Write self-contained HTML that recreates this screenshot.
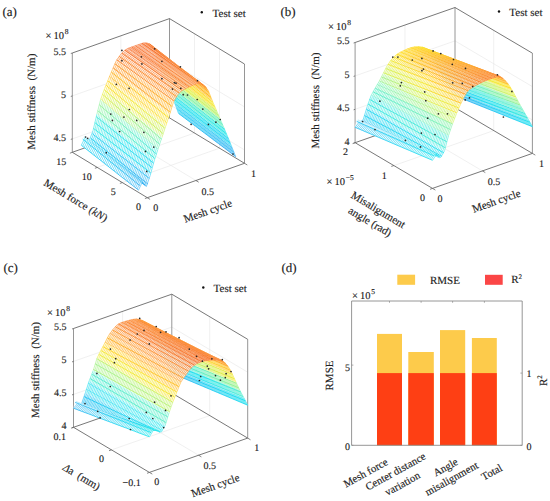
<!DOCTYPE html>
<html><head><meta charset="utf-8"><style>
html,body{margin:0;padding:0;background:#fff;width:550px;height:501px;overflow:hidden}
text{font-family:'Liberation Serif',serif;text-rendering:geometricPrecision;stroke:#262626;stroke-width:0.15px}
</style></head><body>
<svg width="550" height="501" viewBox="0 0 550 501" style="display:block;font-family:'Liberation Serif',serif;fill:#222"><rect width="550" height="501" fill="#fff"/><line x1="195.9" y1="180.5" x2="120.9" y2="135.1" stroke="#e6e6e6" stroke-width="0.6"/>
<line x1="122.3" y1="182.6" x2="219.5" y2="148.2" stroke="#e6e6e6" stroke-width="0.6"/>
<line x1="97.3" y1="167.4" x2="194.5" y2="133" stroke="#e6e6e6" stroke-width="0.6"/>
<line x1="120.9" y1="135.1" x2="120.9" y2="35.8" stroke="#e6e6e6" stroke-width="0.6"/>
<line x1="72.3" y1="138.9" x2="169.5" y2="104.5" stroke="#e6e6e6" stroke-width="0.6"/>
<line x1="244.5" y1="149.9" x2="169.5" y2="104.5" stroke="#e6e6e6" stroke-width="0.6"/>
<line x1="72.3" y1="95.9" x2="169.5" y2="61.5" stroke="#e6e6e6" stroke-width="0.6"/>
<line x1="244.5" y1="106.9" x2="169.5" y2="61.5" stroke="#e6e6e6" stroke-width="0.6"/>
<line x1="219.5" y1="148.2" x2="219.5" y2="48.9" stroke="#e6e6e6" stroke-width="0.6"/>
<line x1="194.5" y1="133" x2="194.5" y2="33.7" stroke="#e6e6e6" stroke-width="0.6"/>
<line x1="72.3" y1="152.3" x2="169.5" y2="117.9" stroke="#555" stroke-width="0.8"/>
<line x1="169.5" y1="117.9" x2="244.5" y2="163.3" stroke="#555" stroke-width="0.8"/>
<line x1="72.3" y1="152.3" x2="72.3" y2="53" stroke="#8a8a8a" stroke-width="0.9"/>
<line x1="169.5" y1="117.9" x2="169.5" y2="18.6" stroke="#8a8a8a" stroke-width="0.9"/>
<line x1="244.5" y1="163.3" x2="244.5" y2="64" stroke="#8a8a8a" stroke-width="0.9"/>
<line x1="72.3" y1="53" x2="169.5" y2="18.6" stroke="#555" stroke-width="0.8"/>
<line x1="169.5" y1="18.6" x2="244.5" y2="64" stroke="#555" stroke-width="0.8"/>
<line x1="147.3" y1="197.7" x2="244.5" y2="163.3" stroke="#555" stroke-width="0.8"/>
<line x1="147.3" y1="197.7" x2="72.3" y2="152.3" stroke="#555" stroke-width="0.8"/>
<line x1="147.3" y1="197.7" x2="150.1" y2="199.4" stroke="#555" stroke-width="0.7"/>
<line x1="195.9" y1="180.5" x2="198.7" y2="182.2" stroke="#555" stroke-width="0.7"/>
<line x1="244.5" y1="163.3" x2="247.3" y2="165" stroke="#555" stroke-width="0.7"/>
<line x1="147.3" y1="197.7" x2="144.9" y2="198.6" stroke="#555" stroke-width="0.7"/>
<line x1="122.3" y1="182.6" x2="119.9" y2="183.4" stroke="#555" stroke-width="0.7"/>
<line x1="97.3" y1="167.4" x2="94.9" y2="168.3" stroke="#555" stroke-width="0.7"/>
<line x1="72.3" y1="152.3" x2="69.9" y2="153.2" stroke="#555" stroke-width="0.7"/>
<line x1="72.3" y1="138.9" x2="70.8" y2="139.4" stroke="#555" stroke-width="0.7"/>
<line x1="72.3" y1="95.9" x2="70.8" y2="96.5" stroke="#555" stroke-width="0.7"/>
<line x1="72.3" y1="53" x2="70.8" y2="53.5" stroke="#555" stroke-width="0.7"/>
<defs><linearGradient id="g1" gradientUnits="userSpaceOnUse" x1="235.2" y1="155.4" x2="178" y2="112"><stop offset="0" stop-color="#deeffc"/><stop offset="0.5" stop-color="#dbf2fd"/><stop offset="1" stop-color="#d9f5fd"/></linearGradient><linearGradient id="h1" gradientUnits="userSpaceOnUse" x1="235.2" y1="155.4" x2="178" y2="112"><stop offset="0" stop-color="#2397ef"/><stop offset="0.5" stop-color="#13aaf0"/><stop offset="1" stop-color="#03bcf2"/></linearGradient><linearGradient id="g2" gradientUnits="userSpaceOnUse" x1="234.2" y1="152.9" x2="177" y2="109.3"><stop offset="0" stop-color="#dbf1fd"/><stop offset="0.5" stop-color="#d9f4fd"/><stop offset="1" stop-color="#d8f6fd"/></linearGradient><linearGradient id="h2" gradientUnits="userSpaceOnUse" x1="234.2" y1="152.9" x2="177" y2="109.3"><stop offset="0" stop-color="#19a3f0"/><stop offset="0.5" stop-color="#08b6f1"/><stop offset="1" stop-color="#00c5f1"/></linearGradient><linearGradient id="g3" gradientUnits="userSpaceOnUse" x1="233.3" y1="150.5" x2="176.1" y2="106.7"><stop offset="0" stop-color="#d9f2fd"/><stop offset="0.5" stop-color="#d7f5fd"/><stop offset="1" stop-color="#d7f7fd"/></linearGradient><linearGradient id="g4" gradientUnits="userSpaceOnUse" x1="232.3" y1="148.1" x2="175.1" y2="104"><stop offset="0" stop-color="#d7f4fd"/><stop offset="0.5" stop-color="#d6f6fd"/><stop offset="1" stop-color="#d6f8fc"/></linearGradient><linearGradient id="h4" gradientUnits="userSpaceOnUse" x1="233.8" y1="151.7" x2="176.6" y2="108"><stop offset="0" stop-color="#14a9f0"/><stop offset="0.5" stop-color="#03bcf2"/><stop offset="1" stop-color="#00c8f0"/></linearGradient><linearGradient id="g5" gradientUnits="userSpaceOnUse" x1="231.3" y1="145.7" x2="174.1" y2="101.4"><stop offset="0" stop-color="#d6f5fd"/><stop offset="0.5" stop-color="#d6f7fc"/><stop offset="1" stop-color="#d6f9fc"/></linearGradient><linearGradient id="g6" gradientUnits="userSpaceOnUse" x1="230.4" y1="143.3" x2="173.2" y2="98.8"><stop offset="0" stop-color="#d5f6fd"/><stop offset="0.5" stop-color="#d5f8fc"/><stop offset="1" stop-color="#d5fafc"/></linearGradient><linearGradient id="h6" gradientUnits="userSpaceOnUse" x1="230.4" y1="143.3" x2="173.2" y2="98.8"><stop offset="0" stop-color="#00caf0"/><stop offset="0.5" stop-color="#00d5ee"/><stop offset="1" stop-color="#00e0eb"/></linearGradient><linearGradient id="g7" gradientUnits="userSpaceOnUse" x1="229.4" y1="140.9" x2="172.2" y2="96.3"><stop offset="0" stop-color="#d4f7fc"/><stop offset="0.5" stop-color="#d4f9fc"/><stop offset="1" stop-color="#d7fafa"/></linearGradient><linearGradient id="g8" gradientUnits="userSpaceOnUse" x1="228.4" y1="138.5" x2="171.2" y2="93.8"><stop offset="0" stop-color="#d3f8fc"/><stop offset="0.5" stop-color="#d3fafb"/><stop offset="1" stop-color="#d9fbf8"/></linearGradient><linearGradient id="h8" gradientUnits="userSpaceOnUse" x1="229.9" y1="142.1" x2="172.7" y2="97.6"><stop offset="0" stop-color="#00cdef"/><stop offset="0.5" stop-color="#00d8ed"/><stop offset="1" stop-color="#05e2e7"/></linearGradient><linearGradient id="g9" gradientUnits="userSpaceOnUse" x1="227.4" y1="136.1" x2="170.2" y2="91.3"><stop offset="0" stop-color="#d3f9fc"/><stop offset="0.5" stop-color="#d6faf9"/><stop offset="1" stop-color="#dcfbf6"/></linearGradient><linearGradient id="g10" gradientUnits="userSpaceOnUse" x1="226.5" y1="133.8" x2="169.3" y2="88.8"><stop offset="0" stop-color="#d2fafb"/><stop offset="0.5" stop-color="#d8fbf7"/><stop offset="1" stop-color="#defcf3"/></linearGradient><linearGradient id="h10" gradientUnits="userSpaceOnUse" x1="226.5" y1="133.8" x2="169.3" y2="88.8"><stop offset="0" stop-color="#03e1e9"/><stop offset="0.5" stop-color="#24e6d4"/><stop offset="1" stop-color="#45ebbe"/></linearGradient><linearGradient id="g11" gradientUnits="userSpaceOnUse" x1="225.5" y1="131.5" x2="168.3" y2="86.4"><stop offset="0" stop-color="#d4faf9"/><stop offset="0.5" stop-color="#dbfbf5"/><stop offset="1" stop-color="#e1fcf1"/></linearGradient><linearGradient id="g12" gradientUnits="userSpaceOnUse" x1="224.5" y1="129.2" x2="167.3" y2="84.1"><stop offset="0" stop-color="#d7faf7"/><stop offset="0.5" stop-color="#ddfbf3"/><stop offset="1" stop-color="#e4fcee"/></linearGradient><linearGradient id="h12" gradientUnits="userSpaceOnUse" x1="226" y1="132.7" x2="168.8" y2="87.7"><stop offset="0" stop-color="#0be3e4"/><stop offset="0.5" stop-color="#2de8ce"/><stop offset="1" stop-color="#4eedb8"/></linearGradient><linearGradient id="g13" gradientUnits="userSpaceOnUse" x1="223.6" y1="126.9" x2="166.3" y2="81.7"><stop offset="0" stop-color="#d9fbf5"/><stop offset="0.5" stop-color="#e0fcf0"/><stop offset="1" stop-color="#e8fce8"/></linearGradient><linearGradient id="g14" gradientUnits="userSpaceOnUse" x1="222.6" y1="124.6" x2="165.4" y2="79.4"><stop offset="0" stop-color="#dcfbf2"/><stop offset="0.5" stop-color="#e3fced"/><stop offset="1" stop-color="#edfce2"/></linearGradient><linearGradient id="h14" gradientUnits="userSpaceOnUse" x1="222.6" y1="124.6" x2="165.4" y2="79.4"><stop offset="0" stop-color="#47ecbd"/><stop offset="0.5" stop-color="#6cf0a2"/><stop offset="1" stop-color="#a1f068"/></linearGradient><linearGradient id="g15" gradientUnits="userSpaceOnUse" x1="221.6" y1="122.3" x2="164.4" y2="77.2"><stop offset="0" stop-color="#dffcf0"/><stop offset="0.5" stop-color="#e8fce7"/><stop offset="1" stop-color="#f2fcdc"/></linearGradient><linearGradient id="g16" gradientUnits="userSpaceOnUse" x1="220.6" y1="120" x2="163.4" y2="74.9"><stop offset="0" stop-color="#e2fced"/><stop offset="0.5" stop-color="#ecfce2"/><stop offset="1" stop-color="#f7fcd6"/></linearGradient><linearGradient id="h16" gradientUnits="userSpaceOnUse" x1="222.1" y1="123.5" x2="164.9" y2="78.3"><stop offset="0" stop-color="#4fedb7"/><stop offset="0.5" stop-color="#79f094"/><stop offset="1" stop-color="#aef05a"/></linearGradient><linearGradient id="g17" gradientUnits="userSpaceOnUse" x1="219.7" y1="117.8" x2="162.5" y2="72.7"><stop offset="0" stop-color="#e7fce7"/><stop offset="0.5" stop-color="#f1fcdc"/><stop offset="1" stop-color="#fafbd3"/></linearGradient><linearGradient id="g18" gradientUnits="userSpaceOnUse" x1="218.7" y1="115.5" x2="161.5" y2="70.5"><stop offset="0" stop-color="#ecfce1"/><stop offset="0.5" stop-color="#f7fcd6"/><stop offset="1" stop-color="#fbfad1"/></linearGradient><linearGradient id="h18" gradientUnits="userSpaceOnUse" x1="218.7" y1="115.5" x2="161.5" y2="70.5"><stop offset="0" stop-color="#a0f069"/><stop offset="0.5" stop-color="#d4f030"/><stop offset="1" stop-color="#ede614"/></linearGradient><linearGradient id="g19" gradientUnits="userSpaceOnUse" x1="217.7" y1="113.3" x2="160.5" y2="68.2"><stop offset="0" stop-color="#f1fcdc"/><stop offset="0.5" stop-color="#f9fbd3"/><stop offset="1" stop-color="#fdf9ce"/></linearGradient><linearGradient id="g20" gradientUnits="userSpaceOnUse" x1="216.7" y1="111.1" x2="159.5" y2="66"><stop offset="0" stop-color="#f6fcd6"/><stop offset="0.5" stop-color="#fbfad0"/><stop offset="1" stop-color="#fff8cc"/></linearGradient><linearGradient id="h20" gradientUnits="userSpaceOnUse" x1="218.2" y1="114.5" x2="161" y2="69.3"><stop offset="0" stop-color="#acf05c"/><stop offset="0.5" stop-color="#deef26"/><stop offset="1" stop-color="#f2e30f"/></linearGradient><linearGradient id="g21" gradientUnits="userSpaceOnUse" x1="215.8" y1="108.9" x2="158.6" y2="63.6"><stop offset="0" stop-color="#fafcd5"/><stop offset="0.5" stop-color="#fdf9d1"/><stop offset="1" stop-color="#fff5cf"/></linearGradient><linearGradient id="g22" gradientUnits="userSpaceOnUse" x1="214.8" y1="106.7" x2="157.6" y2="61.1"><stop offset="0" stop-color="#fcfbd7"/><stop offset="0.5" stop-color="#fff8d3"/><stop offset="1" stop-color="#fff3d3"/></linearGradient><linearGradient id="h22" gradientUnits="userSpaceOnUse" x1="214.8" y1="106.7" x2="157.6" y2="61.1"><stop offset="0" stop-color="#ece716"/><stop offset="0.5" stop-color="#ffd900"/><stop offset="1" stop-color="#ffbb00"/></linearGradient><linearGradient id="g23" gradientUnits="userSpaceOnUse" x1="213.8" y1="104.5" x2="156.6" y2="58.3"><stop offset="0" stop-color="#fefad7"/><stop offset="0.5" stop-color="#fff6d6"/><stop offset="1" stop-color="#fff1d6"/></linearGradient><linearGradient id="g24" gradientUnits="userSpaceOnUse" x1="212.9" y1="102.2" x2="155.7" y2="55.5"><stop offset="0" stop-color="#fff9d8"/><stop offset="0.5" stop-color="#fff4d8"/><stop offset="1" stop-color="#fff0d8"/></linearGradient><linearGradient id="h24" gradientUnits="userSpaceOnUse" x1="214.3" y1="105.5" x2="157.1" y2="59.4"><stop offset="0" stop-color="#f1e410"/><stop offset="0.5" stop-color="#ffd100"/><stop offset="1" stop-color="#ffb200"/></linearGradient><linearGradient id="g25" gradientUnits="userSpaceOnUse" x1="211.9" y1="99.7" x2="154.7" y2="52.7"><stop offset="0" stop-color="#fff7d8"/><stop offset="0.5" stop-color="#fff2d8"/><stop offset="1" stop-color="#ffeed9"/></linearGradient><linearGradient id="g26" gradientUnits="userSpaceOnUse" x1="210.9" y1="97.2" x2="153.7" y2="50.1"><stop offset="0" stop-color="#fff4d4"/><stop offset="0.5" stop-color="#ffeed5"/><stop offset="1" stop-color="#ffead6"/></linearGradient><linearGradient id="h26" gradientUnits="userSpaceOnUse" x1="210.9" y1="97.2" x2="153.7" y2="50.1"><stop offset="0" stop-color="#ffbb00"/><stop offset="0.5" stop-color="#ff9b01"/><stop offset="1" stop-color="#fd8308"/></linearGradient><linearGradient id="g27" gradientUnits="userSpaceOnUse" x1="209.9" y1="94.7" x2="152.7" y2="47.8"><stop offset="0" stop-color="#ffefcd"/><stop offset="0.5" stop-color="#ffe9ce"/><stop offset="1" stop-color="#fee5cf"/></linearGradient><linearGradient id="g28" gradientUnits="userSpaceOnUse" x1="209" y1="92.4" x2="151.8" y2="45.9"><stop offset="0" stop-color="#ffe6bf"/><stop offset="0.5" stop-color="#fee1c0"/><stop offset="1" stop-color="#fedbc2"/></linearGradient><linearGradient id="h28" gradientUnits="userSpaceOnUse" x1="210.4" y1="96.1" x2="153.2" y2="49.6"><stop offset="0" stop-color="#ffb400"/><stop offset="0.5" stop-color="#fe9703"/><stop offset="1" stop-color="#fc7f09"/></linearGradient><linearGradient id="g29" gradientUnits="userSpaceOnUse" x1="208" y1="90.2" x2="150.8" y2="44.6"><stop offset="0" stop-color="#ffd7a0"/><stop offset="0.5" stop-color="#fecfa2"/><stop offset="1" stop-color="#fcc7a3"/></linearGradient><linearGradient id="g30" gradientUnits="userSpaceOnUse" x1="207" y1="88.5" x2="149.8" y2="44"><stop offset="0" stop-color="#fed29e"/><stop offset="0.5" stop-color="#fecba0"/><stop offset="1" stop-color="#fcc4a1"/></linearGradient><linearGradient id="g31" gradientUnits="userSpaceOnUse" x1="206.1" y1="87.2" x2="148.9" y2="43.6"><stop offset="0" stop-color="#fed09e"/><stop offset="0.5" stop-color="#fdc9a0"/><stop offset="1" stop-color="#fcc3a1"/></linearGradient><linearGradient id="h31" gradientUnits="userSpaceOnUse" x1="206.1" y1="87.2" x2="148.9" y2="43.6"><stop offset="0" stop-color="#fd8607"/><stop offset="0.5" stop-color="#fa750b"/><stop offset="1" stop-color="#f7640e"/></linearGradient><linearGradient id="g32" gradientUnits="userSpaceOnUse" x1="205.1" y1="86.3" x2="147.9" y2="43.3"><stop offset="0" stop-color="#fece9f"/><stop offset="0.5" stop-color="#fdc8a0"/><stop offset="1" stop-color="#fcc2a1"/></linearGradient><linearGradient id="h32" gradientUnits="userSpaceOnUse" x1="206.5" y1="88.6" x2="149.3" y2="44.2"><stop offset="0" stop-color="#fd8b06"/><stop offset="0.5" stop-color="#fb780b"/><stop offset="1" stop-color="#f7660d"/></linearGradient><linearGradient id="g33" gradientUnits="userSpaceOnUse" x1="204.1" y1="85.6" x2="146.9" y2="43.1"><stop offset="0" stop-color="#fecc9f"/><stop offset="0.5" stop-color="#fdc7a0"/><stop offset="1" stop-color="#fcc1a1"/></linearGradient><linearGradient id="g34" gradientUnits="userSpaceOnUse" x1="203.1" y1="84.9" x2="145.9" y2="43"><stop offset="0" stop-color="#fecba0"/><stop offset="0.5" stop-color="#fcc6a0"/><stop offset="1" stop-color="#fbc0a1"/></linearGradient><linearGradient id="h34" gradientUnits="userSpaceOnUse" x1="203.1" y1="84.9" x2="145.9" y2="43"><stop offset="0" stop-color="#fb7a0a"/><stop offset="0.5" stop-color="#f96c0c"/><stop offset="1" stop-color="#f65e0e"/></linearGradient><linearGradient id="g35" gradientUnits="userSpaceOnUse" x1="202.2" y1="84.3" x2="145" y2="42.9"><stop offset="0" stop-color="#fdcaa0"/><stop offset="0.5" stop-color="#fcc5a1"/><stop offset="1" stop-color="#fbbfa1"/></linearGradient><linearGradient id="g36" gradientUnits="userSpaceOnUse" x1="201.2" y1="83.9" x2="144" y2="43"><stop offset="0" stop-color="#fdc8a0"/><stop offset="0.5" stop-color="#fcc4a1"/><stop offset="1" stop-color="#fbbfa1"/></linearGradient><linearGradient id="h36" gradientUnits="userSpaceOnUse" x1="202.7" y1="84.8" x2="145.5" y2="43.1"><stop offset="0" stop-color="#fb780b"/><stop offset="0.5" stop-color="#f86b0d"/><stop offset="1" stop-color="#f65d0f"/></linearGradient><linearGradient id="g37" gradientUnits="userSpaceOnUse" x1="200.2" y1="83.5" x2="143" y2="43.1"><stop offset="0" stop-color="#fdc7a0"/><stop offset="0.5" stop-color="#fcc3a1"/><stop offset="1" stop-color="#fbbfa1"/></linearGradient><linearGradient id="g38" gradientUnits="userSpaceOnUse" x1="199.2" y1="83.3" x2="142.1" y2="43.4"><stop offset="0" stop-color="#fdcdac"/><stop offset="0.5" stop-color="#fccaac"/><stop offset="1" stop-color="#fcc6ad"/></linearGradient><linearGradient id="h38" gradientUnits="userSpaceOnUse" x1="199.2" y1="83.3" x2="142.1" y2="43.4"><stop offset="0" stop-color="#f96e0c"/><stop offset="0.5" stop-color="#f7640e"/><stop offset="1" stop-color="#f55a0f"/></linearGradient><linearGradient id="g39" gradientUnits="userSpaceOnUse" x1="198.3" y1="83.3" x2="141.1" y2="43.7"><stop offset="0" stop-color="#fdd1b3"/><stop offset="0.5" stop-color="#fcceb3"/><stop offset="1" stop-color="#fccbb4"/></linearGradient><linearGradient id="g40" gradientUnits="userSpaceOnUse" x1="197.3" y1="83.5" x2="140.1" y2="44.1"><stop offset="0" stop-color="#fdd5b9"/><stop offset="0.5" stop-color="#fdd2ba"/><stop offset="1" stop-color="#fccfba"/></linearGradient><linearGradient id="h40" gradientUnits="userSpaceOnUse" x1="198.8" y1="83.6" x2="141.6" y2="43.6"><stop offset="0" stop-color="#f96e0c"/><stop offset="0.5" stop-color="#f7640e"/><stop offset="1" stop-color="#f55a0f"/></linearGradient><linearGradient id="g41" gradientUnits="userSpaceOnUse" x1="196.3" y1="83.8" x2="139.1" y2="44.4"><stop offset="0" stop-color="#fdd6bb"/><stop offset="0.5" stop-color="#fdd4bc"/><stop offset="1" stop-color="#fcd1bc"/></linearGradient><linearGradient id="h41" gradientUnits="userSpaceOnUse" x1="196.3" y1="83.8" x2="139.1" y2="44.4"><stop offset="0" stop-color="#f96c0c"/><stop offset="0.5" stop-color="#f7630e"/><stop offset="1" stop-color="#f55a0f"/></linearGradient><linearGradient id="g42" gradientUnits="userSpaceOnUse" x1="195.4" y1="84.1" x2="138.2" y2="44.8"><stop offset="0" stop-color="#fdd6bc"/><stop offset="0.5" stop-color="#fdd4bc"/><stop offset="1" stop-color="#fcd1bd"/></linearGradient><linearGradient id="g43" gradientUnits="userSpaceOnUse" x1="194.4" y1="84.5" x2="137.2" y2="45.1"><stop offset="0" stop-color="#fdd7bc"/><stop offset="0.5" stop-color="#fdd4bd"/><stop offset="1" stop-color="#fcd2bd"/></linearGradient><linearGradient id="g44" gradientUnits="userSpaceOnUse" x1="193.4" y1="84.9" x2="136.2" y2="45.5"><stop offset="0" stop-color="#fdd7bd"/><stop offset="0.5" stop-color="#fdd4bd"/><stop offset="1" stop-color="#fcd2bd"/></linearGradient><linearGradient id="h44" gradientUnits="userSpaceOnUse" x1="194.9" y1="84.4" x2="137.7" y2="44.9"><stop offset="0" stop-color="#f96c0c"/><stop offset="0.5" stop-color="#f7630e"/><stop offset="1" stop-color="#f55a0f"/></linearGradient><linearGradient id="g45" gradientUnits="userSpaceOnUse" x1="192.4" y1="85.3" x2="135.2" y2="45.8"><stop offset="0" stop-color="#fdd7bd"/><stop offset="0.5" stop-color="#fdd5be"/><stop offset="1" stop-color="#fcd2be"/></linearGradient><linearGradient id="h45" gradientUnits="userSpaceOnUse" x1="192.4" y1="85.3" x2="135.2" y2="45.8"><stop offset="0" stop-color="#f96d0c"/><stop offset="0.5" stop-color="#f7630e"/><stop offset="1" stop-color="#f55a0f"/></linearGradient><linearGradient id="g46" gradientUnits="userSpaceOnUse" x1="191.5" y1="85.7" x2="134.3" y2="46.1"><stop offset="0" stop-color="#fdd8be"/><stop offset="0.5" stop-color="#fdd5be"/><stop offset="1" stop-color="#fcd3be"/></linearGradient><linearGradient id="g47" gradientUnits="userSpaceOnUse" x1="190.5" y1="86.2" x2="133.3" y2="46.5"><stop offset="0" stop-color="#fdd8be"/><stop offset="0.5" stop-color="#fdd5be"/><stop offset="1" stop-color="#fcd3bf"/></linearGradient><linearGradient id="g48" gradientUnits="userSpaceOnUse" x1="189.5" y1="86.6" x2="132.3" y2="46.8"><stop offset="0" stop-color="#fdd8be"/><stop offset="0.5" stop-color="#fdd6bf"/><stop offset="1" stop-color="#fcd3bf"/></linearGradient><linearGradient id="h48" gradientUnits="userSpaceOnUse" x1="191" y1="86" x2="133.8" y2="46.3"><stop offset="0" stop-color="#f96d0c"/><stop offset="0.5" stop-color="#f7640e"/><stop offset="1" stop-color="#f55a0f"/></linearGradient><linearGradient id="g49" gradientUnits="userSpaceOnUse" x1="188.6" y1="87.1" x2="131.4" y2="47.2"><stop offset="0" stop-color="#fdd9bf"/><stop offset="0.5" stop-color="#fdd6bf"/><stop offset="1" stop-color="#fcd3c0"/></linearGradient><linearGradient id="h49" gradientUnits="userSpaceOnUse" x1="188.6" y1="87.1" x2="131.4" y2="47.2"><stop offset="0" stop-color="#f96e0c"/><stop offset="0.5" stop-color="#f7640e"/><stop offset="1" stop-color="#f55a0f"/></linearGradient><linearGradient id="g50" gradientUnits="userSpaceOnUse" x1="187.6" y1="87.5" x2="130.4" y2="47.5"><stop offset="0" stop-color="#fdd9bf"/><stop offset="0.5" stop-color="#fdd6c0"/><stop offset="1" stop-color="#fcd4c0"/></linearGradient><linearGradient id="g51" gradientUnits="userSpaceOnUse" x1="186.6" y1="88" x2="129.4" y2="47.9"><stop offset="0" stop-color="#fddac0"/><stop offset="0.5" stop-color="#fdd7c0"/><stop offset="1" stop-color="#fcd4c1"/></linearGradient><linearGradient id="g52" gradientUnits="userSpaceOnUse" x1="185.6" y1="88.5" x2="128.4" y2="48.2"><stop offset="0" stop-color="#fedac0"/><stop offset="0.5" stop-color="#fdd7c1"/><stop offset="1" stop-color="#fcd4c1"/></linearGradient><linearGradient id="h52" gradientUnits="userSpaceOnUse" x1="187.1" y1="87.8" x2="129.9" y2="47.7"><stop offset="0" stop-color="#f96f0c"/><stop offset="0.5" stop-color="#f7640e"/><stop offset="1" stop-color="#f55a0f"/></linearGradient><linearGradient id="g53" gradientUnits="userSpaceOnUse" x1="184.7" y1="89" x2="127.5" y2="48.6"><stop offset="0" stop-color="#fedbc1"/><stop offset="0.5" stop-color="#fdd8c2"/><stop offset="1" stop-color="#fcd5c2"/></linearGradient><linearGradient id="g54" gradientUnits="userSpaceOnUse" x1="183.7" y1="89.5" x2="126.5" y2="49"><stop offset="0" stop-color="#feddc5"/><stop offset="0.5" stop-color="#fddbc6"/><stop offset="1" stop-color="#fdd8c6"/></linearGradient><linearGradient id="g55" gradientUnits="userSpaceOnUse" x1="182.7" y1="90.1" x2="125.5" y2="49.6"><stop offset="0" stop-color="#fee0c9"/><stop offset="0.5" stop-color="#fdddc9"/><stop offset="1" stop-color="#fddbca"/></linearGradient><linearGradient id="g56" gradientUnits="userSpaceOnUse" x1="181.8" y1="90.6" x2="124.6" y2="50.4"><stop offset="0" stop-color="#fee2cc"/><stop offset="0.5" stop-color="#fddfcc"/><stop offset="1" stop-color="#fdddcd"/></linearGradient><linearGradient id="h56" gradientUnits="userSpaceOnUse" x1="183.2" y1="89.8" x2="126" y2="49.6"><stop offset="0" stop-color="#fa710c"/><stop offset="0.5" stop-color="#f7660d"/><stop offset="1" stop-color="#f55b0f"/></linearGradient><linearGradient id="g57" gradientUnits="userSpaceOnUse" x1="180.8" y1="91.3" x2="123.6" y2="51.3"><stop offset="0" stop-color="#fee5d1"/><stop offset="0.5" stop-color="#fee3d1"/><stop offset="1" stop-color="#fde1d2"/></linearGradient><linearGradient id="g58" gradientUnits="userSpaceOnUse" x1="179.8" y1="92.2" x2="122.6" y2="52.3"><stop offset="0" stop-color="#fee8d6"/><stop offset="0.5" stop-color="#fee6d6"/><stop offset="1" stop-color="#fee4d6"/></linearGradient><linearGradient id="g59" gradientUnits="userSpaceOnUse" x1="178.8" y1="93.2" x2="121.6" y2="53.4"><stop offset="0" stop-color="#feead9"/><stop offset="0.5" stop-color="#fee9d9"/><stop offset="1" stop-color="#fee7d9"/></linearGradient><linearGradient id="h59" gradientUnits="userSpaceOnUse" x1="178.8" y1="93.2" x2="121.6" y2="53.4"><stop offset="0" stop-color="#fb780b"/><stop offset="0.5" stop-color="#f96e0c"/><stop offset="1" stop-color="#f7650d"/></linearGradient><linearGradient id="g60" gradientUnits="userSpaceOnUse" x1="177.9" y1="94.4" x2="120.7" y2="54.5"><stop offset="0" stop-color="#ffecdc"/><stop offset="0.5" stop-color="#feebdc"/><stop offset="1" stop-color="#fee9dc"/></linearGradient><linearGradient id="h60" gradientUnits="userSpaceOnUse" x1="179.3" y1="93" x2="122.1" y2="53"><stop offset="0" stop-color="#fb780b"/><stop offset="0.5" stop-color="#f96d0c"/><stop offset="1" stop-color="#f7630e"/></linearGradient><linearGradient id="g61" gradientUnits="userSpaceOnUse" x1="176.9" y1="95.8" x2="119.7" y2="55.8"><stop offset="0" stop-color="#ffeede"/><stop offset="0.5" stop-color="#feecde"/><stop offset="1" stop-color="#feebde"/></linearGradient><linearGradient id="g62" gradientUnits="userSpaceOnUse" x1="175.9" y1="97.2" x2="118.7" y2="57"><stop offset="0" stop-color="#ffefdf"/><stop offset="0.5" stop-color="#ffeedf"/><stop offset="1" stop-color="#feece0"/></linearGradient><linearGradient id="h62" gradientUnits="userSpaceOnUse" x1="175.9" y1="97.2" x2="118.7" y2="57"><stop offset="0" stop-color="#fd8408"/><stop offset="0.5" stop-color="#fb790b"/><stop offset="1" stop-color="#f96f0c"/></linearGradient><linearGradient id="g63" gradientUnits="userSpaceOnUse" x1="174.9" y1="98.8" x2="117.7" y2="58.3"><stop offset="0" stop-color="#fff1e1"/><stop offset="0.5" stop-color="#fff0e2"/><stop offset="1" stop-color="#feeee2"/></linearGradient><linearGradient id="g64" gradientUnits="userSpaceOnUse" x1="174" y1="100.8" x2="116.8" y2="59.9"><stop offset="0" stop-color="#fff5e9"/><stop offset="0.5" stop-color="#fff4ea"/><stop offset="1" stop-color="#fff3ea"/></linearGradient><linearGradient id="h64" gradientUnits="userSpaceOnUse" x1="175.4" y1="98.5" x2="118.2" y2="57.9"><stop offset="0" stop-color="#fd8707"/><stop offset="0.5" stop-color="#fc7c0a"/><stop offset="1" stop-color="#fa710c"/></linearGradient><linearGradient id="g65" gradientUnits="userSpaceOnUse" x1="173" y1="103.4" x2="115.8" y2="61.7"><stop offset="0" stop-color="#fff9ef"/><stop offset="0.5" stop-color="#fff8f0"/><stop offset="1" stop-color="#fff7f0"/></linearGradient><linearGradient id="g66" gradientUnits="userSpaceOnUse" x1="172" y1="106.4" x2="114.8" y2="63.8"><stop offset="0" stop-color="#fffbf3"/><stop offset="0.5" stop-color="#fffaf3"/><stop offset="1" stop-color="#fff9f3"/></linearGradient><linearGradient id="h66" gradientUnits="userSpaceOnUse" x1="172" y1="106.4" x2="114.8" y2="63.8"><stop offset="0" stop-color="#ffa200"/><stop offset="0.5" stop-color="#fe9204"/><stop offset="1" stop-color="#fd8308"/></linearGradient><linearGradient id="g67" gradientUnits="userSpaceOnUse" x1="171.1" y1="109.6" x2="113.9" y2="66"><stop offset="0" stop-color="#fffcf4"/><stop offset="0.5" stop-color="#fffbf4"/><stop offset="1" stop-color="#fffaf5"/></linearGradient><linearGradient id="g68" gradientUnits="userSpaceOnUse" x1="170.1" y1="112.9" x2="112.9" y2="68.3"><stop offset="0" stop-color="#fffcf4"/><stop offset="0.5" stop-color="#fffbf4"/><stop offset="1" stop-color="#fffaf5"/></linearGradient><linearGradient id="h68" gradientUnits="userSpaceOnUse" x1="171.5" y1="108.2" x2="114.3" y2="65.1"><stop offset="0" stop-color="#ffab00"/><stop offset="0.5" stop-color="#fe9702"/><stop offset="1" stop-color="#fd8707"/></linearGradient><linearGradient id="g69" gradientUnits="userSpaceOnUse" x1="169.1" y1="116" x2="111.9" y2="70.8"><stop offset="0" stop-color="#fffdf3"/><stop offset="0.5" stop-color="#fffcf3"/><stop offset="1" stop-color="#fffaf3"/></linearGradient><linearGradient id="g70" gradientUnits="userSpaceOnUse" x1="168.1" y1="118.9" x2="110.9" y2="73.2"><stop offset="0" stop-color="#fffdf3"/><stop offset="0.5" stop-color="#fffcf3"/><stop offset="1" stop-color="#fffbf3"/></linearGradient><linearGradient id="h70" gradientUnits="userSpaceOnUse" x1="168.1" y1="118.9" x2="110.9" y2="73.2"><stop offset="0" stop-color="#fddd03"/><stop offset="0.5" stop-color="#ffc100"/><stop offset="1" stop-color="#ffa300"/></linearGradient><linearGradient id="g71" gradientUnits="userSpaceOnUse" x1="167.2" y1="121.8" x2="110" y2="75.6"><stop offset="0" stop-color="#fefef4"/><stop offset="0.5" stop-color="#fffdf3"/><stop offset="1" stop-color="#fffbf3"/></linearGradient><linearGradient id="h71" gradientUnits="userSpaceOnUse" x1="167.2" y1="121.8" x2="110" y2="75.6"><stop offset="0" stop-color="#f3e30e"/><stop offset="0.5" stop-color="#ffce00"/><stop offset="1" stop-color="#ffae00"/></linearGradient><linearGradient id="g72" gradientUnits="userSpaceOnUse" x1="166.2" y1="124.7" x2="109" y2="78"><stop offset="0" stop-color="#fefef4"/><stop offset="0.5" stop-color="#fffdf3"/><stop offset="1" stop-color="#fffcf3"/></linearGradient><linearGradient id="h72" gradientUnits="userSpaceOnUse" x1="167.7" y1="120.3" x2="110.5" y2="74.3"><stop offset="0" stop-color="#f8e008"/><stop offset="0.5" stop-color="#ffc700"/><stop offset="1" stop-color="#ffa800"/></linearGradient><linearGradient id="g73" gradientUnits="userSpaceOnUse" x1="165.2" y1="127.6" x2="108" y2="80.3"><stop offset="0" stop-color="#fdfef5"/><stop offset="0.5" stop-color="#fffef3"/><stop offset="1" stop-color="#fffcf3"/></linearGradient><linearGradient id="h73" gradientUnits="userSpaceOnUse" x1="165.2" y1="127.6" x2="108" y2="80.3"><stop offset="0" stop-color="#dfee24"/><stop offset="0.5" stop-color="#f8e008"/><stop offset="1" stop-color="#ffc400"/></linearGradient><linearGradient id="g74" gradientUnits="userSpaceOnUse" x1="164.3" y1="130.5" x2="107.1" y2="82.6"><stop offset="0" stop-color="#fdfef6"/><stop offset="0.5" stop-color="#fefef4"/><stop offset="1" stop-color="#fffdf3"/></linearGradient><linearGradient id="g75" gradientUnits="userSpaceOnUse" x1="163.3" y1="133.4" x2="106.1" y2="85"><stop offset="0" stop-color="#fbfef7"/><stop offset="0.5" stop-color="#fefef5"/><stop offset="1" stop-color="#fffdf3"/></linearGradient><linearGradient id="h75" gradientUnits="userSpaceOnUse" x1="163.3" y1="133.4" x2="106.1" y2="85"><stop offset="0" stop-color="#b1f057"/><stop offset="0.5" stop-color="#e6ea1c"/><stop offset="1" stop-color="#ffda00"/></linearGradient><linearGradient id="g76" gradientUnits="userSpaceOnUse" x1="162.3" y1="136.4" x2="105.1" y2="87.4"><stop offset="0" stop-color="#fafef9"/><stop offset="0.5" stop-color="#fefef6"/><stop offset="1" stop-color="#fffef4"/></linearGradient><linearGradient id="h76" gradientUnits="userSpaceOnUse" x1="163.8" y1="132" x2="106.6" y2="83.9"><stop offset="0" stop-color="#bef049"/><stop offset="0.5" stop-color="#eae817"/><stop offset="1" stop-color="#ffd400"/></linearGradient><linearGradient id="g77" gradientUnits="userSpaceOnUse" x1="161.3" y1="139.3" x2="104.1" y2="89.8"><stop offset="0" stop-color="#fafefa"/><stop offset="0.5" stop-color="#fdfef7"/><stop offset="1" stop-color="#fefef5"/></linearGradient><linearGradient id="h77" gradientUnits="userSpaceOnUse" x1="161.3" y1="139.3" x2="104.1" y2="89.8"><stop offset="0" stop-color="#7df08f"/><stop offset="0.5" stop-color="#c8f03e"/><stop offset="1" stop-color="#f1e410"/></linearGradient><linearGradient id="g78" gradientUnits="userSpaceOnUse" x1="160.4" y1="142.2" x2="103.2" y2="92.4"><stop offset="0" stop-color="#f9fefc"/><stop offset="0.5" stop-color="#fcfef8"/><stop offset="1" stop-color="#fefef6"/></linearGradient><linearGradient id="g79" gradientUnits="userSpaceOnUse" x1="159.4" y1="145.1" x2="102.2" y2="95.1"><stop offset="0" stop-color="#f9fefc"/><stop offset="0.5" stop-color="#fbfefa"/><stop offset="1" stop-color="#fefef7"/></linearGradient><linearGradient id="h79" gradientUnits="userSpaceOnUse" x1="159.4" y1="145.1" x2="102.2" y2="95.1"><stop offset="0" stop-color="#53edb5"/><stop offset="0.5" stop-color="#97f073"/><stop offset="1" stop-color="#dfee25"/></linearGradient><linearGradient id="g80" gradientUnits="userSpaceOnUse" x1="158.4" y1="148" x2="101.2" y2="98"><stop offset="0" stop-color="#f9fefd"/><stop offset="0.5" stop-color="#fbfefb"/><stop offset="1" stop-color="#fdfef8"/></linearGradient><linearGradient id="h80" gradientUnits="userSpaceOnUse" x1="159.9" y1="143.6" x2="102.7" y2="94"><stop offset="0" stop-color="#5befb0"/><stop offset="0.5" stop-color="#a3f066"/><stop offset="1" stop-color="#e3ec20"/></linearGradient><linearGradient id="g81" gradientUnits="userSpaceOnUse" x1="157.5" y1="150.9" x2="100.3" y2="101"><stop offset="0" stop-color="#f9fefd"/><stop offset="0.5" stop-color="#fafffd"/><stop offset="1" stop-color="#fdfffa"/></linearGradient><linearGradient id="g82" gradientUnits="userSpaceOnUse" x1="156.5" y1="153.8" x2="99.3" y2="104.4"><stop offset="0" stop-color="#fafefe"/><stop offset="0.5" stop-color="#fbfffd"/><stop offset="1" stop-color="#fdfffc"/></linearGradient><linearGradient id="h82" gradientUnits="userSpaceOnUse" x1="156.5" y1="153.8" x2="99.3" y2="104.4"><stop offset="0" stop-color="#22e6d5"/><stop offset="0.5" stop-color="#51edb6"/><stop offset="1" stop-color="#90f07a"/></linearGradient><linearGradient id="g83" gradientUnits="userSpaceOnUse" x1="155.5" y1="156.7" x2="98.3" y2="108.2"><stop offset="0" stop-color="#fbfffe"/><stop offset="0.5" stop-color="#fcfffe"/><stop offset="1" stop-color="#fdfffd"/></linearGradient><linearGradient id="g84" gradientUnits="userSpaceOnUse" x1="154.5" y1="159.6" x2="97.3" y2="112.2"><stop offset="0" stop-color="#fbffff"/><stop offset="0.5" stop-color="#fcfffe"/><stop offset="1" stop-color="#fcfffe"/></linearGradient><linearGradient id="h84" gradientUnits="userSpaceOnUse" x1="156" y1="155.3" x2="98.8" y2="106.8"><stop offset="0" stop-color="#19e5da"/><stop offset="0.5" stop-color="#47ecbd"/><stop offset="1" stop-color="#7df08f"/></linearGradient><linearGradient id="g85" gradientUnits="userSpaceOnUse" x1="153.6" y1="162.6" x2="96.4" y2="116.1"><stop offset="0" stop-color="#fbfeff"/><stop offset="0.5" stop-color="#fbfffe"/><stop offset="1" stop-color="#fcfffe"/></linearGradient><linearGradient id="h85" gradientUnits="userSpaceOnUse" x1="153.6" y1="162.6" x2="96.4" y2="116.1"><stop offset="0" stop-color="#00dbec"/><stop offset="0.5" stop-color="#16e4dd"/><stop offset="1" stop-color="#3ceac4"/></linearGradient><linearGradient id="g86" gradientUnits="userSpaceOnUse" x1="152.6" y1="165.7" x2="95.4" y2="120.1"><stop offset="0" stop-color="#fcffff"/><stop offset="0.5" stop-color="#fcffff"/><stop offset="1" stop-color="#fcfffe"/></linearGradient><linearGradient id="g87" gradientUnits="userSpaceOnUse" x1="151.6" y1="169.2" x2="94.4" y2="124.3"><stop offset="0" stop-color="#ffffff"/><stop offset="0.5" stop-color="#ffffff"/><stop offset="1" stop-color="#ffffff"/></linearGradient><linearGradient id="h87" gradientUnits="userSpaceOnUse" x1="151.6" y1="169.2" x2="94.4" y2="124.3"><stop offset="0" stop-color="#00ceef"/><stop offset="0.5" stop-color="#00d9ed"/><stop offset="1" stop-color="#0be3e4"/></linearGradient><linearGradient id="g88" gradientUnits="userSpaceOnUse" x1="150.6" y1="173.2" x2="93.4" y2="128.7"><stop offset="0" stop-color="#ffffff"/><stop offset="0.5" stop-color="#ffffff"/><stop offset="1" stop-color="#ffffff"/></linearGradient><linearGradient id="h88" gradientUnits="userSpaceOnUse" x1="152.1" y1="168.2" x2="94.9" y2="122.5"><stop offset="0" stop-color="#00d1ee"/><stop offset="0.5" stop-color="#00ddec"/><stop offset="1" stop-color="#17e4dc"/></linearGradient><linearGradient id="g89" gradientUnits="userSpaceOnUse" x1="149.7" y1="177.4" x2="92.5" y2="132.7"><stop offset="0" stop-color="#ffffff"/><stop offset="0.5" stop-color="#ffffff"/><stop offset="1" stop-color="#ffffff"/></linearGradient><linearGradient id="h89" gradientUnits="userSpaceOnUse" x1="149.7" y1="177.4" x2="92.5" y2="132.7"><stop offset="0" stop-color="#05baf2"/><stop offset="0.5" stop-color="#00c8f0"/><stop offset="1" stop-color="#00d4ee"/></linearGradient><linearGradient id="g90" gradientUnits="userSpaceOnUse" x1="148.7" y1="181.3" x2="91.5" y2="136.1"><stop offset="0" stop-color="#f9fdff"/><stop offset="0.5" stop-color="#f9fdff"/><stop offset="1" stop-color="#f9feff"/></linearGradient><linearGradient id="g91" gradientUnits="userSpaceOnUse" x1="147.7" y1="184.3" x2="90.5" y2="138.4"><stop offset="0" stop-color="#eff8fe"/><stop offset="0.5" stop-color="#edfafe"/><stop offset="1" stop-color="#edfbfe"/></linearGradient><linearGradient id="h91" gradientUnits="userSpaceOnUse" x1="147.7" y1="184.3" x2="90.5" y2="138.4"><stop offset="0" stop-color="#1ca0ef"/><stop offset="0.5" stop-color="#07b8f1"/><stop offset="1" stop-color="#00c8f0"/></linearGradient><linearGradient id="g92" gradientUnits="userSpaceOnUse" x1="146.8" y1="186" x2="89.6" y2="140.1"><stop offset="0" stop-color="#e0f1fd"/><stop offset="0.5" stop-color="#ddf4fd"/><stop offset="1" stop-color="#dbf7fd"/></linearGradient><linearGradient id="h92" gradientUnits="userSpaceOnUse" x1="148.2" y1="180.9" x2="91" y2="135.8"><stop offset="0" stop-color="#14a9f0"/><stop offset="0.5" stop-color="#00c0f2"/><stop offset="1" stop-color="#00ccef"/></linearGradient><linearGradient id="g93" gradientUnits="userSpaceOnUse" x1="145.8" y1="186.1" x2="88.6" y2="141.3"><stop offset="0" stop-color="#b7dffa"/><stop offset="0.5" stop-color="#b1e6fa"/><stop offset="1" stop-color="#adecfb"/></linearGradient><linearGradient id="g94" gradientUnits="userSpaceOnUse" x1="144.8" y1="184.8" x2="87.6" y2="141.9"><stop offset="0" stop-color="#a5dbf9"/><stop offset="0.5" stop-color="#a0e2fa"/><stop offset="1" stop-color="#9ce8fa"/></linearGradient><linearGradient id="h94" gradientUnits="userSpaceOnUse" x1="144.8" y1="184.8" x2="87.6" y2="141.9"><stop offset="0" stop-color="#19a2ef"/><stop offset="0.5" stop-color="#0ab4f1"/><stop offset="1" stop-color="#00c3f1"/></linearGradient><linearGradient id="g95" gradientUnits="userSpaceOnUse" x1="143.8" y1="183.1" x2="86.6" y2="140.9"><stop offset="0" stop-color="#c0e9fb"/><stop offset="0.5" stop-color="#bcedfb"/><stop offset="1" stop-color="#bbf0fb"/></linearGradient><linearGradient id="g96" gradientUnits="userSpaceOnUse" x1="142.9" y1="182.1" x2="85.7" y2="138.7"><stop offset="0" stop-color="#a4e1fa"/><stop offset="0.5" stop-color="#9fe8fa"/><stop offset="1" stop-color="#9fecf9"/></linearGradient><linearGradient id="h96" gradientUnits="userSpaceOnUse" x1="144.3" y1="184.2" x2="87.1" y2="139.1"><stop offset="0" stop-color="#16a6f0"/><stop offset="0.5" stop-color="#06b9f1"/><stop offset="1" stop-color="#00c7f1"/></linearGradient><linearGradient id="g97" gradientUnits="userSpaceOnUse" x1="141.9" y1="182.3" x2="84.7" y2="137"><stop offset="0" stop-color="#a4e2fa"/><stop offset="0.5" stop-color="#9fe9fa"/><stop offset="1" stop-color="#9fedf9"/></linearGradient><linearGradient id="g98" gradientUnits="userSpaceOnUse" x1="140.9" y1="183.6" x2="83.7" y2="137.1"><stop offset="0" stop-color="#e4f6fd"/><stop offset="0.5" stop-color="#e2f8fd"/><stop offset="1" stop-color="#e2fafd"/></linearGradient><linearGradient id="g99" gradientUnits="userSpaceOnUse" x1="140" y1="185.7" x2="82.8" y2="139.3"><stop offset="0" stop-color="#f5fbfe"/><stop offset="0.5" stop-color="#f4fcfe"/><stop offset="1" stop-color="#f4fdfe"/></linearGradient><linearGradient id="h99" gradientUnits="userSpaceOnUse" x1="140" y1="185.7" x2="82.8" y2="139.3"><stop offset="0" stop-color="#16a6f0"/><stop offset="0.5" stop-color="#01bff2"/><stop offset="1" stop-color="#00cdef"/></linearGradient><linearGradient id="g100" gradientUnits="userSpaceOnUse" x1="139" y1="188.5" x2="81.8" y2="143"><stop offset="0" stop-color="#fefeff"/><stop offset="0.5" stop-color="#feffff"/><stop offset="1" stop-color="#feffff"/></linearGradient><linearGradient id="h100" gradientUnits="userSpaceOnUse" x1="140.4" y1="186" x2="83.2" y2="141.3"><stop offset="0" stop-color="#15a7f0"/><stop offset="0.5" stop-color="#01bef2"/><stop offset="1" stop-color="#00ccf0"/></linearGradient></defs>
<path d="M234.7 154.1L229 149.8L223.3 145.4L217.6 141.1L211.8 136.8L206.1 132.4L200.4 128.1L194.7 123.7L189 119.4L183.2 115L177.5 110.7L178.5 113.4L184.2 117.7L189.9 122L195.7 126.3L201.4 130.7L207.1 135L212.8 139.3L218.5 143.6L224.3 148L230 152.3L235.7 156.6Z" fill="url(#g1)" stroke="url(#g1)" stroke-width="0.3"/>
<path d="M235.7 156.6L230 152.3L224.3 148L218.5 143.6L212.8 139.3L207.1 135L201.4 130.7L195.7 126.3L189.9 122L184.2 117.7L178.5 113.4" fill="none" stroke="url(#h1)" stroke-width="0.7"/>
<path d="M233.8 151.7L228 147.3L222.3 143L216.6 138.6L210.9 134.2L205.2 129.8L199.4 125.5L193.7 121.1L188 116.7L182.3 112.4L176.6 108L177.5 110.7L183.2 115L189 119.4L194.7 123.7L200.4 128.1L206.1 132.4L211.8 136.8L217.6 141.1L223.3 145.4L229 149.8L234.7 154.1Z" fill="url(#g2)" stroke="url(#g2)" stroke-width="0.3"/>
<path d="M233.9 152L228.2 147.6L222.4 143.3L216.7 138.9L211 134.5L205.3 130.2L199.6 125.8L193.8 121.4L188.1 117.1L182.4 112.7L176.7 108.3" fill="none" stroke="url(#h2)" stroke-width="0.7"/>
<path d="M232.8 149.3L227.1 144.9L221.3 140.5L215.6 136.1L209.9 131.7L204.2 127.3L198.5 122.9L192.7 118.5L187 114.1L181.3 109.7L175.6 105.3L176.6 108L182.3 112.4L188 116.7L193.7 121.1L199.4 125.5L205.2 129.8L210.9 134.2L216.6 138.6L222.3 143L228 147.3L233.8 151.7Z" fill="url(#g3)" stroke="url(#g3)" stroke-width="0.3"/>
<path d="M231.8 146.9L226.1 142.4L220.4 138L214.7 133.6L208.9 129.2L203.2 124.8L197.5 120.4L191.8 116L186.1 111.5L180.3 107.1L174.6 102.7L175.6 105.3L181.3 109.7L187 114.1L192.7 118.5L198.5 122.9L204.2 127.3L209.9 131.7L215.6 136.1L221.3 140.5L227.1 144.9L232.8 149.3Z" fill="url(#g4)" stroke="url(#g4)" stroke-width="0.3"/>
<path d="M231.8 146.9L235.7 156.6M230.4 145.7L234.3 155.5M229 144.6L232.8 154.4M227.5 143.5L231.4 153.4M226.1 142.4L230 152.3M224.7 141.3L228.5 151.2M223.2 140.2L227.1 150.1M221.8 139.1L225.7 149M220.4 138L224.3 148M218.9 136.9L222.8 146.9M217.5 135.8L221.4 145.8M216.1 134.7L220 144.7M214.7 133.6L218.5 143.6M213.2 132.5L217.1 142.6M211.8 131.4L215.7 141.5M210.4 130.3L214.2 140.4M208.9 129.2L212.8 139.3M207.5 128.1L211.4 138.2M206.1 127L210 137.2M204.6 125.9L208.5 136.1M203.2 124.8L207.1 135M201.8 123.7L205.7 133.9M200.4 122.6L204.2 132.8M198.9 121.5L202.8 131.8M197.5 120.4L201.4 130.7M196.1 119.3L199.9 129.6M194.6 118.2L198.5 128.5M193.2 117.1L197.1 127.4M191.8 116L195.7 126.3M190.3 114.8L194.2 125.3M188.9 113.7L192.8 124.2M187.5 112.6L191.4 123.1M186.1 111.5L189.9 122M184.6 110.4L188.5 120.9M183.2 109.3L187.1 119.9M181.8 108.2L185.7 118.8M180.3 107.1L184.2 117.7M178.9 106L182.8 116.6M177.5 104.9L181.4 115.5M176 103.8L179.9 114.5M174.6 102.7L178.5 113.4" fill="none" stroke="url(#h4)" stroke-width="0.5"/>
<path d="M232 147.4L226.3 143L220.6 138.6L214.9 134.2L209.2 129.8L203.4 125.4L197.7 121L192 116.6L186.3 112.2L180.6 107.7L174.8 103.3" fill="none" stroke="url(#h4)" stroke-width="0.7"/>
<path d="M230.8 144.4L225.1 140L219.4 135.6L213.7 131.1L208 126.7L202.2 122.3L196.5 117.8L190.8 113.4L185.1 109L179.4 104.5L173.6 100.1L174.6 102.7L180.3 107.1L186.1 111.5L191.8 116L197.5 120.4L203.2 124.8L208.9 129.2L214.7 133.6L220.4 138L226.1 142.4L231.8 146.9Z" fill="url(#g5)" stroke="url(#g5)" stroke-width="0.3"/>
<path d="M229.9 142.1L224.1 137.6L218.4 133.2L212.7 128.7L207 124.3L201.3 119.8L195.5 115.4L189.8 110.9L184.1 106.5L178.4 102L172.7 97.6L173.6 100.1L179.4 104.5L185.1 109L190.8 113.4L196.5 117.8L202.2 122.3L208 126.7L213.7 131.1L219.4 135.6L225.1 140L230.8 144.4Z" fill="url(#g6)" stroke="url(#g6)" stroke-width="0.3"/>
<path d="M230.2 142.8L224.5 138.4L218.7 133.9L213 129.5L207.3 125.1L201.6 120.6L195.9 116.2L190.1 111.7L184.4 107.3L178.7 102.8L173 98.4" fill="none" stroke="url(#h6)" stroke-width="0.7"/>
<path d="M228.9 139.7L223.2 135.2L217.5 130.8L211.7 126.3L206 121.8L200.3 117.4L194.6 112.9L188.9 108.4L183.1 104L177.4 99.5L171.7 95L172.7 97.6L178.4 102L184.1 106.5L189.8 110.9L195.5 115.4L201.3 119.8L207 124.3L212.7 128.7L218.4 133.2L224.1 137.6L229.9 142.1Z" fill="url(#g7)" stroke="url(#g7)" stroke-width="0.3"/>
<path d="M227.9 137.3L222.2 132.8L216.5 128.4L210.8 123.9L205 119.4L199.3 114.9L193.6 110.4L187.9 106L182.2 101.5L176.4 97L170.7 92.5L171.7 95L177.4 99.5L183.1 104L188.9 108.4L194.6 112.9L200.3 117.4L206 121.8L211.7 126.3L217.5 130.8L223.2 135.2L228.9 139.7Z" fill="url(#g8)" stroke="url(#g8)" stroke-width="0.3"/>
<path d="M227.9 137.3L231.8 146.9M226.5 136.2L230.4 145.7M225.1 135.1L229 144.6M223.6 134L227.5 143.5M222.2 132.8L226.1 142.4M220.8 131.7L224.7 141.3M219.3 130.6L223.2 140.2M217.9 129.5L221.8 139.1M216.5 128.4L220.4 138M215.1 127.2L218.9 136.9M213.6 126.1L217.5 135.8M212.2 125L216.1 134.7M210.8 123.9L214.7 133.6M209.3 122.8L213.2 132.5M207.9 121.6L211.8 131.4M206.5 120.5L210.4 130.3M205 119.4L208.9 129.2M203.6 118.3L207.5 128.1M202.2 117.2L206.1 127M200.8 116L204.6 125.9M199.3 114.9L203.2 124.8M197.9 113.8L201.8 123.7M196.5 112.7L200.4 122.6M195 111.6L198.9 121.5M193.6 110.4L197.5 120.4M192.2 109.3L196.1 119.3M190.7 108.2L194.6 118.2M189.3 107.1L193.2 117.1M187.9 106L191.8 116M186.5 104.8L190.3 114.8M185 103.7L188.9 113.7M183.6 102.6L187.5 112.6M182.2 101.5L186.1 111.5M180.7 100.4L184.6 110.4M179.3 99.2L183.2 109.3M177.9 98.1L181.8 108.2M176.4 97L180.3 107.1M175 95.9L178.9 106M173.6 94.8L177.5 104.9M172.2 93.6L176 103.8M170.7 92.5L174.6 102.7" fill="none" stroke="url(#h8)" stroke-width="0.5"/>
<path d="M228.3 138.2L222.6 133.8L216.9 129.3L211.1 124.8L205.4 120.3L199.7 115.9L194 111.4L188.3 106.9L182.5 102.4L176.8 98L171.1 93.5" fill="none" stroke="url(#h8)" stroke-width="0.7"/>
<path d="M227 135L221.2 130.5L215.5 126L209.8 121.5L204.1 117L198.4 112.5L192.6 108L186.9 103.5L181.2 99L175.5 94.5L169.8 90.1L170.7 92.5L176.4 97L182.2 101.5L187.9 106L193.6 110.4L199.3 114.9L205 119.4L210.8 123.9L216.5 128.4L222.2 132.8L227.9 137.3Z" fill="url(#g9)" stroke="url(#g9)" stroke-width="0.3"/>
<path d="M226 132.6L220.3 128.1L214.5 123.6L208.8 119.1L203.1 114.6L197.4 110.1L191.7 105.6L185.9 101.1L180.2 96.6L174.5 92.1L168.8 87.6L169.8 90.1L175.5 94.5L181.2 99L186.9 103.5L192.6 108L198.4 112.5L204.1 117L209.8 121.5L215.5 126L221.2 130.5L227 135Z" fill="url(#g10)" stroke="url(#g10)" stroke-width="0.3"/>
<path d="M226.4 133.7L220.7 129.2L215 124.7L209.2 120.2L203.5 115.7L197.8 111.2L192.1 106.7L186.4 102.2L180.6 97.7L174.9 93.2L169.2 88.7" fill="none" stroke="url(#h10)" stroke-width="0.7"/>
<path d="M225 130.3L219.3 125.8L213.6 121.3L207.8 116.8L202.1 112.3L196.4 107.8L190.7 103.3L185 98.8L179.2 94.2L173.5 89.7L167.8 85.2L168.8 87.6L174.5 92.1L180.2 96.6L185.9 101.1L191.7 105.6L197.4 110.1L203.1 114.6L208.8 119.1L214.5 123.6L220.3 128.1L226 132.6Z" fill="url(#g11)" stroke="url(#g11)" stroke-width="0.3"/>
<path d="M224 128L218.3 123.5L212.6 119L206.9 114.5L201.2 110L195.4 105.4L189.7 100.9L184 96.4L178.3 91.9L172.6 87.4L166.8 82.9L167.8 85.2L173.5 89.7L179.2 94.2L185 98.8L190.7 103.3L196.4 107.8L202.1 112.3L207.8 116.8L213.6 121.3L219.3 125.8L225 130.3Z" fill="url(#g12)" stroke="url(#g12)" stroke-width="0.3"/>
<path d="M224 128L227.9 137.3M222.6 126.9L226.5 136.2M221.2 125.8L225.1 135.1M219.7 124.6L223.6 134M218.3 123.5L222.2 132.8M216.9 122.4L220.8 131.7M215.5 121.2L219.3 130.6M214 120.1L217.9 129.5M212.6 119L216.5 128.4M211.2 117.9L215.1 127.2M209.7 116.7L213.6 126.1M208.3 115.6L212.2 125M206.9 114.5L210.8 123.9M205.4 113.3L209.3 122.8M204 112.2L207.9 121.6M202.6 111.1L206.5 120.5M201.2 110L205 119.4M199.7 108.8L203.6 118.3M198.3 107.7L202.2 117.2M196.9 106.6L200.8 116M195.4 105.4L199.3 114.9M194 104.3L197.9 113.8M192.6 103.2L196.5 112.7M191.1 102.1L195 111.6M189.7 100.9L193.6 110.4M188.3 99.8L192.2 109.3M186.9 98.7L190.7 108.2M185.4 97.5L189.3 107.1M184 96.4L187.9 106M182.6 95.3L186.5 104.8M181.1 94.2L185 103.7M179.7 93L183.6 102.6M178.3 91.9L182.2 101.5M176.8 90.8L180.7 100.4M175.4 89.6L179.3 99.2M174 88.5L177.9 98.1M172.6 87.4L176.4 97M171.1 86.3L175 95.9M169.7 85.1L173.6 94.8M168.3 84L172.2 93.6M166.8 82.9L170.7 92.5" fill="none" stroke="url(#h12)" stroke-width="0.5"/>
<path d="M224.5 129.1L218.8 124.5L213 120L207.3 115.5L201.6 111L195.9 106.5L190.2 102L184.4 97.5L178.7 93L173 88.4L167.3 83.9" fill="none" stroke="url(#h12)" stroke-width="0.7"/>
<path d="M223.1 125.7L217.3 121.2L211.6 116.7L205.9 112.2L200.2 107.7L194.5 103.1L188.7 98.6L183 94.1L177.3 89.6L171.6 85.1L165.9 80.6L166.8 82.9L172.6 87.4L178.3 91.9L184 96.4L189.7 100.9L195.4 105.4L201.2 110L206.9 114.5L212.6 119L218.3 123.5L224 128Z" fill="url(#g13)" stroke="url(#g13)" stroke-width="0.3"/>
<path d="M222.1 123.4L216.4 118.9L210.7 114.4L204.9 109.9L199.2 105.4L193.5 100.9L187.8 96.3L182.1 91.8L176.3 87.3L170.6 82.8L164.9 78.3L165.9 80.6L171.6 85.1L177.3 89.6L183 94.1L188.7 98.6L194.5 103.1L200.2 107.7L205.9 112.2L211.6 116.7L217.3 121.2L223.1 125.7Z" fill="url(#g14)" stroke="url(#g14)" stroke-width="0.3"/>
<path d="M222.5 124.4L216.8 119.9L211.1 115.4L205.4 110.9L199.6 106.4L193.9 101.9L188.2 97.3L182.5 92.8L176.8 88.3L171 83.8L165.3 79.3" fill="none" stroke="url(#h14)" stroke-width="0.7"/>
<path d="M221.1 121.2L215.4 116.7L209.7 112.1L204 107.6L198.2 103.1L192.5 98.6L186.8 94.1L181.1 89.6L175.4 85.1L169.6 80.6L163.9 76L164.9 78.3L170.6 82.8L176.3 87.3L182.1 91.8L187.8 96.3L193.5 100.9L199.2 105.4L204.9 109.9L210.7 114.4L216.4 118.9L222.1 123.4Z" fill="url(#g15)" stroke="url(#g15)" stroke-width="0.3"/>
<path d="M220.1 118.9L214.4 114.4L208.7 109.9L203 105.4L197.3 100.9L191.5 96.4L185.8 91.8L180.1 87.3L174.4 82.8L168.7 78.3L162.9 73.8L163.9 76L169.6 80.6L175.4 85.1L181.1 89.6L186.8 94.1L192.5 98.6L198.2 103.1L204 107.6L209.7 112.1L215.4 116.7L221.1 121.2Z" fill="url(#g16)" stroke="url(#g16)" stroke-width="0.3"/>
<path d="M220.1 118.9L224 128M218.7 117.8L222.6 126.9M217.3 116.7L221.2 125.8M215.9 115.5L219.7 124.6M214.4 114.4L218.3 123.5M213 113.3L216.9 122.4M211.6 112.1L215.5 121.2M210.1 111L214 120.1M208.7 109.9L212.6 119M207.3 108.8L211.2 117.9M205.8 107.6L209.7 116.7M204.4 106.5L208.3 115.6M203 105.4L206.9 114.5M201.6 104.2L205.4 113.3M200.1 103.1L204 112.2M198.7 102L202.6 111.1M197.3 100.9L201.2 110M195.8 99.7L199.7 108.8M194.4 98.6L198.3 107.7M193 97.5L196.9 106.6M191.5 96.4L195.4 105.4M190.1 95.2L194 104.3M188.7 94.1L192.6 103.2M187.3 93L191.1 102.1M185.8 91.8L189.7 100.9M184.4 90.7L188.3 99.8M183 89.6L186.9 98.7M181.5 88.5L185.4 97.5M180.1 87.3L184 96.4M178.7 86.2L182.6 95.3M177.2 85.1L181.1 94.2M175.8 83.9L179.7 93M174.4 82.8L178.3 91.9M173 81.7L176.8 90.8M171.5 80.6L175.4 89.6M170.1 79.4L174 88.5M168.7 78.3L172.6 87.4M167.2 77.2L171.1 86.3M165.8 76.1L169.7 85.1M164.4 74.9L168.3 84M162.9 73.8L166.8 82.9" fill="none" stroke="url(#h16)" stroke-width="0.5"/>
<path d="M220.5 119.8L214.8 115.3L209.1 110.8L203.4 106.3L197.7 101.8L191.9 97.3L186.2 92.7L180.5 88.2L174.8 83.7L169.1 79.2L163.3 74.7" fill="none" stroke="url(#h16)" stroke-width="0.7"/>
<path d="M219.2 116.7L213.5 112.2L207.7 107.6L202 103.1L196.3 98.6L190.6 94.1L184.9 89.6L179.1 85.1L173.4 80.6L167.7 76.1L162 71.6L162.9 73.8L168.7 78.3L174.4 82.8L180.1 87.3L185.8 91.8L191.5 96.4L197.3 100.9L203 105.4L208.7 109.9L214.4 114.4L220.1 118.9Z" fill="url(#g17)" stroke="url(#g17)" stroke-width="0.3"/>
<path d="M218.2 114.4L212.5 109.9L206.8 105.4L201 100.9L195.3 96.4L189.6 91.9L183.9 87.4L178.2 82.9L172.4 78.4L166.7 73.9L161 69.3L162 71.6L167.7 76.1L173.4 80.6L179.1 85.1L184.9 89.6L190.6 94.1L196.3 98.6L202 103.1L207.7 107.6L213.5 112.2L219.2 116.7Z" fill="url(#g18)" stroke="url(#g18)" stroke-width="0.3"/>
<path d="M218.5 115.2L212.8 110.7L207.1 106.2L201.4 101.7L195.7 97.2L189.9 92.7L184.2 88.2L178.5 83.6L172.8 79.1L167.1 74.6L161.3 70.1" fill="none" stroke="url(#h18)" stroke-width="0.7"/>
<path d="M217.2 112.2L211.5 107.7L205.8 103.2L200.1 98.7L194.4 94.2L188.6 89.7L182.9 85.2L177.2 80.6L171.5 76.1L165.8 71.6L160 67.1L161 69.3L166.7 73.9L172.4 78.4L178.2 82.9L183.9 87.4L189.6 91.9L195.3 96.4L201 100.9L206.8 105.4L212.5 109.9L218.2 114.4Z" fill="url(#g19)" stroke="url(#g19)" stroke-width="0.3"/>
<path d="M216.3 110L210.5 105.5L204.8 101L199.1 96.5L193.4 92L187.7 87.4L181.9 82.9L176.2 78.4L170.5 73.9L164.8 69.4L159.1 64.9L160 67.1L165.8 71.6L171.5 76.1L177.2 80.6L182.9 85.2L188.6 89.7L194.4 94.2L200.1 98.7L205.8 103.2L211.5 107.7L217.2 112.2Z" fill="url(#g20)" stroke="url(#g20)" stroke-width="0.3"/>
<path d="M216.3 110L220.1 118.9M214.8 108.9L218.7 117.8M213.4 107.8L217.3 116.7M212 106.6L215.9 115.5M210.5 105.5L214.4 114.4M209.1 104.4L213 113.3M207.7 103.2L211.6 112.1M206.2 102.1L210.1 111M204.8 101L208.7 109.9M203.4 99.9L207.3 108.8M202 98.7L205.8 107.6M200.5 97.6L204.4 106.5M199.1 96.5L203 105.4M197.7 95.3L201.6 104.2M196.2 94.2L200.1 103.1M194.8 93.1L198.7 102M193.4 92L197.3 100.9M191.9 90.8L195.8 99.7M190.5 89.7L194.4 98.6M189.1 88.6L193 97.5M187.7 87.4L191.5 96.4M186.2 86.3L190.1 95.2M184.8 85.2L188.7 94.1M183.4 84L187.3 93M181.9 82.9L185.8 91.8M180.5 81.8L184.4 90.7M179.1 80.7L183 89.6M177.7 79.5L181.5 88.5M176.2 78.4L180.1 87.3M174.8 77.3L178.7 86.2M173.4 76.1L177.2 85.1M171.9 75L175.8 83.9M170.5 73.9L174.4 82.8M169.1 72.8L173 81.7M167.6 71.6L171.5 80.6M166.2 70.5L170.1 79.4M164.8 69.4L168.7 78.3M163.3 68.2L167.2 77.2M161.9 67.1L165.8 76.1M160.5 66L164.4 74.9M159.1 64.9L162.9 73.8" fill="none" stroke="url(#h20)" stroke-width="0.5"/>
<path d="M216.5 110.7L210.8 106.1L205.1 101.6L199.4 97.1L193.7 92.6L187.9 88.1L182.2 83.6L176.5 79.1L170.8 74.5L165.1 70L159.3 65.5" fill="none" stroke="url(#h20)" stroke-width="0.7"/>
<path d="M215.3 107.8L209.6 103.3L203.8 98.7L198.1 94.2L192.4 89.7L186.7 85.1L181 80.6L175.2 76L169.5 71.5L163.8 67L158.1 62.4L159.1 64.9L164.8 69.4L170.5 73.9L176.2 78.4L181.9 82.9L187.7 87.4L193.4 92L199.1 96.5L204.8 101L210.5 105.5L216.3 110Z" fill="url(#g21)" stroke="url(#g21)" stroke-width="0.3"/>
<path d="M214.3 105.6L208.6 101.1L202.9 96.5L197.2 91.9L191.4 87.3L185.7 82.7L180 78.1L174.3 73.5L168.6 68.9L162.8 64.3L157.1 59.7L158.1 62.4L163.8 67L169.5 71.5L175.2 76L181 80.6L186.7 85.1L192.4 89.7L198.1 94.2L203.8 98.7L209.6 103.3L215.3 107.8Z" fill="url(#g22)" stroke="url(#g22)" stroke-width="0.3"/>
<path d="M214.6 106.3L208.9 101.7L203.2 97.2L197.4 92.6L191.7 88L186 83.4L180.3 78.9L174.6 74.3L168.8 69.7L163.1 65.1L157.4 60.6" fill="none" stroke="url(#h22)" stroke-width="0.7"/>
<path d="M213.3 103.4L207.6 98.8L201.9 94.1L196.2 89.5L190.5 84.8L184.7 80.2L179 75.5L173.3 70.8L167.6 66.2L161.9 61.5L156.1 56.9L157.1 59.7L162.8 64.3L168.6 68.9L174.3 73.5L180 78.1L185.7 82.7L191.4 87.3L197.2 91.9L202.9 96.5L208.6 101.1L214.3 105.6Z" fill="url(#g23)" stroke="url(#g23)" stroke-width="0.3"/>
<path d="M212.4 101L206.7 96.3L200.9 91.6L195.2 86.9L189.5 82.2L183.8 77.5L178.1 72.8L172.3 68.1L166.6 63.4L160.9 58.7L155.2 54L156.1 56.9L161.9 61.5L167.6 66.2L173.3 70.8L179 75.5L184.7 80.2L190.5 84.8L196.2 89.5L201.9 94.1L207.6 98.8L213.3 103.4Z" fill="url(#g24)" stroke="url(#g24)" stroke-width="0.3"/>
<path d="M212.4 101L216.3 110M210.9 99.8L214.8 108.9M209.5 98.7L213.4 107.8M208.1 97.5L212 106.6M206.7 96.3L210.5 105.5M205.2 95.1L209.1 104.4M203.8 94L207.7 103.2M202.4 92.8L206.2 102.1M200.9 91.6L204.8 101M199.5 90.4L203.4 99.9M198.1 89.3L202 98.7M196.6 88.1L200.5 97.6M195.2 86.9L199.1 96.5M193.8 85.7L197.7 95.3M192.4 84.6L196.2 94.2M190.9 83.4L194.8 93.1M189.5 82.2L193.4 92M188.1 81L191.9 90.8M186.6 79.9L190.5 89.7M185.2 78.7L189.1 88.6M183.8 77.5L187.7 87.4M182.3 76.3L186.2 86.3M180.9 75.2L184.8 85.2M179.5 74L183.4 84M178.1 72.8L181.9 82.9M176.6 71.6L180.5 81.8M175.2 70.5L179.1 80.7M173.8 69.3L177.7 79.5M172.3 68.1L176.2 78.4M170.9 66.9L174.8 77.3M169.5 65.8L173.4 76.1M168 64.6L171.9 75M166.6 63.4L170.5 73.9M165.2 62.2L169.1 72.8M163.8 61.1L167.6 71.6M162.3 59.9L166.2 70.5M160.9 58.7L164.8 69.4M159.5 57.6L163.3 68.2M158 56.4L161.9 67.1M156.6 55.2L160.5 66M155.2 54L159.1 64.9" fill="none" stroke="url(#h24)" stroke-width="0.5"/>
<path d="M212.8 102L207.1 97.4L201.3 92.7L195.6 88L189.9 83.3L184.2 78.6L178.5 73.9L172.7 69.3L167 64.6L161.3 59.9L155.6 55.2" fill="none" stroke="url(#h24)" stroke-width="0.7"/>
<path d="M211.4 98.5L205.7 93.8L200 89L194.2 84.3L188.5 79.6L182.8 74.9L177.1 70.2L171.4 65.4L165.6 60.7L159.9 56L154.2 51.3L155.2 54L160.9 58.7L166.6 63.4L172.3 68.1L178.1 72.8L183.8 77.5L189.5 82.2L195.2 86.9L200.9 91.6L206.7 96.3L212.4 101Z" fill="url(#g25)" stroke="url(#g25)" stroke-width="0.3"/>
<path d="M210.4 95.9L204.7 91.2L199 86.5L193.3 81.8L187.5 77.1L181.8 72.4L176.1 67.7L170.4 63L164.7 58.2L158.9 53.5L153.2 48.8L154.2 51.3L159.9 56L165.6 60.7L171.4 65.4L177.1 70.2L182.8 74.9L188.5 79.6L194.2 84.3L200 89L205.7 93.8L211.4 98.5Z" fill="url(#g26)" stroke="url(#g26)" stroke-width="0.3"/>
<path d="M211 97.4L205.3 92.7L199.5 87.9L193.8 83.2L188.1 78.5L182.4 73.8L176.7 69.1L170.9 64.3L165.2 59.6L159.5 54.9L153.8 50.2" fill="none" stroke="url(#h26)" stroke-width="0.7"/>
<path d="M209.5 93.5L203.7 88.8L198 84.1L192.3 79.5L186.6 74.8L180.9 70.1L175.1 65.4L169.4 60.7L163.7 56.1L158 51.4L152.3 46.7L153.2 48.8L158.9 53.5L164.7 58.2L170.4 63L176.1 67.7L181.8 72.4L187.5 77.1L193.3 81.8L199 86.5L204.7 91.2L210.4 95.9Z" fill="url(#g27)" stroke="url(#g27)" stroke-width="0.3"/>
<path d="M208.5 91.2L202.8 86.6L197 82L191.3 77.4L185.6 72.8L179.9 68.2L174.2 63.6L168.4 58.9L162.7 54.3L157 49.7L151.3 45.1L152.3 46.7L158 51.4L163.7 56.1L169.4 60.7L175.1 65.4L180.9 70.1L186.6 74.8L192.3 79.5L198 84.1L203.7 88.8L209.5 93.5Z" fill="url(#g28)" stroke="url(#g28)" stroke-width="0.3"/>
<path d="M208.5 91.2L212.4 101M207.1 90.1L210.9 99.8M205.6 88.9L209.5 98.7M204.2 87.8L208.1 97.5M202.8 86.6L206.7 96.3M201.3 85.5L205.2 95.1M199.9 84.3L203.8 94M198.5 83.2L202.4 92.8M197 82L200.9 91.6M195.6 80.9L199.5 90.4M194.2 79.7L198.1 89.3M192.8 78.5L196.6 88.1M191.3 77.4L195.2 86.9M189.9 76.2L193.8 85.7M188.5 75.1L192.4 84.6M187 73.9L190.9 83.4M185.6 72.8L189.5 82.2M184.2 71.6L188.1 81M182.7 70.5L186.6 79.9M181.3 69.3L185.2 78.7M179.9 68.2L183.8 77.5M178.5 67L182.3 76.3M177 65.9L180.9 75.2M175.6 64.7L179.5 74M174.2 63.6L178.1 72.8M172.7 62.4L176.6 71.6M171.3 61.3L175.2 70.5M169.9 60.1L173.8 69.3M168.4 58.9L172.3 68.1M167 57.8L170.9 66.9M165.6 56.6L169.5 65.8M164.2 55.5L168 64.6M162.7 54.3L166.6 63.4M161.3 53.2L165.2 62.2M159.9 52L163.8 61.1M158.4 50.9L162.3 59.9M157 49.7L160.9 58.7M155.6 48.6L159.5 57.6M154.1 47.4L158 56.4M152.7 46.3L156.6 55.2M151.3 45.1L155.2 54" fill="none" stroke="url(#h28)" stroke-width="0.5"/>
<path d="M209 92.4L203.3 87.8L197.6 83.1L191.9 78.5L186.1 73.8L180.4 69.2L174.7 64.5L169 59.9L163.3 55.2L157.5 50.6L151.8 45.9" fill="none" stroke="url(#h28)" stroke-width="0.7"/>
<path d="M207.5 89.3L201.8 84.8L196.1 80.2L190.4 75.7L184.6 71.2L178.9 66.7L173.2 62.2L167.5 57.7L161.8 53.2L156 48.7L150.3 44.2L151.3 45.1L157 49.7L162.7 54.3L168.4 58.9L174.2 63.6L179.9 68.2L185.6 72.8L191.3 77.4L197 82L202.8 86.6L208.5 91.2Z" fill="url(#g29)" stroke="url(#g29)" stroke-width="0.3"/>
<path d="M206.5 87.7L200.8 83.3L195.1 78.9L189.4 74.5L183.7 70.1L177.9 65.7L172.2 61.3L166.5 56.9L160.8 52.5L155.1 48.2L149.3 43.8L150.3 44.2L156 48.7L161.8 53.2L167.5 57.7L173.2 62.2L178.9 66.7L184.6 71.2L190.4 75.7L196.1 80.2L201.8 84.8L207.5 89.3Z" fill="url(#g30)" stroke="url(#g30)" stroke-width="0.3"/>
<path d="M205.6 86.6L199.8 82.3L194.1 78L188.4 73.7L182.7 69.4L177 65L171.2 60.7L165.5 56.4L159.8 52.1L154.1 47.8L148.4 43.4L149.3 43.8L155.1 48.2L160.8 52.5L166.5 56.9L172.2 61.3L177.9 65.7L183.7 70.1L189.4 74.5L195.1 78.9L200.8 83.3L206.5 87.7Z" fill="url(#g31)" stroke="url(#g31)" stroke-width="0.3"/>
<path d="M206.4 87.5L200.7 83.1L194.9 78.7L189.2 74.4L183.5 70L177.8 65.6L172.1 61.2L166.3 56.8L160.6 52.5L154.9 48.1L149.2 43.7" fill="none" stroke="url(#h31)" stroke-width="0.7"/>
<path d="M204.6 85.9L198.9 81.6L193.2 77.4L187.4 73.1L181.7 68.8L176 64.6L170.3 60.3L164.6 56L158.8 51.7L153.1 47.5L147.4 43.2L148.4 43.4L154.1 47.8L159.8 52.1L165.5 56.4L171.2 60.7L177 65L182.7 69.4L188.4 73.7L194.1 78L199.8 82.3L205.6 86.6Z" fill="url(#g32)" stroke="url(#g32)" stroke-width="0.3"/>
<path d="M204.6 85.9L208.5 91.2M203.2 84.8L207.1 90.1M201.7 83.8L205.6 88.9M200.3 82.7L204.2 87.8M198.9 81.6L202.8 86.6M197.4 80.6L201.3 85.5M196 79.5L199.9 84.3M194.6 78.4L198.5 83.2M193.2 77.4L197 82M191.7 76.3L195.6 80.9M190.3 75.2L194.2 79.7M188.9 74.2L192.8 78.5M187.4 73.1L191.3 77.4M186 72L189.9 76.2M184.6 71L188.5 75.1M183.1 69.9L187 73.9M181.7 68.8L185.6 72.8M180.3 67.8L184.2 71.6M178.9 66.7L182.7 70.5M177.4 65.6L181.3 69.3M176 64.6L179.9 68.2M174.6 63.5L178.5 67M173.1 62.4L177 65.9M171.7 61.3L175.6 64.7M170.3 60.3L174.2 63.6M168.8 59.2L172.7 62.4M167.4 58.1L171.3 61.3M166 57.1L169.9 60.1M164.6 56L168.4 58.9M163.1 54.9L167 57.8M161.7 53.9L165.6 56.6M160.3 52.8L164.2 55.5M158.8 51.7L162.7 54.3M157.4 50.7L161.3 53.2M156 49.6L159.9 52M154.5 48.5L158.4 50.9M153.1 47.5L157 49.7M151.7 46.4L155.6 48.6M150.3 45.3L154.1 47.4M148.8 44.3L152.7 46.3M147.4 43.2L151.3 45.1" fill="none" stroke="url(#h32)" stroke-width="0.5"/>
<path d="M203.6 85.2L197.9 81L192.2 76.8L186.5 72.6L180.7 68.3L175 64.1L169.3 59.9L163.6 55.7L157.9 51.5L152.1 47.2L146.4 43L147.4 43.2L153.1 47.5L158.8 51.7L164.6 56L170.3 60.3L176 64.6L181.7 68.8L187.4 73.1L193.2 77.4L198.9 81.6L204.6 85.9Z" fill="url(#g33)" stroke="url(#g33)" stroke-width="0.3"/>
<path d="M202.7 84.6L196.9 80.4L191.2 76.3L185.5 72.1L179.8 67.9L174.1 63.8L168.3 59.6L162.6 55.4L156.9 51.3L151.2 47.1L145.5 42.9L146.4 43L152.1 47.2L157.9 51.5L163.6 55.7L169.3 59.9L175 64.1L180.7 68.3L186.5 72.6L192.2 76.8L197.9 81L203.6 85.2Z" fill="url(#g34)" stroke="url(#g34)" stroke-width="0.3"/>
<path d="M203 84.8L197.3 80.6L191.6 76.4L185.8 72.3L180.1 68.1L174.4 63.9L168.7 59.7L163 55.5L157.2 51.3L151.5 47.1L145.8 42.9" fill="none" stroke="url(#h34)" stroke-width="0.7"/>
<path d="M201.7 84.1L196 80L190.2 75.8L184.5 71.7L178.8 67.6L173.1 63.5L167.4 59.4L161.6 55.3L155.9 51.1L150.2 47L144.5 42.9L145.5 42.9L151.2 47.1L156.9 51.3L162.6 55.4L168.3 59.6L174.1 63.8L179.8 67.9L185.5 72.1L191.2 76.3L196.9 80.4L202.7 84.6Z" fill="url(#g35)" stroke="url(#g35)" stroke-width="0.3"/>
<path d="M200.7 83.7L195 79.6L189.3 75.5L183.5 71.5L177.8 67.4L172.1 63.3L166.4 59.3L160.7 55.2L154.9 51.1L149.2 47.1L143.5 43L144.5 42.9L150.2 47L155.9 51.1L161.6 55.3L167.4 59.4L173.1 63.5L178.8 67.6L184.5 71.7L190.2 75.8L196 80L201.7 84.1Z" fill="url(#g36)" stroke="url(#g36)" stroke-width="0.3"/>
<path d="M200.7 83.7L204.6 85.9M199.3 82.6L203.2 84.8M197.8 81.6L201.7 83.8M196.4 80.6L200.3 82.7M195 79.6L198.9 81.6M193.6 78.6L197.4 80.6M192.1 77.6L196 79.5M190.7 76.5L194.6 78.4M189.3 75.5L193.2 77.4M187.8 74.5L191.7 76.3M186.4 73.5L190.3 75.2M185 72.5L188.9 74.2M183.5 71.5L187.4 73.1M182.1 70.4L186 72M180.7 69.4L184.6 71M179.3 68.4L183.1 69.9M177.8 67.4L181.7 68.8M176.4 66.4L180.3 67.8M175 65.4L178.9 66.7M173.5 64.4L177.4 65.6M172.1 63.3L176 64.6M170.7 62.3L174.6 63.5M169.2 61.3L173.1 62.4M167.8 60.3L171.7 61.3M166.4 59.3L170.3 60.3M165 58.3L168.8 59.2M163.5 57.2L167.4 58.1M162.1 56.2L166 57.1M160.7 55.2L164.6 56M159.2 54.2L163.1 54.9M157.8 53.2L161.7 53.9M156.4 52.2L160.3 52.8M154.9 51.1L158.8 51.7M153.5 50.1L157.4 50.7M152.1 49.1L156 49.6M150.7 48.1L154.5 48.5M149.2 47.1L153.1 47.5M147.8 46.1L151.7 46.4M146.4 45.1L150.3 45.3M144.9 44L148.8 44.3M143.5 43L147.4 43.2" fill="none" stroke="url(#h36)" stroke-width="0.5"/>
<path d="M199.7 83.4L194 79.4L188.3 75.3L182.6 71.3L176.9 67.3L171.1 63.3L165.4 59.3L159.7 55.3L154 51.3L148.3 47.2L142.5 43.2L143.5 43L149.2 47.1L154.9 51.1L160.7 55.2L166.4 59.3L172.1 63.3L177.8 67.4L183.5 71.5L189.3 75.5L195 79.6L200.7 83.7Z" fill="url(#g37)" stroke="url(#g37)" stroke-width="0.3"/>
<path d="M198.8 83.3L193 79.3L187.3 75.3L181.6 71.4L175.9 67.4L170.2 63.4L164.4 59.4L158.7 55.5L153 51.5L147.3 47.5L141.6 43.6L142.5 43.2L148.3 47.2L154 51.3L159.7 55.3L165.4 59.3L171.1 63.3L176.9 67.3L182.6 71.3L188.3 75.3L194 79.4L199.7 83.4Z" fill="url(#g38)" stroke="url(#g38)" stroke-width="0.3"/>
<path d="M199.4 83.3L193.7 79.3L188 75.3L182.3 71.3L176.5 67.3L170.8 63.3L165.1 59.3L159.4 55.3L153.7 51.3L147.9 47.3L142.2 43.3" fill="none" stroke="url(#h38)" stroke-width="0.7"/>
<path d="M197.8 83.3L192.1 79.4L186.4 75.4L180.6 71.5L174.9 67.6L169.2 63.6L163.5 59.7L157.8 55.7L152 51.8L146.3 47.8L140.6 43.9L141.6 43.6L147.3 47.5L153 51.5L158.7 55.5L164.4 59.4L170.2 63.4L175.9 67.4L181.6 71.4L187.3 75.3L193 79.3L198.8 83.3Z" fill="url(#g39)" stroke="url(#g39)" stroke-width="0.3"/>
<path d="M196.8 83.6L191.1 79.7L185.4 75.7L179.7 71.8L173.9 67.9L168.2 63.9L162.5 60L156.8 56.1L151.1 52.1L145.3 48.2L139.6 44.3L140.6 43.9L146.3 47.8L152 51.8L157.8 55.7L163.5 59.7L169.2 63.6L174.9 67.6L180.6 71.5L186.4 75.4L192.1 79.4L197.8 83.3Z" fill="url(#g40)" stroke="url(#g40)" stroke-width="0.3"/>
<path d="M196.8 83.6L200.7 83.7M195.4 82.6L199.3 82.6M194 81.6L197.8 81.6M192.5 80.6L196.4 80.6M191.1 79.7L195 79.6M189.7 78.7L193.6 78.6M188.2 77.7L192.1 77.6M186.8 76.7L190.7 76.5M185.4 75.7L189.3 75.5M183.9 74.7L187.8 74.5M182.5 73.8L186.4 73.5M181.1 72.8L185 72.5M179.7 71.8L183.5 71.5M178.2 70.8L182.1 70.4M176.8 69.8L180.7 69.4M175.4 68.8L179.3 68.4M173.9 67.9L177.8 67.4M172.5 66.9L176.4 66.4M171.1 65.9L175 65.4M169.7 64.9L173.5 64.4M168.2 63.9L172.1 63.3M166.8 62.9L170.7 62.3M165.4 62L169.2 61.3M163.9 61L167.8 60.3M162.5 60L166.4 59.3M161.1 59L165 58.3M159.6 58L163.5 57.2M158.2 57L162.1 56.2M156.8 56.1L160.7 55.2M155.3 55.1L159.2 54.2M153.9 54.1L157.8 53.2M152.5 53.1L156.4 52.2M151.1 52.1L154.9 51.1M149.6 51.1L153.5 50.1M148.2 50.2L152.1 49.1M146.8 49.2L150.7 48.1M145.3 48.2L149.2 47.1M143.9 47.2L147.8 46.1M142.5 46.2L146.4 45.1M141.1 45.2L144.9 44M139.6 44.3L143.5 43" fill="none" stroke="url(#h40)" stroke-width="0.5"/>
<path d="M195.8 84L190.1 80L184.4 76.1L178.7 72.1L173 68.2L167.2 64.3L161.5 60.3L155.8 56.4L150.1 52.5L144.4 48.5L138.6 44.6L139.6 44.3L145.3 48.2L151.1 52.1L156.8 56.1L162.5 60L168.2 63.9L173.9 67.9L179.7 71.8L185.4 75.7L191.1 79.7L196.8 83.6Z" fill="url(#g41)" stroke="url(#g41)" stroke-width="0.3"/>
<path d="M195.9 83.9L190.2 80L184.4 76.1L178.7 72.1L173 68.2L167.3 64.3L161.6 60.3L155.8 56.4L150.1 52.5L144.4 48.5L138.7 44.6" fill="none" stroke="url(#h41)" stroke-width="0.7"/>
<path d="M194.9 84.3L189.2 80.4L183.4 76.4L177.7 72.5L172 68.6L166.3 64.6L160.6 60.7L154.8 56.8L149.1 52.8L143.4 48.9L137.7 44.9L138.6 44.6L144.4 48.5L150.1 52.5L155.8 56.4L161.5 60.3L167.2 64.3L173 68.2L178.7 72.1L184.4 76.1L190.1 80L195.8 84Z" fill="url(#g42)" stroke="url(#g42)" stroke-width="0.3"/>
<path d="M193.9 84.7L188.2 80.8L182.5 76.8L176.7 72.9L171 68.9L165.3 65L159.6 61.1L153.9 57.1L148.1 53.2L142.4 49.2L136.7 45.3L137.7 44.9L143.4 48.9L149.1 52.8L154.8 56.8L160.6 60.7L166.3 64.6L172 68.6L177.7 72.5L183.4 76.4L189.2 80.4L194.9 84.3Z" fill="url(#g43)" stroke="url(#g43)" stroke-width="0.3"/>
<path d="M192.9 85.1L187.2 81.2L181.5 77.2L175.8 73.3L170.1 69.3L164.3 65.4L158.6 61.4L152.9 57.5L147.2 53.5L141.5 49.6L135.7 45.6L136.7 45.3L142.4 49.2L148.1 53.2L153.9 57.1L159.6 61.1L165.3 65L171 68.9L176.7 72.9L182.5 76.8L188.2 80.8L193.9 84.7Z" fill="url(#g44)" stroke="url(#g44)" stroke-width="0.3"/>
<path d="M192.9 85.1L196.8 83.6M191.5 84.1L195.4 82.6M190.1 83.1L194 81.6M188.6 82.1L192.5 80.6M187.2 81.2L191.1 79.7M185.8 80.2L189.7 78.7M184.4 79.2L188.2 77.7M182.9 78.2L186.8 76.7M181.5 77.2L185.4 75.7M180.1 76.2L183.9 74.7M178.6 75.2L182.5 73.8M177.2 74.2L181.1 72.8M175.8 73.3L179.7 71.8M174.3 72.3L178.2 70.8M172.9 71.3L176.8 69.8M171.5 70.3L175.4 68.8M170.1 69.3L173.9 67.9M168.6 68.3L172.5 66.9M167.2 67.3L171.1 65.9M165.8 66.4L169.7 64.9M164.3 65.4L168.2 63.9M162.9 64.4L166.8 62.9M161.5 63.4L165.4 62M160 62.4L163.9 61M158.6 61.4L162.5 60M157.2 60.4L161.1 59M155.8 59.4L159.6 58M154.3 58.5L158.2 57M152.9 57.5L156.8 56.1M151.5 56.5L155.3 55.1M150 55.5L153.9 54.1M148.6 54.5L152.5 53.1M147.2 53.5L151.1 52.1M145.7 52.5L149.6 51.1M144.3 51.5L148.2 50.2M142.9 50.6L146.8 49.2M141.5 49.6L145.3 48.2M140 48.6L143.9 47.2M138.6 47.6L142.5 46.2M137.2 46.6L141.1 45.2M135.7 45.6L139.6 44.3" fill="none" stroke="url(#h44)" stroke-width="0.5"/>
<path d="M192 85.5L186.2 81.6L180.5 77.6L174.8 73.6L169.1 69.7L163.4 65.7L157.6 61.8L151.9 57.8L146.2 53.9L140.5 49.9L134.8 46L135.7 45.6L141.5 49.6L147.2 53.5L152.9 57.5L158.6 61.4L164.3 65.4L170.1 69.3L175.8 73.3L181.5 77.2L187.2 81.2L192.9 85.1Z" fill="url(#g45)" stroke="url(#g45)" stroke-width="0.3"/>
<path d="M192.4 85.3L186.7 81.4L181 77.4L175.2 73.5L169.5 69.5L163.8 65.6L158.1 61.6L152.4 57.7L146.6 53.7L140.9 49.8L135.2 45.8" fill="none" stroke="url(#h45)" stroke-width="0.7"/>
<path d="M191 85.9L185.3 82L179.5 78L173.8 74L168.1 70.1L162.4 66.1L156.7 62.2L150.9 58.2L145.2 54.2L139.5 50.3L133.8 46.3L134.8 46L140.5 49.9L146.2 53.9L151.9 57.8L157.6 61.8L163.4 65.7L169.1 69.7L174.8 73.6L180.5 77.6L186.2 81.6L192 85.5Z" fill="url(#g46)" stroke="url(#g46)" stroke-width="0.3"/>
<path d="M190 86.4L184.3 82.4L178.6 78.4L172.9 74.5L167.1 70.5L161.4 66.5L155.7 62.5L150 58.6L144.3 54.6L138.5 50.6L132.8 46.7L133.8 46.3L139.5 50.3L145.2 54.2L150.9 58.2L156.7 62.2L162.4 66.1L168.1 70.1L173.8 74L179.5 78L185.3 82L191 85.9Z" fill="url(#g47)" stroke="url(#g47)" stroke-width="0.3"/>
<path d="M189 86.8L183.3 82.8L177.6 78.9L171.9 74.9L166.2 70.9L160.4 66.9L154.7 62.9L149 58.9L143.3 55L137.6 51L131.8 47L132.8 46.7L138.5 50.6L144.3 54.6L150 58.6L155.7 62.5L161.4 66.5L167.1 70.5L172.9 74.5L178.6 78.4L184.3 82.4L190 86.4Z" fill="url(#g48)" stroke="url(#g48)" stroke-width="0.3"/>
<path d="M189 86.8L192.9 85.1M187.6 85.8L191.5 84.1M186.2 84.8L190.1 83.1M184.8 83.8L188.6 82.1M183.3 82.8L187.2 81.2M181.9 81.8L185.8 80.2M180.5 80.8L184.4 79.2M179 79.9L182.9 78.2M177.6 78.9L181.5 77.2M176.2 77.9L180.1 76.2M174.7 76.9L178.6 75.2M173.3 75.9L177.2 74.2M171.9 74.9L175.8 73.3M170.5 73.9L174.3 72.3M169 72.9L172.9 71.3M167.6 71.9L171.5 70.3M166.2 70.9L170.1 69.3M164.7 69.9L168.6 68.3M163.3 68.9L167.2 67.3M161.9 67.9L165.8 66.4M160.4 66.9L164.3 65.4M159 65.9L162.9 64.4M157.6 64.9L161.5 63.4M156.2 63.9L160 62.4M154.7 62.9L158.6 61.4M153.3 61.9L157.2 60.4M151.9 60.9L155.8 59.4M150.4 59.9L154.3 58.5M149 58.9L152.9 57.5M147.6 58L151.5 56.5M146.1 57L150 55.5M144.7 56L148.6 54.5M143.3 55L147.2 53.5M141.9 54L145.7 52.5M140.4 53L144.3 51.5M139 52L142.9 50.6M137.6 51L141.5 49.6M136.1 50L140 48.6M134.7 49L138.6 47.6M133.3 48L137.2 46.6M131.8 47L135.7 45.6" fill="none" stroke="url(#h48)" stroke-width="0.5"/>
<path d="M188.1 87.3L182.4 83.3L176.6 79.3L170.9 75.3L165.2 71.3L159.5 67.3L153.8 63.3L148 59.3L142.3 55.3L136.6 51.3L130.9 47.3L131.8 47L137.6 51L143.3 55L149 58.9L154.7 62.9L160.4 66.9L166.2 70.9L171.9 74.9L177.6 78.9L183.3 82.8L189 86.8Z" fill="url(#g49)" stroke="url(#g49)" stroke-width="0.3"/>
<path d="M188.9 86.9L183.2 82.9L177.5 78.9L171.8 74.9L166 70.9L160.3 67L154.6 63L148.9 59L143.2 55L137.4 51L131.7 47" fill="none" stroke="url(#h49)" stroke-width="0.7"/>
<path d="M187.1 87.8L181.4 83.8L175.7 79.8L169.9 75.7L164.2 71.7L158.5 67.7L152.8 63.7L147.1 59.7L141.3 55.7L135.6 51.7L129.9 47.7L130.9 47.3L136.6 51.3L142.3 55.3L148 59.3L153.8 63.3L159.5 67.3L165.2 71.3L170.9 75.3L176.6 79.3L182.4 83.3L188.1 87.3Z" fill="url(#g50)" stroke="url(#g50)" stroke-width="0.3"/>
<path d="M186.1 88.3L180.4 84.2L174.7 80.2L169 76.2L163.2 72.2L157.5 68.1L151.8 64.1L146.1 60.1L140.4 56.1L134.6 52.1L128.9 48L129.9 47.7L135.6 51.7L141.3 55.7L147.1 59.7L152.8 63.7L158.5 67.7L164.2 71.7L169.9 75.7L175.7 79.8L181.4 83.8L187.1 87.8Z" fill="url(#g51)" stroke="url(#g51)" stroke-width="0.3"/>
<path d="M185.2 88.8L179.4 84.7L173.7 80.7L168 76.6L162.3 72.6L156.6 68.6L150.8 64.5L145.1 60.5L139.4 56.5L133.7 52.4L128 48.4L128.9 48L134.6 52.1L140.4 56.1L146.1 60.1L151.8 64.1L157.5 68.1L163.2 72.2L169 76.2L174.7 80.2L180.4 84.2L186.1 88.3Z" fill="url(#g52)" stroke="url(#g52)" stroke-width="0.3"/>
<path d="M185.2 88.8L189 86.8M183.7 87.8L187.6 85.8M182.3 86.7L186.2 84.8M180.9 85.7L184.8 83.8M179.4 84.7L183.3 82.8M178 83.7L181.9 81.8M176.6 82.7L180.5 80.8M175.1 81.7L179 79.9M173.7 80.7L177.6 78.9M172.3 79.7L176.2 77.9M170.9 78.7L174.7 76.9M169.4 77.7L173.3 75.9M168 76.6L171.9 74.9M166.6 75.6L170.5 73.9M165.1 74.6L169 72.9M163.7 73.6L167.6 71.9M162.3 72.6L166.2 70.9M160.8 71.6L164.7 69.9M159.4 70.6L163.3 68.9M158 69.6L161.9 67.9M156.6 68.6L160.4 66.9M155.1 67.6L159 65.9M153.7 66.6L157.6 64.9M152.3 65.5L156.2 63.9M150.8 64.5L154.7 62.9M149.4 63.5L153.3 61.9M148 62.5L151.9 60.9M146.5 61.5L150.4 59.9M145.1 60.5L149 58.9M143.7 59.5L147.6 58M142.3 58.5L146.1 57M140.8 57.5L144.7 56M139.4 56.5L143.3 55M138 55.4L141.9 54M136.5 54.4L140.4 53M135.1 53.4L139 52M133.7 52.4L137.6 51M132.2 51.4L136.1 50M130.8 50.4L134.7 49M129.4 49.4L133.3 48M128 48.4L131.8 47" fill="none" stroke="url(#h52)" stroke-width="0.5"/>
<path d="M185.5 88.6L179.7 84.6L174 80.5L168.3 76.5L162.6 72.5L156.9 68.4L151.1 64.4L145.4 60.4L139.7 56.3L134 52.3L128.3 48.3" fill="none" stroke="url(#h52)" stroke-width="0.7"/>
<path d="M184.2 89.3L178.5 85.2L172.7 81.2L167 77.1L161.3 73.1L155.6 69L149.9 65L144.1 60.9L138.4 56.9L132.7 52.8L127 48.7L128 48.4L133.7 52.4L139.4 56.5L145.1 60.5L150.8 64.5L156.6 68.6L162.3 72.6L168 76.6L173.7 80.7L179.4 84.7L185.2 88.8Z" fill="url(#g53)" stroke="url(#g53)" stroke-width="0.3"/>
<path d="M183.2 89.8L177.5 85.8L171.8 81.7L166.1 77.6L160.3 73.6L154.6 69.5L148.9 65.5L143.2 61.4L137.5 57.4L131.7 53.3L126 49.3L127 48.7L132.7 52.8L138.4 56.9L144.1 60.9L149.9 65L155.6 69L161.3 73.1L167 77.1L172.7 81.2L178.5 85.2L184.2 89.3Z" fill="url(#g54)" stroke="url(#g54)" stroke-width="0.3"/>
<path d="M182.2 90.4L176.5 86.3L170.8 82.3L165.1 78.2L159.4 74.2L153.6 70.2L147.9 66.1L142.2 62.1L136.5 58L130.8 54L125 50L126 49.3L131.7 53.3L137.5 57.4L143.2 61.4L148.9 65.5L154.6 69.5L160.3 73.6L166.1 77.6L171.8 81.7L177.5 85.8L183.2 89.8Z" fill="url(#g55)" stroke="url(#g55)" stroke-width="0.3"/>
<path d="M181.3 90.9L175.5 86.9L169.8 82.9L164.1 78.9L158.4 74.9L152.7 70.9L146.9 66.8L141.2 62.8L135.5 58.8L129.8 54.8L124.1 50.8L125 50L130.8 54L136.5 58L142.2 62.1L147.9 66.1L153.6 70.2L159.4 74.2L165.1 78.2L170.8 82.3L176.5 86.3L182.2 90.4Z" fill="url(#g56)" stroke="url(#g56)" stroke-width="0.3"/>
<path d="M181.3 90.9L185.2 88.8M179.8 89.9L183.7 87.8M178.4 88.9L182.3 86.7M177 87.9L180.9 85.7M175.5 86.9L179.4 84.7M174.1 85.9L178 83.7M172.7 84.9L176.6 82.7M171.3 83.9L175.1 81.7M169.8 82.9L173.7 80.7M168.4 81.9L172.3 79.7M167 80.9L170.9 78.7M165.5 79.9L169.4 77.7M164.1 78.9L168 76.6M162.7 77.9L166.6 75.6M161.2 76.9L165.1 74.6M159.8 75.9L163.7 73.6M158.4 74.9L162.3 72.6M157 73.9L160.8 71.6M155.5 72.9L159.4 70.6M154.1 71.9L158 69.6M152.7 70.9L156.6 68.6M151.2 69.9L155.1 67.6M149.8 68.8L153.7 66.6M148.4 67.8L152.3 65.5M146.9 66.8L150.8 64.5M145.5 65.8L149.4 63.5M144.1 64.8L148 62.5M142.7 63.8L146.5 61.5M141.2 62.8L145.1 60.5M139.8 61.8L143.7 59.5M138.4 60.8L142.3 58.5M136.9 59.8L140.8 57.5M135.5 58.8L139.4 56.5M134.1 57.8L138 55.4M132.6 56.8L136.5 54.4M131.2 55.8L135.1 53.4M129.8 54.8L133.7 52.4M128.4 53.8L132.2 51.4M126.9 52.8L130.8 50.4M125.5 51.8L129.4 49.4M124.1 50.8L128 48.4" fill="none" stroke="url(#h56)" stroke-width="0.5"/>
<path d="M182.1 90.4L176.4 86.4L170.7 82.4L164.9 78.3L159.2 74.3L153.5 70.2L147.8 66.2L142.1 62.2L136.3 58.1L130.6 54.1L124.9 50.1" fill="none" stroke="url(#h56)" stroke-width="0.7"/>
<path d="M180.3 91.7L174.6 87.7L168.9 83.7L163.1 79.7L157.4 75.7L151.7 71.7L146 67.7L140.3 63.7L134.5 59.7L128.8 55.7L123.1 51.7L124.1 50.8L129.8 54.8L135.5 58.8L141.2 62.8L146.9 66.8L152.7 70.9L158.4 74.9L164.1 78.9L169.8 82.9L175.5 86.9L181.3 90.9Z" fill="url(#g57)" stroke="url(#g57)" stroke-width="0.3"/>
<path d="M179.3 92.6L173.6 88.7L167.9 84.7L162.2 80.7L156.4 76.7L150.7 72.7L145 68.7L139.3 64.7L133.6 60.8L127.8 56.8L122.1 52.8L123.1 51.7L128.8 55.7L134.5 59.7L140.3 63.7L146 67.7L151.7 71.7L157.4 75.7L163.1 79.7L168.9 83.7L174.6 87.7L180.3 91.7Z" fill="url(#g58)" stroke="url(#g58)" stroke-width="0.3"/>
<path d="M178.4 93.8L172.6 89.8L166.9 85.8L161.2 81.8L155.5 77.8L149.8 73.8L144 69.9L138.3 65.9L132.6 61.9L126.9 57.9L121.2 53.9L122.1 52.8L127.8 56.8L133.6 60.8L139.3 64.7L145 68.7L150.7 72.7L156.4 76.7L162.2 80.7L167.9 84.7L173.6 88.7L179.3 92.6Z" fill="url(#g59)" stroke="url(#g59)" stroke-width="0.3"/>
<path d="M179.1 92.9L173.3 88.9L167.6 84.9L161.9 81L156.2 77L150.5 73L144.7 69L139 65L133.3 61.1L127.6 57.1L121.9 53.1" fill="none" stroke="url(#h59)" stroke-width="0.7"/>
<path d="M177.4 95.1L171.7 91.1L165.9 87.1L160.2 83.1L154.5 79.1L148.8 75.1L143.1 71.1L137.3 67.1L131.6 63.1L125.9 59.1L120.2 55.1L121.2 53.9L126.9 57.9L132.6 61.9L138.3 65.9L144 69.9L149.8 73.8L155.5 77.8L161.2 81.8L166.9 85.8L172.6 89.8L178.4 93.8Z" fill="url(#g60)" stroke="url(#g60)" stroke-width="0.3"/>
<path d="M177.4 95.1L181.3 90.9M175.9 94.1L179.8 89.9M174.5 93.1L178.4 88.9M173.1 92.1L177 87.9M171.7 91.1L175.5 86.9M170.2 90.1L174.1 85.9M168.8 89.1L172.7 84.9M167.4 88.1L171.3 83.9M165.9 87.1L169.8 82.9M164.5 86.1L168.4 81.9M163.1 85.1L167 80.9M161.7 84.1L165.5 79.9M160.2 83.1L164.1 78.9M158.8 82.1L162.7 77.9M157.4 81.1L161.2 76.9M155.9 80.1L159.8 75.9M154.5 79.1L158.4 74.9M153.1 78.1L157 73.9M151.6 77.1L155.5 72.9M150.2 76.1L154.1 71.9M148.8 75.1L152.7 70.9M147.3 74.1L151.2 69.9M145.9 73.1L149.8 68.8M144.5 72.1L148.4 67.8M143.1 71.1L146.9 66.8M141.6 70.1L145.5 65.8M140.2 69.1L144.1 64.8M138.8 68.1L142.7 63.8M137.3 67.1L141.2 62.8M135.9 66.1L139.8 61.8M134.5 65.1L138.4 60.8M133.1 64.1L136.9 59.8M131.6 63.1L135.5 58.8M130.2 62.1L134.1 57.8M128.8 61.1L132.6 56.8M127.3 60.1L131.2 55.8M125.9 59.1L129.8 54.8M124.5 58.1L128.4 53.8M123 57.1L126.9 52.8M121.6 56.1L125.5 51.8M120.2 55.1L124.1 50.8" fill="none" stroke="url(#h60)" stroke-width="0.5"/>
<path d="M176.4 96.5L170.7 92.5L165 88.5L159.2 84.4L153.5 80.4L147.8 76.4L142.1 72.4L136.4 68.4L130.6 64.4L124.9 60.4L119.2 56.4L120.2 55.1L125.9 59.1L131.6 63.1L137.3 67.1L143.1 71.1L148.8 75.1L154.5 79.1L160.2 83.1L165.9 87.1L171.7 91.1L177.4 95.1Z" fill="url(#g61)" stroke="url(#g61)" stroke-width="0.3"/>
<path d="M175.4 98L169.7 94L164 89.9L158.3 85.9L152.6 81.9L146.8 77.8L141.1 73.8L135.4 69.8L129.7 65.7L124 61.7L118.2 57.6L119.2 56.4L124.9 60.4L130.6 64.4L136.4 68.4L142.1 72.4L147.8 76.4L153.5 80.4L159.2 84.4L165 88.5L170.7 92.5L176.4 96.5Z" fill="url(#g62)" stroke="url(#g62)" stroke-width="0.3"/>
<path d="M176.4 96.5L170.7 92.5L164.9 88.5L159.2 84.5L153.5 80.5L147.8 76.5L142.1 72.5L136.3 68.5L130.6 64.4L124.9 60.4L119.2 56.4" fill="none" stroke="url(#h62)" stroke-width="0.7"/>
<path d="M174.5 99.7L168.7 95.6L163 91.5L157.3 87.5L151.6 83.4L145.9 79.4L140.1 75.3L134.4 71.2L128.7 67.2L123 63.1L117.3 59L118.2 57.6L124 61.7L129.7 65.7L135.4 69.8L141.1 73.8L146.8 77.8L152.6 81.9L158.3 85.9L164 89.9L169.7 94L175.4 98Z" fill="url(#g63)" stroke="url(#g63)" stroke-width="0.3"/>
<path d="M173.5 101.9L167.8 97.8L162.1 93.7L156.3 89.6L150.6 85.5L144.9 81.3L139.2 77.2L133.5 73.1L127.7 69L122 64.8L116.3 60.7L117.3 59L123 63.1L128.7 67.2L134.4 71.2L140.1 75.3L145.9 79.4L151.6 83.4L157.3 87.5L163 91.5L168.7 95.6L174.5 99.7Z" fill="url(#g64)" stroke="url(#g64)" stroke-width="0.3"/>
<path d="M173.5 101.9L177.4 95.1M172.1 100.9L175.9 94.1M170.6 99.9L174.5 93.1M169.2 98.8L173.1 92.1M167.8 97.8L171.7 91.1M166.3 96.8L170.2 90.1M164.9 95.8L168.8 89.1M163.5 94.7L167.4 88.1M162.1 93.7L165.9 87.1M160.6 92.7L164.5 86.1M159.2 91.6L163.1 85.1M157.8 90.6L161.7 84.1M156.3 89.6L160.2 83.1M154.9 88.5L158.8 82.1M153.5 87.5L157.4 81.1M152 86.5L155.9 80.1M150.6 85.5L154.5 79.1M149.2 84.4L153.1 78.1M147.8 83.4L151.6 77.1M146.3 82.4L150.2 76.1M144.9 81.3L148.8 75.1M143.5 80.3L147.3 74.1M142 79.3L145.9 73.1M140.6 78.2L144.5 72.1M139.2 77.2L143.1 71.1M137.7 76.2L141.6 70.1M136.3 75.1L140.2 69.1M134.9 74.1L138.8 68.1M133.5 73.1L137.3 67.1M132 72.1L135.9 66.1M130.6 71L134.5 65.1M129.2 70L133.1 64.1M127.7 69L131.6 63.1M126.3 67.9L130.2 62.1M124.9 66.9L128.8 61.1M123.4 65.9L127.3 60.1M122 64.8L125.9 59.1M120.6 63.8L124.5 58.1M119.2 62.8L123 57.1M117.7 61.8L121.6 56.1M116.3 60.7L120.2 55.1" fill="none" stroke="url(#h64)" stroke-width="0.5"/>
<path d="M173.9 100.8L168.2 96.7L162.5 92.7L156.8 88.6L151 84.5L145.3 80.4L139.6 76.3L133.9 72.2L128.2 68.1L122.4 64L116.7 59.9" fill="none" stroke="url(#h64)" stroke-width="0.7"/>
<path d="M172.5 104.8L166.8 100.6L161.1 96.4L155.4 92.2L149.6 87.9L143.9 83.7L138.2 79.5L132.5 75.3L126.8 71.1L121 66.9L115.3 62.7L116.3 60.7L122 64.8L127.7 69L133.5 73.1L139.2 77.2L144.9 81.3L150.6 85.5L156.3 89.6L162.1 93.7L167.8 97.8L173.5 101.9Z" fill="url(#g65)" stroke="url(#g65)" stroke-width="0.3"/>
<path d="M171.5 108L165.8 103.7L160.1 99.4L154.4 95L148.7 90.7L142.9 86.4L137.2 82.1L131.5 77.8L125.8 73.5L120.1 69.1L114.3 64.8L115.3 62.7L121 66.9L126.8 71.1L132.5 75.3L138.2 79.5L143.9 83.7L149.6 87.9L155.4 92.2L161.1 96.4L166.8 100.6L172.5 104.8Z" fill="url(#g66)" stroke="url(#g66)" stroke-width="0.3"/>
<path d="M172 106.4L166.3 102.1L160.6 97.9L154.9 93.6L149.1 89.3L143.4 85.1L137.7 80.8L132 76.6L126.3 72.3L120.5 68L114.8 63.8" fill="none" stroke="url(#h66)" stroke-width="0.7"/>
<path d="M170.6 111.3L164.9 106.9L159.1 102.5L153.4 98.1L147.7 93.6L142 89.2L136.3 84.8L130.5 80.4L124.8 76L119.1 71.6L113.4 67.1L114.3 64.8L120.1 69.1L125.8 73.5L131.5 77.8L137.2 82.1L142.9 86.4L148.7 90.7L154.4 95L160.1 99.4L165.8 103.7L171.5 108Z" fill="url(#g67)" stroke="url(#g67)" stroke-width="0.3"/>
<path d="M169.6 114.5L163.9 110L158.2 105.5L152.4 101L146.7 96.5L141 92L135.3 87.5L129.6 83L123.8 78.5L118.1 74L112.4 69.6L113.4 67.1L119.1 71.6L124.8 76L130.5 80.4L136.3 84.8L142 89.2L147.7 93.6L153.4 98.1L159.1 102.5L164.9 106.9L170.6 111.3Z" fill="url(#g68)" stroke="url(#g68)" stroke-width="0.3"/>
<path d="M169.6 114.5L173.5 101.9M168.2 113.4L172.1 100.9M166.7 112.3L170.6 99.9M165.3 111.1L169.2 98.8M163.9 110L167.8 97.8M162.5 108.9L166.3 96.8M161 107.8L164.9 95.8M159.6 106.6L163.5 94.7M158.2 105.5L162.1 93.7M156.7 104.4L160.6 92.7M155.3 103.3L159.2 91.6M153.9 102.1L157.8 90.6M152.4 101L156.3 89.6M151 99.9L154.9 88.5M149.6 98.8L153.5 87.5M148.2 97.6L152 86.5M146.7 96.5L150.6 85.5M145.3 95.4L149.2 84.4M143.9 94.3L147.8 83.4M142.4 93.2L146.3 82.4M141 92L144.9 81.3M139.6 90.9L143.5 80.3M138.1 89.8L142 79.3M136.7 88.7L140.6 78.2M135.3 87.5L139.2 77.2M133.9 86.4L137.7 76.2M132.4 85.3L136.3 75.1M131 84.2L134.9 74.1M129.6 83L133.5 73.1M128.1 81.9L132 72.1M126.7 80.8L130.6 71M125.3 79.7L129.2 70M123.8 78.5L127.7 69M122.4 77.4L126.3 67.9M121 76.3L124.9 66.9M119.6 75.2L123.4 65.9M118.1 74L122 64.8M116.7 72.9L120.6 63.8M115.3 71.8L119.2 62.8M113.8 70.7L117.7 61.8M112.4 69.6L116.3 60.7" fill="none" stroke="url(#h68)" stroke-width="0.5"/>
<path d="M170.3 112.2L164.6 107.8L158.9 103.3L153.1 98.9L147.4 94.5L141.7 90L136 85.6L130.3 81.1L124.5 76.7L118.8 72.3L113.1 67.8" fill="none" stroke="url(#h68)" stroke-width="0.7"/>
<path d="M168.6 117.4L162.9 112.9L157.2 108.4L151.5 103.8L145.8 99.3L140 94.7L134.3 90.2L128.6 85.6L122.9 81.1L117.2 76.5L111.4 72L112.4 69.6L118.1 74L123.8 78.5L129.6 83L135.3 87.5L141 92L146.7 96.5L152.4 101L158.2 105.5L163.9 110L169.6 114.5Z" fill="url(#g69)" stroke="url(#g69)" stroke-width="0.3"/>
<path d="M167.7 120.4L161.9 115.8L156.2 111.2L150.5 106.6L144.8 102L139.1 97.4L133.3 92.8L127.6 88.2L121.9 83.6L116.2 79L110.5 74.4L111.4 72L117.2 76.5L122.9 81.1L128.6 85.6L134.3 90.2L140 94.7L145.8 99.3L151.5 103.8L157.2 108.4L162.9 112.9L168.6 117.4Z" fill="url(#g70)" stroke="url(#g70)" stroke-width="0.3"/>
<path d="M168.6 117.7L162.8 113.1L157.1 108.6L151.4 104L145.7 99.5L140 94.9L134.2 90.4L128.5 85.8L122.8 81.3L117.1 76.7L111.4 72.2" fill="none" stroke="url(#h70)" stroke-width="0.7"/>
<path d="M166.7 123.3L161 118.6L155.2 114L149.5 109.3L143.8 104.7L138.1 100L132.4 95.4L126.6 90.8L120.9 86.1L115.2 81.5L109.5 76.8L110.5 74.4L116.2 79L121.9 83.6L127.6 88.2L133.3 92.8L139.1 97.4L144.8 102L150.5 106.6L156.2 111.2L161.9 115.8L167.7 120.4Z" fill="url(#g71)" stroke="url(#g71)" stroke-width="0.3"/>
<path d="M166.8 123L161.1 118.4L155.3 113.7L149.6 109.1L143.9 104.4L138.2 99.8L132.5 95.2L126.7 90.5L121 85.9L115.3 81.2L109.6 76.6" fill="none" stroke="url(#h71)" stroke-width="0.7"/>
<path d="M165.7 126.2L160 121.5L154.3 116.8L148.6 112.1L142.8 107.4L137.1 102.6L131.4 97.9L125.7 93.2L120 88.5L114.2 83.8L108.5 79.1L109.5 76.8L115.2 81.5L120.9 86.1L126.6 90.8L132.4 95.4L138.1 100L143.8 104.7L149.5 109.3L155.2 114L161 118.6L166.7 123.3Z" fill="url(#g72)" stroke="url(#g72)" stroke-width="0.3"/>
<path d="M165.7 126.2L169.6 114.5M164.3 125L168.2 113.4M162.9 123.8L166.7 112.3M161.4 122.6L165.3 111.1M160 121.5L163.9 110M158.6 120.3L162.5 108.9M157.1 119.1L161 107.8M155.7 117.9L159.6 106.6M154.3 116.8L158.2 105.5M152.8 115.6L156.7 104.4M151.4 114.4L155.3 103.3M150 113.2L153.9 102.1M148.6 112.1L152.4 101M147.1 110.9L151 99.9M145.7 109.7L149.6 98.8M144.3 108.5L148.2 97.6M142.8 107.4L146.7 96.5M141.4 106.2L145.3 95.4M140 105L143.9 94.3M138.5 103.8L142.4 93.2M137.1 102.6L141 92M135.7 101.5L139.6 90.9M134.3 100.3L138.1 89.8M132.8 99.1L136.7 88.7M131.4 97.9L135.3 87.5M130 96.8L133.9 86.4M128.5 95.6L132.4 85.3M127.1 94.4L131 84.2M125.7 93.2L129.6 83M124.2 92.1L128.1 81.9M122.8 90.9L126.7 80.8M121.4 89.7L125.3 79.7M120 88.5L123.8 78.5M118.5 87.4L122.4 77.4M117.1 86.2L121 76.3M115.7 85L119.6 75.2M114.2 83.8L118.1 74M112.8 82.7L116.7 72.9M111.4 81.5L115.3 71.8M109.9 80.3L113.8 70.7M108.5 79.1L112.4 69.6" fill="none" stroke="url(#h72)" stroke-width="0.5"/>
<path d="M164.7 129.1L159 124.3L153.3 119.5L147.6 114.8L141.9 110L136.1 105.3L130.4 100.5L124.7 95.7L119 91L113.3 86.2L107.5 81.4L108.5 79.1L114.2 83.8L120 88.5L125.7 93.2L131.4 97.9L137.1 102.6L142.8 107.4L148.6 112.1L154.3 116.8L160 121.5L165.7 126.2Z" fill="url(#g73)" stroke="url(#g73)" stroke-width="0.3"/>
<path d="M165 128.4L159.3 123.6L153.5 118.9L147.8 114.1L142.1 109.4L136.4 104.6L130.7 99.9L124.9 95.1L119.2 90.4L113.5 85.6L107.8 80.9" fill="none" stroke="url(#h73)" stroke-width="0.7"/>
<path d="M163.8 132L158.1 127.2L152.3 122.3L146.6 117.5L140.9 112.7L135.2 107.9L129.5 103.1L123.7 98.2L118 93.4L112.3 88.6L106.6 83.8L107.5 81.4L113.3 86.2L119 91L124.7 95.7L130.4 100.5L136.1 105.3L141.9 110L147.6 114.8L153.3 119.5L159 124.3L164.7 129.1Z" fill="url(#g74)" stroke="url(#g74)" stroke-width="0.3"/>
<path d="M162.8 134.9L157.1 130L151.4 125.1L145.6 120.3L139.9 115.4L134.2 110.5L128.5 105.6L122.8 100.8L117 95.9L111.3 91L105.6 86.1L106.6 83.8L112.3 88.6L118 93.4L123.7 98.2L129.5 103.1L135.2 107.9L140.9 112.7L146.6 117.5L152.3 122.3L158.1 127.2L163.8 132Z" fill="url(#g75)" stroke="url(#g75)" stroke-width="0.3"/>
<path d="M163.2 133.8L157.5 128.9L151.7 124.1L146 119.2L140.3 114.3L134.6 109.5L128.9 104.6L123.1 99.8L117.4 94.9L111.7 90.1L106 85.2" fill="none" stroke="url(#h75)" stroke-width="0.7"/>
<path d="M161.8 137.8L156.1 132.9L150.4 128L144.7 123L138.9 118.1L133.2 113.2L127.5 108.3L121.8 103.3L116.1 98.4L110.3 93.5L104.6 88.6L105.6 86.1L111.3 91L117 95.9L122.8 100.8L128.5 105.6L134.2 110.5L139.9 115.4L145.6 120.3L151.4 125.1L157.1 130L162.8 134.9Z" fill="url(#g76)" stroke="url(#g76)" stroke-width="0.3"/>
<path d="M161.8 137.8L165.7 126.2M160.4 136.6L164.3 125M159 135.4L162.9 123.8M157.5 134.1L161.4 122.6M156.1 132.9L160 121.5M154.7 131.7L158.6 120.3M153.2 130.4L157.1 119.1M151.8 129.2L155.7 117.9M150.4 128L154.3 116.8M149 126.7L152.8 115.6M147.5 125.5L151.4 114.4M146.1 124.3L150 113.2M144.7 123L148.6 112.1M143.2 121.8L147.1 110.9M141.8 120.6L145.7 109.7M140.4 119.4L144.3 108.5M138.9 118.1L142.8 107.4M137.5 116.9L141.4 106.2M136.1 115.7L140 105M134.7 114.4L138.5 103.8M133.2 113.2L137.1 102.6M131.8 112L135.7 101.5M130.4 110.7L134.3 100.3M128.9 109.5L132.8 99.1M127.5 108.3L131.4 97.9M126.1 107L130 96.8M124.6 105.8L128.5 95.6M123.2 104.6L127.1 94.4M121.8 103.3L125.7 93.2M120.4 102.1L124.2 92.1M118.9 100.9L122.8 90.9M117.5 99.7L121.4 89.7M116.1 98.4L120 88.5M114.6 97.2L118.5 87.4M113.2 96L117.1 86.2M111.8 94.7L115.7 85M110.3 93.5L114.2 83.8M108.9 92.3L112.8 82.7M107.5 91L111.4 81.5M106.1 89.8L109.9 80.3M104.6 88.6L108.5 79.1" fill="none" stroke="url(#h76)" stroke-width="0.5"/>
<path d="M160.9 140.7L155.1 135.8L149.4 130.8L143.7 125.8L138 120.9L132.3 115.9L126.5 111L120.8 106L115.1 101L109.4 96.1L103.7 91.1L104.6 88.6L110.3 93.5L116.1 98.4L121.8 103.3L127.5 108.3L133.2 113.2L138.9 118.1L144.7 123L150.4 128L156.1 132.9L161.8 137.8Z" fill="url(#g77)" stroke="url(#g77)" stroke-width="0.3"/>
<path d="M161.4 139.1L155.7 134.1L150 129.2L144.2 124.3L138.5 119.3L132.8 114.4L127.1 109.4L121.4 104.5L115.6 99.5L109.9 94.6L104.2 89.7" fill="none" stroke="url(#h77)" stroke-width="0.7"/>
<path d="M159.9 143.7L154.2 138.7L148.4 133.7L142.7 128.7L137 123.7L131.3 118.7L125.6 113.7L119.8 108.7L114.1 103.7L108.4 98.7L102.7 93.7L103.7 91.1L109.4 96.1L115.1 101L120.8 106L126.5 111L132.3 115.9L138 120.9L143.7 125.8L149.4 130.8L155.1 135.8L160.9 140.7Z" fill="url(#g78)" stroke="url(#g78)" stroke-width="0.3"/>
<path d="M158.9 146.5L153.2 141.5L147.5 136.5L141.8 131.5L136 126.5L130.3 121.5L124.6 116.5L118.9 111.5L113.2 106.5L107.4 101.5L101.7 96.5L102.7 93.7L108.4 98.7L114.1 103.7L119.8 108.7L125.6 113.7L131.3 118.7L137 123.7L142.7 128.7L148.4 133.7L154.2 138.7L159.9 143.7Z" fill="url(#g79)" stroke="url(#g79)" stroke-width="0.3"/>
<path d="M159.7 144.3L154 139.3L148.2 134.3L142.5 129.3L136.8 124.3L131.1 119.3L125.4 114.3L119.6 109.3L113.9 104.3L108.2 99.3L102.5 94.3" fill="none" stroke="url(#h79)" stroke-width="0.7"/>
<path d="M157.9 149.4L152.2 144.4L146.5 139.4L140.8 134.4L135.1 129.4L129.3 124.4L123.6 119.4L117.9 114.4L112.2 109.4L106.5 104.4L100.7 99.4L101.7 96.5L107.4 101.5L113.2 106.5L118.9 111.5L124.6 116.5L130.3 121.5L136 126.5L141.8 131.5L147.5 136.5L153.2 141.5L158.9 146.5Z" fill="url(#g80)" stroke="url(#g80)" stroke-width="0.3"/>
<path d="M157.9 149.4L161.8 137.8M156.5 148.2L160.4 136.6M155.1 146.9L159 135.4M153.7 145.7L157.5 134.1M152.2 144.4L156.1 132.9M150.8 143.2L154.7 131.7M149.4 141.9L153.2 130.4M147.9 140.7L151.8 129.2M146.5 139.4L150.4 128M145.1 138.2L149 126.7M143.6 136.9L147.5 125.5M142.2 135.7L146.1 124.3M140.8 134.4L144.7 123M139.3 133.2L143.2 121.8M137.9 131.9L141.8 120.6M136.5 130.7L140.4 119.4M135.1 129.4L138.9 118.1M133.6 128.2L137.5 116.9M132.2 126.9L136.1 115.7M130.8 125.7L134.7 114.4M129.3 124.4L133.2 113.2M127.9 123.2L131.8 112M126.5 121.9L130.4 110.7M125.1 120.7L128.9 109.5M123.6 119.4L127.5 108.3M122.2 118.2L126.1 107M120.8 116.9L124.6 105.8M119.3 115.7L123.2 104.6M117.9 114.4L121.8 103.3M116.5 113.2L120.4 102.1M115 111.9L118.9 100.9M113.6 110.7L117.5 99.7M112.2 109.4L116.1 98.4M110.8 108.2L114.6 97.2M109.3 106.9L113.2 96M107.9 105.7L111.8 94.7M106.5 104.4L110.3 93.5M105 103.2L108.9 92.3M103.6 101.9L107.5 91M102.2 100.7L106.1 89.8M100.7 99.4L104.6 88.6" fill="none" stroke="url(#h80)" stroke-width="0.5"/>
<path d="M158 149.3L152.3 144.3L146.5 139.3L140.8 134.3L135.1 129.3L129.4 124.3L123.7 119.3L117.9 114.3L112.2 109.3L106.5 104.3L100.8 99.3" fill="none" stroke="url(#h80)" stroke-width="0.7"/>
<path d="M157 152.3L151.2 147.3L145.5 142.4L139.8 137.4L134.1 132.4L128.4 127.5L122.6 122.5L116.9 117.5L111.2 112.6L105.5 107.6L99.8 102.6L100.7 99.4L106.5 104.4L112.2 109.4L117.9 114.4L123.6 119.4L129.3 124.4L135.1 129.4L140.8 134.4L146.5 139.4L152.2 144.4L157.9 149.4Z" fill="url(#g81)" stroke="url(#g81)" stroke-width="0.3"/>
<path d="M156 155.2L150.3 150.3L144.6 145.4L138.8 140.5L133.1 135.6L127.4 130.7L121.7 125.8L116 121L110.2 116.1L104.5 111.2L98.8 106.3L99.8 102.6L105.5 107.6L111.2 112.6L116.9 117.5L122.6 122.5L128.4 127.5L134.1 132.4L139.8 137.4L145.5 142.4L151.2 147.3L157 152.3Z" fill="url(#g82)" stroke="url(#g82)" stroke-width="0.3"/>
<path d="M156.4 154L150.7 149.1L145 144.2L139.2 139.2L133.5 134.3L127.8 129.4L122.1 124.4L116.4 119.5L110.6 114.6L104.9 109.7L99.2 104.7" fill="none" stroke="url(#h82)" stroke-width="0.7"/>
<path d="M155 158.1L149.3 153.4L143.6 148.6L137.9 143.8L132.1 139L126.4 134.2L120.7 129.4L115 124.6L109.3 119.8L103.5 115L97.8 110.2L98.8 106.3L104.5 111.2L110.2 116.1L116 121L121.7 125.8L127.4 130.7L133.1 135.6L138.8 140.5L144.6 145.4L150.3 150.3L156 155.2Z" fill="url(#g83)" stroke="url(#g83)" stroke-width="0.3"/>
<path d="M154.1 161.1L148.3 156.4L142.6 151.7L136.9 147L131.2 142.4L125.5 137.7L119.7 133L114 128.3L108.3 123.6L102.6 118.9L96.9 114.2L97.8 110.2L103.5 115L109.3 119.8L115 124.6L120.7 129.4L126.4 134.2L132.1 139L137.9 143.8L143.6 148.6L149.3 153.4L155 158.1Z" fill="url(#g84)" stroke="url(#g84)" stroke-width="0.3"/>
<path d="M154.1 161.1L157.9 149.4M152.6 160L156.5 148.2M151.2 158.8L155.1 146.9M149.8 157.6L153.7 145.7M148.3 156.4L152.2 144.4M146.9 155.3L150.8 143.2M145.5 154.1L149.4 141.9M144 152.9L147.9 140.7M142.6 151.7L146.5 139.4M141.2 150.6L145.1 138.2M139.8 149.4L143.6 136.9M138.3 148.2L142.2 135.7M136.9 147L140.8 134.4M135.5 145.9L139.3 133.2M134 144.7L137.9 131.9M132.6 143.5L136.5 130.7M131.2 142.4L135.1 129.4M129.7 141.2L133.6 128.2M128.3 140L132.2 126.9M126.9 138.8L130.8 125.7M125.5 137.7L129.3 124.4M124 136.5L127.9 123.2M122.6 135.3L126.5 121.9M121.2 134.1L125.1 120.7M119.7 133L123.6 119.4M118.3 131.8L122.2 118.2M116.9 130.6L120.8 116.9M115.4 129.4L119.3 115.7M114 128.3L117.9 114.4M112.6 127.1L116.5 113.2M111.2 125.9L115 111.9M109.7 124.8L113.6 110.7M108.3 123.6L112.2 109.4M106.9 122.4L110.8 108.2M105.4 121.2L109.3 106.9M104 120.1L107.9 105.7M102.6 118.9L106.5 104.4M101.1 117.7L105 103.2M99.7 116.5L103.6 101.9M98.3 115.4L102.2 100.7M96.9 114.2L100.7 99.4" fill="none" stroke="url(#h84)" stroke-width="0.5"/>
<path d="M154.9 158.5L149.2 153.7L143.5 148.9L137.7 144.2L132 139.4L126.3 134.6L120.6 129.8L114.9 125L109.1 120.3L103.4 115.5L97.7 110.7" fill="none" stroke="url(#h84)" stroke-width="0.7"/>
<path d="M153.1 164.2L147.4 159.5L141.6 154.9L135.9 150.3L130.2 145.7L124.5 141.1L118.8 136.5L113 131.9L107.3 127.3L101.6 122.7L95.9 118.1L96.9 114.2L102.6 118.9L108.3 123.6L114 128.3L119.7 133L125.5 137.7L131.2 142.4L136.9 147L142.6 151.7L148.3 156.4L154.1 161.1Z" fill="url(#g85)" stroke="url(#g85)" stroke-width="0.3"/>
<path d="M153.4 163L147.7 158.4L142 153.8L136.3 149.1L130.6 144.5L124.8 139.9L119.1 135.2L113.4 130.6L107.7 125.9L102 121.3L96.2 116.7" fill="none" stroke="url(#h85)" stroke-width="0.7"/>
<path d="M152.1 167.3L146.4 162.8L140.7 158.3L134.9 153.8L129.2 149.2L123.5 144.7L117.8 140.2L112.1 135.7L106.3 131.2L100.6 126.7L94.9 122.2L95.9 118.1L101.6 122.7L107.3 127.3L113 131.9L118.8 136.5L124.5 141.1L130.2 145.7L135.9 150.3L141.6 154.9L147.4 159.5L153.1 164.2Z" fill="url(#g86)" stroke="url(#g86)" stroke-width="0.3"/>
<path d="M151.1 171.1L145.4 166.7L139.7 162.2L134 157.7L128.3 153.3L122.5 148.8L116.8 144.4L111.1 139.9L105.4 135.5L99.7 131L93.9 126.5L94.9 122.2L100.6 126.7L106.3 131.2L112.1 135.7L117.8 140.2L123.5 144.7L129.2 149.2L134.9 153.8L140.7 158.3L146.4 162.8L152.1 167.3Z" fill="url(#g87)" stroke="url(#g87)" stroke-width="0.3"/>
<path d="M152 167.7L146.3 163.2L140.6 158.7L134.8 154.2L129.1 149.6L123.4 145.1L117.7 140.6L112 136.1L106.2 131.6L100.5 127.1L94.8 122.6" fill="none" stroke="url(#h87)" stroke-width="0.7"/>
<path d="M150.2 175.4L144.4 170.9L138.7 166.4L133 162L127.3 157.5L121.6 153.1L115.8 148.6L110.1 144.2L104.4 139.7L98.7 135.3L93 130.8L93.9 126.5L99.7 131L105.4 135.5L111.1 139.9L116.8 144.4L122.5 148.8L128.3 153.3L134 157.7L139.7 162.2L145.4 166.7L151.1 171.1Z" fill="url(#g88)" stroke="url(#g88)" stroke-width="0.3"/>
<path d="M150.2 175.4L154.1 161.1M148.7 174.2L152.6 160M147.3 173.1L151.2 158.8M145.9 172L149.8 157.6M144.4 170.9L148.3 156.4M143 169.8L146.9 155.3M141.6 168.7L145.5 154.1M140.2 167.6L144 152.9M138.7 166.4L142.6 151.7M137.3 165.3L141.2 150.6M135.9 164.2L139.8 149.4M134.4 163.1L138.3 148.2M133 162L136.9 147M131.6 160.9L135.5 145.9M130.1 159.8L134 144.7M128.7 158.7L132.6 143.5M127.3 157.5L131.2 142.4M125.9 156.4L129.7 141.2M124.4 155.3L128.3 140M123 154.2L126.9 138.8M121.6 153.1L125.5 137.7M120.1 152L124 136.5M118.7 150.9L122.6 135.3M117.3 149.7L121.2 134.1M115.8 148.6L119.7 133M114.4 147.5L118.3 131.8M113 146.4L116.9 130.6M111.6 145.3L115.4 129.4M110.1 144.2L114 128.3M108.7 143.1L112.6 127.1M107.3 142L111.2 125.9M105.8 140.8L109.7 124.8M104.4 139.7L108.3 123.6M103 138.6L106.9 122.4M101.5 137.5L105.4 121.2M100.1 136.4L104 120.1M98.7 135.3L102.6 118.9M97.3 134.2L101.1 117.7M95.8 133L99.7 116.5M94.4 131.9L98.3 115.4M93 130.8L96.9 114.2" fill="none" stroke="url(#h88)" stroke-width="0.5"/>
<path d="M150.7 172.9L145 168.4L139.3 164L133.6 159.5L127.9 155.1L122.1 150.6L116.4 146.2L110.7 141.7L105 137.3L99.3 132.8L93.5 128.4" fill="none" stroke="url(#h88)" stroke-width="0.7"/>
<path d="M149.2 179.5L143.5 175L137.8 170.5L132 166L126.3 161.6L120.6 157.1L114.9 152.6L109.2 148.1L103.4 143.6L97.7 139.1L92 134.6L93 130.8L98.7 135.3L104.4 139.7L110.1 144.2L115.8 148.6L121.6 153.1L127.3 157.5L133 162L138.7 166.4L144.4 170.9L150.2 175.4Z" fill="url(#g89)" stroke="url(#g89)" stroke-width="0.3"/>
<path d="M149.4 178.5L143.7 174L138 169.5L132.3 165L126.6 160.5L120.8 156.1L115.1 151.6L109.4 147.1L103.7 142.6L98 138.2L92.2 133.7" fill="none" stroke="url(#h89)" stroke-width="0.7"/>
<path d="M148.2 183.1L142.5 178.5L136.8 174L131.1 169.4L125.3 164.9L119.6 160.3L113.9 155.7L108.2 151.2L102.5 146.6L96.7 142.1L91 137.5L92 134.6L97.7 139.1L103.4 143.6L109.2 148.1L114.9 152.6L120.6 157.1L126.3 161.6L132 166L137.8 170.5L143.5 175L149.2 179.5Z" fill="url(#g90)" stroke="url(#g90)" stroke-width="0.3"/>
<path d="M147.2 185.6L141.5 181L135.8 176.3L130.1 171.7L124.4 167.1L118.6 162.5L112.9 157.8L107.2 153.2L101.5 148.6L95.8 143.9L90 139.3L91 137.5L96.7 142.1L102.5 146.6L108.2 151.2L113.9 155.7L119.6 160.3L125.3 164.9L131.1 169.4L136.8 174L142.5 178.5L148.2 183.1Z" fill="url(#g91)" stroke="url(#g91)" stroke-width="0.3"/>
<path d="M147.9 184.1L142.2 179.5L136.4 175L130.7 170.4L125 165.8L119.3 161.2L113.6 156.6L107.8 152L102.1 147.4L96.4 142.8L90.7 138.2" fill="none" stroke="url(#h91)" stroke-width="0.7"/>
<path d="M146.3 186.5L140.6 181.9L134.8 177.3L129.1 172.8L123.4 168.2L117.7 163.6L112 159.1L106.2 154.5L100.5 149.9L94.8 145.4L89.1 140.8L90 139.3L95.8 143.9L101.5 148.6L107.2 153.2L112.9 157.8L118.6 162.5L124.4 167.1L130.1 171.7L135.8 176.3L141.5 181L147.2 185.6Z" fill="url(#g92)" stroke="url(#g92)" stroke-width="0.3"/>
<path d="M146.3 186.5L150.2 175.4M144.8 185.3L148.7 174.2M143.4 184.2L147.3 173.1M142 183.1L145.9 172M140.6 181.9L144.4 170.9M139.1 180.8L143 169.8M137.7 179.6L141.6 168.7M136.3 178.5L140.2 167.6M134.8 177.3L138.7 166.4M133.4 176.2L137.3 165.3M132 175.1L135.9 164.2M130.5 173.9L134.4 163.1M129.1 172.8L133 162M127.7 171.6L131.6 160.9M126.3 170.5L130.1 159.8M124.8 169.4L128.7 158.7M123.4 168.2L127.3 157.5M122 167.1L125.9 156.4M120.5 165.9L124.4 155.3M119.1 164.8L123 154.2M117.7 163.6L121.6 153.1M116.2 162.5L120.1 152M114.8 161.4L118.7 150.9M113.4 160.2L117.3 149.7M112 159.1L115.8 148.6M110.5 157.9L114.4 147.5M109.1 156.8L113 146.4M107.7 155.6L111.6 145.3M106.2 154.5L110.1 144.2M104.8 153.4L108.7 143.1M103.4 152.2L107.3 142M101.9 151.1L105.8 140.8M100.5 149.9L104.4 139.7M99.1 148.8L103 138.6M97.7 147.6L101.5 137.5M96.2 146.5L100.1 136.4M94.8 145.4L98.7 135.3M93.4 144.2L97.3 134.2M91.9 143.1L95.8 133M90.5 141.9L94.4 131.9M89.1 140.8L93 130.8" fill="none" stroke="url(#h92)" stroke-width="0.5"/>
<path d="M145.3 185.6L139.6 181.2L133.9 176.9L128.1 172.5L122.4 168.1L116.7 163.7L111 159.4L105.3 155L99.5 150.6L93.8 146.2L88.1 141.8L89.1 140.8L94.8 145.4L100.5 149.9L106.2 154.5L112 159.1L117.7 163.6L123.4 168.2L129.1 172.8L134.8 177.3L140.6 181.9L146.3 186.5Z" fill="url(#g93)" stroke="url(#g93)" stroke-width="0.3"/>
<path d="M144.3 183.9L138.6 179.7L132.9 175.5L127.2 171.3L121.5 167.1L115.7 162.9L110 158.7L104.3 154.5L98.6 150.3L92.9 146.1L87.1 141.9L88.1 141.8L93.8 146.2L99.5 150.6L105.3 155L111 159.4L116.7 163.7L122.4 168.1L128.1 172.5L133.9 176.9L139.6 181.2L145.3 185.6Z" fill="url(#g94)" stroke="url(#g94)" stroke-width="0.3"/>
<path d="M145 185.2L139.3 180.9L133.6 176.6L127.9 172.2L122.2 167.9L116.4 163.6L110.7 159.3L105 155L99.3 150.6L93.6 146.3L87.8 142" fill="none" stroke="url(#h94)" stroke-width="0.7"/>
<path d="M143.4 182.3L137.6 178.1L131.9 173.8L126.2 169.6L120.5 165.3L114.8 161.1L109 156.9L103.3 152.6L97.6 148.4L91.9 144.2L86.2 139.9L87.1 141.9L92.9 146.1L98.6 150.3L104.3 154.5L110 158.7L115.7 162.9L121.5 167.1L127.2 171.3L132.9 175.5L138.6 179.7L144.3 183.9Z" fill="url(#g95)" stroke="url(#g95)" stroke-width="0.3"/>
<path d="M142.4 181.9L136.7 177.5L130.9 173L125.2 168.6L119.5 164.1L113.8 159.7L108.1 155.2L102.3 150.8L96.6 146.3L90.9 141.9L85.2 137.5L86.2 139.9L91.9 144.2L97.6 148.4L103.3 152.6L109 156.9L114.8 161.1L120.5 165.3L126.2 169.6L131.9 173.8L137.6 178.1L143.4 182.3Z" fill="url(#g96)" stroke="url(#g96)" stroke-width="0.3"/>
<path d="M142.4 181.9L146.3 186.5M141 180.8L144.8 185.3M139.5 179.7L143.4 184.2M138.1 178.6L142 183.1M136.7 177.5L140.6 181.9M135.2 176.3L139.1 180.8M133.8 175.2L137.7 179.6M132.4 174.1L136.3 178.5M130.9 173L134.8 177.3M129.5 171.9L133.4 176.2M128.1 170.8L132 175.1M126.7 169.7L130.5 173.9M125.2 168.6L129.1 172.8M123.8 167.5L127.7 171.6M122.4 166.3L126.3 170.5M120.9 165.2L124.8 169.4M119.5 164.1L123.4 168.2M118.1 163L122 167.1M116.6 161.9L120.5 165.9M115.2 160.8L119.1 164.8M113.8 159.7L117.7 163.6M112.4 158.6L116.2 162.5M110.9 157.5L114.8 161.4M109.5 156.3L113.4 160.2M108.1 155.2L112 159.1M106.6 154.1L110.5 157.9M105.2 153L109.1 156.8M103.8 151.9L107.7 155.6M102.3 150.8L106.2 154.5M100.9 149.7L104.8 153.4M99.5 148.6L103.4 152.2M98.1 147.5L101.9 151.1M96.6 146.3L100.5 149.9M95.2 145.2L99.1 148.8M93.8 144.1L97.7 147.6M92.3 143L96.2 146.5M90.9 141.9L94.8 145.4M89.5 140.8L93.4 144.2M88 139.7L91.9 143.1M86.6 138.6L90.5 141.9M85.2 137.5L89.1 140.8" fill="none" stroke="url(#h96)" stroke-width="0.5"/>
<path d="M142.5 181.8L136.8 177.4L131.1 173L125.4 168.6L119.7 164.2L113.9 159.8L108.2 155.4L102.5 151L96.8 146.6L91.1 142.2L85.3 137.8" fill="none" stroke="url(#h96)" stroke-width="0.7"/>
<path d="M141.4 182.8L135.7 178.1L130 173.5L124.3 168.9L118.5 164.2L112.8 159.6L107.1 155L101.4 150.3L95.7 145.7L89.9 141.1L84.2 136.4L85.2 137.5L90.9 141.9L96.6 146.3L102.3 150.8L108.1 155.2L113.8 159.7L119.5 164.1L125.2 168.6L130.9 173L136.7 177.5L142.4 181.9Z" fill="url(#g97)" stroke="url(#g97)" stroke-width="0.3"/>
<path d="M140.4 184.4L134.7 179.8L129 175.1L123.3 170.4L117.6 165.8L111.8 161.1L106.1 156.4L100.4 151.8L94.7 147.1L89 142.4L83.2 137.8L84.2 136.4L89.9 141.1L95.7 145.7L101.4 150.3L107.1 155L112.8 159.6L118.5 164.2L124.3 168.9L130 173.5L135.7 178.1L141.4 182.8Z" fill="url(#g98)" stroke="url(#g98)" stroke-width="0.3"/>
<path d="M139.5 186.9L133.8 182.3L128 177.7L122.3 173.1L116.6 168.5L110.9 163.8L105.2 159.2L99.4 154.6L93.7 150L88 145.4L82.3 140.8L83.2 137.8L89 142.4L94.7 147.1L100.4 151.8L106.1 156.4L111.8 161.1L117.6 165.8L123.3 170.4L129 175.1L134.7 179.8L140.4 184.4Z" fill="url(#g99)" stroke="url(#g99)" stroke-width="0.3"/>
<path d="M139.9 185.6L134.2 181L128.5 176.3L122.8 171.7L117.1 167L111.3 162.4L105.6 157.7L99.9 153.1L94.2 148.4L88.5 143.8L82.7 139.1" fill="none" stroke="url(#h99)" stroke-width="0.7"/>
<path d="M138.5 190.1L132.8 185.6L127.1 181.2L121.3 176.7L115.6 172.2L109.9 167.7L104.2 163.2L98.5 158.7L92.7 154.2L87 149.7L81.3 145.2L82.3 140.8L88 145.4L93.7 150L99.4 154.6L105.2 159.2L110.9 163.8L116.6 168.5L122.3 173.1L128 177.7L133.8 182.3L139.5 186.9Z" fill="url(#g100)" stroke="url(#g100)" stroke-width="0.3"/>
<path d="M138.5 190.1L142.4 181.9M137.1 189L141 180.8M135.6 187.9L139.5 179.7M134.2 186.8L138.1 178.6M132.8 185.6L136.7 177.5M131.3 184.5L135.2 176.3M129.9 183.4L133.8 175.2M128.5 182.3L132.4 174.1M127.1 181.2L130.9 173M125.6 180L129.5 171.9M124.2 178.9L128.1 170.8M122.8 177.8L126.7 169.7M121.3 176.7L125.2 168.6M119.9 175.5L123.8 167.5M118.5 174.4L122.4 166.3M117.1 173.3L120.9 165.2M115.6 172.2L119.5 164.1M114.2 171L118.1 163M112.8 169.9L116.6 161.9M111.3 168.8L115.2 160.8M109.9 167.7L113.8 159.7M108.5 166.5L112.4 158.6M107 165.4L110.9 157.5M105.6 164.3L109.5 156.3M104.2 163.2L108.1 155.2M102.8 162.1L106.6 154.1M101.3 160.9L105.2 153M99.9 159.8L103.8 151.9M98.5 158.7L102.3 150.8M97 157.6L100.9 149.7M95.6 156.4L99.5 148.6M94.2 155.3L98.1 147.5M92.7 154.2L96.6 146.3M91.3 153.1L95.2 145.2M89.9 151.9L93.8 144.1M88.5 150.8L92.3 143M87 149.7L90.9 141.9M85.6 148.6L89.5 140.8M84.2 147.5L88 139.7M82.7 146.3L86.6 138.6M81.3 145.2L85.2 137.5" fill="none" stroke="url(#h100)" stroke-width="0.5"/>
<path d="M138.5 190.1L132.8 185.6L127.1 181.2L121.3 176.7L115.6 172.2L109.9 167.7L104.2 163.2L98.5 158.7L92.7 154.2L87 149.7L81.3 145.2" fill="none" stroke="url(#h100)" stroke-width="0.7"/>
<line x1="482.4" y1="170.9" x2="405" y2="125.2" stroke="#e6e6e6" stroke-width="0.6"/>
<line x1="393.8" y1="165.6" x2="493.7" y2="130.6" stroke="#e6e6e6" stroke-width="0.6"/>
<line x1="405" y1="125.2" x2="405" y2="25" stroke="#e6e6e6" stroke-width="0.6"/>
<line x1="355.1" y1="109.3" x2="455" y2="74.3" stroke="#e6e6e6" stroke-width="0.6"/>
<line x1="532.4" y1="120" x2="455" y2="74.3" stroke="#e6e6e6" stroke-width="0.6"/>
<line x1="355.1" y1="75.9" x2="455" y2="40.9" stroke="#e6e6e6" stroke-width="0.6"/>
<line x1="532.4" y1="86.6" x2="455" y2="40.9" stroke="#e6e6e6" stroke-width="0.6"/>
<line x1="493.7" y1="130.6" x2="493.7" y2="30.4" stroke="#e6e6e6" stroke-width="0.6"/>
<line x1="355.1" y1="142.7" x2="455" y2="107.7" stroke="#555" stroke-width="0.8"/>
<line x1="455" y1="107.7" x2="532.4" y2="153.4" stroke="#555" stroke-width="0.8"/>
<line x1="355.1" y1="142.7" x2="355.1" y2="42.5" stroke="#8a8a8a" stroke-width="0.9"/>
<line x1="455" y1="107.7" x2="455" y2="7.5" stroke="#8a8a8a" stroke-width="0.9"/>
<line x1="532.4" y1="153.4" x2="532.4" y2="53.2" stroke="#8a8a8a" stroke-width="0.9"/>
<line x1="355.1" y1="42.5" x2="455" y2="7.5" stroke="#555" stroke-width="0.8"/>
<line x1="455" y1="7.5" x2="532.4" y2="53.2" stroke="#555" stroke-width="0.8"/>
<line x1="432.5" y1="188.4" x2="532.4" y2="153.4" stroke="#555" stroke-width="0.8"/>
<line x1="432.5" y1="188.4" x2="355.1" y2="142.7" stroke="#555" stroke-width="0.8"/>
<line x1="432.5" y1="188.4" x2="435.4" y2="190.1" stroke="#555" stroke-width="0.7"/>
<line x1="482.4" y1="170.9" x2="485.3" y2="172.6" stroke="#555" stroke-width="0.7"/>
<line x1="532.4" y1="153.4" x2="535.3" y2="155.1" stroke="#555" stroke-width="0.7"/>
<line x1="432.5" y1="188.4" x2="430" y2="189.3" stroke="#555" stroke-width="0.7"/>
<line x1="393.8" y1="165.6" x2="391.3" y2="166.4" stroke="#555" stroke-width="0.7"/>
<line x1="355.1" y1="142.7" x2="352.6" y2="143.6" stroke="#555" stroke-width="0.7"/>
<line x1="355.1" y1="142.7" x2="353.6" y2="143.2" stroke="#555" stroke-width="0.7"/>
<line x1="355.1" y1="109.3" x2="353.6" y2="109.8" stroke="#555" stroke-width="0.7"/>
<line x1="355.1" y1="75.9" x2="353.6" y2="76.4" stroke="#555" stroke-width="0.7"/>
<line x1="355.1" y1="42.5" x2="353.6" y2="43" stroke="#555" stroke-width="0.7"/>
<defs><linearGradient id="g101" gradientUnits="userSpaceOnUse" x1="531.9" y1="125.8" x2="454.5" y2="95"><stop offset="0" stop-color="#c0f4fb"/><stop offset="0.5" stop-color="#c1eefc"/><stop offset="1" stop-color="#c9e5fb"/></linearGradient><linearGradient id="h101" gradientUnits="userSpaceOnUse" x1="531.9" y1="125.8" x2="454.5" y2="95"><stop offset="0" stop-color="#00d2ee"/><stop offset="0.5" stop-color="#04bcf2"/><stop offset="1" stop-color="#2495ee"/></linearGradient><linearGradient id="g102" gradientUnits="userSpaceOnUse" x1="530.9" y1="124" x2="453.5" y2="93.7"><stop offset="0" stop-color="#c1f5fb"/><stop offset="0.5" stop-color="#c1f0fc"/><stop offset="1" stop-color="#c8e7fb"/></linearGradient><linearGradient id="g103" gradientUnits="userSpaceOnUse" x1="529.9" y1="122.3" x2="452.5" y2="92.4"><stop offset="0" stop-color="#c2f7fa"/><stop offset="0.5" stop-color="#c2f2fc"/><stop offset="1" stop-color="#c8eafb"/></linearGradient><linearGradient id="h103" gradientUnits="userSpaceOnUse" x1="529.9" y1="122.3" x2="452.5" y2="92.4"><stop offset="0" stop-color="#00ddec"/><stop offset="0.5" stop-color="#00c8f0"/><stop offset="1" stop-color="#16a6f0"/></linearGradient><linearGradient id="g104" gradientUnits="userSpaceOnUse" x1="528.9" y1="120.5" x2="451.5" y2="91"><stop offset="0" stop-color="#c5f8fa"/><stop offset="0.5" stop-color="#c4f3fb"/><stop offset="1" stop-color="#c7ecfc"/></linearGradient><linearGradient id="h104" gradientUnits="userSpaceOnUse" x1="530.4" y1="123.1" x2="453" y2="93"><stop offset="0" stop-color="#00daec"/><stop offset="0.5" stop-color="#00c5f1"/><stop offset="1" stop-color="#19a2ef"/></linearGradient><linearGradient id="g105" gradientUnits="userSpaceOnUse" x1="527.9" y1="118.7" x2="450.5" y2="89.6"><stop offset="0" stop-color="#c8f9f8"/><stop offset="0.5" stop-color="#c5f5fb"/><stop offset="1" stop-color="#c6effc"/></linearGradient><linearGradient id="g106" gradientUnits="userSpaceOnUse" x1="526.9" y1="116.9" x2="449.5" y2="88.1"><stop offset="0" stop-color="#ccf9f6"/><stop offset="0.5" stop-color="#c6f6fb"/><stop offset="1" stop-color="#c6f1fc"/></linearGradient><linearGradient id="h106" gradientUnits="userSpaceOnUse" x1="526.9" y1="116.9" x2="449.5" y2="88.1"><stop offset="0" stop-color="#1ce5d9"/><stop offset="0.5" stop-color="#00d8ed"/><stop offset="1" stop-color="#00c1f2"/></linearGradient><linearGradient id="g107" gradientUnits="userSpaceOnUse" x1="525.9" y1="115.2" x2="448.5" y2="86.6"><stop offset="0" stop-color="#cffaf5"/><stop offset="0.5" stop-color="#c7f7fb"/><stop offset="1" stop-color="#c7f2fc"/></linearGradient><linearGradient id="g108" gradientUnits="userSpaceOnUse" x1="524.9" y1="113.4" x2="447.5" y2="85.1"><stop offset="0" stop-color="#d3faf3"/><stop offset="0.5" stop-color="#c8f9fa"/><stop offset="1" stop-color="#c7f4fc"/></linearGradient><linearGradient id="h108" gradientUnits="userSpaceOnUse" x1="526.4" y1="116.1" x2="449" y2="87.3"><stop offset="0" stop-color="#22e6d5"/><stop offset="0.5" stop-color="#00daec"/><stop offset="1" stop-color="#00c3f1"/></linearGradient><linearGradient id="g109" gradientUnits="userSpaceOnUse" x1="523.9" y1="111.7" x2="446.5" y2="83.6"><stop offset="0" stop-color="#d6fbf2"/><stop offset="0.5" stop-color="#cbf9f9"/><stop offset="1" stop-color="#c8f5fb"/></linearGradient><linearGradient id="g110" gradientUnits="userSpaceOnUse" x1="522.9" y1="109.9" x2="445.5" y2="81.9"><stop offset="0" stop-color="#d9fbf0"/><stop offset="0.5" stop-color="#cef9f7"/><stop offset="1" stop-color="#c9f6fb"/></linearGradient><linearGradient id="h110" gradientUnits="userSpaceOnUse" x1="522.9" y1="109.9" x2="445.5" y2="81.9"><stop offset="0" stop-color="#4cecba"/><stop offset="0.5" stop-color="#1ae5da"/><stop offset="1" stop-color="#00d5ed"/></linearGradient><linearGradient id="g111" gradientUnits="userSpaceOnUse" x1="521.9" y1="108.1" x2="444.5" y2="80.3"><stop offset="0" stop-color="#ddfcef"/><stop offset="0.5" stop-color="#d3faf6"/><stop offset="1" stop-color="#cbf8fb"/></linearGradient><linearGradient id="g112" gradientUnits="userSpaceOnUse" x1="520.9" y1="106.4" x2="443.5" y2="78.5"><stop offset="0" stop-color="#e1fcef"/><stop offset="0.5" stop-color="#d7fbf5"/><stop offset="1" stop-color="#cdf9fb"/></linearGradient><linearGradient id="h112" gradientUnits="userSpaceOnUse" x1="522.4" y1="109" x2="445" y2="81"><stop offset="0" stop-color="#52edb6"/><stop offset="0.5" stop-color="#20e6d6"/><stop offset="1" stop-color="#00d8ed"/></linearGradient><linearGradient id="g113" gradientUnits="userSpaceOnUse" x1="519.9" y1="104.6" x2="442.5" y2="76.6"><stop offset="0" stop-color="#e6fcec"/><stop offset="0.5" stop-color="#dbfbf4"/><stop offset="1" stop-color="#d2fafa"/></linearGradient><linearGradient id="h113" gradientUnits="userSpaceOnUse" x1="519.9" y1="104.6" x2="442.5" y2="76.6"><stop offset="0" stop-color="#76f097"/><stop offset="0.5" stop-color="#3eeac3"/><stop offset="1" stop-color="#0ce3e3"/></linearGradient><linearGradient id="g114" gradientUnits="userSpaceOnUse" x1="518.9" y1="102.8" x2="441.5" y2="74.6"><stop offset="0" stop-color="#eafce9"/><stop offset="0.5" stop-color="#dffcf3"/><stop offset="1" stop-color="#d6faf9"/></linearGradient><linearGradient id="g115" gradientUnits="userSpaceOnUse" x1="517.9" y1="100.9" x2="440.5" y2="72.6"><stop offset="0" stop-color="#eefce6"/><stop offset="0.5" stop-color="#e2fcf2"/><stop offset="1" stop-color="#dafbf7"/></linearGradient><linearGradient id="h115" gradientUnits="userSpaceOnUse" x1="517.9" y1="100.9" x2="440.5" y2="72.6"><stop offset="0" stop-color="#9df06c"/><stop offset="0.5" stop-color="#57eeb2"/><stop offset="1" stop-color="#26e7d2"/></linearGradient><linearGradient id="g116" gradientUnits="userSpaceOnUse" x1="516.9" y1="99" x2="439.5" y2="70.5"><stop offset="0" stop-color="#f2fce2"/><stop offset="0.5" stop-color="#e5fcf0"/><stop offset="1" stop-color="#dcfbf6"/></linearGradient><linearGradient id="h116" gradientUnits="userSpaceOnUse" x1="518.4" y1="101.8" x2="441" y2="73.5"><stop offset="0" stop-color="#93f077"/><stop offset="0.5" stop-color="#51edb6"/><stop offset="1" stop-color="#20e6d6"/></linearGradient><linearGradient id="g117" gradientUnits="userSpaceOnUse" x1="515.9" y1="97.1" x2="438.5" y2="68.4"><stop offset="0" stop-color="#f5fcde"/><stop offset="0.5" stop-color="#e8fcec"/><stop offset="1" stop-color="#defcf4"/></linearGradient><linearGradient id="h117" gradientUnits="userSpaceOnUse" x1="515.9" y1="97.1" x2="438.5" y2="68.4"><stop offset="0" stop-color="#c5f041"/><stop offset="0.5" stop-color="#79f093"/><stop offset="1" stop-color="#42ebc0"/></linearGradient><linearGradient id="g118" gradientUnits="userSpaceOnUse" x1="514.9" y1="95.2" x2="437.5" y2="66.4"><stop offset="0" stop-color="#f8fcda"/><stop offset="0.5" stop-color="#ebfce8"/><stop offset="1" stop-color="#e0fcf2"/></linearGradient><linearGradient id="g119" gradientUnits="userSpaceOnUse" x1="513.9" y1="93.3" x2="436.5" y2="64.5"><stop offset="0" stop-color="#fafcd6"/><stop offset="0.5" stop-color="#eefce3"/><stop offset="1" stop-color="#e1fcf0"/></linearGradient><linearGradient id="h119" gradientUnits="userSpaceOnUse" x1="513.9" y1="93.3" x2="436.5" y2="64.5"><stop offset="0" stop-color="#e2ec21"/><stop offset="0.5" stop-color="#a2f067"/><stop offset="1" stop-color="#5cefaf"/></linearGradient><linearGradient id="g120" gradientUnits="userSpaceOnUse" x1="512.9" y1="91.5" x2="435.5" y2="62.6"><stop offset="0" stop-color="#fbfad1"/><stop offset="0.5" stop-color="#f0fcdd"/><stop offset="1" stop-color="#e2fced"/></linearGradient><linearGradient id="h120" gradientUnits="userSpaceOnUse" x1="514.4" y1="94.3" x2="437" y2="65.6"><stop offset="0" stop-color="#deef25"/><stop offset="0.5" stop-color="#97f072"/><stop offset="1" stop-color="#55eeb4"/></linearGradient><linearGradient id="g121" gradientUnits="userSpaceOnUse" x1="511.9" y1="89.7" x2="434.5" y2="60.9"><stop offset="0" stop-color="#fcf9cb"/><stop offset="0.5" stop-color="#f3fcd6"/><stop offset="1" stop-color="#e3fce7"/></linearGradient><linearGradient id="g122" gradientUnits="userSpaceOnUse" x1="510.9" y1="88" x2="433.5" y2="59.4"><stop offset="0" stop-color="#fef7c3"/><stop offset="0.5" stop-color="#f6fbcd"/><stop offset="1" stop-color="#e4fbe0"/></linearGradient><linearGradient id="h122" gradientUnits="userSpaceOnUse" x1="510.9" y1="88" x2="433.5" y2="59.4"><stop offset="0" stop-color="#fbde04"/><stop offset="0.5" stop-color="#d9f02b"/><stop offset="1" stop-color="#8ef07d"/></linearGradient><linearGradient id="g123" gradientUnits="userSpaceOnUse" x1="509.9" y1="86.5" x2="432.5" y2="57.9"><stop offset="0" stop-color="#fff4be"/><stop offset="0.5" stop-color="#f7fac7"/><stop offset="1" stop-color="#e6fbd9"/></linearGradient><linearGradient id="g124" gradientUnits="userSpaceOnUse" x1="508.9" y1="85" x2="431.5" y2="56.5"><stop offset="0" stop-color="#fff0bb"/><stop offset="0.5" stop-color="#f9f9c2"/><stop offset="1" stop-color="#e9fbd3"/></linearGradient><linearGradient id="h124" gradientUnits="userSpaceOnUse" x1="510.4" y1="87.4" x2="433" y2="58.8"><stop offset="0" stop-color="#ffdc00"/><stop offset="0.5" stop-color="#deef26"/><stop offset="1" stop-color="#95f075"/></linearGradient><linearGradient id="g125" gradientUnits="userSpaceOnUse" x1="507.9" y1="83.7" x2="430.5" y2="55.1"><stop offset="0" stop-color="#ffebb7"/><stop offset="0.5" stop-color="#faf8bc"/><stop offset="1" stop-color="#ecfbcc"/></linearGradient><linearGradient id="h125" gradientUnits="userSpaceOnUse" x1="507.9" y1="83.7" x2="430.5" y2="55.1"><stop offset="0" stop-color="#ffb900"/><stop offset="0.5" stop-color="#efe513"/><stop offset="1" stop-color="#bcf04a"/></linearGradient><linearGradient id="g126" gradientUnits="userSpaceOnUse" x1="506.9" y1="82.4" x2="429.5" y2="53.7"><stop offset="0" stop-color="#ffe6b3"/><stop offset="0.5" stop-color="#fcf6b6"/><stop offset="1" stop-color="#f0fbc4"/></linearGradient><linearGradient id="g127" gradientUnits="userSpaceOnUse" x1="505.9" y1="81.3" x2="428.5" y2="52.4"><stop offset="0" stop-color="#ffe0ae"/><stop offset="0.5" stop-color="#fef4af"/><stop offset="1" stop-color="#f3fabb"/></linearGradient><linearGradient id="h127" gradientUnits="userSpaceOnUse" x1="505.9" y1="81.3" x2="428.5" y2="52.4"><stop offset="0" stop-color="#ff9e01"/><stop offset="0.5" stop-color="#fcde04"/><stop offset="1" stop-color="#dbf029"/></linearGradient><linearGradient id="g128" gradientUnits="userSpaceOnUse" x1="504.9" y1="80.2" x2="427.5" y2="51.2"><stop offset="0" stop-color="#ffdaa6"/><stop offset="0.5" stop-color="#fff1a5"/><stop offset="1" stop-color="#f4f9b1"/></linearGradient><linearGradient id="h128" gradientUnits="userSpaceOnUse" x1="506.4" y1="82" x2="429" y2="53.2"><stop offset="0" stop-color="#ffa500"/><stop offset="0.5" stop-color="#f8e007"/><stop offset="1" stop-color="#d3f032"/></linearGradient><linearGradient id="g129" gradientUnits="userSpaceOnUse" x1="503.9" y1="79.3" x2="426.5" y2="50"><stop offset="0" stop-color="#fed39e"/><stop offset="0.5" stop-color="#ffec9c"/><stop offset="1" stop-color="#f5f7a7"/></linearGradient><linearGradient id="g130" gradientUnits="userSpaceOnUse" x1="502.9" y1="78.4" x2="425.5" y2="49"><stop offset="0" stop-color="#fed09e"/><stop offset="0.5" stop-color="#ffe89c"/><stop offset="1" stop-color="#f8f6a4"/></linearGradient><linearGradient id="h130" gradientUnits="userSpaceOnUse" x1="502.9" y1="78.4" x2="425.5" y2="49"><stop offset="0" stop-color="#fd8607"/><stop offset="0.5" stop-color="#ffc300"/><stop offset="1" stop-color="#ece716"/></linearGradient><linearGradient id="g131" gradientUnits="userSpaceOnUse" x1="501.9" y1="77.7" x2="424.5" y2="48.2"><stop offset="0" stop-color="#fecd9f"/><stop offset="0.5" stop-color="#ffe49c"/><stop offset="1" stop-color="#f9f5a2"/></linearGradient><linearGradient id="g132" gradientUnits="userSpaceOnUse" x1="500.9" y1="76.9" x2="423.5" y2="47.6"><stop offset="0" stop-color="#fdcaa0"/><stop offset="0.5" stop-color="#ffe09c"/><stop offset="1" stop-color="#fbf4a0"/></linearGradient><linearGradient id="h132" gradientUnits="userSpaceOnUse" x1="502.4" y1="78.1" x2="425" y2="49"><stop offset="0" stop-color="#fc8308"/><stop offset="0.5" stop-color="#ffbf00"/><stop offset="1" stop-color="#eee614"/></linearGradient><linearGradient id="g133" gradientUnits="userSpaceOnUse" x1="499.9" y1="76.3" x2="422.5" y2="47.2"><stop offset="0" stop-color="#fdc8a0"/><stop offset="0.5" stop-color="#ffdd9c"/><stop offset="1" stop-color="#fcf39f"/></linearGradient><linearGradient id="g134" gradientUnits="userSpaceOnUse" x1="498.9" y1="76.1" x2="421.5" y2="47.1"><stop offset="0" stop-color="#fdc7a0"/><stop offset="0.5" stop-color="#ffdb9c"/><stop offset="1" stop-color="#fdf39e"/></linearGradient><linearGradient id="h134" gradientUnits="userSpaceOnUse" x1="498.9" y1="76.1" x2="421.5" y2="47.1"><stop offset="0" stop-color="#f96f0c"/><stop offset="0.5" stop-color="#ffa400"/><stop offset="1" stop-color="#f9df06"/></linearGradient><linearGradient id="g135" gradientUnits="userSpaceOnUse" x1="497.9" y1="76.3" x2="420.5" y2="47"><stop offset="0" stop-color="#fdc6a0"/><stop offset="0.5" stop-color="#ffda9c"/><stop offset="1" stop-color="#fef29d"/></linearGradient><linearGradient id="g136" gradientUnits="userSpaceOnUse" x1="496.9" y1="76.6" x2="419.5" y2="46.9"><stop offset="0" stop-color="#fdc6a0"/><stop offset="0.5" stop-color="#ffda9c"/><stop offset="1" stop-color="#fef29c"/></linearGradient><linearGradient id="h136" gradientUnits="userSpaceOnUse" x1="498.4" y1="76.7" x2="421" y2="47.1"><stop offset="0" stop-color="#f96f0c"/><stop offset="0.5" stop-color="#ffa300"/><stop offset="1" stop-color="#fadf05"/></linearGradient><linearGradient id="g137" gradientUnits="userSpaceOnUse" x1="495.9" y1="77" x2="418.5" y2="46.8"><stop offset="0" stop-color="#fdc6a0"/><stop offset="0.5" stop-color="#ffd99c"/><stop offset="1" stop-color="#fff19c"/></linearGradient><linearGradient id="h137" gradientUnits="userSpaceOnUse" x1="495.9" y1="77" x2="418.5" y2="46.8"><stop offset="0" stop-color="#f96e0c"/><stop offset="0.5" stop-color="#ff9e01"/><stop offset="1" stop-color="#ffdc00"/></linearGradient><linearGradient id="g138" gradientUnits="userSpaceOnUse" x1="494.9" y1="77.3" x2="417.5" y2="46.8"><stop offset="0" stop-color="#fdc6a0"/><stop offset="0.5" stop-color="#ffd99c"/><stop offset="1" stop-color="#fff19c"/></linearGradient><linearGradient id="g139" gradientUnits="userSpaceOnUse" x1="493.9" y1="77.7" x2="416.5" y2="46.8"><stop offset="0" stop-color="#fdc6a0"/><stop offset="0.5" stop-color="#ffd89c"/><stop offset="1" stop-color="#fff09c"/></linearGradient><linearGradient id="g140" gradientUnits="userSpaceOnUse" x1="492.9" y1="78" x2="415.5" y2="46.9"><stop offset="0" stop-color="#fdc6a0"/><stop offset="0.5" stop-color="#ffd89c"/><stop offset="1" stop-color="#ffef9c"/></linearGradient><linearGradient id="h140" gradientUnits="userSpaceOnUse" x1="494.4" y1="77.5" x2="417" y2="46.9"><stop offset="0" stop-color="#f96e0c"/><stop offset="0.5" stop-color="#ff9c01"/><stop offset="1" stop-color="#ffda00"/></linearGradient><linearGradient id="g141" gradientUnits="userSpaceOnUse" x1="491.9" y1="78.4" x2="414.5" y2="47"><stop offset="0" stop-color="#fdc6a0"/><stop offset="0.5" stop-color="#ffd89c"/><stop offset="1" stop-color="#ffef9c"/></linearGradient><linearGradient id="h141" gradientUnits="userSpaceOnUse" x1="491.9" y1="78.4" x2="414.5" y2="47"><stop offset="0" stop-color="#f96e0c"/><stop offset="0.5" stop-color="#fe9a02"/><stop offset="1" stop-color="#ffd500"/></linearGradient><linearGradient id="g142" gradientUnits="userSpaceOnUse" x1="490.9" y1="78.7" x2="413.5" y2="47.1"><stop offset="0" stop-color="#fdc8a3"/><stop offset="0.5" stop-color="#ffd89f"/><stop offset="1" stop-color="#ffef9e"/></linearGradient><linearGradient id="g143" gradientUnits="userSpaceOnUse" x1="489.9" y1="79.1" x2="412.5" y2="47.3"><stop offset="0" stop-color="#fdc9a6"/><stop offset="0.5" stop-color="#ffd9a2"/><stop offset="1" stop-color="#ffefa1"/></linearGradient><linearGradient id="g144" gradientUnits="userSpaceOnUse" x1="488.9" y1="79.4" x2="411.5" y2="47.5"><stop offset="0" stop-color="#fdcba8"/><stop offset="0.5" stop-color="#ffdaa5"/><stop offset="1" stop-color="#ffefa4"/></linearGradient><linearGradient id="h144" gradientUnits="userSpaceOnUse" x1="490.4" y1="78.9" x2="413" y2="47.3"><stop offset="0" stop-color="#f96e0c"/><stop offset="0.5" stop-color="#fe9902"/><stop offset="1" stop-color="#ffd400"/></linearGradient><linearGradient id="g145" gradientUnits="userSpaceOnUse" x1="487.9" y1="79.8" x2="410.5" y2="47.8"><stop offset="0" stop-color="#fdcdab"/><stop offset="0.5" stop-color="#ffdba7"/><stop offset="1" stop-color="#ffefa6"/></linearGradient><linearGradient id="h145" gradientUnits="userSpaceOnUse" x1="487.9" y1="79.8" x2="410.5" y2="47.8"><stop offset="0" stop-color="#f96e0c"/><stop offset="0.5" stop-color="#fe9802"/><stop offset="1" stop-color="#ffd200"/></linearGradient><linearGradient id="g146" gradientUnits="userSpaceOnUse" x1="486.9" y1="80.2" x2="409.5" y2="48.1"><stop offset="0" stop-color="#fdcead"/><stop offset="0.5" stop-color="#ffdcaa"/><stop offset="1" stop-color="#fff0a9"/></linearGradient><linearGradient id="g147" gradientUnits="userSpaceOnUse" x1="485.9" y1="80.5" x2="408.5" y2="48.5"><stop offset="0" stop-color="#fdcfaf"/><stop offset="0.5" stop-color="#ffddac"/><stop offset="1" stop-color="#fff0ab"/></linearGradient><linearGradient id="g148" gradientUnits="userSpaceOnUse" x1="484.9" y1="80.9" x2="407.5" y2="48.9"><stop offset="0" stop-color="#fdd0b1"/><stop offset="0.5" stop-color="#ffdead"/><stop offset="1" stop-color="#fff1ad"/></linearGradient><linearGradient id="h148" gradientUnits="userSpaceOnUse" x1="486.4" y1="80.4" x2="409" y2="48.4"><stop offset="0" stop-color="#f96e0c"/><stop offset="0.5" stop-color="#fe9902"/><stop offset="1" stop-color="#ffd200"/></linearGradient><linearGradient id="g149" gradientUnits="userSpaceOnUse" x1="483.9" y1="81.4" x2="406.5" y2="49.3"><stop offset="0" stop-color="#fdd1b2"/><stop offset="0.5" stop-color="#ffdfaf"/><stop offset="1" stop-color="#fff1ae"/></linearGradient><linearGradient id="g150" gradientUnits="userSpaceOnUse" x1="482.9" y1="81.8" x2="405.5" y2="49.8"><stop offset="0" stop-color="#fdd2b4"/><stop offset="0.5" stop-color="#ffe0b0"/><stop offset="1" stop-color="#fff1b0"/></linearGradient><linearGradient id="g151" gradientUnits="userSpaceOnUse" x1="481.9" y1="82.3" x2="404.5" y2="50.2"><stop offset="0" stop-color="#fdd3b5"/><stop offset="0.5" stop-color="#ffe0b2"/><stop offset="1" stop-color="#fff2b1"/></linearGradient><linearGradient id="g152" gradientUnits="userSpaceOnUse" x1="480.9" y1="82.8" x2="403.5" y2="50.7"><stop offset="0" stop-color="#fdd4b6"/><stop offset="0.5" stop-color="#ffe1b3"/><stop offset="1" stop-color="#fff2b2"/></linearGradient><linearGradient id="h152" gradientUnits="userSpaceOnUse" x1="482.4" y1="82.1" x2="405" y2="50"><stop offset="0" stop-color="#f9700c"/><stop offset="0.5" stop-color="#ff9a02"/><stop offset="1" stop-color="#ffd400"/></linearGradient><linearGradient id="g153" gradientUnits="userSpaceOnUse" x1="479.9" y1="83.3" x2="402.5" y2="51.2"><stop offset="0" stop-color="#fdd5b7"/><stop offset="0.5" stop-color="#ffe2b4"/><stop offset="1" stop-color="#fff3b3"/></linearGradient><linearGradient id="g154" gradientUnits="userSpaceOnUse" x1="478.9" y1="83.8" x2="401.5" y2="51.7"><stop offset="0" stop-color="#fed6b7"/><stop offset="0.5" stop-color="#ffe2b4"/><stop offset="1" stop-color="#fff3b4"/></linearGradient><linearGradient id="g155" gradientUnits="userSpaceOnUse" x1="477.9" y1="84.3" x2="400.5" y2="52.2"><stop offset="0" stop-color="#fed6b8"/><stop offset="0.5" stop-color="#ffe3b5"/><stop offset="1" stop-color="#fff3b5"/></linearGradient><linearGradient id="h155" gradientUnits="userSpaceOnUse" x1="477.9" y1="84.3" x2="400.5" y2="52.2"><stop offset="0" stop-color="#fa740b"/><stop offset="0.5" stop-color="#ff9e01"/><stop offset="1" stop-color="#ffd700"/></linearGradient><linearGradient id="g156" gradientUnits="userSpaceOnUse" x1="476.9" y1="84.8" x2="399.5" y2="52.7"><stop offset="0" stop-color="#fed7b9"/><stop offset="0.5" stop-color="#ffe3b5"/><stop offset="1" stop-color="#fff4b5"/></linearGradient><linearGradient id="h156" gradientUnits="userSpaceOnUse" x1="478.4" y1="84.1" x2="401" y2="51.9"><stop offset="0" stop-color="#fa730b"/><stop offset="0.5" stop-color="#ff9e01"/><stop offset="1" stop-color="#ffd700"/></linearGradient><linearGradient id="g157" gradientUnits="userSpaceOnUse" x1="475.9" y1="85.4" x2="398.5" y2="53.2"><stop offset="0" stop-color="#fed8b9"/><stop offset="0.5" stop-color="#ffe4b6"/><stop offset="1" stop-color="#fff4b6"/></linearGradient><linearGradient id="g158" gradientUnits="userSpaceOnUse" x1="474.9" y1="85.9" x2="397.5" y2="53.8"><stop offset="0" stop-color="#fedabc"/><stop offset="0.5" stop-color="#ffe6b9"/><stop offset="1" stop-color="#fff5b9"/></linearGradient><linearGradient id="g159" gradientUnits="userSpaceOnUse" x1="473.9" y1="86.5" x2="396.5" y2="54.5"><stop offset="0" stop-color="#feddc1"/><stop offset="0.5" stop-color="#ffe8be"/><stop offset="1" stop-color="#fff6be"/></linearGradient><linearGradient id="h159" gradientUnits="userSpaceOnUse" x1="473.9" y1="86.5" x2="396.5" y2="54.5"><stop offset="0" stop-color="#fb790b"/><stop offset="0.5" stop-color="#ffa500"/><stop offset="1" stop-color="#ffdc00"/></linearGradient><linearGradient id="g160" gradientUnits="userSpaceOnUse" x1="472.9" y1="87.1" x2="395.5" y2="55.3"><stop offset="0" stop-color="#fedfc4"/><stop offset="0.5" stop-color="#ffeac2"/><stop offset="1" stop-color="#fef7c2"/></linearGradient><linearGradient id="h160" gradientUnits="userSpaceOnUse" x1="474.4" y1="86.2" x2="397" y2="54.4"><stop offset="0" stop-color="#fb780b"/><stop offset="0.5" stop-color="#ffa400"/><stop offset="1" stop-color="#ffdc00"/></linearGradient><linearGradient id="g161" gradientUnits="userSpaceOnUse" x1="471.9" y1="87.7" x2="394.5" y2="56.2"><stop offset="0" stop-color="#fee1c7"/><stop offset="0.5" stop-color="#ffecc5"/><stop offset="1" stop-color="#fef8c6"/></linearGradient><linearGradient id="g162" gradientUnits="userSpaceOnUse" x1="470.9" y1="88.4" x2="393.5" y2="57.3"><stop offset="0" stop-color="#fee3ca"/><stop offset="0.5" stop-color="#ffeec8"/><stop offset="1" stop-color="#fdf8c9"/></linearGradient><linearGradient id="h162" gradientUnits="userSpaceOnUse" x1="470.9" y1="88.4" x2="393.5" y2="57.3"><stop offset="0" stop-color="#fc7e0a"/><stop offset="0.5" stop-color="#ffb100"/><stop offset="1" stop-color="#f8e008"/></linearGradient><linearGradient id="g163" gradientUnits="userSpaceOnUse" x1="469.9" y1="89.2" x2="392.5" y2="58.4"><stop offset="0" stop-color="#fee5cc"/><stop offset="0.5" stop-color="#fff0ca"/><stop offset="1" stop-color="#fdf9cc"/></linearGradient><linearGradient id="g164" gradientUnits="userSpaceOnUse" x1="468.9" y1="90" x2="391.5" y2="59.5"><stop offset="0" stop-color="#ffe6cd"/><stop offset="0.5" stop-color="#fff1cc"/><stop offset="1" stop-color="#fcfacf"/></linearGradient><linearGradient id="h164" gradientUnits="userSpaceOnUse" x1="470.4" y1="88.9" x2="393" y2="57.9"><stop offset="0" stop-color="#fc8009"/><stop offset="0.5" stop-color="#ffb400"/><stop offset="1" stop-color="#f6e10a"/></linearGradient><linearGradient id="g165" gradientUnits="userSpaceOnUse" x1="467.9" y1="90.9" x2="390.5" y2="60.7"><stop offset="0" stop-color="#ffe8d0"/><stop offset="0.5" stop-color="#fff3ce"/><stop offset="1" stop-color="#fcfad2"/></linearGradient><linearGradient id="h165" gradientUnits="userSpaceOnUse" x1="467.9" y1="90.9" x2="390.5" y2="60.7"><stop offset="0" stop-color="#fd8707"/><stop offset="0.5" stop-color="#ffc200"/><stop offset="1" stop-color="#eee613"/></linearGradient><linearGradient id="g166" gradientUnits="userSpaceOnUse" x1="466.9" y1="92" x2="389.5" y2="62"><stop offset="0" stop-color="#ffecd6"/><stop offset="0.5" stop-color="#fff6d5"/><stop offset="1" stop-color="#fcfbd9"/></linearGradient><linearGradient id="g167" gradientUnits="userSpaceOnUse" x1="465.9" y1="93.4" x2="388.5" y2="63.4"><stop offset="0" stop-color="#fff0dc"/><stop offset="0.5" stop-color="#fff9db"/><stop offset="1" stop-color="#fcfcdf"/></linearGradient><linearGradient id="g168" gradientUnits="userSpaceOnUse" x1="465" y1="95" x2="387.6" y2="65.1"><stop offset="0" stop-color="#fff3e0"/><stop offset="0.5" stop-color="#fffae0"/><stop offset="1" stop-color="#fbfde4"/></linearGradient><linearGradient id="h168" gradientUnits="userSpaceOnUse" x1="466.4" y1="93.1" x2="389" y2="63"><stop offset="0" stop-color="#fe9005"/><stop offset="0.5" stop-color="#ffcf00"/><stop offset="1" stop-color="#e8e91b"/></linearGradient><linearGradient id="g169" gradientUnits="userSpaceOnUse" x1="464" y1="96.8" x2="386.6" y2="66.8"><stop offset="0" stop-color="#fff5e3"/><stop offset="0.5" stop-color="#fffbe4"/><stop offset="1" stop-color="#fbfde8"/></linearGradient><linearGradient id="g170" gradientUnits="userSpaceOnUse" x1="463" y1="98.8" x2="385.6" y2="68.7"><stop offset="0" stop-color="#fff8e6"/><stop offset="0.5" stop-color="#fefce7"/><stop offset="1" stop-color="#fafeeb"/></linearGradient><linearGradient id="h170" gradientUnits="userSpaceOnUse" x1="463" y1="98.8" x2="385.6" y2="68.7"><stop offset="0" stop-color="#ffb400"/><stop offset="0.5" stop-color="#f4e20c"/><stop offset="1" stop-color="#cff036"/></linearGradient><linearGradient id="g171" gradientUnits="userSpaceOnUse" x1="462" y1="101" x2="384.6" y2="70.7"><stop offset="0" stop-color="#fff9e7"/><stop offset="0.5" stop-color="#fdfde9"/><stop offset="1" stop-color="#f9feee"/></linearGradient><linearGradient id="g172" gradientUnits="userSpaceOnUse" x1="461" y1="103.2" x2="383.6" y2="72.8"><stop offset="0" stop-color="#fffbe8"/><stop offset="0.5" stop-color="#fdfdeb"/><stop offset="1" stop-color="#f8fef0"/></linearGradient><linearGradient id="h172" gradientUnits="userSpaceOnUse" x1="462.5" y1="100.1" x2="385.1" y2="69.8"><stop offset="0" stop-color="#ffbc00"/><stop offset="0.5" stop-color="#f1e411"/><stop offset="1" stop-color="#c8f03e"/></linearGradient><linearGradient id="g173" gradientUnits="userSpaceOnUse" x1="460" y1="105.5" x2="382.6" y2="74.8"><stop offset="0" stop-color="#fffce9"/><stop offset="0.5" stop-color="#fcfdec"/><stop offset="1" stop-color="#f7fef1"/></linearGradient><linearGradient id="g174" gradientUnits="userSpaceOnUse" x1="459" y1="107.8" x2="381.6" y2="76.8"><stop offset="0" stop-color="#fefce9"/><stop offset="0.5" stop-color="#fbfeec"/><stop offset="1" stop-color="#f5fef3"/></linearGradient><linearGradient id="h174" gradientUnits="userSpaceOnUse" x1="459" y1="107.8" x2="381.6" y2="76.8"><stop offset="0" stop-color="#f5e10b"/><stop offset="0.5" stop-color="#d6f02f"/><stop offset="1" stop-color="#94f076"/></linearGradient><linearGradient id="g175" gradientUnits="userSpaceOnUse" x1="458" y1="110" x2="380.6" y2="78.7"><stop offset="0" stop-color="#fdfde9"/><stop offset="0.5" stop-color="#fafeed"/><stop offset="1" stop-color="#f4fef3"/></linearGradient><linearGradient id="g176" gradientUnits="userSpaceOnUse" x1="457" y1="112.3" x2="379.6" y2="80.6"><stop offset="0" stop-color="#fdfdea"/><stop offset="0.5" stop-color="#f8feef"/><stop offset="1" stop-color="#f2fef5"/></linearGradient><linearGradient id="h176" gradientUnits="userSpaceOnUse" x1="458.5" y1="108.9" x2="381.1" y2="77.6"><stop offset="0" stop-color="#f2e40f"/><stop offset="0.5" stop-color="#cef037"/><stop offset="1" stop-color="#8ef07d"/></linearGradient><linearGradient id="g177" gradientUnits="userSpaceOnUse" x1="456" y1="114.7" x2="378.6" y2="82.3"><stop offset="0" stop-color="#fcfdeb"/><stop offset="0.5" stop-color="#f7fef0"/><stop offset="1" stop-color="#f1fef6"/></linearGradient><linearGradient id="g178" gradientUnits="userSpaceOnUse" x1="455" y1="117.2" x2="377.6" y2="84"><stop offset="0" stop-color="#fbfeed"/><stop offset="0.5" stop-color="#f6fef2"/><stop offset="1" stop-color="#f1fef7"/></linearGradient><linearGradient id="h178" gradientUnits="userSpaceOnUse" x1="455" y1="117.2" x2="377.6" y2="84"><stop offset="0" stop-color="#d0f035"/><stop offset="0.5" stop-color="#98f071"/><stop offset="1" stop-color="#62f0ab"/></linearGradient><linearGradient id="g179" gradientUnits="userSpaceOnUse" x1="454" y1="119.8" x2="376.6" y2="85.7"><stop offset="0" stop-color="#f9feef"/><stop offset="0.5" stop-color="#f5fef4"/><stop offset="1" stop-color="#f1fef8"/></linearGradient><linearGradient id="g180" gradientUnits="userSpaceOnUse" x1="453" y1="122.5" x2="375.6" y2="87.4"><stop offset="0" stop-color="#f8fef2"/><stop offset="0.5" stop-color="#f4fef6"/><stop offset="1" stop-color="#f1fef9"/></linearGradient><linearGradient id="h180" gradientUnits="userSpaceOnUse" x1="454.5" y1="118.7" x2="377.1" y2="84.8"><stop offset="0" stop-color="#c5f041"/><stop offset="0.5" stop-color="#90f07a"/><stop offset="1" stop-color="#5eefae"/></linearGradient><linearGradient id="g181" gradientUnits="userSpaceOnUse" x1="452" y1="125.2" x2="374.6" y2="89.1"><stop offset="0" stop-color="#f6fef4"/><stop offset="0.5" stop-color="#f3fef8"/><stop offset="1" stop-color="#f1fefa"/></linearGradient><linearGradient id="h181" gradientUnits="userSpaceOnUse" x1="452" y1="125.2" x2="374.6" y2="89.1"><stop offset="0" stop-color="#92f078"/><stop offset="0.5" stop-color="#68f0a6"/><stop offset="1" stop-color="#4cecba"/></linearGradient><linearGradient id="g182" gradientUnits="userSpaceOnUse" x1="451" y1="128.1" x2="373.6" y2="90.8"><stop offset="0" stop-color="#f5fef7"/><stop offset="0.5" stop-color="#f3fef9"/><stop offset="1" stop-color="#f1fefa"/></linearGradient><linearGradient id="g183" gradientUnits="userSpaceOnUse" x1="450" y1="130.9" x2="372.6" y2="92.7"><stop offset="0" stop-color="#f4fef9"/><stop offset="0.5" stop-color="#f3fefa"/><stop offset="1" stop-color="#f1fefb"/></linearGradient><linearGradient id="h183" gradientUnits="userSpaceOnUse" x1="450" y1="130.9" x2="372.6" y2="92.7"><stop offset="0" stop-color="#66f0a8"/><stop offset="0.5" stop-color="#50edb7"/><stop offset="1" stop-color="#3beac4"/></linearGradient><linearGradient id="g184" gradientUnits="userSpaceOnUse" x1="449" y1="134" x2="371.6" y2="94.6"><stop offset="0" stop-color="#f6fefb"/><stop offset="0.5" stop-color="#f5fefb"/><stop offset="1" stop-color="#f4fefc"/></linearGradient><linearGradient id="h184" gradientUnits="userSpaceOnUse" x1="450.5" y1="129.7" x2="373.1" y2="91.9"><stop offset="0" stop-color="#70f09d"/><stop offset="0.5" stop-color="#55eeb3"/><stop offset="1" stop-color="#3feac2"/></linearGradient><linearGradient id="g185" gradientUnits="userSpaceOnUse" x1="448" y1="137.5" x2="370.6" y2="96.7"><stop offset="0" stop-color="#f8fefc"/><stop offset="0.5" stop-color="#f7fefd"/><stop offset="1" stop-color="#f6fefd"/></linearGradient><linearGradient id="g186" gradientUnits="userSpaceOnUse" x1="447" y1="141.3" x2="369.6" y2="99.1"><stop offset="0" stop-color="#f9fefe"/><stop offset="0.5" stop-color="#f9fefe"/><stop offset="1" stop-color="#f9fefe"/></linearGradient><linearGradient id="h186" gradientUnits="userSpaceOnUse" x1="447" y1="141.3" x2="369.6" y2="99.1"><stop offset="0" stop-color="#31e8cb"/><stop offset="0.5" stop-color="#27e7d2"/><stop offset="1" stop-color="#1de5d8"/></linearGradient><linearGradient id="g187" gradientUnits="userSpaceOnUse" x1="446" y1="145.2" x2="368.6" y2="101.9"><stop offset="0" stop-color="#fbfffe"/><stop offset="0.5" stop-color="#fbfffe"/><stop offset="1" stop-color="#fbfefe"/></linearGradient><linearGradient id="g188" gradientUnits="userSpaceOnUse" x1="445" y1="149" x2="367.6" y2="105.2"><stop offset="0" stop-color="#fafeff"/><stop offset="0.5" stop-color="#fafeff"/><stop offset="1" stop-color="#fafeff"/></linearGradient><linearGradient id="h188" gradientUnits="userSpaceOnUse" x1="446.5" y1="143.2" x2="369.1" y2="101.2"><stop offset="0" stop-color="#27e7d2"/><stop offset="0.5" stop-color="#1de5d8"/><stop offset="1" stop-color="#14e4de"/></linearGradient><linearGradient id="g189" gradientUnits="userSpaceOnUse" x1="444" y1="152.2" x2="366.6" y2="108.6"><stop offset="0" stop-color="#f8fefe"/><stop offset="0.5" stop-color="#f8fefe"/><stop offset="1" stop-color="#f8fefe"/></linearGradient><linearGradient id="h189" gradientUnits="userSpaceOnUse" x1="444" y1="152.2" x2="366.6" y2="108.6"><stop offset="0" stop-color="#00deec"/><stop offset="0.5" stop-color="#00dbec"/><stop offset="1" stop-color="#00d8ed"/></linearGradient><linearGradient id="g190" gradientUnits="userSpaceOnUse" x1="443" y1="154.7" x2="365.6" y2="112.1"><stop offset="0" stop-color="#f3fdfe"/><stop offset="0.5" stop-color="#f3fdfe"/><stop offset="1" stop-color="#f3fdfe"/></linearGradient><linearGradient id="g191" gradientUnits="userSpaceOnUse" x1="442" y1="156.3" x2="364.6" y2="115.4"><stop offset="0" stop-color="#eafbfe"/><stop offset="0.5" stop-color="#eafbfe"/><stop offset="1" stop-color="#eafafe"/></linearGradient><linearGradient id="h191" gradientUnits="userSpaceOnUse" x1="442" y1="156.3" x2="364.6" y2="115.4"><stop offset="0" stop-color="#00d5ee"/><stop offset="0.5" stop-color="#00ceef"/><stop offset="1" stop-color="#00c7f0"/></linearGradient><linearGradient id="g192" gradientUnits="userSpaceOnUse" x1="441" y1="157.1" x2="363.6" y2="118.5"><stop offset="0" stop-color="#e3fafd"/><stop offset="0.5" stop-color="#e3f9fd"/><stop offset="1" stop-color="#e3f8fe"/></linearGradient><linearGradient id="h192" gradientUnits="userSpaceOnUse" x1="442.5" y1="154.1" x2="365.1" y2="113.4"><stop offset="0" stop-color="#00d8ed"/><stop offset="0.5" stop-color="#00d2ee"/><stop offset="1" stop-color="#00ccef"/></linearGradient><linearGradient id="g193" gradientUnits="userSpaceOnUse" x1="440" y1="157.6" x2="362.6" y2="121.2"><stop offset="0" stop-color="#ddf9fd"/><stop offset="0.5" stop-color="#ddf7fd"/><stop offset="1" stop-color="#def5fd"/></linearGradient><linearGradient id="h193" gradientUnits="userSpaceOnUse" x1="440" y1="157.6" x2="362.6" y2="121.2"><stop offset="0" stop-color="#00d3ee"/><stop offset="0.5" stop-color="#00c6f1"/><stop offset="1" stop-color="#0ab4f1"/></linearGradient><linearGradient id="g194" gradientUnits="userSpaceOnUse" x1="439" y1="157.3" x2="361.6" y2="123.8"><stop offset="0" stop-color="#c1f5fb"/><stop offset="0.5" stop-color="#c1f1fc"/><stop offset="1" stop-color="#c6eafb"/></linearGradient><linearGradient id="g195" gradientUnits="userSpaceOnUse" x1="438" y1="156.2" x2="360.6" y2="125"><stop offset="0" stop-color="#9cf0f8"/><stop offset="0.5" stop-color="#9ce8fa"/><stop offset="1" stop-color="#a5dcf9"/></linearGradient><linearGradient id="g196" gradientUnits="userSpaceOnUse" x1="437" y1="154.9" x2="359.6" y2="123.6"><stop offset="0" stop-color="#d2f9fc"/><stop offset="0.5" stop-color="#d2f6fc"/><stop offset="1" stop-color="#d5f1fc"/></linearGradient><linearGradient id="h196" gradientUnits="userSpaceOnUse" x1="438.5" y1="155.9" x2="361.1" y2="121"><stop offset="0" stop-color="#00d8ed"/><stop offset="0.5" stop-color="#00c7f1"/><stop offset="1" stop-color="#0faef0"/></linearGradient><linearGradient id="g197" gradientUnits="userSpaceOnUse" x1="436" y1="154.1" x2="358.6" y2="121"><stop offset="0" stop-color="#b5f6f9"/><stop offset="0.5" stop-color="#b5f1fa"/><stop offset="1" stop-color="#b6ecfb"/></linearGradient><linearGradient id="g198" gradientUnits="userSpaceOnUse" x1="435" y1="154.5" x2="357.6" y2="120.1"><stop offset="0" stop-color="#c7f8fb"/><stop offset="0.5" stop-color="#c7f5fb"/><stop offset="1" stop-color="#c7f1fc"/></linearGradient><linearGradient id="g199" gradientUnits="userSpaceOnUse" x1="434" y1="156.2" x2="356.6" y2="121.7"><stop offset="0" stop-color="#edfdfe"/><stop offset="0.5" stop-color="#edfbfe"/><stop offset="1" stop-color="#edfafe"/></linearGradient><linearGradient id="h199" gradientUnits="userSpaceOnUse" x1="434" y1="156.2" x2="356.6" y2="121.7"><stop offset="0" stop-color="#00dcec"/><stop offset="0.5" stop-color="#00cdef"/><stop offset="1" stop-color="#03bcf2"/></linearGradient><linearGradient id="g200" gradientUnits="userSpaceOnUse" x1="433" y1="158.8" x2="355.6" y2="125.2"><stop offset="0" stop-color="#fbfeff"/><stop offset="0.5" stop-color="#fbfeff"/><stop offset="1" stop-color="#fbfeff"/></linearGradient><linearGradient id="h200" gradientUnits="userSpaceOnUse" x1="434.5" y1="157.3" x2="357.1" y2="124.8"><stop offset="0" stop-color="#00dcec"/><stop offset="0.5" stop-color="#00ccf0"/><stop offset="1" stop-color="#08b7f1"/></linearGradient></defs>
<path d="M531.4 124.9L523.6 121.9L515.9 118.8L508.1 115.8L500.4 112.7L492.7 109.7L484.9 106.6L477.2 103.5L469.4 100.5L461.7 97.4L454 94.4L455 95.7L462.7 98.8L470.4 101.9L478.2 105L485.9 108.1L493.7 111.2L501.4 114.3L509.1 117.4L516.9 120.5L524.6 123.6L532.4 126.7Z" fill="url(#g101)" stroke="url(#g101)" stroke-width="0.3"/>
<path d="M532.4 126.7L524.6 123.6L516.9 120.5L509.1 117.4L501.4 114.3L493.7 111.2L485.9 108.1L478.2 105L470.4 101.9L462.7 98.8L455 95.7" fill="none" stroke="url(#h101)" stroke-width="0.7"/>
<path d="M530.4 123.1L522.6 120.1L514.9 117.1L507.1 114.1L499.4 111.1L491.7 108.1L483.9 105.1L476.2 102.1L468.4 99.1L460.7 96.1L453 93.1L454 94.4L461.7 97.4L469.4 100.5L477.2 103.5L484.9 106.6L492.7 109.7L500.4 112.7L508.1 115.8L515.9 118.8L523.6 121.9L531.4 124.9Z" fill="url(#g102)" stroke="url(#g102)" stroke-width="0.3"/>
<path d="M529.4 121.4L521.6 118.4L513.9 115.4L506.1 112.5L498.4 109.5L490.7 106.5L482.9 103.6L475.2 100.6L467.4 97.6L459.7 94.7L452 91.7L453 93.1L460.7 96.1L468.4 99.1L476.2 102.1L483.9 105.1L491.7 108.1L499.4 111.1L507.1 114.1L514.9 117.1L522.6 120.1L530.4 123.1Z" fill="url(#g103)" stroke="url(#g103)" stroke-width="0.3"/>
<path d="M529.8 122.2L522.1 119.2L514.3 116.2L506.6 113.2L498.9 110.3L491.1 107.3L483.4 104.3L475.6 101.3L467.9 98.3L460.2 95.3L452.4 92.4" fill="none" stroke="url(#h103)" stroke-width="0.7"/>
<path d="M528.4 119.6L520.6 116.7L512.9 113.7L505.1 110.8L497.4 107.9L489.7 105L481.9 102L474.2 99.1L466.4 96.2L458.7 93.2L451 90.3L452 91.7L459.7 94.7L467.4 97.6L475.2 100.6L482.9 103.6L490.7 106.5L498.4 109.5L506.1 112.5L513.9 115.4L521.6 118.4L529.4 121.4Z" fill="url(#g104)" stroke="url(#g104)" stroke-width="0.3"/>
<path d="M528.4 119.6L532.4 126.7M526.9 119.1L530.9 126.1M525.5 118.5L529.5 125.6M524.1 118L528.1 125M522.7 117.5L526.7 124.4M521.3 116.9L525.3 123.9M519.9 116.4L523.9 123.3M518.5 115.9L522.5 122.7M517.1 115.3L521.1 122.2M515.7 114.8L519.7 121.6M514.3 114.3L518.3 121M512.9 113.7L516.9 120.5M511.5 113.2L515.5 119.9M510.1 112.7L514.1 119.4M508.7 112.1L512.6 118.8M507.2 111.6L511.2 118.2M505.8 111.1L509.8 117.7M504.4 110.5L508.4 117.1M503 110L507 116.5M501.6 109.5L505.6 116M500.2 109L504.2 115.4M498.8 108.4L502.8 114.8M497.4 107.9L501.4 114.3M496 107.4L500 113.7M494.6 106.8L498.6 113.2M493.2 106.3L497.2 112.6M491.8 105.8L495.8 112M490.4 105.2L494.4 111.5M489 104.7L492.9 110.9M487.5 104.2L491.5 110.3M486.1 103.6L490.1 109.8M484.7 103.1L488.7 109.2M483.3 102.6L487.3 108.6M481.9 102L485.9 108.1M480.5 101.5L484.5 107.5M479.1 101L483.1 107M477.7 100.4L481.7 106.4M476.3 99.9L480.3 105.8M474.9 99.4L478.9 105.3M473.5 98.8L477.5 104.7M472.1 98.3L476.1 104.1M470.7 97.8L474.7 103.6M469.3 97.2L473.2 103M467.8 96.7L471.8 102.4M466.4 96.2L470.4 101.9M465 95.6L469 101.3M463.6 95.1L467.6 100.7M462.2 94.6L466.2 100.2M460.8 94L464.8 99.6M459.4 93.5L463.4 99.1M458 93L462 98.5M456.6 92.4L460.6 97.9M455.2 91.9L459.2 97.4M453.8 91.4L457.8 96.8M452.4 90.8L456.4 96.2M451 90.3L455 95.7" fill="none" stroke="url(#h104)" stroke-width="0.5"/>
<path d="M527.4 117.8L519.6 114.9L511.9 112L504.1 109.1L496.4 106.3L488.7 103.4L480.9 100.5L473.2 97.6L465.4 94.7L457.7 91.8L450 88.9L451 90.3L458.7 93.2L466.4 96.2L474.2 99.1L481.9 102L489.7 105L497.4 107.9L505.1 110.8L512.9 113.7L520.6 116.7L528.4 119.6Z" fill="url(#g105)" stroke="url(#g105)" stroke-width="0.3"/>
<path d="M526.4 116.1L518.6 113.2L510.9 110.3L503.1 107.5L495.4 104.6L487.7 101.7L479.9 98.9L472.2 96L464.4 93.1L456.7 90.3L449 87.4L450 88.9L457.7 91.8L465.4 94.7L473.2 97.6L480.9 100.5L488.7 103.4L496.4 106.3L504.1 109.1L511.9 112L519.6 114.9L527.4 117.8Z" fill="url(#g106)" stroke="url(#g106)" stroke-width="0.3"/>
<path d="M527.3 117.8L519.6 114.9L511.8 112L504.1 109.1L496.4 106.2L488.6 103.3L480.9 100.4L473.1 97.5L465.4 94.6L457.7 91.7L449.9 88.8" fill="none" stroke="url(#h106)" stroke-width="0.7"/>
<path d="M525.4 114.3L517.6 111.5L509.9 108.6L502.1 105.8L494.4 102.9L486.7 100.1L478.9 97.3L471.2 94.4L463.4 91.6L455.7 88.7L448 85.9L449 87.4L456.7 90.3L464.4 93.1L472.2 96L479.9 98.9L487.7 101.7L495.4 104.6L503.1 107.5L510.9 110.3L518.6 113.2L526.4 116.1Z" fill="url(#g107)" stroke="url(#g107)" stroke-width="0.3"/>
<path d="M524.4 112.5L516.6 109.7L508.9 106.9L501.1 104.1L493.4 101.3L485.7 98.4L477.9 95.6L470.2 92.8L462.4 90L454.7 87.2L447 84.3L448 85.9L455.7 88.7L463.4 91.6L471.2 94.4L478.9 97.3L486.7 100.1L494.4 102.9L502.1 105.8L509.9 108.6L517.6 111.5L525.4 114.3Z" fill="url(#g108)" stroke="url(#g108)" stroke-width="0.3"/>
<path d="M524.4 112.5L528.4 119.6M523 112L526.9 119.1M521.5 111.5L525.5 118.5M520.1 111L524.1 118M518.7 110.5L522.7 117.5M517.3 110L521.3 116.9M515.9 109.5L519.9 116.4M514.5 108.9L518.5 115.9M513.1 108.4L517.1 115.3M511.7 107.9L515.7 114.8M510.3 107.4L514.3 114.3M508.9 106.9L512.9 113.7M507.5 106.4L511.5 113.2M506.1 105.9L510.1 112.7M504.7 105.4L508.7 112.1M503.3 104.8L507.2 111.6M501.8 104.3L505.8 111.1M500.4 103.8L504.4 110.5M499 103.3L503 110M497.6 102.8L501.6 109.5M496.2 102.3L500.2 109M494.8 101.8L498.8 108.4M493.4 101.3L497.4 107.9M492 100.7L496 107.4M490.6 100.2L494.6 106.8M489.2 99.7L493.2 106.3M487.8 99.2L491.8 105.8M486.4 98.7L490.4 105.2M485 98.2L489 104.7M483.6 97.7L487.5 104.2M482.1 97.2L486.1 103.6M480.7 96.6L484.7 103.1M479.3 96.1L483.3 102.6M477.9 95.6L481.9 102M476.5 95.1L480.5 101.5M475.1 94.6L479.1 101M473.7 94.1L477.7 100.4M472.3 93.6L476.3 99.9M470.9 93.1L474.9 99.4M469.5 92.5L473.5 98.8M468.1 92L472.1 98.3M466.7 91.5L470.7 97.8M465.3 91L469.3 97.2M463.8 90.5L467.8 96.7M462.4 90L466.4 96.2M461 89.5L465 95.6M459.6 89L463.6 95.1M458.2 88.4L462.2 94.6M456.8 87.9L460.8 94M455.4 87.4L459.4 93.5M454 86.9L458 93M452.6 86.4L456.6 92.4M451.2 85.9L455.2 91.9M449.8 85.4L453.8 91.4M448.4 84.9L452.4 90.8M447 84.3L451 90.3" fill="none" stroke="url(#h108)" stroke-width="0.5"/>
<path d="M524.9 113.4L517.1 110.6L509.4 107.8L501.7 104.9L493.9 102.1L486.2 99.3L478.4 96.5L470.7 93.6L463 90.8L455.2 88L447.5 85.1" fill="none" stroke="url(#h108)" stroke-width="0.7"/>
<path d="M523.4 110.8L515.6 108L507.9 105.2L500.1 102.4L492.4 99.6L484.7 96.8L476.9 94L469.2 91.2L461.4 88.4L453.7 85.6L446 82.8L447 84.3L454.7 87.2L462.4 90L470.2 92.8L477.9 95.6L485.7 98.4L493.4 101.3L501.1 104.1L508.9 106.9L516.6 109.7L524.4 112.5Z" fill="url(#g109)" stroke="url(#g109)" stroke-width="0.3"/>
<path d="M522.4 109L514.6 106.2L506.9 103.4L499.1 100.7L491.4 97.9L483.7 95.1L475.9 92.3L468.2 89.5L460.4 86.7L452.7 83.9L445 81.1L446 82.8L453.7 85.6L461.4 88.4L469.2 91.2L476.9 94L484.7 96.8L492.4 99.6L500.1 102.4L507.9 105.2L515.6 108L523.4 110.8Z" fill="url(#g110)" stroke="url(#g110)" stroke-width="0.3"/>
<path d="M522.4 109.2L514.7 106.4L507 103.6L499.2 100.8L491.5 98L483.7 95.2L476 92.4L468.3 89.6L460.5 86.8L452.8 84.1L445 81.3" fill="none" stroke="url(#h110)" stroke-width="0.7"/>
<path d="M521.4 107.3L513.6 104.5L505.9 101.7L498.1 98.9L490.4 96.1L482.7 93.3L474.9 90.6L467.2 87.8L459.4 85L451.7 82.2L444 79.4L445 81.1L452.7 83.9L460.4 86.7L468.2 89.5L475.9 92.3L483.7 95.1L491.4 97.9L499.1 100.7L506.9 103.4L514.6 106.2L522.4 109Z" fill="url(#g111)" stroke="url(#g111)" stroke-width="0.3"/>
<path d="M520.4 105.5L512.6 102.7L504.9 99.9L497.1 97.1L489.4 94.3L481.7 91.5L473.9 88.7L466.2 86L458.4 83.2L450.7 80.4L443 77.6L444 79.4L451.7 82.2L459.4 85L467.2 87.8L474.9 90.6L482.7 93.3L490.4 96.1L498.1 98.9L505.9 101.7L513.6 104.5L521.4 107.3Z" fill="url(#g112)" stroke="url(#g112)" stroke-width="0.3"/>
<path d="M520.4 105.5L524.4 112.5M519 105L523 112M517.6 104.5L521.5 111.5M516.1 104L520.1 111M514.7 103.5L518.7 110.5M513.3 103L517.3 110M511.9 102.5L515.9 109.5M510.5 101.9L514.5 108.9M509.1 101.4L513.1 108.4M507.7 100.9L511.7 107.9M506.3 100.4L510.3 107.4M504.9 99.9L508.9 106.9M503.5 99.4L507.5 106.4M502.1 98.9L506.1 105.9M500.7 98.4L504.7 105.4M499.3 97.9L503.3 104.8M497.9 97.4L501.8 104.3M496.4 96.9L500.4 103.8M495 96.4L499 103.3M493.6 95.9L497.6 102.8M492.2 95.3L496.2 102.3M490.8 94.8L494.8 101.8M489.4 94.3L493.4 101.3M488 93.8L492 100.7M486.6 93.3L490.6 100.2M485.2 92.8L489.2 99.7M483.8 92.3L487.8 99.2M482.4 91.8L486.4 98.7M481 91.3L485 98.2M479.6 90.8L483.6 97.7M478.1 90.3L482.1 97.2M476.7 89.8L480.7 96.6M475.3 89.3L479.3 96.1M473.9 88.7L477.9 95.6M472.5 88.2L476.5 95.1M471.1 87.7L475.1 94.6M469.7 87.2L473.7 94.1M468.3 86.7L472.3 93.6M466.9 86.2L470.9 93.1M465.5 85.7L469.5 92.5M464.1 85.2L468.1 92M462.7 84.7L466.7 91.5M461.3 84.2L465.3 91M459.9 83.7L463.8 90.5M458.4 83.2L462.4 90M457 82.7L461 89.5M455.6 82.1L459.6 89M454.2 81.6L458.2 88.4M452.8 81.1L456.8 87.9M451.4 80.6L455.4 87.4M450 80.1L454 86.9M448.6 79.6L452.6 86.4M447.2 79.1L451.2 85.9M445.8 78.6L449.8 85.4M444.4 78.1L448.4 84.9M443 77.6L447 84.3" fill="none" stroke="url(#h112)" stroke-width="0.5"/>
<path d="M519.4 103.7L511.6 100.9L503.9 98.1L496.1 95.3L488.4 92.5L480.7 89.7L472.9 86.9L465.2 84L457.4 81.2L449.7 78.4L442 75.6L443 77.6L450.7 80.4L458.4 83.2L466.2 86L473.9 88.7L481.7 91.5L489.4 94.3L497.1 97.1L504.9 99.9L512.6 102.7L520.4 105.5Z" fill="url(#g113)" stroke="url(#g113)" stroke-width="0.3"/>
<path d="M520.1 105L512.4 102.2L504.6 99.4L496.9 96.6L489.1 93.8L481.4 91L473.7 88.2L465.9 85.4L458.2 82.6L450.4 79.8L442.7 77" fill="none" stroke="url(#h113)" stroke-width="0.7"/>
<path d="M518.4 101.9L510.6 99L502.9 96.2L495.2 93.4L487.4 90.6L479.7 87.7L471.9 84.9L464.2 82.1L456.5 79.3L448.7 76.4L441 73.6L442 75.6L449.7 78.4L457.4 81.2L465.2 84L472.9 86.9L480.7 89.7L488.4 92.5L496.1 95.3L503.9 98.1L511.6 100.9L519.4 103.7Z" fill="url(#g114)" stroke="url(#g114)" stroke-width="0.3"/>
<path d="M517.4 100L509.6 97.1L501.9 94.3L494.2 91.4L486.4 88.6L478.7 85.8L470.9 82.9L463.2 80.1L455.5 77.2L447.7 74.4L440 71.5L441 73.6L448.7 76.4L456.5 79.3L464.2 82.1L471.9 84.9L479.7 87.7L487.4 90.6L495.2 93.4L502.9 96.2L510.6 99L518.4 101.9Z" fill="url(#g115)" stroke="url(#g115)" stroke-width="0.3"/>
<path d="M517.8 100.9L510.1 98L502.4 95.2L494.6 92.4L486.9 89.5L479.1 86.7L471.4 83.9L463.7 81L455.9 78.2L448.2 75.4L440.4 72.5" fill="none" stroke="url(#h115)" stroke-width="0.7"/>
<path d="M516.4 98.1L508.6 95.2L500.9 92.3L493.2 89.5L485.4 86.6L477.7 83.8L469.9 80.9L462.2 78L454.5 75.2L446.7 72.3L439 69.5L440 71.5L447.7 74.4L455.5 77.2L463.2 80.1L470.9 82.9L478.7 85.8L486.4 88.6L494.2 91.4L501.9 94.3L509.6 97.1L517.4 100Z" fill="url(#g116)" stroke="url(#g116)" stroke-width="0.3"/>
<path d="M516.4 98.1L520.4 105.5M515 97.5L519 105M513.6 97L517.6 104.5M512.2 96.5L516.1 104M510.7 96L514.7 103.5M509.3 95.5L513.3 103M507.9 94.9L511.9 102.5M506.5 94.4L510.5 101.9M505.1 93.9L509.1 101.4M503.7 93.4L507.7 100.9M502.3 92.9L506.3 100.4M500.9 92.3L504.9 99.9M499.5 91.8L503.5 99.4M498.1 91.3L502.1 98.9M496.7 90.8L500.7 98.4M495.3 90.3L499.3 97.9M493.9 89.7L497.9 97.4M492.5 89.2L496.4 96.9M491 88.7L495 96.4M489.6 88.2L493.6 95.9M488.2 87.7L492.2 95.3M486.8 87.1L490.8 94.8M485.4 86.6L489.4 94.3M484 86.1L488 93.8M482.6 85.6L486.6 93.3M481.2 85.1L485.2 92.8M479.8 84.5L483.8 92.3M478.4 84L482.4 91.8M477 83.5L481 91.3M475.6 83L479.6 90.8M474.2 82.5L478.1 90.3M472.7 81.9L476.7 89.8M471.3 81.4L475.3 89.3M469.9 80.9L473.9 88.7M468.5 80.4L472.5 88.2M467.1 79.9L471.1 87.7M465.7 79.3L469.7 87.2M464.3 78.8L468.3 86.7M462.9 78.3L466.9 86.2M461.5 77.8L465.5 85.7M460.1 77.3L464.1 85.2M458.7 76.7L462.7 84.7M457.3 76.2L461.3 84.2M455.9 75.7L459.9 83.7M454.5 75.2L458.4 83.2M453 74.7L457 82.7M451.6 74.1L455.6 82.1M450.2 73.6L454.2 81.6M448.8 73.1L452.8 81.1M447.4 72.6L451.4 80.6M446 72.1L450 80.1M444.6 71.5L448.6 79.6M443.2 71L447.2 79.1M441.8 70.5L445.8 78.6M440.4 70L444.4 78.1M439 69.5L443 77.6" fill="none" stroke="url(#h116)" stroke-width="0.5"/>
<path d="M515.4 96.1L507.6 93.3L499.9 90.4L492.2 87.5L484.4 84.7L476.7 81.8L468.9 78.9L461.2 76L453.5 73.2L445.7 70.3L438 67.4L439 69.5L446.7 72.3L454.5 75.2L462.2 78L469.9 80.9L477.7 83.8L485.4 86.6L493.2 89.5L500.9 92.3L508.6 95.2L516.4 98.1Z" fill="url(#g117)" stroke="url(#g117)" stroke-width="0.3"/>
<path d="M515.6 96.6L507.9 93.8L500.2 90.9L492.4 88L484.7 85.2L476.9 82.3L469.2 79.4L461.5 76.6L453.7 73.7L446 70.8L438.2 67.9" fill="none" stroke="url(#h117)" stroke-width="0.7"/>
<path d="M514.4 94.3L506.6 91.4L498.9 88.5L491.2 85.6L483.4 82.7L475.7 79.8L467.9 77L460.2 74.1L452.5 71.2L444.7 68.3L437 65.4L438 67.4L445.7 70.3L453.5 73.2L461.2 76L468.9 78.9L476.7 81.8L484.4 84.7L492.2 87.5L499.9 90.4L507.6 93.3L515.4 96.1Z" fill="url(#g118)" stroke="url(#g118)" stroke-width="0.3"/>
<path d="M513.4 92.4L505.6 89.5L497.9 86.6L490.2 83.7L482.4 80.8L474.7 78L466.9 75.1L459.2 72.2L451.5 69.3L443.7 66.4L436 63.5L437 65.4L444.7 68.3L452.5 71.2L460.2 74.1L467.9 77L475.7 79.8L483.4 82.7L491.2 85.6L498.9 88.5L506.6 91.4L514.4 94.3Z" fill="url(#g119)" stroke="url(#g119)" stroke-width="0.3"/>
<path d="M513.4 92.4L505.6 89.5L497.9 86.6L490.2 83.7L482.4 80.8L474.7 78L466.9 75.1L459.2 72.2L451.5 69.3L443.7 66.4L436 63.5" fill="none" stroke="url(#h119)" stroke-width="0.7"/>
<path d="M512.4 90.6L504.6 87.7L496.9 84.8L489.2 81.9L481.4 79L473.7 76.2L465.9 73.3L458.2 70.4L450.5 67.5L442.7 64.6L435 61.7L436 63.5L443.7 66.4L451.5 69.3L459.2 72.2L466.9 75.1L474.7 78L482.4 80.8L490.2 83.7L497.9 86.6L505.6 89.5L513.4 92.4Z" fill="url(#g120)" stroke="url(#g120)" stroke-width="0.3"/>
<path d="M512.4 90.6L516.4 98.1M511 90.1L515 97.5M509.6 89.5L513.6 97M508.2 89L512.2 96.5M506.8 88.5L510.7 96M505.3 88L509.3 95.5M503.9 87.4L507.9 94.9M502.5 86.9L506.5 94.4M501.1 86.4L505.1 93.9M499.7 85.9L503.7 93.4M498.3 85.3L502.3 92.9M496.9 84.8L500.9 92.3M495.5 84.3L499.5 91.8M494.1 83.8L498.1 91.3M492.7 83.2L496.7 90.8M491.3 82.7L495.3 90.3M489.9 82.2L493.9 89.7M488.5 81.7L492.5 89.2M487 81.1L491 88.7M485.6 80.6L489.6 88.2M484.2 80.1L488.2 87.7M482.8 79.6L486.8 87.1M481.4 79L485.4 86.6M480 78.5L484 86.1M478.6 78L482.6 85.6M477.2 77.5L481.2 85.1M475.8 76.9L479.8 84.5M474.4 76.4L478.4 84M473 75.9L477 83.5M471.6 75.4L475.6 83M470.2 74.8L474.2 82.5M468.8 74.3L472.7 81.9M467.3 73.8L471.3 81.4M465.9 73.3L469.9 80.9M464.5 72.7L468.5 80.4M463.1 72.2L467.1 79.9M461.7 71.7L465.7 79.3M460.3 71.2L464.3 78.8M458.9 70.6L462.9 78.3M457.5 70.1L461.5 77.8M456.1 69.6L460.1 77.3M454.7 69.1L458.7 76.7M453.3 68.5L457.3 76.2M451.9 68L455.9 75.7M450.5 67.5L454.5 75.2M449.1 67L453 74.7M447.6 66.4L451.6 74.1M446.2 65.9L450.2 73.6M444.8 65.4L448.8 73.1M443.4 64.9L447.4 72.6M442 64.3L446 72.1M440.6 63.8L444.6 71.5M439.2 63.3L443.2 71M437.8 62.8L441.8 70.5M436.4 62.2L440.4 70M435 61.7L439 69.5" fill="none" stroke="url(#h120)" stroke-width="0.5"/>
<path d="M511.4 88.9L503.6 86L495.9 83.1L488.2 80.2L480.4 77.4L472.7 74.5L464.9 71.6L457.2 68.7L449.5 65.8L441.7 63L434 60.1L435 61.7L442.7 64.6L450.5 67.5L458.2 70.4L465.9 73.3L473.7 76.2L481.4 79L489.2 81.9L496.9 84.8L504.6 87.7L512.4 90.6Z" fill="url(#g121)" stroke="url(#g121)" stroke-width="0.3"/>
<path d="M510.4 87.2L502.6 84.4L494.9 81.5L487.2 78.6L479.4 75.8L471.7 72.9L463.9 70.1L456.2 67.2L448.5 64.3L440.7 61.5L433 58.6L434 60.1L441.7 63L449.5 65.8L457.2 68.7L464.9 71.6L472.7 74.5L480.4 77.4L488.2 80.2L495.9 83.1L503.6 86L511.4 88.9Z" fill="url(#g122)" stroke="url(#g122)" stroke-width="0.3"/>
<path d="M511 88.2L503.2 85.3L495.5 82.5L487.8 79.6L480 76.7L472.3 73.8L464.5 71L456.8 68.1L449.1 65.2L441.3 62.4L433.6 59.5" fill="none" stroke="url(#h122)" stroke-width="0.7"/>
<path d="M509.4 85.7L501.6 82.9L493.9 80L486.2 77.2L478.4 74.3L470.7 71.5L462.9 68.6L455.2 65.8L447.5 62.9L439.7 60.1L432 57.2L433 58.6L440.7 61.5L448.5 64.3L456.2 67.2L463.9 70.1L471.7 72.9L479.4 75.8L487.2 78.6L494.9 81.5L502.6 84.4L510.4 87.2Z" fill="url(#g123)" stroke="url(#g123)" stroke-width="0.3"/>
<path d="M508.4 84.3L500.6 81.5L492.9 78.6L485.2 75.8L477.4 72.9L469.7 70.1L461.9 67.2L454.2 64.4L446.5 61.5L438.7 58.7L431 55.8L432 57.2L439.7 60.1L447.5 62.9L455.2 65.8L462.9 68.6L470.7 71.5L478.4 74.3L486.2 77.2L493.9 80L501.6 82.9L509.4 85.7Z" fill="url(#g124)" stroke="url(#g124)" stroke-width="0.3"/>
<path d="M508.4 84.3L512.4 90.6M507 83.8L511 90.1M505.6 83.3L509.6 89.5M504.2 82.7L508.2 89M502.8 82.2L506.8 88.5M501.3 81.7L505.3 88M499.9 81.2L503.9 87.4M498.5 80.7L502.5 86.9M497.1 80.2L501.1 86.4M495.7 79.6L499.7 85.9M494.3 79.1L498.3 85.3M492.9 78.6L496.9 84.8M491.5 78.1L495.5 84.3M490.1 77.6L494.1 83.8M488.7 77.1L492.7 83.2M487.3 76.5L491.3 82.7M485.9 76L489.9 82.2M484.5 75.5L488.5 81.7M483.1 75L487 81.1M481.6 74.5L485.6 80.6M480.2 73.9L484.2 80.1M478.8 73.4L482.8 79.6M477.4 72.9L481.4 79M476 72.4L480 78.5M474.6 71.9L478.6 78M473.2 71.4L477.2 77.5M471.8 70.8L475.8 76.9M470.4 70.3L474.4 76.4M469 69.8L473 75.9M467.6 69.3L471.6 75.4M466.2 68.8L470.2 74.8M464.8 68.3L468.8 74.3M463.4 67.7L467.3 73.8M461.9 67.2L465.9 73.3M460.5 66.7L464.5 72.7M459.1 66.2L463.1 72.2M457.7 65.7L461.7 71.7M456.3 65.1L460.3 71.2M454.9 64.6L458.9 70.6M453.5 64.1L457.5 70.1M452.1 63.6L456.1 69.6M450.7 63.1L454.7 69.1M449.3 62.6L453.3 68.5M447.9 62L451.9 68M446.5 61.5L450.5 67.5M445.1 61L449.1 67M443.7 60.5L447.6 66.4M442.2 60L446.2 65.9M440.8 59.5L444.8 65.4M439.4 58.9L443.4 64.9M438 58.4L442 64.3M436.6 57.9L440.6 63.8M435.2 57.4L439.2 63.3M433.8 56.9L437.8 62.8M432.4 56.3L436.4 62.2M431 55.8L435 61.7" fill="none" stroke="url(#h124)" stroke-width="0.5"/>
<path d="M507.4 83L499.6 80.2L491.9 77.3L484.2 74.5L476.4 71.6L468.7 68.7L460.9 65.9L453.2 63L445.5 60.1L437.7 57.3L430 54.4L431 55.8L438.7 58.7L446.5 61.5L454.2 64.4L461.9 67.2L469.7 70.1L477.4 72.9L485.2 75.8L492.9 78.6L500.6 81.5L508.4 84.3Z" fill="url(#g125)" stroke="url(#g125)" stroke-width="0.3"/>
<path d="M508.4 84.3L500.6 81.5L492.9 78.6L485.2 75.8L477.4 72.9L469.7 70.1L461.9 67.2L454.2 64.4L446.5 61.5L438.7 58.7L431 55.8" fill="none" stroke="url(#h125)" stroke-width="0.7"/>
<path d="M506.4 81.8L498.6 79L490.9 76.1L483.2 73.2L475.4 70.3L467.7 67.5L459.9 64.6L452.2 61.7L444.5 58.8L436.7 55.9L429 53.1L430 54.4L437.7 57.3L445.5 60.1L453.2 63L460.9 65.9L468.7 68.7L476.4 71.6L484.2 74.5L491.9 77.3L499.6 80.2L507.4 83Z" fill="url(#g126)" stroke="url(#g126)" stroke-width="0.3"/>
<path d="M505.4 80.7L497.7 77.8L489.9 74.9L482.2 72L474.4 69.1L466.7 66.2L459 63.3L451.2 60.5L443.5 57.6L435.7 54.7L428 51.8L429 53.1L436.7 55.9L444.5 58.8L452.2 61.7L459.9 64.6L467.7 67.5L475.4 70.3L483.2 73.2L490.9 76.1L498.6 79L506.4 81.8Z" fill="url(#g127)" stroke="url(#g127)" stroke-width="0.3"/>
<path d="M505.6 81L497.9 78.1L490.2 75.2L482.4 72.3L474.7 69.4L466.9 66.5L459.2 63.6L451.5 60.8L443.7 57.9L436 55L428.2 52.1" fill="none" stroke="url(#h127)" stroke-width="0.7"/>
<path d="M504.4 79.7L496.7 76.8L488.9 73.9L481.2 71L473.4 68.1L465.7 65.1L458 62.2L450.2 59.3L442.5 56.4L434.7 53.5L427 50.6L428 51.8L435.7 54.7L443.5 57.6L451.2 60.5L459 63.3L466.7 66.2L474.4 69.1L482.2 72L489.9 74.9L497.7 77.8L505.4 80.7Z" fill="url(#g128)" stroke="url(#g128)" stroke-width="0.3"/>
<path d="M504.4 79.7L508.4 84.3M503 79.2L507 83.8M501.6 78.6L505.6 83.3M500.2 78.1L504.2 82.7M498.8 77.6L502.8 82.2M497.4 77.1L501.3 81.7M495.9 76.5L499.9 81.2M494.5 76L498.5 80.7M493.1 75.5L497.1 80.2M491.7 74.9L495.7 79.6M490.3 74.4L494.3 79.1M488.9 73.9L492.9 78.6M487.5 73.3L491.5 78.1M486.1 72.8L490.1 77.6M484.7 72.3L488.7 77.1M483.3 71.8L487.3 76.5M481.9 71.2L485.9 76M480.5 70.7L484.5 75.5M479.1 70.2L483.1 75M477.7 69.6L481.6 74.5M476.2 69.1L480.2 73.9M474.8 68.6L478.8 73.4M473.4 68.1L477.4 72.9M472 67.5L476 72.4M470.6 67L474.6 71.9M469.2 66.5L473.2 71.4M467.8 65.9L471.8 70.8M466.4 65.4L470.4 70.3M465 64.9L469 69.8M463.6 64.3L467.6 69.3M462.2 63.8L466.2 68.8M460.8 63.3L464.8 68.3M459.4 62.8L463.4 67.7M458 62.2L461.9 67.2M456.5 61.7L460.5 66.7M455.1 61.2L459.1 66.2M453.7 60.6L457.7 65.7M452.3 60.1L456.3 65.1M450.9 59.6L454.9 64.6M449.5 59L453.5 64.1M448.1 58.5L452.1 63.6M446.7 58L450.7 63.1M445.3 57.5L449.3 62.6M443.9 56.9L447.9 62M442.5 56.4L446.5 61.5M441.1 55.9L445.1 61M439.7 55.3L443.7 60.5M438.3 54.8L442.2 60M436.8 54.3L440.8 59.5M435.4 53.7L439.4 58.9M434 53.2L438 58.4M432.6 52.7L436.6 57.9M431.2 52.2L435.2 57.4M429.8 51.6L433.8 56.9M428.4 51.1L432.4 56.3M427 50.6L431 55.8" fill="none" stroke="url(#h128)" stroke-width="0.5"/>
<path d="M503.4 78.8L495.7 75.9L487.9 73L480.2 70L472.4 67.1L464.7 64.2L457 61.2L449.2 58.3L441.5 55.4L433.7 52.4L426 49.5L427 50.6L434.7 53.5L442.5 56.4L450.2 59.3L458 62.2L465.7 65.1L473.4 68.1L481.2 71L488.9 73.9L496.7 76.8L504.4 79.7Z" fill="url(#g129)" stroke="url(#g129)" stroke-width="0.3"/>
<path d="M502.4 78.1L494.7 75.1L486.9 72.2L479.2 69.2L471.4 66.3L463.7 63.3L456 60.4L448.2 57.4L440.5 54.5L432.7 51.5L425 48.6L426 49.5L433.7 52.4L441.5 55.4L449.2 58.3L457 61.2L464.7 64.2L472.4 67.1L480.2 70L487.9 73L495.7 75.9L503.4 78.8Z" fill="url(#g130)" stroke="url(#g130)" stroke-width="0.3"/>
<path d="M502.6 78.2L494.9 75.3L487.2 72.3L479.4 69.4L471.7 66.5L463.9 63.5L456.2 60.6L448.5 57.6L440.7 54.7L433 51.7L425.2 48.8" fill="none" stroke="url(#h130)" stroke-width="0.7"/>
<path d="M501.4 77.3L493.7 74.4L485.9 71.4L478.2 68.5L470.4 65.5L462.7 62.6L455 59.6L447.2 56.7L439.5 53.8L431.7 50.8L424 47.9L425 48.6L432.7 51.5L440.5 54.5L448.2 57.4L456 60.4L463.7 63.3L471.4 66.3L479.2 69.2L486.9 72.2L494.7 75.1L502.4 78.1Z" fill="url(#g131)" stroke="url(#g131)" stroke-width="0.3"/>
<path d="M500.4 76.6L492.7 73.7L484.9 70.7L477.2 67.8L469.4 64.9L461.7 62L454 59L446.2 56.1L438.5 53.2L430.7 50.3L423 47.4L424 47.9L431.7 50.8L439.5 53.8L447.2 56.7L455 59.6L462.7 62.6L470.4 65.5L478.2 68.5L485.9 71.4L493.7 74.4L501.4 77.3Z" fill="url(#g132)" stroke="url(#g132)" stroke-width="0.3"/>
<path d="M500.4 76.6L504.4 79.7M499 76L503 79.2M497.6 75.5L501.6 78.6M496.2 75L500.2 78.1M494.8 74.5L498.8 77.6M493.4 73.9L497.4 77.1M492 73.4L495.9 76.5M490.5 72.9L494.5 76M489.1 72.3L493.1 75.5M487.7 71.8L491.7 74.9M486.3 71.3L490.3 74.4M484.9 70.7L488.9 73.9M483.5 70.2L487.5 73.3M482.1 69.7L486.1 72.8M480.7 69.1L484.7 72.3M479.3 68.6L483.3 71.8M477.9 68.1L481.9 71.2M476.5 67.5L480.5 70.7M475.1 67L479.1 70.2M473.7 66.5L477.7 69.6M472.3 66L476.2 69.1M470.8 65.4L474.8 68.6M469.4 64.9L473.4 68.1M468 64.4L472 67.5M466.6 63.8L470.6 67M465.2 63.3L469.2 66.5M463.8 62.8L467.8 65.9M462.4 62.2L466.4 65.4M461 61.7L465 64.9M459.6 61.2L463.6 64.3M458.2 60.6L462.2 63.8M456.8 60.1L460.8 63.3M455.4 59.6L459.4 62.8M454 59L458 62.2M452.6 58.5L456.5 61.7M451.1 58L455.1 61.2M449.7 57.5L453.7 60.6M448.3 56.9L452.3 60.1M446.9 56.4L450.9 59.6M445.5 55.9L449.5 59M444.1 55.3L448.1 58.5M442.7 54.8L446.7 58M441.3 54.3L445.3 57.5M439.9 53.7L443.9 56.9M438.5 53.2L442.5 56.4M437.1 52.7L441.1 55.9M435.7 52.1L439.7 55.3M434.3 51.6L438.3 54.8M432.8 51.1L436.8 54.3M431.4 50.5L435.4 53.7M430 50L434 53.2M428.6 49.5L432.6 52.7M427.2 49L431.2 52.2M425.8 48.4L429.8 51.6M424.4 47.9L428.4 51.1M423 47.4L427 50.6" fill="none" stroke="url(#h132)" stroke-width="0.5"/>
<path d="M499.4 76.1L491.7 73.2L483.9 70.3L476.2 67.4L468.4 64.5L460.7 61.6L453 58.7L445.2 55.8L437.5 52.9L429.7 50L422 47.1L423 47.4L430.7 50.3L438.5 53.2L446.2 56.1L454 59L461.7 62L469.4 64.9L477.2 67.8L484.9 70.7L492.7 73.7L500.4 76.6Z" fill="url(#g133)" stroke="url(#g133)" stroke-width="0.3"/>
<path d="M498.4 76.1L490.7 73.2L482.9 70.3L475.2 67.4L467.4 64.5L459.7 61.6L452 58.6L444.2 55.7L436.5 52.8L428.7 49.9L421 47L422 47.1L429.7 50L437.5 52.9L445.2 55.8L453 58.7L460.7 61.6L468.4 64.5L476.2 67.4L483.9 70.3L491.7 73.2L499.4 76.1Z" fill="url(#g134)" stroke="url(#g134)" stroke-width="0.3"/>
<path d="M499.3 76.1L491.5 73.2L483.8 70.3L476 67.4L468.3 64.5L460.6 61.6L452.8 58.7L445.1 55.8L437.3 52.9L429.6 50L421.9 47.1" fill="none" stroke="url(#h134)" stroke-width="0.7"/>
<path d="M497.4 76.5L489.7 73.5L481.9 70.6L474.2 67.6L466.4 64.6L458.7 61.7L451 58.7L443.2 55.8L435.5 52.8L427.7 49.9L420 46.9L421 47L428.7 49.9L436.5 52.8L444.2 55.7L452 58.6L459.7 61.6L467.4 64.5L475.2 67.4L482.9 70.3L490.7 73.2L498.4 76.1Z" fill="url(#g135)" stroke="url(#g135)" stroke-width="0.3"/>
<path d="M496.4 76.8L488.7 73.8L480.9 70.8L473.2 67.8L465.4 64.8L457.7 61.8L450 58.8L442.2 55.8L434.5 52.8L426.7 49.8L419 46.8L420 46.9L427.7 49.9L435.5 52.8L443.2 55.8L451 58.7L458.7 61.7L466.4 64.6L474.2 67.6L481.9 70.6L489.7 73.5L497.4 76.5Z" fill="url(#g136)" stroke="url(#g136)" stroke-width="0.3"/>
<path d="M496.4 76.8L500.4 76.6M495 76.3L499 76M493.6 75.7L497.6 75.5M492.2 75.2L496.2 75M490.8 74.6L494.8 74.5M489.4 74.1L493.4 73.9M488 73.6L492 73.4M486.6 73L490.5 72.9M485.1 72.5L489.1 72.3M483.7 71.9L487.7 71.8M482.3 71.4L486.3 71.3M480.9 70.8L484.9 70.7M479.5 70.3L483.5 70.2M478.1 69.7L482.1 69.7M476.7 69.2L480.7 69.1M475.3 68.6L479.3 68.6M473.9 68.1L477.9 68.1M472.5 67.6L476.5 67.5M471.1 67L475.1 67M469.7 66.5L473.7 66.5M468.3 65.9L472.3 66M466.9 65.4L470.8 65.4M465.4 64.8L469.4 64.9M464 64.3L468 64.4M462.6 63.7L466.6 63.8M461.2 63.2L465.2 63.3M459.8 62.7L463.8 62.8M458.4 62.1L462.4 62.2M457 61.6L461 61.7M455.6 61L459.6 61.2M454.2 60.5L458.2 60.6M452.8 59.9L456.8 60.1M451.4 59.4L455.4 59.6M450 58.8L454 59M448.6 58.3L452.6 58.5M447.1 57.7L451.1 58M445.7 57.2L449.7 57.5M444.3 56.7L448.3 56.9M442.9 56.1L446.9 56.4M441.5 55.6L445.5 55.9M440.1 55L444.1 55.3M438.7 54.5L442.7 54.8M437.3 53.9L441.3 54.3M435.9 53.4L439.9 53.7M434.5 52.8L438.5 53.2M433.1 52.3L437.1 52.7M431.7 51.7L435.7 52.1M430.3 51.2L434.3 51.6M428.9 50.7L432.8 51.1M427.4 50.1L431.4 50.5M426 49.6L430 50M424.6 49L428.6 49.5M423.2 48.5L427.2 49M421.8 47.9L425.8 48.4M420.4 47.4L424.4 47.9M419 46.8L423 47.4" fill="none" stroke="url(#h136)" stroke-width="0.5"/>
<path d="M495.4 77.2L487.7 74.1L479.9 71.1L472.2 68.1L464.4 65L456.7 62L449 59L441.2 55.9L433.5 52.9L425.7 49.8L418 46.8L419 46.8L426.7 49.8L434.5 52.8L442.2 55.8L450 58.8L457.7 61.8L465.4 64.8L473.2 67.8L480.9 70.8L488.7 73.8L496.4 76.8Z" fill="url(#g137)" stroke="url(#g137)" stroke-width="0.3"/>
<path d="M495.6 77.1L487.8 74.1L480.1 71.1L472.4 68L464.6 65L456.9 62L449.1 58.9L441.4 55.9L433.7 52.9L425.9 49.8L418.2 46.8" fill="none" stroke="url(#h137)" stroke-width="0.7"/>
<path d="M494.4 77.5L486.7 74.5L478.9 71.4L471.2 68.3L463.4 65.2L455.7 62.2L448 59.1L440.2 56L432.5 52.9L424.7 49.9L417 46.8L418 46.8L425.7 49.8L433.5 52.9L441.2 55.9L449 59L456.7 62L464.4 65L472.2 68.1L479.9 71.1L487.7 74.1L495.4 77.2Z" fill="url(#g138)" stroke="url(#g138)" stroke-width="0.3"/>
<path d="M493.4 77.9L485.7 74.8L477.9 71.7L470.2 68.6L462.4 65.5L454.7 62.4L447 59.2L439.2 56.1L431.5 53L423.7 49.9L416 46.8L417 46.8L424.7 49.9L432.5 52.9L440.2 56L448 59.1L455.7 62.2L463.4 65.2L471.2 68.3L478.9 71.4L486.7 74.5L494.4 77.5Z" fill="url(#g139)" stroke="url(#g139)" stroke-width="0.3"/>
<path d="M492.4 78.2L484.7 75.1L476.9 72L469.2 68.8L461.5 65.7L453.7 62.6L446 59.4L438.2 56.3L430.5 53.2L422.8 50L415 46.9L416 46.8L423.7 49.9L431.5 53L439.2 56.1L447 59.2L454.7 62.4L462.4 65.5L470.2 68.6L477.9 71.7L485.7 74.8L493.4 77.9Z" fill="url(#g140)" stroke="url(#g140)" stroke-width="0.3"/>
<path d="M492.4 78.2L496.4 76.8M491 77.7L495 76.3M489.6 77.1L493.6 75.7M488.2 76.5L492.2 75.2M486.8 75.9L490.8 74.6M485.4 75.4L489.4 74.1M484 74.8L488 73.6M482.6 74.2L486.6 73M481.2 73.7L485.1 72.5M479.7 73.1L483.7 71.9M478.3 72.5L482.3 71.4M476.9 72L480.9 70.8M475.5 71.4L479.5 70.3M474.1 70.8L478.1 69.7M472.7 70.2L476.7 69.2M471.3 69.7L475.3 68.6M469.9 69.1L473.9 68.1M468.5 68.5L472.5 67.6M467.1 68L471.1 67M465.7 67.4L469.7 66.5M464.3 66.8L468.3 65.9M462.9 66.3L466.9 65.4M461.5 65.7L465.4 64.8M460 65.1L464 64.3M458.6 64.6L462.6 63.7M457.2 64L461.2 63.2M455.8 63.4L459.8 62.7M454.4 62.8L458.4 62.1M453 62.3L457 61.6M451.6 61.7L455.6 61M450.2 61.1L454.2 60.5M448.8 60.6L452.8 59.9M447.4 60L451.4 59.4M446 59.4L450 58.8M444.6 58.9L448.6 58.3M443.2 58.3L447.1 57.7M441.7 57.7L445.7 57.2M440.3 57.2L444.3 56.7M438.9 56.6L442.9 56.1M437.5 56L441.5 55.6M436.1 55.4L440.1 55M434.7 54.9L438.7 54.5M433.3 54.3L437.3 53.9M431.9 53.7L435.9 53.4M430.5 53.2L434.5 52.8M429.1 52.6L433.1 52.3M427.7 52L431.7 51.7M426.3 51.5L430.3 51.2M424.9 50.9L428.9 50.7M423.5 50.3L427.4 50.1M422 49.7L426 49.6M420.6 49.2L424.6 49M419.2 48.6L423.2 48.5M417.8 48L421.8 47.9M416.4 47.5L420.4 47.4M415 46.9L419 46.8" fill="none" stroke="url(#h140)" stroke-width="0.5"/>
<path d="M491.4 78.6L483.7 75.4L475.9 72.3L468.2 69.1L460.5 65.9L452.7 62.8L445 59.6L437.2 56.5L429.5 53.3L421.8 50.2L414 47L415 46.9L422.8 50L430.5 53.2L438.2 56.3L446 59.4L453.7 62.6L461.5 65.7L469.2 68.8L476.9 72L484.7 75.1L492.4 78.2Z" fill="url(#g141)" stroke="url(#g141)" stroke-width="0.3"/>
<path d="M491.9 78.4L484.2 75.2L476.4 72.1L468.7 69L461 65.8L453.2 62.7L445.5 59.5L437.7 56.4L430 53.2L422.3 50.1L414.5 47" fill="none" stroke="url(#h141)" stroke-width="0.7"/>
<path d="M490.4 78.9L482.7 75.7L474.9 72.6L467.2 69.4L459.5 66.2L451.7 63L444 59.9L436.2 56.7L428.5 53.5L420.8 50.3L413 47.2L414 47L421.8 50.2L429.5 53.3L437.2 56.5L445 59.6L452.7 62.8L460.5 65.9L468.2 69.1L475.9 72.3L483.7 75.4L491.4 78.6Z" fill="url(#g142)" stroke="url(#g142)" stroke-width="0.3"/>
<path d="M489.4 79.3L481.7 76.1L473.9 72.9L466.2 69.7L458.5 66.5L450.7 63.3L443 60.1L435.2 56.9L427.5 53.8L419.8 50.6L412 47.4L413 47.2L420.8 50.3L428.5 53.5L436.2 56.7L444 59.9L451.7 63L459.5 66.2L467.2 69.4L474.9 72.6L482.7 75.7L490.4 78.9Z" fill="url(#g143)" stroke="url(#g143)" stroke-width="0.3"/>
<path d="M488.4 79.6L480.7 76.4L472.9 73.2L465.2 70L457.5 66.8L449.7 63.6L442 60.4L434.2 57.2L426.5 54L418.8 50.8L411 47.6L412 47.4L419.8 50.6L427.5 53.8L435.2 56.9L443 60.1L450.7 63.3L458.5 66.5L466.2 69.7L473.9 72.9L481.7 76.1L489.4 79.3Z" fill="url(#g144)" stroke="url(#g144)" stroke-width="0.3"/>
<path d="M488.4 79.6L492.4 78.2M487 79L491 77.7M485.6 78.5L489.6 77.1M484.2 77.9L488.2 76.5M482.8 77.3L486.8 75.9M481.4 76.7L485.4 75.4M480 76.1L484 74.8M478.6 75.6L482.6 74.2M477.2 75L481.2 73.7M475.8 74.4L479.7 73.1M474.3 73.8L478.3 72.5M472.9 73.2L476.9 72M471.5 72.6L475.5 71.4M470.1 72.1L474.1 70.8M468.7 71.5L472.7 70.2M467.3 70.9L471.3 69.7M465.9 70.3L469.9 69.1M464.5 69.7L468.5 68.5M463.1 69.2L467.1 68M461.7 68.6L465.7 67.4M460.3 68L464.3 66.8M458.9 67.4L462.9 66.3M457.5 66.8L461.5 65.7M456 66.3L460 65.1M454.6 65.7L458.6 64.6M453.2 65.1L457.2 64M451.8 64.5L455.8 63.4M450.4 63.9L454.4 62.8M449 63.3L453 62.3M447.6 62.8L451.6 61.7M446.2 62.2L450.2 61.1M444.8 61.6L448.8 60.6M443.4 61L447.4 60M442 60.4L446 59.4M440.6 59.9L444.6 58.9M439.2 59.3L443.2 58.3M437.8 58.7L441.7 57.7M436.3 58.1L440.3 57.2M434.9 57.5L438.9 56.6M433.5 56.9L437.5 56M432.1 56.4L436.1 55.4M430.7 55.8L434.7 54.9M429.3 55.2L433.3 54.3M427.9 54.6L431.9 53.7M426.5 54L430.5 53.2M425.1 53.5L429.1 52.6M423.7 52.9L427.7 52M422.3 52.3L426.3 51.5M420.9 51.7L424.9 50.9M419.5 51.1L423.5 50.3M418.1 50.6L422 49.7M416.6 50L420.6 49.2M415.2 49.4L419.2 48.6M413.8 48.8L417.8 48M412.4 48.2L416.4 47.5M411 47.6L415 46.9" fill="none" stroke="url(#h144)" stroke-width="0.5"/>
<path d="M487.4 80L479.7 76.8L471.9 73.6L464.2 70.4L456.5 67.2L448.7 64L441 60.8L433.2 57.6L425.5 54.4L417.8 51.2L410 48L411 47.6L418.8 50.8L426.5 54L434.2 57.2L442 60.4L449.7 63.6L457.5 66.8L465.2 70L472.9 73.2L480.7 76.4L488.4 79.6Z" fill="url(#g145)" stroke="url(#g145)" stroke-width="0.3"/>
<path d="M488.3 79.7L480.6 76.5L472.8 73.3L465.1 70.1L457.4 66.9L449.6 63.7L441.9 60.5L434.1 57.3L426.4 54.1L418.7 50.9L410.9 47.7" fill="none" stroke="url(#h145)" stroke-width="0.7"/>
<path d="M486.4 80.3L478.7 77.1L470.9 73.9L463.2 70.7L455.5 67.5L447.7 64.3L440 61.1L432.2 57.9L424.5 54.7L416.8 51.5L409 48.3L410 48L417.8 51.2L425.5 54.4L433.2 57.6L441 60.8L448.7 64L456.5 67.2L464.2 70.4L471.9 73.6L479.7 76.8L487.4 80Z" fill="url(#g146)" stroke="url(#g146)" stroke-width="0.3"/>
<path d="M485.4 80.7L477.7 77.5L469.9 74.3L462.2 71.1L454.5 67.9L446.7 64.7L439 61.5L431.2 58.3L423.5 55.1L415.8 51.9L408 48.7L409 48.3L416.8 51.5L424.5 54.7L432.2 57.9L440 61.1L447.7 64.3L455.5 67.5L463.2 70.7L470.9 73.9L478.7 77.1L486.4 80.3Z" fill="url(#g147)" stroke="url(#g147)" stroke-width="0.3"/>
<path d="M484.4 81.1L476.7 77.9L468.9 74.7L461.2 71.5L453.5 68.3L445.7 65.1L438 61.9L430.2 58.7L422.5 55.5L414.8 52.3L407 49.1L408 48.7L415.8 51.9L423.5 55.1L431.2 58.3L439 61.5L446.7 64.7L454.5 67.9L462.2 71.1L469.9 74.3L477.7 77.5L485.4 80.7Z" fill="url(#g148)" stroke="url(#g148)" stroke-width="0.3"/>
<path d="M484.4 81.1L488.4 79.6M483 80.6L487 79M481.6 80L485.6 78.5M480.2 79.4L484.2 77.9M478.8 78.8L482.8 77.3M477.4 78.2L481.4 76.7M476 77.7L480 76.1M474.6 77.1L478.6 75.6M473.2 76.5L477.2 75M471.8 75.9L475.8 74.4M470.3 75.3L474.3 73.8M468.9 74.7L472.9 73.2M467.5 74.2L471.5 72.6M466.1 73.6L470.1 72.1M464.7 73L468.7 71.5M463.3 72.4L467.3 70.9M461.9 71.8L465.9 70.3M460.5 71.2L464.5 69.7M459.1 70.7L463.1 69.2M457.7 70.1L461.7 68.6M456.3 69.5L460.3 68M454.9 68.9L458.9 67.4M453.5 68.3L457.5 66.8M452.1 67.8L456 66.3M450.6 67.2L454.6 65.7M449.2 66.6L453.2 65.1M447.8 66L451.8 64.5M446.4 65.4L450.4 63.9M445 64.8L449 63.3M443.6 64.3L447.6 62.8M442.2 63.7L446.2 62.2M440.8 63.1L444.8 61.6M439.4 62.5L443.4 61M438 61.9L442 60.4M436.6 61.3L440.6 59.9M435.2 60.8L439.2 59.3M433.8 60.2L437.8 58.7M432.4 59.6L436.3 58.1M430.9 59L434.9 57.5M429.5 58.4L433.5 56.9M428.1 57.8L432.1 56.4M426.7 57.3L430.7 55.8M425.3 56.7L429.3 55.2M423.9 56.1L427.9 54.6M422.5 55.5L426.5 54M421.1 54.9L425.1 53.5M419.7 54.4L423.7 52.9M418.3 53.8L422.3 52.3M416.9 53.2L420.9 51.7M415.5 52.6L419.5 51.1M414.1 52L418.1 50.6M412.7 51.4L416.6 50M411.2 50.9L415.2 49.4M409.8 50.3L413.8 48.8M408.4 49.7L412.4 48.2M407 49.1L411 47.6" fill="none" stroke="url(#h148)" stroke-width="0.5"/>
<path d="M484.8 81L477 77.8L469.3 74.6L461.5 71.4L453.8 68.2L446.1 65L438.3 61.8L430.6 58.6L422.8 55.4L415.1 52.2L407.4 49" fill="none" stroke="url(#h148)" stroke-width="0.7"/>
<path d="M483.4 81.6L475.7 78.4L467.9 75.2L460.2 72L452.5 68.8L444.7 65.6L437 62.4L429.2 59.2L421.5 55.9L413.8 52.7L406 49.5L407 49.1L414.8 52.3L422.5 55.5L430.2 58.7L438 61.9L445.7 65.1L453.5 68.3L461.2 71.5L468.9 74.7L476.7 77.9L484.4 81.1Z" fill="url(#g149)" stroke="url(#g149)" stroke-width="0.3"/>
<path d="M482.4 82L474.7 78.8L466.9 75.6L459.2 72.4L451.5 69.2L443.7 66L436 62.8L428.2 59.6L420.5 56.4L412.8 53.2L405 50L406 49.5L413.8 52.7L421.5 55.9L429.2 59.2L437 62.4L444.7 65.6L452.5 68.8L460.2 72L467.9 75.2L475.7 78.4L483.4 81.6Z" fill="url(#g150)" stroke="url(#g150)" stroke-width="0.3"/>
<path d="M481.4 82.5L473.7 79.3L465.9 76.1L458.2 72.9L450.5 69.7L442.7 66.5L435 63.3L427.2 60.1L419.5 56.9L411.8 53.6L404 50.4L405 50L412.8 53.2L420.5 56.4L428.2 59.6L436 62.8L443.7 66L451.5 69.2L459.2 72.4L466.9 75.6L474.7 78.8L482.4 82Z" fill="url(#g151)" stroke="url(#g151)" stroke-width="0.3"/>
<path d="M480.4 83L472.7 79.8L464.9 76.6L457.2 73.4L449.5 70.2L441.7 67L434 63.8L426.2 60.5L418.5 57.3L410.8 54.1L403 50.9L404 50.4L411.8 53.6L419.5 56.9L427.2 60.1L435 63.3L442.7 66.5L450.5 69.7L458.2 72.9L465.9 76.1L473.7 79.3L481.4 82.5Z" fill="url(#g152)" stroke="url(#g152)" stroke-width="0.3"/>
<path d="M480.4 83L484.4 81.1M479 82.4L483 80.6M477.6 81.9L481.6 80M476.2 81.3L480.2 79.4M474.8 80.7L478.8 78.8M473.4 80.1L477.4 78.2M472 79.5L476 77.7M470.6 78.9L474.6 77.1M469.2 78.3L473.2 76.5M467.8 77.8L471.8 75.9M466.4 77.2L470.3 75.3M464.9 76.6L468.9 74.7M463.5 76L467.5 74.2M462.1 75.4L466.1 73.6M460.7 74.8L464.7 73M459.3 74.3L463.3 72.4M457.9 73.7L461.9 71.8M456.5 73.1L460.5 71.2M455.1 72.5L459.1 70.7M453.7 71.9L457.7 70.1M452.3 71.3L456.3 69.5M450.9 70.8L454.9 68.9M449.5 70.2L453.5 68.3M448.1 69.6L452.1 67.8M446.7 69L450.6 67.2M445.2 68.4L449.2 66.6M443.8 67.8L447.8 66M442.4 67.3L446.4 65.4M441 66.7L445 64.8M439.6 66.1L443.6 64.3M438.2 65.5L442.2 63.7M436.8 64.9L440.8 63.1M435.4 64.3L439.4 62.5M434 63.8L438 61.9M432.6 63.2L436.6 61.3M431.2 62.6L435.2 60.8M429.8 62L433.8 60.2M428.4 61.4L432.4 59.6M427 60.8L430.9 59M425.5 60.3L429.5 58.4M424.1 59.7L428.1 57.8M422.7 59.1L426.7 57.3M421.3 58.5L425.3 56.7M419.9 57.9L423.9 56.1M418.5 57.3L422.5 55.5M417.1 56.7L421.1 54.9M415.7 56.2L419.7 54.4M414.3 55.6L418.3 53.8M412.9 55L416.9 53.2M411.5 54.4L415.5 52.6M410.1 53.8L414.1 52M408.7 53.2L412.7 51.4M407.2 52.7L411.2 50.9M405.8 52.1L409.8 50.3M404.4 51.5L408.4 49.7M403 50.9L407 49.1" fill="none" stroke="url(#h152)" stroke-width="0.5"/>
<path d="M481.2 82.6L473.5 79.4L465.8 76.2L458 73L450.3 69.8L442.5 66.6L434.8 63.4L427.1 60.1L419.3 56.9L411.6 53.7L403.8 50.5" fill="none" stroke="url(#h152)" stroke-width="0.7"/>
<path d="M479.4 83.5L471.7 80.3L463.9 77.1L456.2 73.9L448.5 70.7L440.7 67.5L433 64.3L425.2 61L417.5 57.8L409.8 54.6L402 51.4L403 50.9L410.8 54.1L418.5 57.3L426.2 60.5L434 63.8L441.7 67L449.5 70.2L457.2 73.4L464.9 76.6L472.7 79.8L480.4 83Z" fill="url(#g153)" stroke="url(#g153)" stroke-width="0.3"/>
<path d="M478.4 84L470.7 80.8L463 77.6L455.2 74.4L447.5 71.2L439.7 68L432 64.8L424.3 61.5L416.5 58.3L408.8 55.1L401 51.9L402 51.4L409.8 54.6L417.5 57.8L425.2 61L433 64.3L440.7 67.5L448.5 70.7L456.2 73.9L463.9 77.1L471.7 80.3L479.4 83.5Z" fill="url(#g154)" stroke="url(#g154)" stroke-width="0.3"/>
<path d="M477.4 84.6L469.7 81.3L462 78.1L454.2 74.9L446.5 71.7L438.7 68.5L431 65.3L423.3 62.1L415.5 58.9L407.8 55.6L400 52.4L401 51.9L408.8 55.1L416.5 58.3L424.3 61.5L432 64.8L439.7 68L447.5 71.2L455.2 74.4L463 77.6L470.7 80.8L478.4 84Z" fill="url(#g155)" stroke="url(#g155)" stroke-width="0.3"/>
<path d="M477.8 84.4L470 81.2L462.3 77.9L454.6 74.7L446.8 71.5L439.1 68.3L431.3 65.1L423.6 61.9L415.9 58.7L408.1 55.5L400.4 52.2" fill="none" stroke="url(#h155)" stroke-width="0.7"/>
<path d="M476.4 85.1L468.7 81.9L461 78.7L453.2 75.4L445.5 72.2L437.7 69L430 65.8L422.3 62.6L414.5 59.4L406.8 56.2L399 53L400 52.4L407.8 55.6L415.5 58.9L423.3 62.1L431 65.3L438.7 68.5L446.5 71.7L454.2 74.9L462 78.1L469.7 81.3L477.4 84.6Z" fill="url(#g156)" stroke="url(#g156)" stroke-width="0.3"/>
<path d="M476.4 85.1L480.4 83M475 84.5L479 82.4M473.6 83.9L477.6 81.9M472.2 83.3L476.2 81.3M470.8 82.8L474.8 80.7M469.4 82.2L473.4 80.1M468 81.6L472 79.5M466.6 81L470.6 78.9M465.2 80.4L469.2 78.3M463.8 79.8L467.8 77.8M462.4 79.2L466.4 77.2M461 78.7L464.9 76.6M459.5 78.1L463.5 76M458.1 77.5L462.1 75.4M456.7 76.9L460.7 74.8M455.3 76.3L459.3 74.3M453.9 75.7L457.9 73.7M452.5 75.2L456.5 73.1M451.1 74.6L455.1 72.5M449.7 74L453.7 71.9M448.3 73.4L452.3 71.3M446.9 72.8L450.9 70.8M445.5 72.2L449.5 70.2M444.1 71.7L448.1 69.6M442.7 71.1L446.7 69M441.3 70.5L445.2 68.4M439.8 69.9L443.8 67.8M438.4 69.3L442.4 67.3M437 68.7L441 66.7M435.6 68.1L439.6 66.1M434.2 67.6L438.2 65.5M432.8 67L436.8 64.9M431.4 66.4L435.4 64.3M430 65.8L434 63.8M428.6 65.2L432.6 63.2M427.2 64.6L431.2 62.6M425.8 64.1L429.8 62M424.4 63.5L428.4 61.4M423 62.9L427 60.8M421.6 62.3L425.5 60.3M420.1 61.7L424.1 59.7M418.7 61.1L422.7 59.1M417.3 60.6L421.3 58.5M415.9 60L419.9 57.9M414.5 59.4L418.5 57.3M413.1 58.8L417.1 56.7M411.7 58.2L415.7 56.2M410.3 57.6L414.3 55.6M408.9 57L412.9 55M407.5 56.5L411.5 54.4M406.1 55.9L410.1 53.8M404.7 55.3L408.7 53.2M403.3 54.7L407.2 52.7M401.8 54.1L405.8 52.1M400.4 53.5L404.4 51.5M399 53L403 50.9" fill="none" stroke="url(#h156)" stroke-width="0.5"/>
<path d="M475.4 85.6L467.7 82.4L460 79.2L452.2 76L444.5 72.8L436.7 69.6L429 66.3L421.3 63.1L413.5 59.9L405.8 56.7L398 53.5L399 53L406.8 56.2L414.5 59.4L422.3 62.6L430 65.8L437.7 69L445.5 72.2L453.2 75.4L461 78.7L468.7 81.9L476.4 85.1Z" fill="url(#g157)" stroke="url(#g157)" stroke-width="0.3"/>
<path d="M474.4 86.2L466.7 83L459 79.8L451.2 76.6L443.5 73.4L435.7 70.2L428 66.9L420.3 63.7L412.5 60.5L404.8 57.3L397 54.1L398 53.5L405.8 56.7L413.5 59.9L421.3 63.1L429 66.3L436.7 69.6L444.5 72.8L452.2 76L460 79.2L467.7 82.4L475.4 85.6Z" fill="url(#g158)" stroke="url(#g158)" stroke-width="0.3"/>
<path d="M473.4 86.8L465.7 83.6L458 80.4L450.2 77.2L442.5 74L434.7 70.8L427 67.6L419.3 64.5L411.5 61.3L403.8 58.1L396 54.9L397 54.1L404.8 57.3L412.5 60.5L420.3 63.7L428 66.9L435.7 70.2L443.5 73.4L451.2 76.6L459 79.8L466.7 83L474.4 86.2Z" fill="url(#g159)" stroke="url(#g159)" stroke-width="0.3"/>
<path d="M474.4 86.2L466.6 83L458.9 79.8L451.1 76.6L443.4 73.4L435.7 70.2L427.9 67L420.2 63.8L412.4 60.6L404.7 57.4L397 54.2" fill="none" stroke="url(#h159)" stroke-width="0.7"/>
<path d="M472.4 87.4L464.7 84.2L457 81.1L449.2 77.9L441.5 74.8L433.7 71.6L426 68.4L418.3 65.3L410.5 62.1L402.8 58.9L395 55.8L396 54.9L403.8 58.1L411.5 61.3L419.3 64.5L427 67.6L434.7 70.8L442.5 74L450.2 77.2L458 80.4L465.7 83.6L473.4 86.8Z" fill="url(#g160)" stroke="url(#g160)" stroke-width="0.3"/>
<path d="M472.4 87.4L476.4 85.1M471 86.8L475 84.5M469.6 86.3L473.6 83.9M468.2 85.7L472.2 83.3M466.8 85.1L470.8 82.8M465.4 84.5L469.4 82.2M464 84L468 81.6M462.6 83.4L466.6 81M461.2 82.8L465.2 80.4M459.8 82.2L463.8 79.8M458.4 81.7L462.4 79.2M457 81.1L461 78.7M455.6 80.5L459.5 78.1M454.1 79.9L458.1 77.5M452.7 79.4L456.7 76.9M451.3 78.8L455.3 76.3M449.9 78.2L453.9 75.7M448.5 77.6L452.5 75.2M447.1 77.1L451.1 74.6M445.7 76.5L449.7 74M444.3 75.9L448.3 73.4M442.9 75.3L446.9 72.8M441.5 74.8L445.5 72.2M440.1 74.2L444.1 71.7M438.7 73.6L442.7 71.1M437.3 73L441.3 70.5M435.9 72.4L439.8 69.9M434.4 71.9L438.4 69.3M433 71.3L437 68.7M431.6 70.7L435.6 68.1M430.2 70.1L434.2 67.6M428.8 69.6L432.8 67M427.4 69L431.4 66.4M426 68.4L430 65.8M424.6 67.8L428.6 65.2M423.2 67.3L427.2 64.6M421.8 66.7L425.8 64.1M420.4 66.1L424.4 63.5M419 65.5L423 62.9M417.6 65L421.6 62.3M416.1 64.4L420.1 61.7M414.7 63.8L418.7 61.1M413.3 63.2L417.3 60.6M411.9 62.7L415.9 60M410.5 62.1L414.5 59.4M409.1 61.5L413.1 58.8M407.7 60.9L411.7 58.2M406.3 60.4L410.3 57.6M404.9 59.8L408.9 57M403.5 59.2L407.5 56.5M402.1 58.6L406.1 55.9M400.7 58.1L404.7 55.3M399.3 57.5L403.3 54.7M397.9 56.9L401.8 54.1M396.4 56.3L400.4 53.5M395 55.8L399 53" fill="none" stroke="url(#h160)" stroke-width="0.5"/>
<path d="M471.4 88.1L463.7 85L456 81.8L448.2 78.7L440.5 75.5L432.7 72.4L425 69.3L417.3 66.1L409.5 63L401.8 59.9L394 56.7L395 55.8L402.8 58.9L410.5 62.1L418.3 65.3L426 68.4L433.7 71.6L441.5 74.8L449.2 77.9L457 81.1L464.7 84.2L472.4 87.4Z" fill="url(#g161)" stroke="url(#g161)" stroke-width="0.3"/>
<path d="M470.4 88.8L462.7 85.7L455 82.6L447.2 79.5L439.5 76.4L431.7 73.3L424 70.2L416.3 67.1L408.5 64L400.8 60.9L393 57.8L394 56.7L401.8 59.9L409.5 63L417.3 66.1L425 69.3L432.7 72.4L440.5 75.5L448.2 78.7L456 81.8L463.7 85L471.4 88.1Z" fill="url(#g162)" stroke="url(#g162)" stroke-width="0.3"/>
<path d="M471.1 88.3L463.4 85.2L455.7 82.1L447.9 78.9L440.2 75.8L432.4 72.7L424.7 69.6L417 66.4L409.2 63.3L401.5 60.2L393.7 57.1" fill="none" stroke="url(#h162)" stroke-width="0.7"/>
<path d="M469.4 89.6L461.7 86.5L454 83.5L446.2 80.4L438.5 77.3L430.7 74.3L423 71.2L415.3 68.1L407.5 65.1L399.8 62L392 58.9L393 57.8L400.8 60.9L408.5 64L416.3 67.1L424 70.2L431.7 73.3L439.5 76.4L447.2 79.5L455 82.6L462.7 85.7L470.4 88.8Z" fill="url(#g163)" stroke="url(#g163)" stroke-width="0.3"/>
<path d="M468.4 90.4L460.7 87.4L453 84.4L445.2 81.3L437.5 78.3L429.7 75.3L422 72.2L414.3 69.2L406.5 66.2L398.8 63.1L391 60.1L392 58.9L399.8 62L407.5 65.1L415.3 68.1L423 71.2L430.7 74.3L438.5 77.3L446.2 80.4L454 83.5L461.7 86.5L469.4 89.6Z" fill="url(#g164)" stroke="url(#g164)" stroke-width="0.3"/>
<path d="M468.4 90.4L472.4 87.4M467 89.9L471 86.8M465.6 89.3L469.6 86.3M464.2 88.8L468.2 85.7M462.8 88.2L466.8 85.1M461.4 87.7L465.4 84.5M460 87.1L464 84M458.6 86.6L462.6 83.4M457.2 86L461.2 82.8M455.8 85.5L459.8 82.2M454.4 84.9L458.4 81.7M453 84.4L457 81.1M451.6 83.8L455.6 80.5M450.2 83.3L454.1 79.9M448.7 82.7L452.7 79.4M447.3 82.2L451.3 78.8M445.9 81.6L449.9 78.2M444.5 81L448.5 77.6M443.1 80.5L447.1 77.1M441.7 79.9L445.7 76.5M440.3 79.4L444.3 75.9M438.9 78.8L442.9 75.3M437.5 78.3L441.5 74.8M436.1 77.7L440.1 74.2M434.7 77.2L438.7 73.6M433.3 76.6L437.3 73M431.9 76.1L435.9 72.4M430.4 75.5L434.4 71.9M429 75L433 71.3M427.6 74.4L431.6 70.7M426.2 73.9L430.2 70.1M424.8 73.3L428.8 69.6M423.4 72.8L427.4 69M422 72.2L426 68.4M420.6 71.7L424.6 67.8M419.2 71.1L423.2 67.3M417.8 70.6L421.8 66.7M416.4 70L420.4 66.1M415 69.5L419 65.5M413.6 68.9L417.6 65M412.2 68.4L416.1 64.4M410.7 67.8L414.7 63.8M409.3 67.3L413.3 63.2M407.9 66.7L411.9 62.7M406.5 66.2L410.5 62.1M405.1 65.6L409.1 61.5M403.7 65.1L407.7 60.9M402.3 64.5L406.3 60.4M400.9 64L404.9 59.8M399.5 63.4L403.5 59.2M398.1 62.9L402.1 58.6M396.7 62.3L400.7 58.1M395.3 61.8L399.3 57.5M393.9 61.2L397.9 56.9M392.5 60.7L396.4 56.3M391 60.1L395 55.8" fill="none" stroke="url(#h164)" stroke-width="0.5"/>
<path d="M467.4 91.4L459.7 88.4L452 85.4L444.2 82.3L436.5 79.3L428.7 76.3L421 73.3L413.3 70.3L405.5 67.3L397.8 64.3L390 61.3L391 60.1L398.8 63.1L406.5 66.2L414.3 69.2L422 72.2L429.7 75.3L437.5 78.3L445.2 81.3L453 84.4L460.7 87.4L468.4 90.4Z" fill="url(#g165)" stroke="url(#g165)" stroke-width="0.3"/>
<path d="M468.1 90.7L460.4 87.7L452.6 84.7L444.9 81.7L437.1 78.6L429.4 75.6L421.7 72.6L413.9 69.6L406.2 66.6L398.4 63.5L390.7 60.5" fill="none" stroke="url(#h165)" stroke-width="0.7"/>
<path d="M466.4 92.6L458.7 89.6L451 86.6L443.2 83.6L435.5 80.6L427.7 77.6L420 74.6L412.3 71.6L404.5 68.6L396.8 65.6L389 62.6L390 61.3L397.8 64.3L405.5 67.3L413.3 70.3L421 73.3L428.7 76.3L436.5 79.3L444.2 82.3L452 85.4L459.7 88.4L467.4 91.4Z" fill="url(#g166)" stroke="url(#g166)" stroke-width="0.3"/>
<path d="M465.5 94.1L457.7 91.1L450 88.1L442.2 85.1L434.5 82.1L426.8 79.2L419 76.2L411.3 73.2L403.5 70.2L395.8 67.2L388.1 64.2L389 62.6L396.8 65.6L404.5 68.6L412.3 71.6L420 74.6L427.7 77.6L435.5 80.6L443.2 83.6L451 86.6L458.7 89.6L466.4 92.6Z" fill="url(#g167)" stroke="url(#g167)" stroke-width="0.3"/>
<path d="M464.5 95.9L456.7 92.9L449 89.9L441.2 86.9L433.5 83.9L425.8 80.9L418 77.9L410.3 74.9L402.5 71.9L394.8 68.9L387.1 65.9L388.1 64.2L395.8 67.2L403.5 70.2L411.3 73.2L419 76.2L426.8 79.2L434.5 82.1L442.2 85.1L450 88.1L457.7 91.1L465.5 94.1Z" fill="url(#g168)" stroke="url(#g168)" stroke-width="0.3"/>
<path d="M464.5 95.9L468.4 90.4M463 95.3L467 89.9M461.6 94.8L465.6 89.3M460.2 94.2L464.2 88.8M458.8 93.7L462.8 88.2M457.4 93.1L461.4 87.7M456 92.6L460 87.1M454.6 92L458.6 86.6M453.2 91.5L457.2 86M451.8 91L455.8 85.5M450.4 90.4L454.4 84.9M449 89.9L453 84.4M447.6 89.3L451.6 83.8M446.2 88.8L450.2 83.3M444.8 88.2L448.7 82.7M443.3 87.7L447.3 82.2M441.9 87.1L445.9 81.6M440.5 86.6L444.5 81M439.1 86.1L443.1 80.5M437.7 85.5L441.7 79.9M436.3 85L440.3 79.4M434.9 84.4L438.9 78.8M433.5 83.9L437.5 78.3M432.1 83.3L436.1 77.7M430.7 82.8L434.7 77.2M429.3 82.2L433.3 76.6M427.9 81.7L431.9 76.1M426.5 81.2L430.4 75.5M425 80.6L429 75M423.6 80.1L427.6 74.4M422.2 79.5L426.2 73.9M420.8 79L424.8 73.3M419.4 78.4L423.4 72.8M418 77.9L422 72.2M416.6 77.3L420.6 71.7M415.2 76.8L419.2 71.1M413.8 76.3L417.8 70.6M412.4 75.7L416.4 70M411 75.2L415 69.5M409.6 74.6L413.6 68.9M408.2 74.1L412.2 68.4M406.8 73.5L410.7 67.8M405.3 73L409.3 67.3M403.9 72.4L407.9 66.7M402.5 71.9L406.5 66.2M401.1 71.4L405.1 65.6M399.7 70.8L403.7 65.1M398.3 70.3L402.3 64.5M396.9 69.7L400.9 64M395.5 69.2L399.5 63.4M394.1 68.6L398.1 62.9M392.7 68.1L396.7 62.3M391.3 67.5L395.3 61.8M389.9 67L393.9 61.2M388.5 66.5L392.5 60.7M387.1 65.9L391 60.1" fill="none" stroke="url(#h168)" stroke-width="0.5"/>
<path d="M465.4 94.2L457.7 91.2L449.9 88.2L442.2 85.2L434.4 82.2L426.7 79.2L419 76.2L411.2 73.2L403.5 70.3L395.7 67.3L388 64.3" fill="none" stroke="url(#h168)" stroke-width="0.7"/>
<path d="M463.5 97.8L455.7 94.8L448 91.8L440.2 88.8L432.5 85.8L424.8 82.8L417 79.8L409.3 76.8L401.5 73.8L393.8 70.8L386.1 67.8L387.1 65.9L394.8 68.9L402.5 71.9L410.3 74.9L418 77.9L425.8 80.9L433.5 83.9L441.2 86.9L449 89.9L456.7 92.9L464.5 95.9Z" fill="url(#g169)" stroke="url(#g169)" stroke-width="0.3"/>
<path d="M462.5 99.9L454.7 96.9L447 93.9L439.2 90.8L431.5 87.8L423.8 84.8L416 81.8L408.3 78.8L400.5 75.8L392.8 72.7L385.1 69.7L386.1 67.8L393.8 70.8L401.5 73.8L409.3 76.8L417 79.8L424.8 82.8L432.5 85.8L440.2 88.8L448 91.8L455.7 94.8L463.5 97.8Z" fill="url(#g170)" stroke="url(#g170)" stroke-width="0.3"/>
<path d="M463.1 98.5L455.4 95.5L447.6 92.5L439.9 89.5L432.1 86.5L424.4 83.5L416.7 80.5L408.9 77.5L401.2 74.5L393.4 71.5L385.7 68.5" fill="none" stroke="url(#h170)" stroke-width="0.7"/>
<path d="M461.5 102.1L453.7 99L446 96L438.2 93L430.5 89.9L422.8 86.9L415 83.9L407.3 80.8L399.5 77.8L391.8 74.8L384.1 71.7L385.1 69.7L392.8 72.7L400.5 75.8L408.3 78.8L416 81.8L423.8 84.8L431.5 87.8L439.2 90.8L447 93.9L454.7 96.9L462.5 99.9Z" fill="url(#g171)" stroke="url(#g171)" stroke-width="0.3"/>
<path d="M460.5 104.3L452.7 101.3L445 98.2L437.2 95.2L429.5 92.1L421.8 89.1L414 86L406.3 83L398.5 79.9L390.8 76.8L383.1 73.8L384.1 71.7L391.8 74.8L399.5 77.8L407.3 80.8L415 83.9L422.8 86.9L430.5 89.9L438.2 93L446 96L453.7 99L461.5 102.1Z" fill="url(#g172)" stroke="url(#g172)" stroke-width="0.3"/>
<path d="M460.5 104.3L464.5 95.9M459.1 103.8L463 95.3M457.6 103.2L461.6 94.8M456.2 102.7L460.2 94.2M454.8 102.1L458.8 93.7M453.4 101.6L457.4 93.1M452 101L456 92.6M450.6 100.4L454.6 92M449.2 99.9L453.2 91.5M447.8 99.3L451.8 91M446.4 98.8L450.4 90.4M445 98.2L449 89.9M443.6 97.7L447.6 89.3M442.2 97.1L446.2 88.8M440.8 96.6L444.8 88.2M439.3 96L443.3 87.7M437.9 95.4L441.9 87.1M436.5 94.9L440.5 86.6M435.1 94.3L439.1 86.1M433.7 93.8L437.7 85.5M432.3 93.2L436.3 85M430.9 92.7L434.9 84.4M429.5 92.1L433.5 83.9M428.1 91.6L432.1 83.3M426.7 91L430.7 82.8M425.3 90.4L429.3 82.2M423.9 89.9L427.9 81.7M422.5 89.3L426.5 81.2M421.1 88.8L425 80.6M419.6 88.2L423.6 80.1M418.2 87.7L422.2 79.5M416.8 87.1L420.8 79M415.4 86.6L419.4 78.4M414 86L418 77.9M412.6 85.4L416.6 77.3M411.2 84.9L415.2 76.8M409.8 84.3L413.8 76.3M408.4 83.8L412.4 75.7M407 83.2L411 75.2M405.6 82.7L409.6 74.6M404.2 82.1L408.2 74.1M402.8 81.6L406.8 73.5M401.4 81L405.3 73M399.9 80.5L403.9 72.4M398.5 79.9L402.5 71.9M397.1 79.3L401.1 71.4M395.7 78.8L399.7 70.8M394.3 78.2L398.3 70.3M392.9 77.7L396.9 69.7M391.5 77.1L395.5 69.2M390.1 76.6L394.1 68.6M388.7 76L392.7 68.1M387.3 75.5L391.3 67.5M385.9 74.9L389.9 67M384.5 74.3L388.5 66.5M383.1 73.8L387.1 65.9" fill="none" stroke="url(#h172)" stroke-width="0.5"/>
<path d="M461 103.2L453.2 100.2L445.5 97.1L437.7 94.1L430 91L422.3 88L414.5 84.9L406.8 81.9L399 78.8L391.3 75.8L383.6 72.8" fill="none" stroke="url(#h172)" stroke-width="0.7"/>
<path d="M459.5 106.6L451.7 103.5L444 100.5L436.2 97.4L428.5 94.3L420.8 91.2L413 88.1L405.3 85.1L397.5 82L389.8 78.9L382.1 75.8L383.1 73.8L390.8 76.8L398.5 79.9L406.3 83L414 86L421.8 89.1L429.5 92.1L437.2 95.2L445 98.2L452.7 101.3L460.5 104.3Z" fill="url(#g173)" stroke="url(#g173)" stroke-width="0.3"/>
<path d="M458.5 108.9L450.7 105.8L443 102.7L435.2 99.6L427.5 96.5L419.8 93.3L412 90.2L404.3 87.1L396.5 84L388.8 80.9L381.1 77.8L382.1 75.8L389.8 78.9L397.5 82L405.3 85.1L413 88.1L420.8 91.2L428.5 94.3L436.2 97.4L444 100.5L451.7 103.5L459.5 106.6Z" fill="url(#g174)" stroke="url(#g174)" stroke-width="0.3"/>
<path d="M458.9 108L451.1 104.9L443.4 101.8L435.6 98.7L427.9 95.6L420.2 92.5L412.4 89.4L404.7 86.3L396.9 83.2L389.2 80.1L381.5 77" fill="none" stroke="url(#h174)" stroke-width="0.7"/>
<path d="M457.5 111.1L449.7 108L442 104.8L434.2 101.7L426.5 98.6L418.8 95.4L411 92.3L403.3 89.1L395.5 86L387.8 82.8L380.1 79.7L381.1 77.8L388.8 80.9L396.5 84L404.3 87.1L412 90.2L419.8 93.3L427.5 96.5L435.2 99.6L443 102.7L450.7 105.8L458.5 108.9Z" fill="url(#g175)" stroke="url(#g175)" stroke-width="0.3"/>
<path d="M456.5 113.5L448.7 110.3L441 107.1L433.2 103.9L425.5 100.7L417.8 97.5L410 94.3L402.3 91.1L394.5 87.9L386.8 84.7L379.1 81.5L380.1 79.7L387.8 82.8L395.5 86L403.3 89.1L411 92.3L418.8 95.4L426.5 98.6L434.2 101.7L442 104.8L449.7 108L457.5 111.1Z" fill="url(#g176)" stroke="url(#g176)" stroke-width="0.3"/>
<path d="M456.5 113.5L460.5 104.3M455.1 112.9L459.1 103.8M453.6 112.3L457.6 103.2M452.2 111.7L456.2 102.7M450.8 111.1L454.8 102.1M449.4 110.6L453.4 101.6M448 110L452 101M446.6 109.4L450.6 100.4M445.2 108.8L449.2 99.9M443.8 108.2L447.8 99.3M442.4 107.6L446.4 98.8M441 107.1L445 98.2M439.6 106.5L443.6 97.7M438.2 105.9L442.2 97.1M436.8 105.3L440.8 96.6M435.4 104.7L439.3 96M433.9 104.2L437.9 95.4M432.5 103.6L436.5 94.9M431.1 103L435.1 94.3M429.7 102.4L433.7 93.8M428.3 101.8L432.3 93.2M426.9 101.3L430.9 92.7M425.5 100.7L429.5 92.1M424.1 100.1L428.1 91.6M422.7 99.5L426.7 91M421.3 98.9L425.3 90.4M419.9 98.3L423.9 89.9M418.5 97.8L422.5 89.3M417.1 97.2L421.1 88.8M415.7 96.6L419.6 88.2M414.2 96L418.2 87.7M412.8 95.4L416.8 87.1M411.4 94.9L415.4 86.6M410 94.3L414 86M408.6 93.7L412.6 85.4M407.2 93.1L411.2 84.9M405.8 92.5L409.8 84.3M404.4 92L408.4 83.8M403 91.4L407 83.2M401.6 90.8L405.6 82.7M400.2 90.2L404.2 82.1M398.8 89.6L402.8 81.6M397.4 89L401.4 81M396 88.5L399.9 80.5M394.5 87.9L398.5 79.9M393.1 87.3L397.1 79.3M391.7 86.7L395.7 78.8M390.3 86.1L394.3 78.2M388.9 85.6L392.9 77.7M387.5 85L391.5 77.1M386.1 84.4L390.1 76.6M384.7 83.8L388.7 76M383.3 83.2L387.3 75.5M381.9 82.6L385.9 74.9M380.5 82.1L384.5 74.3M379.1 81.5L383.1 73.8" fill="none" stroke="url(#h176)" stroke-width="0.5"/>
<path d="M456.7 112.9L449 109.7L441.2 106.5L433.5 103.4L425.7 100.2L418 97L410.3 93.8L402.5 90.6L394.8 87.4L387 84.3L379.3 81.1" fill="none" stroke="url(#h176)" stroke-width="0.7"/>
<path d="M455.5 115.9L447.7 112.6L440 109.4L432.2 106.1L424.5 102.8L416.8 99.6L409 96.3L401.3 93L393.5 89.7L385.8 86.5L378.1 83.2L379.1 81.5L386.8 84.7L394.5 87.9L402.3 91.1L410 94.3L417.8 97.5L425.5 100.7L433.2 103.9L441 107.1L448.7 110.3L456.5 113.5Z" fill="url(#g177)" stroke="url(#g177)" stroke-width="0.3"/>
<path d="M454.5 118.5L446.7 115.1L439 111.8L431.2 108.4L423.5 105L415.8 101.7L408 98.3L400.3 95L392.5 91.6L384.8 88.2L377.1 84.9L378.1 83.2L385.8 86.5L393.5 89.7L401.3 93L409 96.3L416.8 99.6L424.5 102.8L432.2 106.1L440 109.4L447.7 112.6L455.5 115.9Z" fill="url(#g178)" stroke="url(#g178)" stroke-width="0.3"/>
<path d="M454.6 118.2L446.8 114.9L439.1 111.5L431.3 108.2L423.6 104.8L415.9 101.5L408.1 98.1L400.4 94.8L392.6 91.4L384.9 88.1L377.2 84.7" fill="none" stroke="url(#h178)" stroke-width="0.7"/>
<path d="M453.5 121.1L445.7 117.7L438 114.2L430.2 110.7L422.5 107.3L414.8 103.8L407 100.4L399.3 96.9L391.5 93.4L383.8 90L376.1 86.5L377.1 84.9L384.8 88.2L392.5 91.6L400.3 95L408 98.3L415.8 101.7L423.5 105L431.2 108.4L439 111.8L446.7 115.1L454.5 118.5Z" fill="url(#g179)" stroke="url(#g179)" stroke-width="0.3"/>
<path d="M452.5 123.8L444.7 120.3L437 116.7L429.3 113.2L421.5 109.6L413.8 106L406 102.5L398.3 98.9L390.6 95.3L382.8 91.8L375.1 88.2L376.1 86.5L383.8 90L391.5 93.4L399.3 96.9L407 100.4L414.8 103.8L422.5 107.3L430.2 110.7L438 114.2L445.7 117.7L453.5 121.1Z" fill="url(#g180)" stroke="url(#g180)" stroke-width="0.3"/>
<path d="M452.5 123.8L456.5 113.5M451.1 123.2L455.1 112.9M449.7 122.6L453.6 112.3M448.2 121.9L452.2 111.7M446.8 121.3L450.8 111.1M445.4 120.6L449.4 110.6M444 120L448 110M442.6 119.3L446.6 109.4M441.2 118.7L445.2 108.8M439.8 118L443.8 108.2M438.4 117.4L442.4 107.6M437 116.7L441 107.1M435.6 116.1L439.6 106.5M434.2 115.4L438.2 105.9M432.8 114.8L436.8 105.3M431.4 114.1L435.4 104.7M430 113.5L433.9 104.2M428.5 112.8L432.5 103.6M427.1 112.2L431.1 103M425.7 111.5L429.7 102.4M424.3 110.9L428.3 101.8M422.9 110.2L426.9 101.3M421.5 109.6L425.5 100.7M420.1 108.9L424.1 100.1M418.7 108.3L422.7 99.5M417.3 107.6L421.3 98.9M415.9 107L419.9 98.3M414.5 106.3L418.5 97.8M413.1 105.7L417.1 97.2M411.7 105L415.7 96.6M410.3 104.4L414.2 96M408.8 103.8L412.8 95.4M407.4 103.1L411.4 94.9M406 102.5L410 94.3M404.6 101.8L408.6 93.7M403.2 101.2L407.2 93.1M401.8 100.5L405.8 92.5M400.4 99.9L404.4 92M399 99.2L403 91.4M397.6 98.6L401.6 90.8M396.2 97.9L400.2 90.2M394.8 97.3L398.8 89.6M393.4 96.6L397.4 89M392 96L396 88.5M390.6 95.3L394.5 87.9M389.1 94.7L393.1 87.3M387.7 94L391.7 86.7M386.3 93.4L390.3 86.1M384.9 92.7L388.9 85.6M383.5 92.1L387.5 85M382.1 91.4L386.1 84.4M380.7 90.8L384.7 83.8M379.3 90.1L383.3 83.2M377.9 89.5L381.9 82.6M376.5 88.8L380.5 82.1M375.1 88.2L379.1 81.5" fill="none" stroke="url(#h180)" stroke-width="0.5"/>
<path d="M451.5 126.6L443.7 123L436 119.3L428.3 115.6L420.5 111.9L412.8 108.3L405 104.6L397.3 100.9L389.6 97.3L381.8 93.6L374.1 89.9L375.1 88.2L382.8 91.8L390.6 95.3L398.3 98.9L406 102.5L413.8 106L421.5 109.6L429.3 113.2L437 116.7L444.7 120.3L452.5 123.8Z" fill="url(#g181)" stroke="url(#g181)" stroke-width="0.3"/>
<path d="M452.5 123.9L444.7 120.3L437 116.7L429.2 113.2L421.5 109.6L413.8 106L406 102.5L398.3 98.9L390.5 95.3L382.8 91.8L375.1 88.2" fill="none" stroke="url(#h181)" stroke-width="0.7"/>
<path d="M450.5 129.5L442.7 125.7L435 121.9L427.3 118.1L419.5 114.4L411.8 110.6L404 106.8L396.3 103L388.6 99.3L380.8 95.5L373.1 91.7L374.1 89.9L381.8 93.6L389.6 97.3L397.3 100.9L405 104.6L412.8 108.3L420.5 111.9L428.3 115.6L436 119.3L443.7 123L451.5 126.6Z" fill="url(#g182)" stroke="url(#g182)" stroke-width="0.3"/>
<path d="M449.5 132.4L441.7 128.5L434 124.6L426.3 120.7L418.5 116.9L410.8 113L403 109.1L395.3 105.2L387.6 101.4L379.8 97.5L372.1 93.6L373.1 91.7L380.8 95.5L388.6 99.3L396.3 103L404 106.8L411.8 110.6L419.5 114.4L427.3 118.1L435 121.9L442.7 125.7L450.5 129.5Z" fill="url(#g183)" stroke="url(#g183)" stroke-width="0.3"/>
<path d="M450.4 129.6L442.7 125.8L435 122L427.2 118.2L419.5 114.5L411.7 110.7L404 106.9L396.3 103.1L388.5 99.3L380.8 95.6L373 91.8" fill="none" stroke="url(#h183)" stroke-width="0.7"/>
<path d="M448.5 135.6L440.7 131.6L433 127.6L425.3 123.6L417.5 119.6L409.8 115.6L402 111.6L394.3 107.6L386.6 103.6L378.8 99.6L371.1 95.6L372.1 93.6L379.8 97.5L387.6 101.4L395.3 105.2L403 109.1L410.8 113L418.5 116.9L426.3 120.7L434 124.6L441.7 128.5L449.5 132.4Z" fill="url(#g184)" stroke="url(#g184)" stroke-width="0.3"/>
<path d="M448.5 135.6L452.5 123.8M447.1 134.9L451.1 123.2M445.7 134.1L449.7 122.6M444.3 133.4L448.2 121.9M442.8 132.7L446.8 121.3M441.4 132L445.4 120.6M440 131.2L444 120M438.6 130.5L442.6 119.3M437.2 129.8L441.2 118.7M435.8 129L439.8 118M434.4 128.3L438.4 117.4M433 127.6L437 116.7M431.6 126.9L435.6 116.1M430.2 126.1L434.2 115.4M428.8 125.4L432.8 114.8M427.4 124.7L431.4 114.1M426 124L430 113.5M424.6 123.2L428.5 112.8M423.1 122.5L427.1 112.2M421.7 121.8L425.7 111.5M420.3 121.1L424.3 110.9M418.9 120.3L422.9 110.2M417.5 119.6L421.5 109.6M416.1 118.9L420.1 108.9M414.7 118.2L418.7 108.3M413.3 117.4L417.3 107.6M411.9 116.7L415.9 107M410.5 116L414.5 106.3M409.1 115.2L413.1 105.7M407.7 114.5L411.7 105M406.3 113.8L410.3 104.4M404.9 113.1L408.8 103.8M403.4 112.3L407.4 103.1M402 111.6L406 102.5M400.6 110.9L404.6 101.8M399.2 110.2L403.2 101.2M397.8 109.4L401.8 100.5M396.4 108.7L400.4 99.9M395 108L399 99.2M393.6 107.3L397.6 98.6M392.2 106.5L396.2 97.9M390.8 105.8L394.8 97.3M389.4 105.1L393.4 96.6M388 104.4L392 96M386.6 103.6L390.6 95.3M385.1 102.9L389.1 94.7M383.7 102.2L387.7 94M382.3 101.4L386.3 93.4M380.9 100.7L384.9 92.7M379.5 100L383.5 92.1M378.1 99.3L382.1 91.4M376.7 98.5L380.7 90.8M375.3 97.8L379.3 90.1M373.9 97.1L377.9 89.5M372.5 96.4L376.5 88.8M371.1 95.6L375.1 88.2" fill="none" stroke="url(#h184)" stroke-width="0.5"/>
<path d="M448.5 135.4L440.8 131.4L433 127.5L425.3 123.5L417.6 119.5L409.8 115.5L402.1 111.5L394.3 107.5L386.6 103.5L378.9 99.5L371.1 95.5" fill="none" stroke="url(#h184)" stroke-width="0.7"/>
<path d="M447.5 139.3L439.7 135.2L432 131L424.3 126.9L416.5 122.7L408.8 118.6L401 114.4L393.3 110.3L385.6 106.1L377.8 102L370.1 97.8L371.1 95.6L378.8 99.6L386.6 103.6L394.3 107.6L402 111.6L409.8 115.6L417.5 119.6L425.3 123.6L433 127.6L440.7 131.6L448.5 135.6Z" fill="url(#g185)" stroke="url(#g185)" stroke-width="0.3"/>
<path d="M446.5 143.3L438.7 139L431 134.7L423.3 130.4L415.5 126.1L407.8 121.8L400 117.6L392.3 113.3L384.6 109L376.8 104.7L369.1 100.4L370.1 97.8L377.8 102L385.6 106.1L393.3 110.3L401 114.4L408.8 118.6L416.5 122.7L424.3 126.9L432 131L439.7 135.2L447.5 139.3Z" fill="url(#g186)" stroke="url(#g186)" stroke-width="0.3"/>
<path d="M446.9 141.8L439.1 137.6L431.4 133.3L423.6 129.1L415.9 124.8L408.2 120.6L400.4 116.3L392.7 112.1L384.9 107.9L377.2 103.6L369.5 99.4" fill="none" stroke="url(#h186)" stroke-width="0.7"/>
<path d="M445.5 147.2L437.7 142.8L430 138.5L422.3 134.1L414.5 129.7L406.8 125.3L399 121L391.3 116.6L383.6 112.2L375.8 107.8L368.1 103.5L369.1 100.4L376.8 104.7L384.6 109L392.3 113.3L400 117.6L407.8 121.8L415.5 126.1L423.3 130.4L431 134.7L438.7 139L446.5 143.3Z" fill="url(#g187)" stroke="url(#g187)" stroke-width="0.3"/>
<path d="M444.5 150.8L436.7 146.4L429 142L421.3 137.6L413.5 133.2L405.8 128.8L398 124.4L390.3 120L382.6 115.6L374.8 111.2L367.1 106.9L368.1 103.5L375.8 107.8L383.6 112.2L391.3 116.6L399 121L406.8 125.3L414.5 129.7L422.3 134.1L430 138.5L437.7 142.8L445.5 147.2Z" fill="url(#g188)" stroke="url(#g188)" stroke-width="0.3"/>
<path d="M444.5 150.8L448.5 135.6M443.1 150L447.1 134.9M441.7 149.2L445.7 134.1M440.3 148.4L444.3 133.4M438.9 147.6L442.8 132.7M437.4 146.8L441.4 132M436 146L440 131.2M434.6 145.2L438.6 130.5M433.2 144.4L437.2 129.8M431.8 143.6L435.8 129M430.4 142.8L434.4 128.3M429 142L433 127.6M427.6 141.2L431.6 126.9M426.2 140.4L430.2 126.1M424.8 139.6L428.8 125.4M423.4 138.8L427.4 124.7M422 138L426 124M420.6 137.2L424.6 123.2M419.2 136.4L423.1 122.5M417.7 135.6L421.7 121.8M416.3 134.8L420.3 121.1M414.9 134L418.9 120.3M413.5 133.2L417.5 119.6M412.1 132.4L416.1 118.9M410.7 131.6L414.7 118.2M409.3 130.8L413.3 117.4M407.9 130L411.9 116.7M406.5 129.2L410.5 116M405.1 128.4L409.1 115.2M403.7 127.6L407.7 114.5M402.3 126.8L406.3 113.8M400.9 126L404.9 113.1M399.4 125.2L403.4 112.3M398 124.4L402 111.6M396.6 123.6L400.6 110.9M395.2 122.8L399.2 110.2M393.8 122L397.8 109.4M392.4 121.2L396.4 108.7M391 120.4L395 108M389.6 119.6L393.6 107.3M388.2 118.8L392.2 106.5M386.8 118L390.8 105.8M385.4 117.2L389.4 105.1M384 116.4L388 104.4M382.6 115.6L386.6 103.6M381.2 114.8L385.1 102.9M379.7 114L383.7 102.2M378.3 113.2L382.3 101.4M376.9 112.4L380.9 100.7M375.5 111.6L379.5 100M374.1 110.8L378.1 99.3M372.7 110L376.7 98.5M371.3 109.3L375.3 97.8M369.9 108.5L373.9 97.1M368.5 107.7L372.5 96.4M367.1 106.9L371.1 95.6" fill="none" stroke="url(#h188)" stroke-width="0.5"/>
<path d="M445.3 147.8L437.6 143.4L429.9 139L422.1 134.6L414.4 130.2L406.6 125.9L398.9 121.5L391.2 117.1L383.4 112.7L375.7 108.3L367.9 104" fill="none" stroke="url(#h188)" stroke-width="0.7"/>
<path d="M443.5 153.7L435.7 149.4L428 145L420.3 140.7L412.5 136.4L404.8 132L397 127.7L389.3 123.4L381.6 119L373.8 114.7L366.1 110.4L367.1 106.9L374.8 111.2L382.6 115.6L390.3 120L398 124.4L405.8 128.8L413.5 133.2L421.3 137.6L429 142L436.7 146.4L444.5 150.8Z" fill="url(#g189)" stroke="url(#g189)" stroke-width="0.3"/>
<path d="M443.8 152.9L436 148.6L428.3 144.2L420.6 139.8L412.8 135.5L405.1 131.1L397.3 126.8L389.6 122.4L381.9 118L374.1 113.7L366.4 109.3" fill="none" stroke="url(#h189)" stroke-width="0.7"/>
<path d="M442.5 155.8L434.7 151.6L427 147.4L419.3 143.2L411.5 139L403.8 134.8L396 130.6L388.3 126.4L380.6 122.2L372.8 118L365.1 113.8L366.1 110.4L373.8 114.7L381.6 119L389.3 123.4L397 127.7L404.8 132L412.5 136.4L420.3 140.7L428 145L435.7 149.4L443.5 153.7Z" fill="url(#g190)" stroke="url(#g190)" stroke-width="0.3"/>
<path d="M441.5 156.8L433.7 152.8L426 148.8L418.3 144.9L410.5 140.9L402.8 136.9L395 132.9L387.3 129L379.6 125L371.8 121L364.1 117.1L365.1 113.8L372.8 118L380.6 122.2L388.3 126.4L396 130.6L403.8 134.8L411.5 139L419.3 143.2L427 147.4L434.7 151.6L442.5 155.8Z" fill="url(#g191)" stroke="url(#g191)" stroke-width="0.3"/>
<path d="M441.9 156.4L434.2 152.3L426.5 148.2L418.7 144.2L411 140.1L403.2 136L395.5 131.9L387.8 127.8L380 123.8L372.3 119.7L364.5 115.6" fill="none" stroke="url(#h191)" stroke-width="0.7"/>
<path d="M440.5 157.5L432.7 153.7L425 150L417.3 146.2L409.5 142.4L401.8 138.7L394 134.9L386.3 131.1L378.6 127.4L370.8 123.6L363.1 119.9L364.1 117.1L371.8 121L379.6 125L387.3 129L395 132.9L402.8 136.9L410.5 140.9L418.3 144.9L426 148.8L433.7 152.8L441.5 156.8Z" fill="url(#g192)" stroke="url(#g192)" stroke-width="0.3"/>
<path d="M440.5 157.5L444.5 150.8M439.1 156.8L443.1 150M437.7 156.1L441.7 149.2M436.3 155.4L440.3 148.4M434.9 154.8L438.9 147.6M433.5 154.1L437.4 146.8M432 153.4L436 146M430.6 152.7L434.6 145.2M429.2 152L433.2 144.4M427.8 151.3L431.8 143.6M426.4 150.6L430.4 142.8M425 150L429 142M423.6 149.3L427.6 141.2M422.2 148.6L426.2 140.4M420.8 147.9L424.8 139.6M419.4 147.2L423.4 138.8M418 146.5L422 138M416.6 145.9L420.6 137.2M415.2 145.2L419.2 136.4M413.7 144.5L417.7 135.6M412.3 143.8L416.3 134.8M410.9 143.1L414.9 134M409.5 142.4L413.5 133.2M408.1 141.8L412.1 132.4M406.7 141.1L410.7 131.6M405.3 140.4L409.3 130.8M403.9 139.7L407.9 130M402.5 139L406.5 129.2M401.1 138.3L405.1 128.4M399.7 137.6L403.7 127.6M398.3 137L402.3 126.8M396.9 136.3L400.9 126M395.5 135.6L399.4 125.2M394 134.9L398 124.4M392.6 134.2L396.6 123.6M391.2 133.5L395.2 122.8M389.8 132.9L393.8 122M388.4 132.2L392.4 121.2M387 131.5L391 120.4M385.6 130.8L389.6 119.6M384.2 130.1L388.2 118.8M382.8 129.4L386.8 118M381.4 128.8L385.4 117.2M380 128.1L384 116.4M378.6 127.4L382.6 115.6M377.2 126.7L381.2 114.8M375.8 126L379.7 114M374.3 125.3L378.3 113.2M372.9 124.6L376.9 112.4M371.5 124L375.5 111.6M370.1 123.3L374.1 110.8M368.7 122.6L372.7 110M367.3 121.9L371.3 109.3M365.9 121.2L369.9 108.5M364.5 120.5L368.5 107.7M363.1 119.9L367.1 106.9" fill="none" stroke="url(#h192)" stroke-width="0.5"/>
<path d="M439.5 157.7L431.7 154.2L424 150.7L416.3 147.2L408.5 143.7L400.8 140.2L393 136.7L385.3 133.2L377.6 129.7L369.8 126.1L362.1 122.6L363.1 119.9L370.8 123.6L378.6 127.4L386.3 131.1L394 134.9L401.8 138.7L409.5 142.4L417.3 146.2L425 150L432.7 153.7L440.5 157.5Z" fill="url(#g193)" stroke="url(#g193)" stroke-width="0.3"/>
<path d="M439.5 157.7L431.8 154.2L424.1 150.7L416.3 147.2L408.6 143.6L400.8 140.1L393.1 136.6L385.4 133.1L377.6 129.5L369.9 126L362.1 122.5" fill="none" stroke="url(#h193)" stroke-width="0.7"/>
<path d="M438.5 156.9L430.8 153.7L423 150.5L415.3 147.3L407.5 144.1L399.8 140.9L392.1 137.7L384.3 134.5L376.6 131.3L368.8 128.1L361.1 124.9L362.1 122.6L369.8 126.1L377.6 129.7L385.3 133.2L393 136.7L400.8 140.2L408.5 143.7L416.3 147.2L424 150.7L431.7 154.2L439.5 157.7Z" fill="url(#g194)" stroke="url(#g194)" stroke-width="0.3"/>
<path d="M437.5 155.5L429.8 152.4L422 149.4L414.3 146.3L406.5 143.3L398.8 140.3L391.1 137.2L383.3 134.2L375.6 131.1L367.8 128.1L360.1 125L361.1 124.9L368.8 128.1L376.6 131.3L384.3 134.5L392.1 137.7L399.8 140.9L407.5 144.1L415.3 147.3L423 150.5L430.8 153.7L438.5 156.9Z" fill="url(#g195)" stroke="url(#g195)" stroke-width="0.3"/>
<path d="M436.5 154.3L428.8 151.1L421 147.9L413.3 144.7L405.5 141.5L397.8 138.3L390.1 135.1L382.3 131.8L374.6 128.6L366.8 125.4L359.1 122.2L360.1 125L367.8 128.1L375.6 131.1L383.3 134.2L391.1 137.2L398.8 140.3L406.5 143.3L414.3 146.3L422 149.4L429.8 152.4L437.5 155.5Z" fill="url(#g196)" stroke="url(#g196)" stroke-width="0.3"/>
<path d="M436.5 154.3L440.5 157.5M435.1 153.7L439.1 156.8M433.7 153.1L437.7 156.1M432.3 152.5L436.3 155.4M430.9 151.9L434.9 154.8M429.5 151.4L433.5 154.1M428.1 150.8L432 153.4M426.6 150.2L430.6 152.7M425.2 149.6L429.2 152M423.8 149L427.8 151.3M422.4 148.4L426.4 150.6M421 147.9L425 150M419.6 147.3L423.6 149.3M418.2 146.7L422.2 148.6M416.8 146.1L420.8 147.9M415.4 145.5L419.4 147.2M414 145L418 146.5M412.6 144.4L416.6 145.9M411.2 143.8L415.2 145.2M409.8 143.2L413.7 144.5M408.3 142.6L412.3 143.8M406.9 142L410.9 143.1M405.5 141.5L409.5 142.4M404.1 140.9L408.1 141.8M402.7 140.3L406.7 141.1M401.3 139.7L405.3 140.4M399.9 139.1L403.9 139.7M398.5 138.5L402.5 139M397.1 138L401.1 138.3M395.7 137.4L399.7 137.6M394.3 136.8L398.3 137M392.9 136.2L396.9 136.3M391.5 135.6L395.5 135.6M390.1 135.1L394 134.9M388.6 134.5L392.6 134.2M387.2 133.9L391.2 133.5M385.8 133.3L389.8 132.9M384.4 132.7L388.4 132.2M383 132.1L387 131.5M381.6 131.6L385.6 130.8M380.2 131L384.2 130.1M378.8 130.4L382.8 129.4M377.4 129.8L381.4 128.8M376 129.2L380 128.1M374.6 128.6L378.6 127.4M373.2 128.1L377.2 126.7M371.8 127.5L375.8 126M370.4 126.9L374.3 125.3M368.9 126.3L372.9 124.6M367.5 125.7L371.5 124M366.1 125.2L370.1 123.3M364.7 124.6L368.7 122.6M363.3 124L367.3 121.9M361.9 123.4L365.9 121.2M360.5 122.8L364.5 120.5M359.1 122.2L363.1 119.9" fill="none" stroke="url(#h196)" stroke-width="0.5"/>
<path d="M436.7 154.5L429 151.3L421.2 148.1L413.5 145L405.7 141.8L398 138.7L390.3 135.5L382.5 132.4L374.8 129.2L367 126L359.3 122.9" fill="none" stroke="url(#h196)" stroke-width="0.7"/>
<path d="M435.5 153.9L427.8 150.5L420 147.1L412.3 143.7L404.5 140.3L396.8 136.9L389.1 133.5L381.3 130.1L373.6 126.6L365.8 123.2L358.1 119.8L359.1 122.2L366.8 125.4L374.6 128.6L382.3 131.8L390.1 135.1L397.8 138.3L405.5 141.5L413.3 144.7L421 147.9L428.8 151.1L436.5 154.3Z" fill="url(#g197)" stroke="url(#g197)" stroke-width="0.3"/>
<path d="M434.5 155L426.8 151.6L419 148.1L411.3 144.6L403.5 141.2L395.8 137.7L388.1 134.3L380.3 130.8L372.6 127.3L364.8 123.9L357.1 120.4L358.1 119.8L365.8 123.2L373.6 126.6L381.3 130.1L389.1 133.5L396.8 136.9L404.5 140.3L412.3 143.7L420 147.1L427.8 150.5L435.5 153.9Z" fill="url(#g198)" stroke="url(#g198)" stroke-width="0.3"/>
<path d="M433.5 157.3L425.8 153.9L418 150.4L410.3 147L402.5 143.6L394.8 140.1L387.1 136.7L379.3 133.3L371.6 129.8L363.8 126.4L356.1 123L357.1 120.4L364.8 123.9L372.6 127.3L380.3 130.8L388.1 134.3L395.8 137.7L403.5 141.2L411.3 144.6L419 148.1L426.8 151.6L434.5 155Z" fill="url(#g199)" stroke="url(#g199)" stroke-width="0.3"/>
<path d="M434.1 155.9L426.3 152.4L418.6 149L410.8 145.5L403.1 142.1L395.4 138.6L387.6 135.2L379.9 131.7L372.1 128.2L364.4 124.8L356.7 121.3" fill="none" stroke="url(#h199)" stroke-width="0.7"/>
<path d="M432.5 160.3L424.8 157L417 153.7L409.3 150.4L401.5 147.1L393.8 143.8L386.1 140.5L378.3 137.2L370.6 133.9L362.8 130.6L355.1 127.3L356.1 123L363.8 126.4L371.6 129.8L379.3 133.3L387.1 136.7L394.8 140.1L402.5 143.6L410.3 147L418 150.4L425.8 153.9L433.5 157.3Z" fill="url(#g200)" stroke="url(#g200)" stroke-width="0.3"/>
<path d="M432.5 160.3L436.5 154.3M431.1 159.7L435.1 153.7M429.7 159.1L433.7 153.1M428.3 158.5L432.3 152.5M426.9 157.9L430.9 151.9M425.5 157.3L429.5 151.4M424.1 156.7L428.1 150.8M422.6 156.1L426.6 150.2M421.2 155.5L425.2 149.6M419.8 154.9L423.8 149M418.4 154.3L422.4 148.4M417 153.7L421 147.9M415.6 153.1L419.6 147.3M414.2 152.5L418.2 146.7M412.8 151.9L416.8 146.1M411.4 151.3L415.4 145.5M410 150.7L414 145M408.6 150.1L412.6 144.4M407.2 149.5L411.2 143.8M405.8 148.9L409.8 143.2M404.4 148.3L408.3 142.6M402.9 147.7L406.9 142M401.5 147.1L405.5 141.5M400.1 146.5L404.1 140.9M398.7 145.9L402.7 140.3M397.3 145.3L401.3 139.7M395.9 144.7L399.9 139.1M394.5 144.1L398.5 138.5M393.1 143.5L397.1 138M391.7 142.9L395.7 137.4M390.3 142.3L394.3 136.8M388.9 141.7L392.9 136.2M387.5 141.1L391.5 135.6M386.1 140.5L390.1 135.1M384.7 139.9L388.6 134.5M383.2 139.3L387.2 133.9M381.8 138.7L385.8 133.3M380.4 138.1L384.4 132.7M379 137.5L383 132.1M377.6 136.9L381.6 131.6M376.2 136.3L380.2 131M374.8 135.7L378.8 130.4M373.4 135.1L377.4 129.8M372 134.5L376 129.2M370.6 133.9L374.6 128.6M369.2 133.3L373.2 128.1M367.8 132.7L371.8 127.5M366.4 132.1L370.4 126.9M365 131.5L368.9 126.3M363.5 130.9L367.5 125.7M362.1 130.3L366.1 125.2M360.7 129.7L364.7 124.6M359.3 129.1L363.3 124M357.9 128.5L361.9 123.4M356.5 127.9L360.5 122.8M355.1 127.3L359.1 122.2" fill="none" stroke="url(#h200)" stroke-width="0.5"/>
<path d="M432.5 160.3L424.8 157L417 153.7L409.3 150.4L401.5 147.1L393.8 143.8L386.1 140.5L378.3 137.2L370.6 133.9L362.8 130.6L355.1 127.3" fill="none" stroke="url(#h200)" stroke-width="0.7"/>
<line x1="198.6" y1="455.2" x2="122.6" y2="410.2" stroke="#e6e6e6" stroke-width="0.6"/>
<line x1="111.5" y1="449.9" x2="209.7" y2="415.6" stroke="#e6e6e6" stroke-width="0.6"/>
<line x1="122.6" y1="410.2" x2="122.6" y2="311.4" stroke="#e6e6e6" stroke-width="0.6"/>
<line x1="73.5" y1="394.4" x2="171.8" y2="360.1" stroke="#e6e6e6" stroke-width="0.6"/>
<line x1="247.7" y1="405.2" x2="171.8" y2="360.1" stroke="#e6e6e6" stroke-width="0.6"/>
<line x1="73.5" y1="361.4" x2="171.8" y2="327.1" stroke="#e6e6e6" stroke-width="0.6"/>
<line x1="247.7" y1="372.2" x2="171.8" y2="327.1" stroke="#e6e6e6" stroke-width="0.6"/>
<line x1="209.7" y1="415.6" x2="209.7" y2="316.8" stroke="#e6e6e6" stroke-width="0.6"/>
<line x1="73.5" y1="427.3" x2="171.8" y2="393" stroke="#555" stroke-width="0.8"/>
<line x1="171.8" y1="393" x2="247.7" y2="438.1" stroke="#555" stroke-width="0.8"/>
<line x1="73.5" y1="427.3" x2="73.5" y2="328.5" stroke="#8a8a8a" stroke-width="0.9"/>
<line x1="171.8" y1="393" x2="171.8" y2="294.2" stroke="#8a8a8a" stroke-width="0.9"/>
<line x1="247.7" y1="438.1" x2="247.7" y2="339.3" stroke="#8a8a8a" stroke-width="0.9"/>
<line x1="73.5" y1="328.5" x2="171.8" y2="294.2" stroke="#555" stroke-width="0.8"/>
<line x1="171.8" y1="294.2" x2="247.7" y2="339.3" stroke="#555" stroke-width="0.8"/>
<line x1="149.4" y1="472.4" x2="247.7" y2="438.1" stroke="#555" stroke-width="0.8"/>
<line x1="149.4" y1="472.4" x2="73.5" y2="427.3" stroke="#555" stroke-width="0.8"/>
<line x1="149.4" y1="472.4" x2="152.3" y2="474.1" stroke="#555" stroke-width="0.7"/>
<line x1="198.6" y1="455.2" x2="201.4" y2="456.9" stroke="#555" stroke-width="0.7"/>
<line x1="247.7" y1="438.1" x2="250.5" y2="439.8" stroke="#555" stroke-width="0.7"/>
<line x1="149.4" y1="472.4" x2="147" y2="473.3" stroke="#555" stroke-width="0.7"/>
<line x1="111.5" y1="449.9" x2="109" y2="450.7" stroke="#555" stroke-width="0.7"/>
<line x1="73.5" y1="427.3" x2="71" y2="428.2" stroke="#555" stroke-width="0.7"/>
<line x1="73.5" y1="427.3" x2="72" y2="427.8" stroke="#555" stroke-width="0.7"/>
<line x1="73.5" y1="394.4" x2="72" y2="394.9" stroke="#555" stroke-width="0.7"/>
<line x1="73.5" y1="361.4" x2="72" y2="361.9" stroke="#555" stroke-width="0.7"/>
<line x1="73.5" y1="328.5" x2="72" y2="329" stroke="#555" stroke-width="0.7"/>
<defs><linearGradient id="g201" gradientUnits="userSpaceOnUse" x1="247.2" y1="404.2" x2="171.3" y2="372.4"><stop offset="0" stop-color="#c7f6fb"/><stop offset="0.5" stop-color="#c7f2fc"/><stop offset="1" stop-color="#cdeafc"/></linearGradient><linearGradient id="h201" gradientUnits="userSpaceOnUse" x1="247.2" y1="404.2" x2="171.3" y2="372.4"><stop offset="0" stop-color="#00d4ee"/><stop offset="0.5" stop-color="#00c2f2"/><stop offset="1" stop-color="#1ba0ef"/></linearGradient><linearGradient id="g202" gradientUnits="userSpaceOnUse" x1="246.2" y1="402.4" x2="170.3" y2="370.8"><stop offset="0" stop-color="#c8f7fb"/><stop offset="0.5" stop-color="#c8f3fc"/><stop offset="1" stop-color="#ccedfc"/></linearGradient><linearGradient id="g203" gradientUnits="userSpaceOnUse" x1="245.2" y1="400.5" x2="169.3" y2="369.2"><stop offset="0" stop-color="#c9f8fb"/><stop offset="0.5" stop-color="#c9f4fc"/><stop offset="1" stop-color="#cbeffc"/></linearGradient><linearGradient id="h203" gradientUnits="userSpaceOnUse" x1="245.2" y1="400.5" x2="169.3" y2="369.2"><stop offset="0" stop-color="#00e0eb"/><stop offset="0.5" stop-color="#00cdef"/><stop offset="1" stop-color="#09b5f1"/></linearGradient><linearGradient id="g204" gradientUnits="userSpaceOnUse" x1="244.3" y1="398.7" x2="168.3" y2="367.5"><stop offset="0" stop-color="#cdf9f9"/><stop offset="0.5" stop-color="#caf6fb"/><stop offset="1" stop-color="#caf2fc"/></linearGradient><linearGradient id="h204" gradientUnits="userSpaceOnUse" x1="245.7" y1="401.5" x2="169.8" y2="369.9"><stop offset="0" stop-color="#00ddec"/><stop offset="0.5" stop-color="#00caf0"/><stop offset="1" stop-color="#0eb0f1"/></linearGradient><linearGradient id="g205" gradientUnits="userSpaceOnUse" x1="243.3" y1="396.8" x2="167.3" y2="365.8"><stop offset="0" stop-color="#d2faf7"/><stop offset="0.5" stop-color="#cbf7fb"/><stop offset="1" stop-color="#cbf3fc"/></linearGradient><linearGradient id="h205" gradientUnits="userSpaceOnUse" x1="243.3" y1="396.8" x2="167.3" y2="365.8"><stop offset="0" stop-color="#20e6d6"/><stop offset="0.5" stop-color="#00d9ed"/><stop offset="1" stop-color="#00c6f1"/></linearGradient><linearGradient id="g206" gradientUnits="userSpaceOnUse" x1="242.3" y1="394.9" x2="166.3" y2="364"><stop offset="0" stop-color="#d6fbf5"/><stop offset="0.5" stop-color="#ccf9fb"/><stop offset="1" stop-color="#ccf5fc"/></linearGradient><linearGradient id="g207" gradientUnits="userSpaceOnUse" x1="241.3" y1="393" x2="165.4" y2="362.2"><stop offset="0" stop-color="#dafbf2"/><stop offset="0.5" stop-color="#cff9fa"/><stop offset="1" stop-color="#cdf6fc"/></linearGradient><linearGradient id="g208" gradientUnits="userSpaceOnUse" x1="240.3" y1="391.1" x2="164.4" y2="360.3"><stop offset="0" stop-color="#defcf0"/><stop offset="0.5" stop-color="#d3faf8"/><stop offset="1" stop-color="#cef7fc"/></linearGradient><linearGradient id="h208" gradientUnits="userSpaceOnUse" x1="241.8" y1="394" x2="165.9" y2="363"><stop offset="0" stop-color="#3beac5"/><stop offset="0.5" stop-color="#03e1e9"/><stop offset="1" stop-color="#00ceef"/></linearGradient><linearGradient id="g209" gradientUnits="userSpaceOnUse" x1="239.3" y1="389.2" x2="163.4" y2="358.5"><stop offset="0" stop-color="#e3fcee"/><stop offset="0.5" stop-color="#d8fbf5"/><stop offset="1" stop-color="#cff9fb"/></linearGradient><linearGradient id="g210" gradientUnits="userSpaceOnUse" x1="238.4" y1="387.3" x2="162.4" y2="356.6"><stop offset="0" stop-color="#e9fce9"/><stop offset="0.5" stop-color="#dcfbf4"/><stop offset="1" stop-color="#d2fafa"/></linearGradient><linearGradient id="h210" gradientUnits="userSpaceOnUse" x1="238.4" y1="387.3" x2="162.4" y2="356.6"><stop offset="0" stop-color="#85f086"/><stop offset="0.5" stop-color="#40ebc1"/><stop offset="1" stop-color="#08e2e6"/></linearGradient><linearGradient id="g211" gradientUnits="userSpaceOnUse" x1="237.4" y1="385.2" x2="161.4" y2="354.6"><stop offset="0" stop-color="#effce5"/><stop offset="0.5" stop-color="#e2fcf3"/><stop offset="1" stop-color="#d8fbf9"/></linearGradient><linearGradient id="g212" gradientUnits="userSpaceOnUse" x1="236.4" y1="383.1" x2="160.5" y2="352.5"><stop offset="0" stop-color="#f5fde2"/><stop offset="0.5" stop-color="#e7fdf1"/><stop offset="1" stop-color="#defbf7"/></linearGradient><linearGradient id="h212" gradientUnits="userSpaceOnUse" x1="237.9" y1="386.1" x2="161.9" y2="355.4"><stop offset="0" stop-color="#95f075"/><stop offset="0.5" stop-color="#4aecbb"/><stop offset="1" stop-color="#11e4e0"/></linearGradient><linearGradient id="g213" gradientUnits="userSpaceOnUse" x1="235.4" y1="380.9" x2="159.5" y2="350.2"><stop offset="0" stop-color="#fafdde"/><stop offset="0.5" stop-color="#edfded"/><stop offset="1" stop-color="#e3fcf6"/></linearGradient><linearGradient id="g214" gradientUnits="userSpaceOnUse" x1="234.4" y1="378.7" x2="158.5" y2="347.9"><stop offset="0" stop-color="#fcfcdd"/><stop offset="0.5" stop-color="#f2fde8"/><stop offset="1" stop-color="#e6fcf4"/></linearGradient><linearGradient id="h214" gradientUnits="userSpaceOnUse" x1="234.4" y1="378.7" x2="158.5" y2="347.9"><stop offset="0" stop-color="#eae818"/><stop offset="0.5" stop-color="#a7f061"/><stop offset="1" stop-color="#56eeb3"/></linearGradient><linearGradient id="g215" gradientUnits="userSpaceOnUse" x1="233.5" y1="376.5" x2="157.5" y2="345.6"><stop offset="0" stop-color="#fefbdb"/><stop offset="0.5" stop-color="#f7fde2"/><stop offset="1" stop-color="#eafdf0"/></linearGradient><linearGradient id="g216" gradientUnits="userSpaceOnUse" x1="232.5" y1="374.4" x2="156.5" y2="343.3"><stop offset="0" stop-color="#fff9d8"/><stop offset="0.5" stop-color="#fafcdd"/><stop offset="1" stop-color="#eefdea"/></linearGradient><linearGradient id="h216" gradientUnits="userSpaceOnUse" x1="233.9" y1="377.7" x2="158" y2="346.8"><stop offset="0" stop-color="#efe512"/><stop offset="0.5" stop-color="#b7f050"/><stop offset="1" stop-color="#61f0ac"/></linearGradient><linearGradient id="g217" gradientUnits="userSpaceOnUse" x1="231.5" y1="372.3" x2="155.5" y2="341"><stop offset="0" stop-color="#fff6d5"/><stop offset="0.5" stop-color="#fcfbd9"/><stop offset="1" stop-color="#f2fde3"/></linearGradient><linearGradient id="g218" gradientUnits="userSpaceOnUse" x1="230.5" y1="370.4" x2="154.6" y2="338.8"><stop offset="0" stop-color="#fff3d1"/><stop offset="0.5" stop-color="#fef9d3"/><stop offset="1" stop-color="#f7fcda"/></linearGradient><linearGradient id="h218" gradientUnits="userSpaceOnUse" x1="230.5" y1="370.4" x2="154.6" y2="338.8"><stop offset="0" stop-color="#ffba00"/><stop offset="0.5" stop-color="#f7e009"/><stop offset="1" stop-color="#d0f035"/></linearGradient><linearGradient id="g219" gradientUnits="userSpaceOnUse" x1="229.5" y1="368.7" x2="153.6" y2="336.8"><stop offset="0" stop-color="#ffeecb"/><stop offset="0.5" stop-color="#fff7cb"/><stop offset="1" stop-color="#f9fbd1"/></linearGradient><linearGradient id="g220" gradientUnits="userSpaceOnUse" x1="228.5" y1="367.1" x2="152.6" y2="334.9"><stop offset="0" stop-color="#ffe8c2"/><stop offset="0.5" stop-color="#fff2c2"/><stop offset="1" stop-color="#fbf9c7"/></linearGradient><linearGradient id="h220" gradientUnits="userSpaceOnUse" x1="230" y1="369.9" x2="154.1" y2="338.1"><stop offset="0" stop-color="#ffb400"/><stop offset="0.5" stop-color="#fcde04"/><stop offset="1" stop-color="#ddf027"/></linearGradient><linearGradient id="g221" gradientUnits="userSpaceOnUse" x1="227.6" y1="365.8" x2="151.6" y2="333.2"><stop offset="0" stop-color="#ffe3bb"/><stop offset="0.5" stop-color="#ffedba"/><stop offset="1" stop-color="#fdf7bd"/></linearGradient><linearGradient id="h221" gradientUnits="userSpaceOnUse" x1="227.6" y1="365.8" x2="151.6" y2="333.2"><stop offset="0" stop-color="#fe9802"/><stop offset="0.5" stop-color="#ffbe00"/><stop offset="1" stop-color="#f7e109"/></linearGradient><linearGradient id="g222" gradientUnits="userSpaceOnUse" x1="226.6" y1="364.6" x2="150.6" y2="331.5"><stop offset="0" stop-color="#ffe1ba"/><stop offset="0.5" stop-color="#ffeab9"/><stop offset="1" stop-color="#fff5b9"/></linearGradient><linearGradient id="g223" gradientUnits="userSpaceOnUse" x1="225.6" y1="363.4" x2="149.6" y2="329.7"><stop offset="0" stop-color="#feddb7"/><stop offset="0.5" stop-color="#ffe5b6"/><stop offset="1" stop-color="#fff0b6"/></linearGradient><linearGradient id="h223" gradientUnits="userSpaceOnUse" x1="225.6" y1="363.4" x2="149.6" y2="329.7"><stop offset="0" stop-color="#fd8906"/><stop offset="0.5" stop-color="#ffa600"/><stop offset="1" stop-color="#ffcc00"/></linearGradient><linearGradient id="g224" gradientUnits="userSpaceOnUse" x1="224.6" y1="362.4" x2="148.7" y2="328.1"><stop offset="0" stop-color="#fed8b1"/><stop offset="0.5" stop-color="#ffe0af"/><stop offset="1" stop-color="#ffebaf"/></linearGradient><linearGradient id="h224" gradientUnits="userSpaceOnUse" x1="226.1" y1="364.2" x2="150.1" y2="330.6"><stop offset="0" stop-color="#fd8d05"/><stop offset="0.5" stop-color="#ffac00"/><stop offset="1" stop-color="#ffd300"/></linearGradient><linearGradient id="g225" gradientUnits="userSpaceOnUse" x1="223.6" y1="361.5" x2="147.7" y2="326.4"><stop offset="0" stop-color="#fed0a6"/><stop offset="0.5" stop-color="#ffd8a4"/><stop offset="1" stop-color="#ffe3a2"/></linearGradient><linearGradient id="g226" gradientUnits="userSpaceOnUse" x1="222.6" y1="360.9" x2="146.7" y2="324.9"><stop offset="0" stop-color="#fdcba0"/><stop offset="0.5" stop-color="#fed39e"/><stop offset="1" stop-color="#ffdc9c"/></linearGradient><linearGradient id="h226" gradientUnits="userSpaceOnUse" x1="222.6" y1="360.9" x2="146.7" y2="324.9"><stop offset="0" stop-color="#fb790b"/><stop offset="0.5" stop-color="#fd8e05"/><stop offset="1" stop-color="#ffa500"/></linearGradient><linearGradient id="g227" gradientUnits="userSpaceOnUse" x1="221.7" y1="360.5" x2="145.7" y2="323.6"><stop offset="0" stop-color="#fdc9a0"/><stop offset="0.5" stop-color="#fed19e"/><stop offset="1" stop-color="#ffd89c"/></linearGradient><linearGradient id="g228" gradientUnits="userSpaceOnUse" x1="220.7" y1="360.2" x2="144.7" y2="322.4"><stop offset="0" stop-color="#fdc8a0"/><stop offset="0.5" stop-color="#fecf9f"/><stop offset="1" stop-color="#ffd59d"/></linearGradient><linearGradient id="h228" gradientUnits="userSpaceOnUse" x1="222.2" y1="361" x2="146.2" y2="324.5"><stop offset="0" stop-color="#fb780b"/><stop offset="0.5" stop-color="#fd8c06"/><stop offset="1" stop-color="#ffa000"/></linearGradient><linearGradient id="g229" gradientUnits="userSpaceOnUse" x1="219.7" y1="360.1" x2="143.7" y2="321.4"><stop offset="0" stop-color="#fdc7a0"/><stop offset="0.5" stop-color="#fecd9f"/><stop offset="1" stop-color="#fed39e"/></linearGradient><linearGradient id="h229" gradientUnits="userSpaceOnUse" x1="219.7" y1="360.1" x2="143.7" y2="321.4"><stop offset="0" stop-color="#f9700c"/><stop offset="0.5" stop-color="#fc7f09"/><stop offset="1" stop-color="#fd8e05"/></linearGradient><linearGradient id="g230" gradientUnits="userSpaceOnUse" x1="218.7" y1="360" x2="142.8" y2="320.6"><stop offset="0" stop-color="#fdc7a0"/><stop offset="0.5" stop-color="#fecca0"/><stop offset="1" stop-color="#fed19e"/></linearGradient><linearGradient id="g231" gradientUnits="userSpaceOnUse" x1="217.7" y1="360" x2="141.8" y2="320.2"><stop offset="0" stop-color="#fdc6a0"/><stop offset="0.5" stop-color="#fecba0"/><stop offset="1" stop-color="#fed09f"/></linearGradient><linearGradient id="g232" gradientUnits="userSpaceOnUse" x1="216.8" y1="360" x2="140.8" y2="319.9"><stop offset="0" stop-color="#fcc5a0"/><stop offset="0.5" stop-color="#fdcaa0"/><stop offset="1" stop-color="#fece9f"/></linearGradient><linearGradient id="h232" gradientUnits="userSpaceOnUse" x1="218.2" y1="360.1" x2="142.3" y2="320.8"><stop offset="0" stop-color="#f96e0c"/><stop offset="0.5" stop-color="#fc7b0a"/><stop offset="1" stop-color="#fd8807"/></linearGradient><linearGradient id="g233" gradientUnits="userSpaceOnUse" x1="215.8" y1="360" x2="139.8" y2="319.6"><stop offset="0" stop-color="#fcc5a1"/><stop offset="0.5" stop-color="#fdc9a0"/><stop offset="1" stop-color="#fecd9f"/></linearGradient><linearGradient id="h233" gradientUnits="userSpaceOnUse" x1="215.8" y1="360" x2="139.8" y2="319.6"><stop offset="0" stop-color="#f8690d"/><stop offset="0.5" stop-color="#fa740b"/><stop offset="1" stop-color="#fc8009"/></linearGradient><linearGradient id="g234" gradientUnits="userSpaceOnUse" x1="214.8" y1="359.9" x2="138.8" y2="319.4"><stop offset="0" stop-color="#fcc4a1"/><stop offset="0.5" stop-color="#fdc8a0"/><stop offset="1" stop-color="#fecc9f"/></linearGradient><linearGradient id="g235" gradientUnits="userSpaceOnUse" x1="213.8" y1="359.9" x2="137.9" y2="319.3"><stop offset="0" stop-color="#fcc3a1"/><stop offset="0.5" stop-color="#fdc7a0"/><stop offset="1" stop-color="#fecba0"/></linearGradient><linearGradient id="g236" gradientUnits="userSpaceOnUse" x1="212.8" y1="359.9" x2="136.9" y2="319.2"><stop offset="0" stop-color="#fcc3a1"/><stop offset="0.5" stop-color="#fdc7a0"/><stop offset="1" stop-color="#fdcba0"/></linearGradient><linearGradient id="h236" gradientUnits="userSpaceOnUse" x1="214.3" y1="360" x2="138.3" y2="319.4"><stop offset="0" stop-color="#f8670d"/><stop offset="0.5" stop-color="#fa710c"/><stop offset="1" stop-color="#fc7c0a"/></linearGradient><linearGradient id="g237" gradientUnits="userSpaceOnUse" x1="211.8" y1="360" x2="135.9" y2="319.1"><stop offset="0" stop-color="#fcc2a1"/><stop offset="0.5" stop-color="#fdc6a0"/><stop offset="1" stop-color="#fdcaa0"/></linearGradient><linearGradient id="h237" gradientUnits="userSpaceOnUse" x1="211.8" y1="360" x2="135.9" y2="319.1"><stop offset="0" stop-color="#f7630e"/><stop offset="0.5" stop-color="#f96d0c"/><stop offset="1" stop-color="#fb770b"/></linearGradient><linearGradient id="g238" gradientUnits="userSpaceOnUse" x1="210.9" y1="360" x2="134.9" y2="319.2"><stop offset="0" stop-color="#fcc2a1"/><stop offset="0.5" stop-color="#fcc5a0"/><stop offset="1" stop-color="#fdc9a0"/></linearGradient><linearGradient id="g239" gradientUnits="userSpaceOnUse" x1="209.9" y1="360.1" x2="133.9" y2="319.2"><stop offset="0" stop-color="#fcc1a1"/><stop offset="0.5" stop-color="#fcc5a1"/><stop offset="1" stop-color="#fdc9a0"/></linearGradient><linearGradient id="g240" gradientUnits="userSpaceOnUse" x1="208.9" y1="360.1" x2="132.9" y2="319.4"><stop offset="0" stop-color="#fbc1a1"/><stop offset="0.5" stop-color="#fcc5a1"/><stop offset="1" stop-color="#fdc8a0"/></linearGradient><linearGradient id="h240" gradientUnits="userSpaceOnUse" x1="210.4" y1="360.1" x2="134.4" y2="319.3"><stop offset="0" stop-color="#f6610e"/><stop offset="0.5" stop-color="#f86b0d"/><stop offset="1" stop-color="#fa750b"/></linearGradient><linearGradient id="g241" gradientUnits="userSpaceOnUse" x1="207.9" y1="360.2" x2="132" y2="319.6"><stop offset="0" stop-color="#fbc2a4"/><stop offset="0.5" stop-color="#fcc6a3"/><stop offset="1" stop-color="#fdcaa3"/></linearGradient><linearGradient id="g242" gradientUnits="userSpaceOnUse" x1="206.9" y1="360.3" x2="131" y2="319.8"><stop offset="0" stop-color="#fbc2a5"/><stop offset="0.5" stop-color="#fcc6a5"/><stop offset="1" stop-color="#fdcaa4"/></linearGradient><linearGradient id="g243" gradientUnits="userSpaceOnUse" x1="205.9" y1="360.4" x2="130" y2="320.1"><stop offset="0" stop-color="#fbc4a8"/><stop offset="0.5" stop-color="#fcc8a7"/><stop offset="1" stop-color="#fdcca7"/></linearGradient><linearGradient id="g244" gradientUnits="userSpaceOnUse" x1="205" y1="360.6" x2="129" y2="320.4"><stop offset="0" stop-color="#fcc6ac"/><stop offset="0.5" stop-color="#fccaab"/><stop offset="1" stop-color="#fdceab"/></linearGradient><linearGradient id="h244" gradientUnits="userSpaceOnUse" x1="206.4" y1="360.4" x2="130.5" y2="320"><stop offset="0" stop-color="#f55c0f"/><stop offset="0.5" stop-color="#f8670d"/><stop offset="1" stop-color="#fa720c"/></linearGradient><linearGradient id="g245" gradientUnits="userSpaceOnUse" x1="204" y1="360.8" x2="128" y2="320.6"><stop offset="0" stop-color="#fcc9b0"/><stop offset="0.5" stop-color="#fcccaf"/><stop offset="1" stop-color="#fdd0af"/></linearGradient><linearGradient id="g246" gradientUnits="userSpaceOnUse" x1="203" y1="361.2" x2="127" y2="320.9"><stop offset="0" stop-color="#fcc9b1"/><stop offset="0.5" stop-color="#fccdb1"/><stop offset="1" stop-color="#fdd1b0"/></linearGradient><linearGradient id="g247" gradientUnits="userSpaceOnUse" x1="202" y1="361.5" x2="126.1" y2="321.2"><stop offset="0" stop-color="#fccab1"/><stop offset="0.5" stop-color="#fccdb1"/><stop offset="1" stop-color="#fdd1b0"/></linearGradient><linearGradient id="g248" gradientUnits="userSpaceOnUse" x1="201" y1="361.8" x2="125.1" y2="321.5"><stop offset="0" stop-color="#fccab2"/><stop offset="0.5" stop-color="#fccdb1"/><stop offset="1" stop-color="#fdd1b1"/></linearGradient><linearGradient id="h248" gradientUnits="userSpaceOnUse" x1="202.5" y1="361.3" x2="126.6" y2="321.1"><stop offset="0" stop-color="#f55a0f"/><stop offset="0.5" stop-color="#f7650d"/><stop offset="1" stop-color="#fa710c"/></linearGradient><linearGradient id="g249" gradientUnits="userSpaceOnUse" x1="200" y1="362.2" x2="124.1" y2="321.8"><stop offset="0" stop-color="#fccab2"/><stop offset="0.5" stop-color="#fdceb2"/><stop offset="1" stop-color="#fdd1b1"/></linearGradient><linearGradient id="g250" gradientUnits="userSpaceOnUse" x1="199.1" y1="362.5" x2="123.1" y2="322.1"><stop offset="0" stop-color="#fccab2"/><stop offset="0.5" stop-color="#fdceb2"/><stop offset="1" stop-color="#fdd1b1"/></linearGradient><linearGradient id="g251" gradientUnits="userSpaceOnUse" x1="198.1" y1="362.9" x2="122.1" y2="322.4"><stop offset="0" stop-color="#fcccb5"/><stop offset="0.5" stop-color="#fdcfb4"/><stop offset="1" stop-color="#fdd3b4"/></linearGradient><linearGradient id="h251" gradientUnits="userSpaceOnUse" x1="198.1" y1="362.9" x2="122.1" y2="322.4"><stop offset="0" stop-color="#f55a0f"/><stop offset="0.5" stop-color="#f7650d"/><stop offset="1" stop-color="#f9700c"/></linearGradient><linearGradient id="g252" gradientUnits="userSpaceOnUse" x1="197.1" y1="363.4" x2="121.2" y2="322.7"><stop offset="0" stop-color="#fccfb9"/><stop offset="0.5" stop-color="#fdd2b8"/><stop offset="1" stop-color="#fdd5b8"/></linearGradient><linearGradient id="h252" gradientUnits="userSpaceOnUse" x1="198.6" y1="362.8" x2="122.6" y2="322.3"><stop offset="0" stop-color="#f55a0f"/><stop offset="0.5" stop-color="#f7650d"/><stop offset="1" stop-color="#f9700c"/></linearGradient><linearGradient id="g253" gradientUnits="userSpaceOnUse" x1="196.1" y1="363.9" x2="120.2" y2="323.1"><stop offset="0" stop-color="#fcd2bc"/><stop offset="0.5" stop-color="#fdd5bc"/><stop offset="1" stop-color="#fdd7bc"/></linearGradient><linearGradient id="g254" gradientUnits="userSpaceOnUse" x1="195.1" y1="364.6" x2="119.2" y2="323.5"><stop offset="0" stop-color="#fdd6c3"/><stop offset="0.5" stop-color="#fdd9c2"/><stop offset="1" stop-color="#fedbc2"/></linearGradient><linearGradient id="g255" gradientUnits="userSpaceOnUse" x1="194.2" y1="365.3" x2="118.2" y2="324.2"><stop offset="0" stop-color="#fddac8"/><stop offset="0.5" stop-color="#fddcc7"/><stop offset="1" stop-color="#fedec7"/></linearGradient><linearGradient id="h255" gradientUnits="userSpaceOnUse" x1="194.2" y1="365.3" x2="118.2" y2="324.2"><stop offset="0" stop-color="#f65f0e"/><stop offset="0.5" stop-color="#f8680d"/><stop offset="1" stop-color="#fa710c"/></linearGradient><linearGradient id="g256" gradientUnits="userSpaceOnUse" x1="193.2" y1="366" x2="117.2" y2="324.9"><stop offset="0" stop-color="#fdddcb"/><stop offset="0.5" stop-color="#fedfcb"/><stop offset="1" stop-color="#fee1cb"/></linearGradient><linearGradient id="h256" gradientUnits="userSpaceOnUse" x1="194.6" y1="365" x2="118.7" y2="324.1"><stop offset="0" stop-color="#f65e0e"/><stop offset="0.5" stop-color="#f8680d"/><stop offset="1" stop-color="#fa710c"/></linearGradient><linearGradient id="g257" gradientUnits="userSpaceOnUse" x1="192.2" y1="366.8" x2="116.2" y2="325.8"><stop offset="0" stop-color="#fddfce"/><stop offset="0.5" stop-color="#fee1ce"/><stop offset="1" stop-color="#fee3cd"/></linearGradient><linearGradient id="g258" gradientUnits="userSpaceOnUse" x1="191.2" y1="367.7" x2="115.3" y2="326.8"><stop offset="0" stop-color="#fee3d3"/><stop offset="0.5" stop-color="#fee5d3"/><stop offset="1" stop-color="#fee7d2"/></linearGradient><linearGradient id="h258" gradientUnits="userSpaceOnUse" x1="191.2" y1="367.7" x2="115.3" y2="326.8"><stop offset="0" stop-color="#f7650d"/><stop offset="0.5" stop-color="#f96f0c"/><stop offset="1" stop-color="#fb790b"/></linearGradient><linearGradient id="g259" gradientUnits="userSpaceOnUse" x1="190.2" y1="368.8" x2="114.3" y2="327.9"><stop offset="0" stop-color="#fee6d7"/><stop offset="0.5" stop-color="#fee8d7"/><stop offset="1" stop-color="#feead7"/></linearGradient><linearGradient id="g260" gradientUnits="userSpaceOnUse" x1="189.2" y1="370.1" x2="113.3" y2="329.1"><stop offset="0" stop-color="#fee9da"/><stop offset="0.5" stop-color="#feead9"/><stop offset="1" stop-color="#ffecd9"/></linearGradient><linearGradient id="h260" gradientUnits="userSpaceOnUse" x1="190.7" y1="368.6" x2="114.8" y2="327.5"><stop offset="0" stop-color="#f8680d"/><stop offset="0.5" stop-color="#fa710c"/><stop offset="1" stop-color="#fc7b0a"/></linearGradient><linearGradient id="g261" gradientUnits="userSpaceOnUse" x1="188.3" y1="371.5" x2="112.3" y2="330.3"><stop offset="0" stop-color="#feeadb"/><stop offset="0.5" stop-color="#ffebdb"/><stop offset="1" stop-color="#ffedda"/></linearGradient><linearGradient id="h261" gradientUnits="userSpaceOnUse" x1="188.3" y1="371.5" x2="112.3" y2="330.3"><stop offset="0" stop-color="#fa720c"/><stop offset="0.5" stop-color="#fc7b0a"/><stop offset="1" stop-color="#fd8508"/></linearGradient><linearGradient id="g262" gradientUnits="userSpaceOnUse" x1="187.3" y1="372.9" x2="111.3" y2="331.6"><stop offset="0" stop-color="#feebdb"/><stop offset="0.5" stop-color="#ffecdb"/><stop offset="1" stop-color="#ffedda"/></linearGradient><linearGradient id="g263" gradientUnits="userSpaceOnUse" x1="186.3" y1="374.3" x2="110.3" y2="332.8"><stop offset="0" stop-color="#ffecdb"/><stop offset="0.5" stop-color="#ffeddb"/><stop offset="1" stop-color="#ffeeda"/></linearGradient><linearGradient id="h263" gradientUnits="userSpaceOnUse" x1="186.3" y1="374.3" x2="110.3" y2="332.8"><stop offset="0" stop-color="#fc7c0a"/><stop offset="0.5" stop-color="#fd8508"/><stop offset="1" stop-color="#fd8d05"/></linearGradient><linearGradient id="g264" gradientUnits="userSpaceOnUse" x1="185.3" y1="375.5" x2="109.4" y2="334.3"><stop offset="0" stop-color="#ffeddc"/><stop offset="0.5" stop-color="#ffeedc"/><stop offset="1" stop-color="#fff0dc"/></linearGradient><linearGradient id="h264" gradientUnits="userSpaceOnUse" x1="186.8" y1="373.5" x2="110.8" y2="332.4"><stop offset="0" stop-color="#fb790b"/><stop offset="0.5" stop-color="#fc8208"/><stop offset="1" stop-color="#fd8b06"/></linearGradient><linearGradient id="g265" gradientUnits="userSpaceOnUse" x1="184.3" y1="376.8" x2="108.4" y2="336"><stop offset="0" stop-color="#ffefde"/><stop offset="0.5" stop-color="#fff0de"/><stop offset="1" stop-color="#fff1dd"/></linearGradient><linearGradient id="g266" gradientUnits="userSpaceOnUse" x1="183.3" y1="378" x2="107.4" y2="337.8"><stop offset="0" stop-color="#fff0e0"/><stop offset="0.5" stop-color="#fff2e0"/><stop offset="1" stop-color="#fff3e0"/></linearGradient><linearGradient id="h266" gradientUnits="userSpaceOnUse" x1="183.3" y1="378" x2="107.4" y2="337.8"><stop offset="0" stop-color="#fd8907"/><stop offset="0.5" stop-color="#fe9403"/><stop offset="1" stop-color="#ffa000"/></linearGradient><linearGradient id="g267" gradientUnits="userSpaceOnUse" x1="182.4" y1="379.4" x2="106.4" y2="339.8"><stop offset="0" stop-color="#fff2e3"/><stop offset="0.5" stop-color="#fff4e2"/><stop offset="1" stop-color="#fff5e2"/></linearGradient><linearGradient id="g268" gradientUnits="userSpaceOnUse" x1="181.4" y1="381.1" x2="105.4" y2="341.8"><stop offset="0" stop-color="#fff4e6"/><stop offset="0.5" stop-color="#fff6e5"/><stop offset="1" stop-color="#fff8e5"/></linearGradient><linearGradient id="h268" gradientUnits="userSpaceOnUse" x1="182.9" y1="379.1" x2="106.9" y2="338.9"><stop offset="0" stop-color="#fd8c06"/><stop offset="0.5" stop-color="#fe9802"/><stop offset="1" stop-color="#ffa500"/></linearGradient><linearGradient id="g269" gradientUnits="userSpaceOnUse" x1="180.4" y1="383.1" x2="104.4" y2="343.8"><stop offset="0" stop-color="#fff6e8"/><stop offset="0.5" stop-color="#fff7e8"/><stop offset="1" stop-color="#fff9e8"/></linearGradient><linearGradient id="g270" gradientUnits="userSpaceOnUse" x1="179.4" y1="385.3" x2="103.5" y2="345.7"><stop offset="0" stop-color="#fff7e9"/><stop offset="0.5" stop-color="#fff9e9"/><stop offset="1" stop-color="#fffae9"/></linearGradient><linearGradient id="g271" gradientUnits="userSpaceOnUse" x1="178.4" y1="387.7" x2="102.5" y2="347.5"><stop offset="0" stop-color="#fff9e9"/><stop offset="0.5" stop-color="#fffae9"/><stop offset="1" stop-color="#fffbe9"/></linearGradient><linearGradient id="h271" gradientUnits="userSpaceOnUse" x1="178.4" y1="387.7" x2="102.5" y2="347.5"><stop offset="0" stop-color="#ffb400"/><stop offset="0.5" stop-color="#ffc500"/><stop offset="1" stop-color="#ffd500"/></linearGradient><linearGradient id="g272" gradientUnits="userSpaceOnUse" x1="177.5" y1="390.2" x2="101.5" y2="349.3"><stop offset="0" stop-color="#fffaea"/><stop offset="0.5" stop-color="#fffbea"/><stop offset="1" stop-color="#fffcea"/></linearGradient><linearGradient id="h272" gradientUnits="userSpaceOnUse" x1="178.9" y1="386.8" x2="103" y2="346.5"><stop offset="0" stop-color="#ffae00"/><stop offset="0.5" stop-color="#ffbf00"/><stop offset="1" stop-color="#ffd000"/></linearGradient><linearGradient id="g273" gradientUnits="userSpaceOnUse" x1="176.5" y1="392.7" x2="100.5" y2="351.1"><stop offset="0" stop-color="#fffbea"/><stop offset="0.5" stop-color="#fffcea"/><stop offset="1" stop-color="#fefceb"/></linearGradient><linearGradient id="h273" gradientUnits="userSpaceOnUse" x1="176.5" y1="392.7" x2="100.5" y2="351.1"><stop offset="0" stop-color="#ffd100"/><stop offset="0.5" stop-color="#fedc01"/><stop offset="1" stop-color="#f6e10a"/></linearGradient><linearGradient id="g274" gradientUnits="userSpaceOnUse" x1="175.5" y1="395.2" x2="99.5" y2="353"><stop offset="0" stop-color="#fffcea"/><stop offset="0.5" stop-color="#fefdeb"/><stop offset="1" stop-color="#fefdec"/></linearGradient><linearGradient id="g275" gradientUnits="userSpaceOnUse" x1="174.5" y1="397.7" x2="98.6" y2="354.9"><stop offset="0" stop-color="#fefded"/><stop offset="0.5" stop-color="#fefded"/><stop offset="1" stop-color="#fdfdee"/></linearGradient><linearGradient id="h275" gradientUnits="userSpaceOnUse" x1="174.5" y1="397.7" x2="98.6" y2="354.9"><stop offset="0" stop-color="#f2e30e"/><stop offset="0.5" stop-color="#ede615"/><stop offset="1" stop-color="#e8e91b"/></linearGradient><linearGradient id="g276" gradientUnits="userSpaceOnUse" x1="173.5" y1="400.3" x2="97.6" y2="357"><stop offset="0" stop-color="#fdfdef"/><stop offset="0.5" stop-color="#fdfef0"/><stop offset="1" stop-color="#fdfef0"/></linearGradient><linearGradient id="h276" gradientUnits="userSpaceOnUse" x1="175" y1="396.5" x2="99" y2="354.2"><stop offset="0" stop-color="#f7e009"/><stop offset="0.5" stop-color="#f1e410"/><stop offset="1" stop-color="#ebe717"/></linearGradient><linearGradient id="g277" gradientUnits="userSpaceOnUse" x1="172.5" y1="402.9" x2="96.6" y2="359.4"><stop offset="0" stop-color="#fdfef2"/><stop offset="0.5" stop-color="#fdfef2"/><stop offset="1" stop-color="#fcfef3"/></linearGradient><linearGradient id="h277" gradientUnits="userSpaceOnUse" x1="172.5" y1="402.9" x2="96.6" y2="359.4"><stop offset="0" stop-color="#ddef26"/><stop offset="0.5" stop-color="#d6f02e"/><stop offset="1" stop-color="#ccf039"/></linearGradient><linearGradient id="g278" gradientUnits="userSpaceOnUse" x1="171.6" y1="405.5" x2="95.6" y2="362.1"><stop offset="0" stop-color="#fcfef7"/><stop offset="0.5" stop-color="#fcfef7"/><stop offset="1" stop-color="#fbfef8"/></linearGradient><linearGradient id="g279" gradientUnits="userSpaceOnUse" x1="170.6" y1="408.3" x2="94.6" y2="365.4"><stop offset="0" stop-color="#fcfefa"/><stop offset="0.5" stop-color="#fbfefa"/><stop offset="1" stop-color="#fbfefb"/></linearGradient><linearGradient id="h279" gradientUnits="userSpaceOnUse" x1="170.6" y1="408.3" x2="94.6" y2="365.4"><stop offset="0" stop-color="#a6f063"/><stop offset="0.5" stop-color="#98f072"/><stop offset="1" stop-color="#8af081"/></linearGradient><linearGradient id="g280" gradientUnits="userSpaceOnUse" x1="169.6" y1="411.1" x2="93.6" y2="368.9"><stop offset="0" stop-color="#fbfffb"/><stop offset="0.5" stop-color="#fafffc"/><stop offset="1" stop-color="#fafefc"/></linearGradient><linearGradient id="h280" gradientUnits="userSpaceOnUse" x1="171.1" y1="407.1" x2="95.1" y2="364.4"><stop offset="0" stop-color="#b4f054"/><stop offset="0.5" stop-color="#a6f062"/><stop offset="1" stop-color="#99f071"/></linearGradient><linearGradient id="g281" gradientUnits="userSpaceOnUse" x1="168.6" y1="414.2" x2="92.7" y2="372.1"><stop offset="0" stop-color="#f9fefc"/><stop offset="0.5" stop-color="#f9fefc"/><stop offset="1" stop-color="#f8fefc"/></linearGradient><linearGradient id="g282" gradientUnits="userSpaceOnUse" x1="167.6" y1="417.5" x2="91.7" y2="374.8"><stop offset="0" stop-color="#f7fefc"/><stop offset="0.5" stop-color="#f7fefc"/><stop offset="1" stop-color="#f7fefd"/></linearGradient><linearGradient id="h282" gradientUnits="userSpaceOnUse" x1="167.6" y1="417.5" x2="91.7" y2="374.8"><stop offset="0" stop-color="#4eedb9"/><stop offset="0.5" stop-color="#44ebbf"/><stop offset="1" stop-color="#3beac5"/></linearGradient><linearGradient id="g283" gradientUnits="userSpaceOnUse" x1="166.6" y1="420.8" x2="90.7" y2="377.3"><stop offset="0" stop-color="#f5fefc"/><stop offset="0.5" stop-color="#f5fefd"/><stop offset="1" stop-color="#f5fefd"/></linearGradient><linearGradient id="g284" gradientUnits="userSpaceOnUse" x1="165.7" y1="423.8" x2="89.7" y2="379.7"><stop offset="0" stop-color="#f3fefd"/><stop offset="0.5" stop-color="#f2fefd"/><stop offset="1" stop-color="#f2fefd"/></linearGradient><linearGradient id="h284" gradientUnits="userSpaceOnUse" x1="167.1" y1="418.9" x2="91.2" y2="375.8"><stop offset="0" stop-color="#43ebc0"/><stop offset="0.5" stop-color="#3beac5"/><stop offset="1" stop-color="#33e9ca"/></linearGradient><linearGradient id="g285" gradientUnits="userSpaceOnUse" x1="164.7" y1="426.3" x2="88.7" y2="382.2"><stop offset="0" stop-color="#effdfd"/><stop offset="0.5" stop-color="#effdfd"/><stop offset="1" stop-color="#effdfd"/></linearGradient><linearGradient id="h285" gradientUnits="userSpaceOnUse" x1="164.7" y1="426.3" x2="88.7" y2="382.2"><stop offset="0" stop-color="#10e3e1"/><stop offset="0.5" stop-color="#0ce3e3"/><stop offset="1" stop-color="#09e2e5"/></linearGradient><linearGradient id="g286" gradientUnits="userSpaceOnUse" x1="163.7" y1="428.3" x2="87.7" y2="384.9"><stop offset="0" stop-color="#edfdfd"/><stop offset="0.5" stop-color="#edfdfe"/><stop offset="1" stop-color="#edfdfe"/></linearGradient><linearGradient id="g287" gradientUnits="userSpaceOnUse" x1="162.7" y1="430" x2="86.8" y2="388"><stop offset="0" stop-color="#eefdfe"/><stop offset="0.5" stop-color="#eefcfe"/><stop offset="1" stop-color="#eefcfe"/></linearGradient><linearGradient id="h287" gradientUnits="userSpaceOnUse" x1="162.7" y1="430" x2="86.8" y2="388"><stop offset="0" stop-color="#00deec"/><stop offset="0.5" stop-color="#00daec"/><stop offset="1" stop-color="#00d6ed"/></linearGradient><linearGradient id="g288" gradientUnits="userSpaceOnUse" x1="161.7" y1="431.4" x2="85.8" y2="391.3"><stop offset="0" stop-color="#eafcfd"/><stop offset="0.5" stop-color="#eafcfe"/><stop offset="1" stop-color="#eafbfe"/></linearGradient><linearGradient id="h288" gradientUnits="userSpaceOnUse" x1="163.2" y1="428.6" x2="87.3" y2="386.9"><stop offset="0" stop-color="#00e1eb"/><stop offset="0.5" stop-color="#00ddec"/><stop offset="1" stop-color="#00d9ed"/></linearGradient><linearGradient id="g289" gradientUnits="userSpaceOnUse" x1="160.7" y1="432.1" x2="84.8" y2="394.5"><stop offset="0" stop-color="#e2fbfd"/><stop offset="0.5" stop-color="#e2fafd"/><stop offset="1" stop-color="#e2f8fd"/></linearGradient><linearGradient id="g290" gradientUnits="userSpaceOnUse" x1="159.8" y1="432.2" x2="83.8" y2="397.5"><stop offset="0" stop-color="#d5f9fc"/><stop offset="0.5" stop-color="#d5f7fc"/><stop offset="1" stop-color="#d5f4fd"/></linearGradient><linearGradient id="h290" gradientUnits="userSpaceOnUse" x1="159.8" y1="432.2" x2="83.8" y2="397.5"><stop offset="0" stop-color="#00dbec"/><stop offset="0.5" stop-color="#00cdef"/><stop offset="1" stop-color="#02bdf2"/></linearGradient><linearGradient id="g291" gradientUnits="userSpaceOnUse" x1="158.8" y1="431.8" x2="82.8" y2="400.2"><stop offset="0" stop-color="#cdf8fb"/><stop offset="0.5" stop-color="#cdf5fc"/><stop offset="1" stop-color="#d0f0fc"/></linearGradient><linearGradient id="g292" gradientUnits="userSpaceOnUse" x1="157.8" y1="431.2" x2="81.9" y2="402.9"><stop offset="0" stop-color="#cbf9fb"/><stop offset="0.5" stop-color="#cbf4fc"/><stop offset="1" stop-color="#d0edfc"/></linearGradient><linearGradient id="h292" gradientUnits="userSpaceOnUse" x1="159.3" y1="431.4" x2="83.3" y2="398.6"><stop offset="0" stop-color="#00ddec"/><stop offset="0.5" stop-color="#00ccef"/><stop offset="1" stop-color="#07b8f1"/></linearGradient><linearGradient id="g293" gradientUnits="userSpaceOnUse" x1="156.8" y1="430.7" x2="80.9" y2="405.3"><stop offset="0" stop-color="#c4f8fa"/><stop offset="0.5" stop-color="#c3f2fc"/><stop offset="1" stop-color="#cbe7fb"/></linearGradient><linearGradient id="h293" gradientUnits="userSpaceOnUse" x1="156.8" y1="430.7" x2="80.9" y2="405.3"><stop offset="0" stop-color="#04e2e9"/><stop offset="0.5" stop-color="#00c7f1"/><stop offset="1" stop-color="#219aef"/></linearGradient><linearGradient id="g294" gradientUnits="userSpaceOnUse" x1="155.8" y1="430.4" x2="79.9" y2="406.9"><stop offset="0" stop-color="#a9f5f6"/><stop offset="0.5" stop-color="#a6ebfa"/><stop offset="1" stop-color="#b3d9f9"/></linearGradient><linearGradient id="g295" gradientUnits="userSpaceOnUse" x1="154.9" y1="430.2" x2="78.9" y2="406.9"><stop offset="0" stop-color="#a0f4f4"/><stop offset="0.5" stop-color="#9ce9f9"/><stop offset="1" stop-color="#aad6f8"/></linearGradient><linearGradient id="g296" gradientUnits="userSpaceOnUse" x1="153.9" y1="430.2" x2="77.9" y2="405.1"><stop offset="0" stop-color="#baf7f6"/><stop offset="0.5" stop-color="#b5f0fb"/><stop offset="1" stop-color="#bde4fa"/></linearGradient><linearGradient id="h296" gradientUnits="userSpaceOnUse" x1="155.3" y1="430.5" x2="79.4" y2="404"><stop offset="0" stop-color="#0ae2e5"/><stop offset="0.5" stop-color="#00c8f0"/><stop offset="1" stop-color="#209bef"/></linearGradient><linearGradient id="g297" gradientUnits="userSpaceOnUse" x1="152.9" y1="430.5" x2="76.9" y2="402.7"><stop offset="0" stop-color="#a2f4f3"/><stop offset="0.5" stop-color="#9cecf9"/><stop offset="1" stop-color="#a1e0f9"/></linearGradient><linearGradient id="g298" gradientUnits="userSpaceOnUse" x1="151.9" y1="431.4" x2="76" y2="401.8"><stop offset="0" stop-color="#c4f8f8"/><stop offset="0.5" stop-color="#c1f4fb"/><stop offset="1" stop-color="#c4edfc"/></linearGradient><linearGradient id="g299" gradientUnits="userSpaceOnUse" x1="150.9" y1="433.1" x2="75" y2="403.1"><stop offset="0" stop-color="#e9fcfd"/><stop offset="0.5" stop-color="#e9fbfe"/><stop offset="1" stop-color="#eaf8fe"/></linearGradient><linearGradient id="h299" gradientUnits="userSpaceOnUse" x1="150.9" y1="433.1" x2="75" y2="403.1"><stop offset="0" stop-color="#00e1eb"/><stop offset="0.5" stop-color="#00ccef"/><stop offset="1" stop-color="#0db0f1"/></linearGradient><linearGradient id="g300" gradientUnits="userSpaceOnUse" x1="149.9" y1="435.5" x2="74" y2="406.2"><stop offset="0" stop-color="#f6fefe"/><stop offset="0.5" stop-color="#f6fdfe"/><stop offset="1" stop-color="#f7fcfe"/></linearGradient><linearGradient id="h300" gradientUnits="userSpaceOnUse" x1="151.4" y1="433.5" x2="75.5" y2="406"><stop offset="0" stop-color="#02e1ea"/><stop offset="0.5" stop-color="#00cbf0"/><stop offset="1" stop-color="#12abf0"/></linearGradient></defs>
<path d="M246.7 403.3L239.1 400.2L231.5 397L223.9 393.8L216.3 390.7L208.7 387.5L201.1 384.3L193.6 381.2L186 378L178.4 374.8L170.8 371.7L171.8 373.2L179.3 376.4L186.9 379.6L194.5 382.8L202.1 386L209.7 389.2L217.3 392.4L224.9 395.6L232.5 398.8L240.1 402L247.7 405.2Z" fill="url(#g201)" stroke="url(#g201)" stroke-width="0.3"/>
<path d="M247.7 405.2L240.1 402L232.5 398.8L224.9 395.6L217.3 392.4L209.7 389.2L202.1 386L194.5 382.8L186.9 379.6L179.3 376.4L171.8 373.2" fill="none" stroke="url(#h201)" stroke-width="0.7"/>
<path d="M245.7 401.5L238.1 398.3L230.5 395.2L222.9 392L215.4 388.9L207.8 385.7L200.2 382.6L192.6 379.5L185 376.3L177.4 373.2L169.8 370L170.8 371.7L178.4 374.8L186 378L193.6 381.2L201.1 384.3L208.7 387.5L216.3 390.7L223.9 393.8L231.5 397L239.1 400.2L246.7 403.3Z" fill="url(#g202)" stroke="url(#g202)" stroke-width="0.3"/>
<path d="M244.8 399.6L237.2 396.5L229.6 393.4L222 390.2L214.4 387.1L206.8 384L199.2 380.9L191.6 377.7L184 374.6L176.4 371.5L168.8 368.4L169.8 370L177.4 373.2L185 376.3L192.6 379.5L200.2 382.6L207.8 385.7L215.4 388.9L222.9 392L230.5 395.2L238.1 398.3L245.7 401.5Z" fill="url(#g203)" stroke="url(#g203)" stroke-width="0.3"/>
<path d="M245.4 400.8L237.8 397.6L230.2 394.5L222.6 391.3L215 388.2L207.4 385.1L199.8 381.9L192.2 378.8L184.6 375.7L177 372.5L169.4 369.4" fill="none" stroke="url(#h203)" stroke-width="0.7"/>
<path d="M243.8 397.7L236.2 394.6L228.6 391.5L221 388.4L213.4 385.3L205.8 382.2L198.2 379.1L190.6 376L183 372.9L175.4 369.7L167.8 366.6L168.8 368.4L176.4 371.5L184 374.6L191.6 377.7L199.2 380.9L206.8 384L214.4 387.1L222 390.2L229.6 393.4L237.2 396.5L244.8 399.6Z" fill="url(#g204)" stroke="url(#g204)" stroke-width="0.3"/>
<path d="M243.8 397.7L247.7 405.2M242.4 397.2L246.3 404.6M241 396.6L244.9 404M239.6 396.1L243.6 403.4M238.2 395.5L242.2 402.8M236.9 394.9L240.8 402.3M235.5 394.4L239.4 401.7M234.1 393.8L238 401.1M232.7 393.2L236.7 400.5M231.3 392.7L235.3 399.9M230 392.1L233.9 399.4M228.6 391.5L232.5 398.8M227.2 391L231.1 398.2M225.8 390.4L229.7 397.6M224.4 389.8L228.4 397M223.1 389.3L227 396.5M221.7 388.7L225.6 395.9M220.3 388.1L224.2 395.3M218.9 387.6L222.8 394.7M217.5 387L221.5 394.1M216.2 386.4L220.1 393.6M214.8 385.9L218.7 393M213.4 385.3L217.3 392.4M212 384.7L215.9 391.8M210.6 384.2L214.6 391.2M209.2 383.6L213.2 390.7M207.9 383L211.8 390.1M206.5 382.5L210.4 389.5M205.1 381.9L209 388.9M203.7 381.3L207.7 388.3M202.3 380.8L206.3 387.8M201 380.2L204.9 387.2M199.6 379.6L203.5 386.6M198.2 379.1L202.1 386M196.8 378.5L200.7 385.4M195.4 378L199.4 384.8M194.1 377.4L198 384.3M192.7 376.8L196.6 383.7M191.3 376.3L195.2 383.1M189.9 375.7L193.8 382.5M188.5 375.1L192.5 381.9M187.2 374.6L191.1 381.4M185.8 374L189.7 380.8M184.4 373.4L188.3 380.2M183 372.9L186.9 379.6M181.6 372.3L185.6 379M180.2 371.7L184.2 378.5M178.9 371.2L182.8 377.9M177.5 370.6L181.4 377.3M176.1 370L180 376.7M174.7 369.5L178.7 376.1M173.3 368.9L177.3 375.6M172 368.3L175.9 375M170.6 367.8L174.5 374.4M169.2 367.2L173.1 373.8M167.8 366.6L171.8 373.2" fill="none" stroke="url(#h204)" stroke-width="0.5"/>
<path d="M242.8 395.9L235.2 392.8L227.6 389.7L220 386.6L212.4 383.5L204.8 380.4L197.2 377.3L189.6 374.2L182 371.1L174.4 368L166.8 364.9L167.8 366.6L175.4 369.7L183 372.9L190.6 376L198.2 379.1L205.8 382.2L213.4 385.3L221 388.4L228.6 391.5L236.2 394.6L243.8 397.7Z" fill="url(#g205)" stroke="url(#g205)" stroke-width="0.3"/>
<path d="M243.1 396.4L235.5 393.3L227.9 390.2L220.3 387.1L212.7 384L205.1 380.9L197.5 377.8L189.9 374.7L182.3 371.6L174.7 368.5L167.1 365.4" fill="none" stroke="url(#h205)" stroke-width="0.7"/>
<path d="M241.8 394L234.2 390.9L226.6 387.8L219 384.7L211.4 381.6L203.8 378.5L196.2 375.5L188.6 372.4L181 369.3L173.5 366.2L165.9 363.1L166.8 364.9L174.4 368L182 371.1L189.6 374.2L197.2 377.3L204.8 380.4L212.4 383.5L220 386.6L227.6 389.7L235.2 392.8L242.8 395.9Z" fill="url(#g206)" stroke="url(#g206)" stroke-width="0.3"/>
<path d="M240.8 392.1L233.2 389L225.6 385.9L218 382.8L210.4 379.8L202.8 376.7L195.3 373.6L187.7 370.5L180.1 367.4L172.5 364.4L164.9 361.3L165.9 363.1L173.5 366.2L181 369.3L188.6 372.4L196.2 375.5L203.8 378.5L211.4 381.6L219 384.7L226.6 387.8L234.2 390.9L241.8 394Z" fill="url(#g207)" stroke="url(#g207)" stroke-width="0.3"/>
<path d="M239.8 390.2L232.2 387.1L224.6 384L217.1 381L209.5 377.9L201.9 374.8L194.3 371.7L186.7 368.6L179.1 365.6L171.5 362.5L163.9 359.4L164.9 361.3L172.5 364.4L180.1 367.4L187.7 370.5L195.3 373.6L202.8 376.7L210.4 379.8L218 382.8L225.6 385.9L233.2 389L240.8 392.1Z" fill="url(#g208)" stroke="url(#g208)" stroke-width="0.3"/>
<path d="M239.8 390.2L243.8 397.7M238.5 389.6L242.4 397.2M237.1 389.1L241 396.6M235.7 388.5L239.6 396.1M234.3 387.9L238.2 395.5M232.9 387.4L236.9 394.9M231.6 386.8L235.5 394.4M230.2 386.3L234.1 393.8M228.8 385.7L232.7 393.2M227.4 385.1L231.3 392.7M226 384.6L230 392.1M224.6 384L228.6 391.5M223.3 383.5L227.2 391M221.9 382.9L225.8 390.4M220.5 382.4L224.4 389.8M219.1 381.8L223.1 389.3M217.7 381.2L221.7 388.7M216.4 380.7L220.3 388.1M215 380.1L218.9 387.6M213.6 379.6L217.5 387M212.2 379L216.2 386.4M210.8 378.4L214.8 385.9M209.5 377.9L213.4 385.3M208.1 377.3L212 384.7M206.7 376.8L210.6 384.2M205.3 376.2L209.2 383.6M203.9 375.6L207.9 383M202.6 375.1L206.5 382.5M201.2 374.5L205.1 381.9M199.8 374L203.7 381.3M198.4 373.4L202.3 380.8M197 372.8L201 380.2M195.7 372.3L199.6 379.6M194.3 371.7L198.2 379.1M192.9 371.2L196.8 378.5M191.5 370.6L195.4 378M190.1 370L194.1 377.4M188.7 369.5L192.7 376.8M187.4 368.9L191.3 376.3M186 368.4L189.9 375.7M184.6 367.8L188.5 375.1M183.2 367.2L187.2 374.6M181.8 366.7L185.8 374M180.5 366.1L184.4 373.4M179.1 365.6L183 372.9M177.7 365L181.6 372.3M176.3 364.5L180.2 371.7M174.9 363.9L178.9 371.2M173.6 363.3L177.5 370.6M172.2 362.8L176.1 370M170.8 362.2L174.7 369.5M169.4 361.7L173.3 368.9M168 361.1L172 368.3M166.7 360.5L170.6 367.8M165.3 360L169.2 367.2M163.9 359.4L167.8 366.6" fill="none" stroke="url(#h208)" stroke-width="0.5"/>
<path d="M240.8 392L233.2 388.9L225.6 385.9L218 382.8L210.4 379.7L202.8 376.6L195.2 373.5L187.6 370.5L180 367.4L172.4 364.3L164.8 361.2" fill="none" stroke="url(#h208)" stroke-width="0.7"/>
<path d="M238.9 388.3L231.3 385.2L223.7 382.1L216.1 379L208.5 376L200.9 372.9L193.3 369.8L185.7 366.7L178.1 363.7L170.5 360.6L162.9 357.5L163.9 359.4L171.5 362.5L179.1 365.6L186.7 368.6L194.3 371.7L201.9 374.8L209.5 377.9L217.1 381L224.6 384L232.2 387.1L239.8 390.2Z" fill="url(#g209)" stroke="url(#g209)" stroke-width="0.3"/>
<path d="M237.9 386.3L230.3 383.2L222.7 380.1L215.1 377.1L207.5 374L199.9 370.9L192.3 367.9L184.7 364.8L177.1 361.7L169.5 358.7L161.9 355.6L162.9 357.5L170.5 360.6L178.1 363.7L185.7 366.7L193.3 369.8L200.9 372.9L208.5 376L216.1 379L223.7 382.1L231.3 385.2L238.9 388.3Z" fill="url(#g210)" stroke="url(#g210)" stroke-width="0.3"/>
<path d="M238.6 387.7L231 384.6L223.4 381.5L215.8 378.5L208.2 375.4L200.6 372.3L193 369.2L185.4 366.2L177.8 363.1L170.2 360L162.6 356.9" fill="none" stroke="url(#h210)" stroke-width="0.7"/>
<path d="M236.9 384.2L229.3 381.1L221.7 378L214.1 375L206.5 371.9L198.9 368.9L191.3 365.8L183.7 362.7L176.1 359.7L168.5 356.6L160.9 353.6L161.9 355.6L169.5 358.7L177.1 361.7L184.7 364.8L192.3 367.9L199.9 370.9L207.5 374L215.1 377.1L222.7 380.1L230.3 383.2L237.9 386.3Z" fill="url(#g211)" stroke="url(#g211)" stroke-width="0.3"/>
<path d="M235.9 382L228.3 378.9L220.7 375.9L213.1 372.8L205.5 369.7L197.9 366.7L190.3 363.6L182.7 360.6L175.1 357.5L167.6 354.4L160 351.4L160.9 353.6L168.5 356.6L176.1 359.7L183.7 362.7L191.3 365.8L198.9 368.9L206.5 371.9L214.1 375L221.7 378L229.3 381.1L236.9 384.2Z" fill="url(#g212)" stroke="url(#g212)" stroke-width="0.3"/>
<path d="M235.9 382L239.8 390.2M234.5 381.4L238.5 389.6M233.1 380.9L237.1 389.1M231.8 380.3L235.7 388.5M230.4 379.8L234.3 387.9M229 379.2L232.9 387.4M227.6 378.7L231.6 386.8M226.2 378.1L230.2 386.3M224.9 377.5L228.8 385.7M223.5 377L227.4 385.1M222.1 376.4L226 384.6M220.7 375.9L224.6 384M219.3 375.3L223.3 383.5M218 374.8L221.9 382.9M216.6 374.2L220.5 382.4M215.2 373.6L219.1 381.8M213.8 373.1L217.7 381.2M212.4 372.5L216.4 380.7M211.1 372L215 380.1M209.7 371.4L213.6 379.6M208.3 370.9L212.2 379M206.9 370.3L210.8 378.4M205.5 369.7L209.5 377.9M204.1 369.2L208.1 377.3M202.8 368.6L206.7 376.8M201.4 368.1L205.3 376.2M200 367.5L203.9 375.6M198.6 367L202.6 375.1M197.2 366.4L201.2 374.5M195.9 365.9L199.8 374M194.5 365.3L198.4 373.4M193.1 364.7L197 372.8M191.7 364.2L195.7 372.3M190.3 363.6L194.3 371.7M189 363.1L192.9 371.2M187.6 362.5L191.5 370.6M186.2 362L190.1 370M184.8 361.4L188.7 369.5M183.4 360.8L187.4 368.9M182.1 360.3L186 368.4M180.7 359.7L184.6 367.8M179.3 359.2L183.2 367.2M177.9 358.6L181.8 366.7M176.5 358.1L180.5 366.1M175.1 357.5L179.1 365.6M173.8 357L177.7 365M172.4 356.4L176.3 364.5M171 355.8L174.9 363.9M169.6 355.3L173.6 363.3M168.2 354.7L172.2 362.8M166.9 354.2L170.8 362.2M165.5 353.6L169.4 361.7M164.1 353.1L168 361.1M162.7 352.5L166.7 360.5M161.3 351.9L165.3 360M160 351.4L163.9 359.4" fill="none" stroke="url(#h212)" stroke-width="0.5"/>
<path d="M236.4 383.2L228.8 380.1L221.2 377L213.7 374L206.1 370.9L198.5 367.9L190.9 364.8L183.3 361.7L175.7 358.7L168.1 355.6L160.5 352.6" fill="none" stroke="url(#h212)" stroke-width="0.7"/>
<path d="M234.9 379.8L227.3 376.7L219.7 373.7L212.1 370.6L204.5 367.5L197 364.4L189.4 361.4L181.8 358.3L174.2 355.2L166.6 352.2L159 349.1L160 351.4L167.6 354.4L175.1 357.5L182.7 360.6L190.3 363.6L197.9 366.7L205.5 369.7L213.1 372.8L220.7 375.9L228.3 378.9L235.9 382Z" fill="url(#g213)" stroke="url(#g213)" stroke-width="0.3"/>
<path d="M233.9 377.6L226.3 374.5L218.8 371.4L211.2 368.3L203.6 365.3L196 362.2L188.4 359.1L180.8 356L173.2 352.9L165.6 349.9L158 346.8L159 349.1L166.6 352.2L174.2 355.2L181.8 358.3L189.4 361.4L197 364.4L204.5 367.5L212.1 370.6L219.7 373.7L227.3 376.7L234.9 379.8Z" fill="url(#g214)" stroke="url(#g214)" stroke-width="0.3"/>
<path d="M234.4 378.6L226.8 375.6L219.2 372.5L211.6 369.4L204 366.3L196.4 363.3L188.8 360.2L181.2 357.1L173.7 354L166.1 351L158.5 347.9" fill="none" stroke="url(#h214)" stroke-width="0.7"/>
<path d="M233 375.4L225.4 372.3L217.8 369.2L210.2 366.1L202.6 363L195 359.9L187.4 356.8L179.8 353.7L172.2 350.6L164.6 347.5L157 344.4L158 346.8L165.6 349.9L173.2 352.9L180.8 356L188.4 359.1L196 362.2L203.6 365.3L211.2 368.3L218.8 371.4L226.3 374.5L233.9 377.6Z" fill="url(#g215)" stroke="url(#g215)" stroke-width="0.3"/>
<path d="M232 373.3L224.4 370.2L216.8 367.1L209.2 364L201.6 360.8L194 357.7L186.4 354.6L178.8 351.5L171.2 348.4L163.6 345.2L156 342.1L157 344.4L164.6 347.5L172.2 350.6L179.8 353.7L187.4 356.8L195 359.9L202.6 363L210.2 366.1L217.8 369.2L225.4 372.3L233 375.4Z" fill="url(#g216)" stroke="url(#g216)" stroke-width="0.3"/>
<path d="M232 373.3L235.9 382M230.6 372.8L234.5 381.4M229.2 372.2L233.1 380.9M227.8 371.6L231.8 380.3M226.5 371.1L230.4 379.8M225.1 370.5L229 379.2M223.7 369.9L227.6 378.7M222.3 369.4L226.2 378.1M220.9 368.8L224.9 377.5M219.6 368.2L223.5 377M218.2 367.6L222.1 376.4M216.8 367.1L220.7 375.9M215.4 366.5L219.3 375.3M214 365.9L218 374.8M212.6 365.4L216.6 374.2M211.3 364.8L215.2 373.6M209.9 364.2L213.8 373.1M208.5 363.7L212.4 372.5M207.1 363.1L211.1 372M205.7 362.5L209.7 371.4M204.4 362L208.3 370.9M203 361.4L206.9 370.3M201.6 360.8L205.5 369.7M200.2 360.3L204.1 369.2M198.8 359.7L202.8 368.6M197.5 359.1L201.4 368.1M196.1 358.6L200 367.5M194.7 358L198.6 367M193.3 357.4L197.2 366.4M191.9 356.9L195.9 365.9M190.6 356.3L194.5 365.3M189.2 355.7L193.1 364.7M187.8 355.2L191.7 364.2M186.4 354.6L190.3 363.6M185 354L189 363.1M183.6 353.5L187.6 362.5M182.3 352.9L186.2 362M180.9 352.3L184.8 361.4M179.5 351.8L183.4 360.8M178.1 351.2L182.1 360.3M176.7 350.6L180.7 359.7M175.4 350.1L179.3 359.2M174 349.5L177.9 358.6M172.6 348.9L176.5 358.1M171.2 348.4L175.1 357.5M169.8 347.8L173.8 357M168.5 347.2L172.4 356.4M167.1 346.7L171 355.8M165.7 346.1L169.6 355.3M164.3 345.5L168.2 354.7M162.9 345L166.9 354.2M161.6 344.4L165.5 353.6M160.2 343.8L164.1 353.1M158.8 343.3L162.7 352.5M157.4 342.7L161.3 351.9M156 342.1L160 351.4" fill="none" stroke="url(#h216)" stroke-width="0.5"/>
<path d="M232.4 374.2L224.8 371.1L217.2 368L209.6 364.9L202 361.8L194.4 358.7L186.8 355.5L179.2 352.4L171.6 349.3L164 346.2L156.5 343.1" fill="none" stroke="url(#h216)" stroke-width="0.7"/>
<path d="M231 371.3L223.4 368.2L215.8 365L208.2 361.9L200.6 358.8L193 355.6L185.4 352.5L177.8 349.3L170.2 346.2L162.6 343L155 339.9L156 342.1L163.6 345.2L171.2 348.4L178.8 351.5L186.4 354.6L194 357.7L201.6 360.8L209.2 364L216.8 367.1L224.4 370.2L232 373.3Z" fill="url(#g217)" stroke="url(#g217)" stroke-width="0.3"/>
<path d="M230 369.5L222.4 366.3L214.8 363.2L207.2 360L199.6 356.8L192 353.6L184.4 350.4L176.8 347.3L169.3 344.1L161.7 340.9L154.1 337.7L155 339.9L162.6 343L170.2 346.2L177.8 349.3L185.4 352.5L193 355.6L200.6 358.8L208.2 361.9L215.8 365L223.4 368.2L231 371.3Z" fill="url(#g218)" stroke="url(#g218)" stroke-width="0.3"/>
<path d="M230.3 370L222.7 366.8L215.1 363.7L207.5 360.5L199.9 357.3L192.3 354.2L184.7 351L177.1 347.8L169.5 344.7L161.9 341.5L154.3 338.3" fill="none" stroke="url(#h218)" stroke-width="0.7"/>
<path d="M229 367.8L221.4 364.6L213.8 361.4L206.2 358.2L198.7 355L191.1 351.8L183.5 348.6L175.9 345.4L168.3 342.2L160.7 339L153.1 335.8L154.1 337.7L161.7 340.9L169.3 344.1L176.8 347.3L184.4 350.4L192 353.6L199.6 356.8L207.2 360L214.8 363.2L222.4 366.3L230 369.5Z" fill="url(#g219)" stroke="url(#g219)" stroke-width="0.3"/>
<path d="M228.1 366.4L220.5 363.2L212.9 359.9L205.3 356.7L197.7 353.4L190.1 350.2L182.5 347L174.9 343.7L167.3 340.5L159.7 337.2L152.1 334L153.1 335.8L160.7 339L168.3 342.2L175.9 345.4L183.5 348.6L191.1 351.8L198.7 355L206.2 358.2L213.8 361.4L221.4 364.6L229 367.8Z" fill="url(#g220)" stroke="url(#g220)" stroke-width="0.3"/>
<path d="M228.1 366.4L232 373.3M226.7 365.8L230.6 372.8M225.3 365.2L229.2 372.2M223.9 364.6L227.8 371.6M222.5 364L226.5 371.1M221.1 363.5L225.1 370.5M219.8 362.9L223.7 369.9M218.4 362.3L222.3 369.4M217 361.7L220.9 368.8M215.6 361.1L219.6 368.2M214.2 360.5L218.2 367.6M212.9 359.9L216.8 367.1M211.5 359.3L215.4 366.5M210.1 358.7L214 365.9M208.7 358.2L212.6 365.4M207.3 357.6L211.3 364.8M206 357L209.9 364.2M204.6 356.4L208.5 363.7M203.2 355.8L207.1 363.1M201.8 355.2L205.7 362.5M200.4 354.6L204.4 362M199.1 354L203 361.4M197.7 353.4L201.6 360.8M196.3 352.9L200.2 360.3M194.9 352.3L198.8 359.7M193.5 351.7L197.5 359.1M192.1 351.1L196.1 358.6M190.8 350.5L194.7 358M189.4 349.9L193.3 357.4M188 349.3L191.9 356.9M186.6 348.7L190.6 356.3M185.2 348.1L189.2 355.7M183.9 347.5L187.8 355.2M182.5 347L186.4 354.6M181.1 346.4L185 354M179.7 345.8L183.6 353.5M178.3 345.2L182.3 352.9M177 344.6L180.9 352.3M175.6 344L179.5 351.8M174.2 343.4L178.1 351.2M172.8 342.8L176.7 350.6M171.4 342.2L175.4 350.1M170.1 341.7L174 349.5M168.7 341.1L172.6 348.9M167.3 340.5L171.2 348.4M165.9 339.9L169.8 347.8M164.5 339.3L168.5 347.2M163.1 338.7L167.1 346.7M161.8 338.1L165.7 346.1M160.4 337.5L164.3 345.5M159 336.9L162.9 345M157.6 336.4L161.6 344.4M156.2 335.8L160.2 343.8M154.9 335.2L158.8 343.3M153.5 334.6L157.4 342.7M152.1 334L156 342.1" fill="none" stroke="url(#h220)" stroke-width="0.5"/>
<path d="M227.1 365.2L219.5 361.9L211.9 358.6L204.3 355.3L196.7 352L189.1 348.7L181.5 345.4L173.9 342.2L166.3 338.9L158.7 335.6L151.1 332.3L152.1 334L159.7 337.2L167.3 340.5L174.9 343.7L182.5 347L190.1 350.2L197.7 353.4L205.3 356.7L212.9 359.9L220.5 363.2L228.1 366.4Z" fill="url(#g221)" stroke="url(#g221)" stroke-width="0.3"/>
<path d="M227.9 366.3L220.4 363L212.8 359.8L205.2 356.5L197.6 353.3L190 350L182.4 346.8L174.8 343.6L167.2 340.3L159.6 337.1L152 333.8" fill="none" stroke="url(#h221)" stroke-width="0.7"/>
<path d="M226.1 364L218.5 360.6L210.9 357.3L203.3 354L195.7 350.6L188.1 347.3L180.5 343.9L172.9 340.6L165.3 337.3L157.7 333.9L150.1 330.6L151.1 332.3L158.7 335.6L166.3 338.9L173.9 342.2L181.5 345.4L189.1 348.7L196.7 352L204.3 355.3L211.9 358.6L219.5 361.9L227.1 365.2Z" fill="url(#g222)" stroke="url(#g222)" stroke-width="0.3"/>
<path d="M225.1 362.9L217.5 359.5L209.9 356.1L202.3 352.7L194.7 349.3L187.1 345.9L179.5 342.5L171.9 339.1L164.3 335.7L156.7 332.3L149.2 328.9L150.1 330.6L157.7 333.9L165.3 337.3L172.9 340.6L180.5 343.9L188.1 347.3L195.7 350.6L203.3 354L210.9 357.3L218.5 360.6L226.1 364Z" fill="url(#g223)" stroke="url(#g223)" stroke-width="0.3"/>
<path d="M225.4 363.2L217.8 359.8L210.2 356.4L202.6 353L195 349.7L187.4 346.3L179.8 342.9L172.2 339.5L164.6 336.1L157 332.8L149.4 329.4" fill="none" stroke="url(#h223)" stroke-width="0.7"/>
<path d="M224.1 361.9L216.5 358.4L208.9 355L201.3 351.5L193.7 348L186.1 344.6L178.6 341.1L171 337.6L163.4 334.2L155.8 330.7L148.2 327.2L149.2 328.9L156.7 332.3L164.3 335.7L171.9 339.1L179.5 342.5L187.1 345.9L194.7 349.3L202.3 352.7L209.9 356.1L217.5 359.5L225.1 362.9Z" fill="url(#g224)" stroke="url(#g224)" stroke-width="0.3"/>
<path d="M224.1 361.9L228.1 366.4M222.7 361.3L226.7 365.8M221.4 360.6L225.3 365.2M220 360L223.9 364.6M218.6 359.4L222.5 364M217.2 358.8L221.1 363.5M215.8 358.1L219.8 362.9M214.5 357.5L218.4 362.3M213.1 356.9L217 361.7M211.7 356.2L215.6 361.1M210.3 355.6L214.2 360.5M208.9 355L212.9 359.9M207.5 354.3L211.5 359.3M206.2 353.7L210.1 358.7M204.8 353.1L208.7 358.2M203.4 352.5L207.3 357.6M202 351.8L206 357M200.6 351.2L204.6 356.4M199.3 350.6L203.2 355.8M197.9 349.9L201.8 355.2M196.5 349.3L200.4 354.6M195.1 348.7L199.1 354M193.7 348L197.7 353.4M192.4 347.4L196.3 352.9M191 346.8L194.9 352.3M189.6 346.1L193.5 351.7M188.2 345.5L192.1 351.1M186.8 344.9L190.8 350.5M185.5 344.3L189.4 349.9M184.1 343.6L188 349.3M182.7 343L186.6 348.7M181.3 342.4L185.2 348.1M179.9 341.7L183.9 347.5M178.6 341.1L182.5 347M177.2 340.5L181.1 346.4M175.8 339.8L179.7 345.8M174.4 339.2L178.3 345.2M173 338.6L177 344.6M171.6 338L175.6 344M170.3 337.3L174.2 343.4M168.9 336.7L172.8 342.8M167.5 336.1L171.4 342.2M166.1 335.4L170.1 341.7M164.7 334.8L168.7 341.1M163.4 334.2L167.3 340.5M162 333.5L165.9 339.9M160.6 332.9L164.5 339.3M159.2 332.3L163.1 338.7M157.8 331.6L161.8 338.1M156.5 331L160.4 337.5M155.1 330.4L159 336.9M153.7 329.8L157.6 336.4M152.3 329.1L156.2 335.8M150.9 328.5L154.9 335.2M149.6 327.9L153.5 334.6M148.2 327.2L152.1 334" fill="none" stroke="url(#h224)" stroke-width="0.5"/>
<path d="M223.1 361.1L215.5 357.6L207.9 354L200.4 350.5L192.8 346.9L185.2 343.4L177.6 339.9L170 336.3L162.4 332.8L154.8 329.2L147.2 325.7L148.2 327.2L155.8 330.7L163.4 334.2L171 337.6L178.6 341.1L186.1 344.6L193.7 348L201.3 351.5L208.9 355L216.5 358.4L224.1 361.9Z" fill="url(#g225)" stroke="url(#g225)" stroke-width="0.3"/>
<path d="M222.2 360.6L214.6 357L207 353.3L199.4 349.7L191.8 346L184.2 342.4L176.6 338.8L169 335.1L161.4 331.5L153.8 327.8L146.2 324.2L147.2 325.7L154.8 329.2L162.4 332.8L170 336.3L177.6 339.9L185.2 343.4L192.8 346.9L200.4 350.5L207.9 354L215.5 357.6L223.1 361.1Z" fill="url(#g226)" stroke="url(#g226)" stroke-width="0.3"/>
<path d="M222.6 360.8L215 357.2L207.4 353.6L199.8 350L192.2 346.5L184.6 342.9L177.1 339.3L169.5 335.7L161.9 332.1L154.3 328.5L146.7 324.9" fill="none" stroke="url(#h226)" stroke-width="0.7"/>
<path d="M221.2 360.3L213.6 356.6L206 352.8L198.4 349.1L190.8 345.4L183.2 341.6L175.6 337.9L168 334.1L160.4 330.4L152.8 326.7L145.2 322.9L146.2 324.2L153.8 327.8L161.4 331.5L169 335.1L176.6 338.8L184.2 342.4L191.8 346L199.4 349.7L207 353.3L214.6 357L222.2 360.6Z" fill="url(#g227)" stroke="url(#g227)" stroke-width="0.3"/>
<path d="M220.2 360.1L212.6 356.3L205 352.5L197.4 348.6L189.8 344.8L182.2 341L174.6 337.1L167 333.3L159.4 329.5L151.8 325.6L144.2 321.8L145.2 322.9L152.8 326.7L160.4 330.4L168 334.1L175.6 337.9L183.2 341.6L190.8 345.4L198.4 349.1L206 352.8L213.6 356.6L221.2 360.3Z" fill="url(#g228)" stroke="url(#g228)" stroke-width="0.3"/>
<path d="M220.2 360.1L224.1 361.9M218.8 359.4L222.7 361.3M217.4 358.8L221.4 360.6M216 358.1L220 360M214.7 357.4L218.6 359.4M213.3 356.7L217.2 358.8M211.9 356L215.8 358.1M210.5 355.3L214.5 357.5M209.1 354.6L213.1 356.9M207.8 353.9L211.7 356.2M206.4 353.2L210.3 355.6M205 352.5L208.9 355M203.6 351.8L207.5 354.3M202.2 351.1L206.2 353.7M200.9 350.4L204.8 353.1M199.5 349.7L203.4 352.5M198.1 349L202 351.8M196.7 348.3L200.6 351.2M195.3 347.6L199.3 350.6M194 346.9L197.9 349.9M192.6 346.2L196.5 349.3M191.2 345.5L195.1 348.7M189.8 344.8L193.7 348M188.4 344.1L192.4 347.4M187 343.4L191 346.8M185.7 342.7L189.6 346.1M184.3 342L188.2 345.5M182.9 341.3L186.8 344.9M181.5 340.6L185.5 344.3M180.1 339.9L184.1 343.6M178.8 339.2L182.7 343M177.4 338.5L181.3 342.4M176 337.8L179.9 341.7M174.6 337.1L178.6 341.1M173.2 336.4L177.2 340.5M171.9 335.7L175.8 339.8M170.5 335.1L174.4 339.2M169.1 334.4L173 338.6M167.7 333.7L171.6 338M166.3 333L170.3 337.3M165 332.3L168.9 336.7M163.6 331.6L167.5 336.1M162.2 330.9L166.1 335.4M160.8 330.2L164.7 334.8M159.4 329.5L163.4 334.2M158 328.8L162 333.5M156.7 328.1L160.6 332.9M155.3 327.4L159.2 332.3M153.9 326.7L157.8 331.6M152.5 326L156.5 331M151.1 325.3L155.1 330.4M149.8 324.6L153.7 329.8M148.4 323.9L152.3 329.1M147 323.2L150.9 328.5M145.6 322.5L149.6 327.9M144.2 321.8L148.2 327.2" fill="none" stroke="url(#h228)" stroke-width="0.5"/>
<path d="M219.2 360L211.6 356.1L204 352.2L196.4 348.3L188.8 344.4L181.2 340.5L173.6 336.6L166 332.7L158.4 328.8L150.9 324.8L143.3 320.9L144.2 321.8L151.8 325.6L159.4 329.5L167 333.3L174.6 337.1L182.2 341L189.8 344.8L197.4 348.6L205 352.5L212.6 356.3L220.2 360.1Z" fill="url(#g229)" stroke="url(#g229)" stroke-width="0.3"/>
<path d="M219.4 360.1L211.8 356.2L204.2 352.3L196.6 348.4L189 344.5L181.4 340.6L173.8 336.7L166.2 332.8L158.6 328.9L151 325L143.4 321.1" fill="none" stroke="url(#h229)" stroke-width="0.7"/>
<path d="M218.2 360L210.6 356L203 352.1L195.4 348.1L187.8 344.1L180.2 340.2L172.7 336.2L165.1 332.2L157.5 328.3L149.9 324.3L142.3 320.3L143.3 320.9L150.9 324.8L158.4 328.8L166 332.7L173.6 336.6L181.2 340.5L188.8 344.4L196.4 348.3L204 352.2L211.6 356.1L219.2 360Z" fill="url(#g230)" stroke="url(#g230)" stroke-width="0.3"/>
<path d="M217.2 360L209.6 356L202.1 352L194.5 348L186.9 344L179.3 340L171.7 336L164.1 332L156.5 328L148.9 324L141.3 320L142.3 320.3L149.9 324.3L157.5 328.3L165.1 332.2L172.7 336.2L180.2 340.2L187.8 344.1L195.4 348.1L203 352.1L210.6 356L218.2 360Z" fill="url(#g231)" stroke="url(#g231)" stroke-width="0.3"/>
<path d="M216.3 360L208.7 355.9L201.1 351.9L193.5 347.9L185.9 343.9L178.3 339.9L170.7 335.8L163.1 331.8L155.5 327.8L147.9 323.8L140.3 319.7L141.3 320L148.9 324L156.5 328L164.1 332L171.7 336L179.3 340L186.9 344L194.5 348L202.1 352L209.6 356L217.2 360Z" fill="url(#g232)" stroke="url(#g232)" stroke-width="0.3"/>
<path d="M216.3 360L220.2 360.1M214.9 359.2L218.8 359.4M213.5 358.5L217.4 358.8M212.1 357.8L216 358.1M210.7 357L214.7 357.4M209.4 356.3L213.3 356.7M208 355.6L211.9 356M206.6 354.9L210.5 355.3M205.2 354.1L209.1 354.6M203.8 353.4L207.8 353.9M202.5 352.7L206.4 353.2M201.1 351.9L205 352.5M199.7 351.2L203.6 351.8M198.3 350.5L202.2 351.1M196.9 349.7L200.9 350.4M195.5 349L199.5 349.7M194.2 348.3L198.1 349M192.8 347.5L196.7 348.3M191.4 346.8L195.3 347.6M190 346.1L194 346.9M188.6 345.3L192.6 346.2M187.3 344.6L191.2 345.5M185.9 343.9L189.8 344.8M184.5 343.1L188.4 344.1M183.1 342.4L187 343.4M181.7 341.7L185.7 342.7M180.4 340.9L184.3 342M179 340.2L182.9 341.3M177.6 339.5L181.5 340.6M176.2 338.8L180.1 339.9M174.8 338L178.8 339.2M173.5 337.3L177.4 338.5M172.1 336.6L176 337.8M170.7 335.8L174.6 337.1M169.3 335.1L173.2 336.4M167.9 334.4L171.9 335.7M166.5 333.6L170.5 335.1M165.2 332.9L169.1 334.4M163.8 332.2L167.7 333.7M162.4 331.4L166.3 333M161 330.7L165 332.3M159.6 330L163.6 331.6M158.3 329.2L162.2 330.9M156.9 328.5L160.8 330.2M155.5 327.8L159.4 329.5M154.1 327L158 328.8M152.7 326.3L156.7 328.1M151.4 325.6L155.3 327.4M150 324.9L153.9 326.7M148.6 324.1L152.5 326M147.2 323.4L151.1 325.3M145.8 322.7L149.8 324.6M144.5 321.9L148.4 323.9M143.1 321.2L147 323.2M141.7 320.5L145.6 322.5M140.3 319.7L144.2 321.8" fill="none" stroke="url(#h232)" stroke-width="0.5"/>
<path d="M215.3 359.9L207.7 355.9L200.1 351.9L192.5 347.8L184.9 343.8L177.3 339.7L169.7 335.7L162.1 331.6L154.5 327.6L146.9 323.6L139.3 319.5L140.3 319.7L147.9 323.8L155.5 327.8L163.1 331.8L170.7 335.8L178.3 339.9L185.9 343.9L193.5 347.9L201.1 351.9L208.7 355.9L216.3 360Z" fill="url(#g233)" stroke="url(#g233)" stroke-width="0.3"/>
<path d="M215.8 360L208.2 355.9L200.6 351.9L193 347.9L185.4 343.8L177.8 339.8L170.2 335.8L162.6 331.7L155 327.7L147.4 323.7L139.8 319.6" fill="none" stroke="url(#h233)" stroke-width="0.7"/>
<path d="M214.3 359.9L206.7 355.9L199.1 351.8L191.5 347.8L183.9 343.7L176.3 339.6L168.7 335.6L161.1 331.5L153.5 327.5L145.9 323.4L138.3 319.3L139.3 319.5L146.9 323.6L154.5 327.6L162.1 331.6L169.7 335.7L177.3 339.7L184.9 343.8L192.5 347.8L200.1 351.9L207.7 355.9L215.3 359.9Z" fill="url(#g234)" stroke="url(#g234)" stroke-width="0.3"/>
<path d="M213.3 359.9L205.7 355.9L198.1 351.8L190.5 347.7L182.9 343.6L175.3 339.6L167.7 335.5L160.1 331.4L152.6 327.4L145 323.3L137.4 319.2L138.3 319.3L145.9 323.4L153.5 327.5L161.1 331.5L168.7 335.6L176.3 339.6L183.9 343.7L191.5 347.8L199.1 351.8L206.7 355.9L214.3 359.9Z" fill="url(#g235)" stroke="url(#g235)" stroke-width="0.3"/>
<path d="M212.3 359.9L204.7 355.9L197.1 351.8L189.5 347.7L181.9 343.6L174.4 339.5L166.8 335.5L159.2 331.4L151.6 327.3L144 323.2L136.4 319.1L137.4 319.2L145 323.3L152.6 327.4L160.1 331.4L167.7 335.5L175.3 339.6L182.9 343.6L190.5 347.7L198.1 351.8L205.7 355.9L213.3 359.9Z" fill="url(#g236)" stroke="url(#g236)" stroke-width="0.3"/>
<path d="M212.3 359.9L216.3 360M210.9 359.2L214.9 359.2M209.6 358.5L213.5 358.5M208.2 357.7L212.1 357.8M206.8 357L210.7 357M205.4 356.2L209.4 356.3M204 355.5L208 355.6M202.7 354.8L206.6 354.9M201.3 354L205.2 354.1M199.9 353.3L203.8 353.4M198.5 352.5L202.5 352.7M197.1 351.8L201.1 351.9M195.8 351L199.7 351.2M194.4 350.3L198.3 350.5M193 349.6L196.9 349.7M191.6 348.8L195.5 349M190.2 348.1L194.2 348.3M188.9 347.3L192.8 347.5M187.5 346.6L191.4 346.8M186.1 345.9L190 346.1M184.7 345.1L188.6 345.3M183.3 344.4L187.3 344.6M181.9 343.6L185.9 343.9M180.6 342.9L184.5 343.1M179.2 342.1L183.1 342.4M177.8 341.4L181.7 341.7M176.4 340.7L180.4 340.9M175 339.9L179 340.2M173.7 339.2L177.6 339.5M172.3 338.4L176.2 338.8M170.9 337.7L174.8 338M169.5 336.9L173.5 337.3M168.1 336.2L172.1 336.6M166.8 335.5L170.7 335.8M165.4 334.7L169.3 335.1M164 334L167.9 334.4M162.6 333.2L166.5 333.6M161.2 332.5L165.2 332.9M159.9 331.8L163.8 332.2M158.5 331L162.4 331.4M157.1 330.3L161 330.7M155.7 329.5L159.6 330M154.3 328.8L158.3 329.2M153 328L156.9 328.5M151.6 327.3L155.5 327.8M150.2 326.6L154.1 327M148.8 325.8L152.7 326.3M147.4 325.1L151.4 325.6M146 324.3L150 324.9M144.7 323.6L148.6 324.1M143.3 322.8L147.2 323.4M141.9 322.1L145.8 322.7M140.5 321.4L144.5 321.9M139.1 320.6L143.1 321.2M137.8 319.9L141.7 320.5M136.4 319.1L140.3 319.7" fill="none" stroke="url(#h236)" stroke-width="0.5"/>
<path d="M211.3 360L203.8 355.9L196.2 351.8L188.6 347.7L181 343.6L173.4 339.6L165.8 335.5L158.2 331.4L150.6 327.3L143 323.2L135.4 319.1L136.4 319.1L144 323.2L151.6 327.3L159.2 331.4L166.8 335.5L174.4 339.5L181.9 343.6L189.5 347.7L197.1 351.8L204.7 355.9L212.3 359.9Z" fill="url(#g237)" stroke="url(#g237)" stroke-width="0.3"/>
<path d="M212.1 360L204.5 355.9L197 351.8L189.4 347.7L181.8 343.6L174.2 339.5L166.6 335.5L159 331.4L151.4 327.3L143.8 323.2L136.2 319.1" fill="none" stroke="url(#h237)" stroke-width="0.7"/>
<path d="M210.4 360L202.8 356L195.2 351.9L187.6 347.8L180 343.7L172.4 339.6L164.8 335.5L157.2 331.4L149.6 327.4L142 323.3L134.4 319.2L135.4 319.1L143 323.2L150.6 327.3L158.2 331.4L165.8 335.5L173.4 339.6L181 343.6L188.6 347.7L196.2 351.8L203.8 355.9L211.3 360Z" fill="url(#g238)" stroke="url(#g238)" stroke-width="0.3"/>
<path d="M209.4 360.1L201.8 356L194.2 352L186.6 347.9L179 343.8L171.4 339.7L163.8 335.6L156.2 331.5L148.6 327.5L141 323.4L133.4 319.3L134.4 319.2L142 323.3L149.6 327.4L157.2 331.4L164.8 335.5L172.4 339.6L180 343.7L187.6 347.8L195.2 351.9L202.8 356L210.4 360Z" fill="url(#g239)" stroke="url(#g239)" stroke-width="0.3"/>
<path d="M208.4 360.2L200.8 356.1L193.2 352L185.6 348L178 343.9L170.4 339.8L162.8 335.8L155.2 331.7L147.6 327.6L140 323.5L132.4 319.5L133.4 319.3L141 323.4L148.6 327.5L156.2 331.5L163.8 335.6L171.4 339.7L179 343.8L186.6 347.9L194.2 352L201.8 356L209.4 360.1Z" fill="url(#g240)" stroke="url(#g240)" stroke-width="0.3"/>
<path d="M208.4 360.2L212.3 359.9M207 359.4L210.9 359.2M205.6 358.7L209.6 358.5M204.3 358L208.2 357.7M202.9 357.2L206.8 357M201.5 356.5L205.4 356.2M200.1 355.7L204 355.5M198.7 355L202.7 354.8M197.4 354.3L201.3 354M196 353.5L199.9 353.3M194.6 352.8L198.5 352.5M193.2 352L197.1 351.8M191.8 351.3L195.8 351M190.4 350.6L194.4 350.3M189.1 349.8L193 349.6M187.7 349.1L191.6 348.8M186.3 348.3L190.2 348.1M184.9 347.6L188.9 347.3M183.5 346.9L187.5 346.6M182.2 346.1L186.1 345.9M180.8 345.4L184.7 345.1M179.4 344.6L183.3 344.4M178 343.9L181.9 343.6M176.6 343.2L180.6 342.9M175.3 342.4L179.2 342.1M173.9 341.7L177.8 341.4M172.5 340.9L176.4 340.7M171.1 340.2L175 339.9M169.7 339.5L173.7 339.2M168.4 338.7L172.3 338.4M167 338L170.9 337.7M165.6 337.2L169.5 336.9M164.2 336.5L168.1 336.2M162.8 335.8L166.8 335.5M161.4 335L165.4 334.7M160.1 334.3L164 334M158.7 333.5L162.6 333.2M157.3 332.8L161.2 332.5M155.9 332.1L159.9 331.8M154.5 331.3L158.5 331M153.2 330.6L157.1 330.3M151.8 329.8L155.7 329.5M150.4 329.1L154.3 328.8M149 328.4L153 328M147.6 327.6L151.6 327.3M146.3 326.9L150.2 326.6M144.9 326.1L148.8 325.8M143.5 325.4L147.4 325.1M142.1 324.7L146 324.3M140.7 323.9L144.7 323.6M139.4 323.2L143.3 322.8M138 322.4L141.9 322.1M136.6 321.7L140.5 321.4M135.2 321L139.1 320.6M133.8 320.2L137.8 319.9M132.4 319.5L136.4 319.1" fill="none" stroke="url(#h240)" stroke-width="0.5"/>
<path d="M208.5 360.2L200.9 356.1L193.3 352L185.7 348L178.1 343.9L170.5 339.8L162.9 335.7L155.3 331.7L147.7 327.6L140.1 323.5L132.6 319.5" fill="none" stroke="url(#h240)" stroke-width="0.7"/>
<path d="M207.4 360.2L199.8 356.2L192.2 352.1L184.6 348.1L177 344L169.4 340L161.8 335.9L154.3 331.9L146.7 327.8L139.1 323.8L131.5 319.7L132.4 319.5L140 323.5L147.6 327.6L155.2 331.7L162.8 335.8L170.4 339.8L178 343.9L185.6 348L193.2 352L200.8 356.1L208.4 360.2Z" fill="url(#g241)" stroke="url(#g241)" stroke-width="0.3"/>
<path d="M206.4 360.3L198.8 356.3L191.2 352.2L183.7 348.2L176.1 344.2L168.5 340.1L160.9 336.1L153.3 332.1L145.7 328L138.1 324L130.5 320L131.5 319.7L139.1 323.8L146.7 327.8L154.3 331.9L161.8 335.9L169.4 340L177 344L184.6 348.1L192.2 352.1L199.8 356.2L207.4 360.2Z" fill="url(#g242)" stroke="url(#g242)" stroke-width="0.3"/>
<path d="M205.5 360.5L197.9 356.4L190.3 352.4L182.7 348.4L175.1 344.4L167.5 340.3L159.9 336.3L152.3 332.3L144.7 328.3L137.1 324.3L129.5 320.2L130.5 320L138.1 324L145.7 328L153.3 332.1L160.9 336.1L168.5 340.1L176.1 344.2L183.7 348.2L191.2 352.2L198.8 356.3L206.4 360.3Z" fill="url(#g243)" stroke="url(#g243)" stroke-width="0.3"/>
<path d="M204.5 360.7L196.9 356.7L189.3 352.6L181.7 348.6L174.1 344.6L166.5 340.6L158.9 336.6L151.3 332.5L143.7 328.5L136.1 324.5L128.5 320.5L129.5 320.2L137.1 324.3L144.7 328.3L152.3 332.3L159.9 336.3L167.5 340.3L175.1 344.4L182.7 348.4L190.3 352.4L197.9 356.4L205.5 360.5Z" fill="url(#g244)" stroke="url(#g244)" stroke-width="0.3"/>
<path d="M204.5 360.7L208.4 360.2M203.1 359.9L207 359.4M201.7 359.2L205.6 358.7M200.3 358.5L204.3 358M198.9 357.7L202.9 357.2M197.6 357L201.5 356.5M196.2 356.3L200.1 355.7M194.8 355.6L198.7 355M193.4 354.8L197.4 354.3M192 354.1L196 353.5M190.7 353.4L194.6 352.8M189.3 352.6L193.2 352M187.9 351.9L191.8 351.3M186.5 351.2L190.4 350.6M185.1 350.4L189.1 349.8M183.8 349.7L187.7 349.1M182.4 349L186.3 348.3M181 348.3L184.9 347.6M179.6 347.5L183.5 346.9M178.2 346.8L182.2 346.1M176.9 346.1L180.8 345.4M175.5 345.3L179.4 344.6M174.1 344.6L178 343.9M172.7 343.9L176.6 343.2M171.3 343.1L175.3 342.4M169.9 342.4L173.9 341.7M168.6 341.7L172.5 340.9M167.2 340.9L171.1 340.2M165.8 340.2L169.7 339.5M164.4 339.5L168.4 338.7M163 338.8L167 338M161.7 338L165.6 337.2M160.3 337.3L164.2 336.5M158.9 336.6L162.8 335.8M157.5 335.8L161.4 335M156.1 335.1L160.1 334.3M154.8 334.4L158.7 333.5M153.4 333.6L157.3 332.8M152 332.9L155.9 332.1M150.6 332.2L154.5 331.3M149.2 331.5L153.2 330.6M147.9 330.7L151.8 329.8M146.5 330L150.4 329.1M145.1 329.3L149 328.4M143.7 328.5L147.6 327.6M142.3 327.8L146.3 326.9M140.9 327.1L144.9 326.1M139.6 326.3L143.5 325.4M138.2 325.6L142.1 324.7M136.8 324.9L140.7 323.9M135.4 324.1L139.4 323.2M134 323.4L138 322.4M132.7 322.7L136.6 321.7M131.3 322L135.2 321M129.9 321.2L133.8 320.2M128.5 320.5L132.4 319.5" fill="none" stroke="url(#h244)" stroke-width="0.5"/>
<path d="M204.9 360.6L197.3 356.5L189.7 352.5L182.1 348.5L174.5 344.5L166.9 340.5L159.3 336.5L151.7 332.4L144.1 328.4L136.5 324.4L128.9 320.4" fill="none" stroke="url(#h244)" stroke-width="0.7"/>
<path d="M203.5 361L195.9 357L188.3 352.9L180.7 348.9L173.1 344.9L165.5 340.9L157.9 336.9L150.3 332.8L142.7 328.8L135.1 324.8L127.5 320.8L128.5 320.5L136.1 324.5L143.7 328.5L151.3 332.5L158.9 336.6L166.5 340.6L174.1 344.6L181.7 348.6L189.3 352.6L196.9 356.7L204.5 360.7Z" fill="url(#g245)" stroke="url(#g245)" stroke-width="0.3"/>
<path d="M202.5 361.3L194.9 357.3L187.3 353.3L179.7 349.2L172.1 345.2L164.5 341.2L156.9 337.2L149.3 333.1L141.7 329.1L134.2 325.1L126.6 321L127.5 320.8L135.1 324.8L142.7 328.8L150.3 332.8L157.9 336.9L165.5 340.9L173.1 344.9L180.7 348.9L188.3 352.9L195.9 357L203.5 361Z" fill="url(#g246)" stroke="url(#g246)" stroke-width="0.3"/>
<path d="M201.5 361.7L193.9 357.6L186.3 353.6L178.7 349.6L171.1 345.5L163.5 341.5L156 337.5L148.4 333.4L140.8 329.4L133.2 325.4L125.6 321.3L126.6 321L134.2 325.1L141.7 329.1L149.3 333.1L156.9 337.2L164.5 341.2L172.1 345.2L179.7 349.2L187.3 353.3L194.9 357.3L202.5 361.3Z" fill="url(#g247)" stroke="url(#g247)" stroke-width="0.3"/>
<path d="M200.5 362L192.9 358L185.3 353.9L177.8 349.9L170.2 345.9L162.6 341.8L155 337.8L147.4 333.7L139.8 329.7L132.2 325.7L124.6 321.6L125.6 321.3L133.2 325.4L140.8 329.4L148.4 333.4L156 337.5L163.5 341.5L171.1 345.5L178.7 349.6L186.3 353.6L193.9 357.6L201.5 361.7Z" fill="url(#g248)" stroke="url(#g248)" stroke-width="0.3"/>
<path d="M200.5 362L204.5 360.7M199.2 361.3L203.1 359.9M197.8 360.6L201.7 359.2M196.4 359.8L200.3 358.5M195 359.1L198.9 357.7M193.6 358.3L197.6 357M192.3 357.6L196.2 356.3M190.9 356.9L194.8 355.6M189.5 356.1L193.4 354.8M188.1 355.4L192 354.1M186.7 354.7L190.7 353.4M185.3 353.9L189.3 352.6M184 353.2L187.9 351.9M182.6 352.5L186.5 351.2M181.2 351.7L185.1 350.4M179.8 351L183.8 349.7M178.4 350.3L182.4 349M177.1 349.5L181 348.3M175.7 348.8L179.6 347.5M174.3 348.1L178.2 346.8M172.9 347.3L176.9 346.1M171.5 346.6L175.5 345.3M170.2 345.9L174.1 344.6M168.8 345.1L172.7 343.9M167.4 344.4L171.3 343.1M166 343.7L169.9 342.4M164.6 342.9L168.6 341.7M163.3 342.2L167.2 340.9M161.9 341.5L165.8 340.2M160.5 340.7L164.4 339.5M159.1 340L163 338.8M157.7 339.3L161.7 338M156.4 338.5L160.3 337.3M155 337.8L158.9 336.6M153.6 337.1L157.5 335.8M152.2 336.3L156.1 335.1M150.8 335.6L154.8 334.4M149.4 334.9L153.4 333.6M148.1 334.1L152 332.9M146.7 333.4L150.6 332.2M145.3 332.6L149.2 331.5M143.9 331.9L147.9 330.7M142.5 331.2L146.5 330M141.2 330.4L145.1 329.3M139.8 329.7L143.7 328.5M138.4 329L142.3 327.8M137 328.2L140.9 327.1M135.6 327.5L139.6 326.3M134.3 326.8L138.2 325.6M132.9 326L136.8 324.9M131.5 325.3L135.4 324.1M130.1 324.6L134 323.4M128.7 323.8L132.7 322.7M127.4 323.1L131.3 322M126 322.4L129.9 321.2M124.6 321.6L128.5 320.5" fill="none" stroke="url(#h248)" stroke-width="0.5"/>
<path d="M201.3 361.7L193.7 357.7L186.1 353.7L178.5 349.6L170.9 345.6L163.4 341.6L155.8 337.5L148.2 333.5L140.6 329.5L133 325.4L125.4 321.4" fill="none" stroke="url(#h248)" stroke-width="0.7"/>
<path d="M199.6 362.4L192 358.3L184.4 354.3L176.8 350.2L169.2 346.2L161.6 342.2L154 338.1L146.4 334.1L138.8 330L131.2 326L123.6 321.9L124.6 321.6L132.2 325.7L139.8 329.7L147.4 333.7L155 337.8L162.6 341.8L170.2 345.9L177.8 349.9L185.3 353.9L192.9 358L200.5 362Z" fill="url(#g249)" stroke="url(#g249)" stroke-width="0.3"/>
<path d="M198.6 362.7L191 358.7L183.4 354.6L175.8 350.6L168.2 346.5L160.6 342.5L153 338.4L145.4 334.4L137.8 330.3L130.2 326.3L122.6 322.2L123.6 321.9L131.2 326L138.8 330L146.4 334.1L154 338.1L161.6 342.2L169.2 346.2L176.8 350.2L184.4 354.3L192 358.3L199.6 362.4Z" fill="url(#g250)" stroke="url(#g250)" stroke-width="0.3"/>
<path d="M197.6 363.1L190 359.1L182.4 355L174.8 350.9L167.2 346.9L159.6 342.8L152 338.8L144.4 334.7L136.8 330.7L129.2 326.6L121.6 322.6L122.6 322.2L130.2 326.3L137.8 330.3L145.4 334.4L153 338.4L160.6 342.5L168.2 346.5L175.8 350.6L183.4 354.6L191 358.7L198.6 362.7Z" fill="url(#g251)" stroke="url(#g251)" stroke-width="0.3"/>
<path d="M197.8 363L190.2 359L182.6 354.9L175 350.9L167.4 346.8L159.8 342.8L152.2 338.7L144.6 334.7L137 330.6L129.4 326.6L121.8 322.5" fill="none" stroke="url(#h251)" stroke-width="0.7"/>
<path d="M196.6 363.6L189 359.5L181.4 355.5L173.8 351.4L166.2 347.3L158.6 343.3L151 339.2L143.4 335.1L135.8 331L128.3 327L120.7 322.9L121.6 322.6L129.2 326.6L136.8 330.7L144.4 334.7L152 338.8L159.6 342.8L167.2 346.9L174.8 350.9L182.4 355L190 359.1L197.6 363.1Z" fill="url(#g252)" stroke="url(#g252)" stroke-width="0.3"/>
<path d="M196.6 363.6L200.5 362M195.2 362.9L199.2 361.3M193.8 362.1L197.8 360.6M192.5 361.4L196.4 359.8M191.1 360.7L195 359.1M189.7 359.9L193.6 358.3M188.3 359.2L192.3 357.6M186.9 358.4L190.9 356.9M185.6 357.7L189.5 356.1M184.2 357L188.1 355.4M182.8 356.2L186.7 354.7M181.4 355.5L185.3 353.9M180 354.7L184 353.2M178.7 354L182.6 352.5M177.3 353.3L181.2 351.7M175.9 352.5L179.8 351M174.5 351.8L178.4 350.3M173.1 351L177.1 349.5M171.8 350.3L175.7 348.8M170.4 349.6L174.3 348.1M169 348.8L172.9 347.3M167.6 348.1L171.5 346.6M166.2 347.3L170.2 345.9M164.8 346.6L168.8 345.1M163.5 345.9L167.4 344.4M162.1 345.1L166 343.7M160.7 344.4L164.6 342.9M159.3 343.6L163.3 342.2M157.9 342.9L161.9 341.5M156.6 342.2L160.5 340.7M155.2 341.4L159.1 340M153.8 340.7L157.7 339.3M152.4 339.9L156.4 338.5M151 339.2L155 337.8M149.7 338.5L153.6 337.1M148.3 337.7L152.2 336.3M146.9 337L150.8 335.6M145.5 336.2L149.4 334.9M144.1 335.5L148.1 334.1M142.8 334.7L146.7 333.4M141.4 334L145.3 332.6M140 333.3L143.9 331.9M138.6 332.5L142.5 331.2M137.2 331.8L141.2 330.4M135.8 331L139.8 329.7M134.5 330.3L138.4 329M133.1 329.6L137 328.2M131.7 328.8L135.6 327.5M130.3 328.1L134.3 326.8M128.9 327.3L132.9 326M127.6 326.6L131.5 325.3M126.2 325.9L130.1 324.6M124.8 325.1L128.7 323.8M123.4 324.4L127.4 323.1M122 323.6L126 322.4M120.7 322.9L124.6 321.6" fill="none" stroke="url(#h252)" stroke-width="0.5"/>
<path d="M195.6 364.2L188 360.1L180.4 356L172.8 351.9L165.2 347.8L157.7 343.7L150.1 339.7L142.5 335.6L134.9 331.5L127.3 327.4L119.7 323.3L120.7 322.9L128.3 327L135.8 331L143.4 335.1L151 339.2L158.6 343.3L166.2 347.3L173.8 351.4L181.4 355.5L189 359.5L196.6 363.6Z" fill="url(#g253)" stroke="url(#g253)" stroke-width="0.3"/>
<path d="M194.6 364.9L187 360.8L179.5 356.7L171.9 352.6L164.3 348.5L156.7 344.3L149.1 340.2L141.5 336.1L133.9 332L126.3 327.9L118.7 323.8L119.7 323.3L127.3 327.4L134.9 331.5L142.5 335.6L150.1 339.7L157.7 343.7L165.2 347.8L172.8 351.9L180.4 356L188 360.1L195.6 364.2Z" fill="url(#g254)" stroke="url(#g254)" stroke-width="0.3"/>
<path d="M193.7 365.6L186.1 361.5L178.5 357.4L170.9 353.3L163.3 349.2L155.7 345.1L148.1 341L140.5 336.8L132.9 332.7L125.3 328.6L117.7 324.5L118.7 323.8L126.3 327.9L133.9 332L141.5 336.1L149.1 340.2L156.7 344.3L164.3 348.5L171.9 352.6L179.5 356.7L187 360.8L194.6 364.9Z" fill="url(#g255)" stroke="url(#g255)" stroke-width="0.3"/>
<path d="M194.4 365.1L186.8 361L179.2 356.9L171.6 352.8L164 348.6L156.4 344.5L148.8 340.4L141.2 336.3L133.6 332.2L126 328.1L118.4 324" fill="none" stroke="url(#h255)" stroke-width="0.7"/>
<path d="M192.7 366.4L185.1 362.3L177.5 358.2L169.9 354.1L162.3 350L154.7 345.9L147.1 341.8L139.5 337.7L131.9 333.6L124.3 329.5L116.7 325.3L117.7 324.5L125.3 328.6L132.9 332.7L140.5 336.8L148.1 341L155.7 345.1L163.3 349.2L170.9 353.3L178.5 357.4L186.1 361.5L193.7 365.6Z" fill="url(#g256)" stroke="url(#g256)" stroke-width="0.3"/>
<path d="M192.7 366.4L196.6 363.6M191.3 365.6L195.2 362.9M189.9 364.9L193.8 362.1M188.5 364.1L192.5 361.4M187.2 363.4L191.1 360.7M185.8 362.7L189.7 359.9M184.4 361.9L188.3 359.2M183 361.2L186.9 358.4M181.6 360.4L185.6 357.7M180.3 359.7L184.2 357M178.9 358.9L182.8 356.2M177.5 358.2L181.4 355.5M176.1 357.4L180 354.7M174.7 356.7L178.7 354M173.3 355.9L177.3 353.3M172 355.2L175.9 352.5M170.6 354.4L174.5 351.8M169.2 353.7L173.1 351M167.8 353L171.8 350.3M166.4 352.2L170.4 349.6M165.1 351.5L169 348.8M163.7 350.7L167.6 348.1M162.3 350L166.2 347.3M160.9 349.2L164.8 346.6M159.5 348.5L163.5 345.9M158.2 347.7L162.1 345.1M156.8 347L160.7 344.4M155.4 346.2L159.3 343.6M154 345.5L157.9 342.9M152.6 344.7L156.6 342.2M151.3 344L155.2 341.4M149.9 343.3L153.8 340.7M148.5 342.5L152.4 339.9M147.1 341.8L151 339.2M145.7 341L149.7 338.5M144.3 340.3L148.3 337.7M143 339.5L146.9 337M141.6 338.8L145.5 336.2M140.2 338L144.1 335.5M138.8 337.3L142.8 334.7M137.4 336.5L141.4 334M136.1 335.8L140 333.3M134.7 335L138.6 332.5M133.3 334.3L137.2 331.8M131.9 333.6L135.8 331M130.5 332.8L134.5 330.3M129.2 332.1L133.1 329.6M127.8 331.3L131.7 328.8M126.4 330.6L130.3 328.1M125 329.8L128.9 327.3M123.6 329.1L127.6 326.6M122.3 328.3L126.2 325.9M120.9 327.6L124.8 325.1M119.5 326.8L123.4 324.4M118.1 326.1L122 323.6M116.7 325.3L120.7 322.9" fill="none" stroke="url(#h256)" stroke-width="0.5"/>
<path d="M191.7 367.2L184.1 363.1L176.5 359L168.9 354.9L161.3 350.8L153.7 346.7L146.1 342.7L138.5 338.6L130.9 334.5L123.3 330.4L115.7 326.3L116.7 325.3L124.3 329.5L131.9 333.6L139.5 337.7L147.1 341.8L154.7 345.9L162.3 350L169.9 354.1L177.5 358.2L185.1 362.3L192.7 366.4Z" fill="url(#g257)" stroke="url(#g257)" stroke-width="0.3"/>
<path d="M190.7 368.2L183.1 364.1L175.5 360L167.9 355.9L160.3 351.9L152.7 347.8L145.1 343.7L137.5 339.6L130 335.5L122.4 331.5L114.8 327.4L115.7 326.3L123.3 330.4L130.9 334.5L138.5 338.6L146.1 342.7L153.7 346.7L161.3 350.8L168.9 354.9L176.5 359L184.1 363.1L191.7 367.2Z" fill="url(#g258)" stroke="url(#g258)" stroke-width="0.3"/>
<path d="M191.3 367.6L183.7 363.5L176.1 359.4L168.5 355.3L160.9 351.3L153.3 347.2L145.7 343.1L138.1 339L130.5 334.9L122.9 330.9L115.3 326.8" fill="none" stroke="url(#h258)" stroke-width="0.7"/>
<path d="M189.7 369.4L182.1 365.3L174.5 361.2L166.9 357.1L159.4 353L151.8 349L144.2 344.9L136.6 340.8L129 336.7L121.4 332.6L113.8 328.5L114.8 327.4L122.4 331.5L130 335.5L137.5 339.6L145.1 343.7L152.7 347.8L160.3 351.9L167.9 355.9L175.5 360L183.1 364.1L190.7 368.2Z" fill="url(#g259)" stroke="url(#g259)" stroke-width="0.3"/>
<path d="M188.8 370.7L181.2 366.6L173.6 362.5L166 358.4L158.4 354.3L150.8 350.2L143.2 346.1L135.6 342L128 337.9L120.4 333.8L112.8 329.7L113.8 328.5L121.4 332.6L129 336.7L136.6 340.8L144.2 344.9L151.8 349L159.4 353L166.9 357.1L174.5 361.2L182.1 365.3L189.7 369.4Z" fill="url(#g260)" stroke="url(#g260)" stroke-width="0.3"/>
<path d="M188.8 370.7L192.7 366.4M187.4 370L191.3 365.6M186 369.3L189.9 364.9M184.6 368.5L188.5 364.1M183.2 367.8L187.2 363.4M181.8 367L185.8 362.7M180.5 366.3L184.4 361.9M179.1 365.5L183 361.2M177.7 364.8L181.6 360.4M176.3 364L180.3 359.7M174.9 363.3L178.9 358.9M173.6 362.5L177.5 358.2M172.2 361.8L176.1 357.4M170.8 361L174.7 356.7M169.4 360.3L173.3 355.9M168 359.6L172 355.2M166.7 358.8L170.6 354.4M165.3 358.1L169.2 353.7M163.9 357.3L167.8 353M162.5 356.6L166.4 352.2M161.1 355.8L165.1 351.5M159.8 355.1L163.7 350.7M158.4 354.3L162.3 350M157 353.6L160.9 349.2M155.6 352.8L159.5 348.5M154.2 352.1L158.2 347.7M152.8 351.4L156.8 347M151.5 350.6L155.4 346.2M150.1 349.9L154 345.5M148.7 349.1L152.6 344.7M147.3 348.4L151.3 344M145.9 347.6L149.9 343.3M144.6 346.9L148.5 342.5M143.2 346.1L147.1 341.8M141.8 345.4L145.7 341M140.4 344.6L144.3 340.3M139 343.9L143 339.5M137.7 343.1L141.6 338.8M136.3 342.4L140.2 338M134.9 341.7L138.8 337.3M133.5 340.9L137.4 336.5M132.1 340.2L136.1 335.8M130.8 339.4L134.7 335M129.4 338.7L133.3 334.3M128 337.9L131.9 333.6M126.6 337.2L130.5 332.8M125.2 336.4L129.2 332.1M123.8 335.7L127.8 331.3M122.5 334.9L126.4 330.6M121.1 334.2L125 329.8M119.7 333.4L123.6 329.1M118.3 332.7L122.3 328.3M116.9 332L120.9 327.6M115.6 331.2L119.5 326.8M114.2 330.5L118.1 326.1M112.8 329.7L116.7 325.3" fill="none" stroke="url(#h260)" stroke-width="0.5"/>
<path d="M187.8 372.2L180.2 368.1L172.6 363.9L165 359.8L157.4 355.7L149.8 351.6L142.2 347.4L134.6 343.3L127 339.2L119.4 335.1L111.8 330.9L112.8 329.7L120.4 333.8L128 337.9L135.6 342L143.2 346.1L150.8 350.2L158.4 354.3L166 358.4L173.6 362.5L181.2 366.6L188.8 370.7Z" fill="url(#g261)" stroke="url(#g261)" stroke-width="0.3"/>
<path d="M188.5 371.1L180.9 367L173.3 362.9L165.7 358.8L158.1 354.7L150.5 350.6L142.9 346.5L135.3 342.4L127.7 338.3L120.1 334.1L112.5 330" fill="none" stroke="url(#h261)" stroke-width="0.7"/>
<path d="M186.8 373.6L179.2 369.5L171.6 365.3L164 361.2L156.4 357L148.8 352.9L141.2 348.7L133.6 344.6L126 340.5L118.4 336.3L110.8 332.2L111.8 330.9L119.4 335.1L127 339.2L134.6 343.3L142.2 347.4L149.8 351.6L157.4 355.7L165 359.8L172.6 363.9L180.2 368.1L187.8 372.2Z" fill="url(#g262)" stroke="url(#g262)" stroke-width="0.3"/>
<path d="M185.8 374.9L178.2 370.8L170.6 366.6L163 362.5L155.4 358.4L147.8 354.2L140.2 350.1L132.6 345.9L125 341.8L117.4 337.7L109.9 333.5L110.8 332.2L118.4 336.3L126 340.5L133.6 344.6L141.2 348.7L148.8 352.9L156.4 357L164 361.2L171.6 365.3L179.2 369.5L186.8 373.6Z" fill="url(#g263)" stroke="url(#g263)" stroke-width="0.3"/>
<path d="M185.8 374.9L178.2 370.8L170.6 366.6L163 362.5L155.4 358.3L147.9 354.2L140.3 350L132.7 345.9L125.1 341.8L117.5 337.6L109.9 333.5" fill="none" stroke="url(#h263)" stroke-width="0.7"/>
<path d="M184.8 376.2L177.2 372.1L169.6 367.9L162 363.8L154.4 359.7L146.8 355.6L139.2 351.5L131.7 347.4L124.1 343.3L116.5 339.2L108.9 335.1L109.9 333.5L117.4 337.7L125 341.8L132.6 345.9L140.2 350.1L147.8 354.2L155.4 358.4L163 362.5L170.6 366.6L178.2 370.8L185.8 374.9Z" fill="url(#g264)" stroke="url(#g264)" stroke-width="0.3"/>
<path d="M184.8 376.2L188.8 370.7M183.4 375.4L187.4 370M182.1 374.7L186 369.3M180.7 373.9L184.6 368.5M179.3 373.2L183.2 367.8M177.9 372.4L181.8 367M176.5 371.7L180.5 366.3M175.2 370.9L179.1 365.5M173.8 370.2L177.7 364.8M172.4 369.4L176.3 364M171 368.7L174.9 363.3M169.6 367.9L173.6 362.5M168.2 367.2L172.2 361.8M166.9 366.5L170.8 361M165.5 365.7L169.4 360.3M164.1 365L168 359.6M162.7 364.2L166.7 358.8M161.3 363.5L165.3 358.1M160 362.7L163.9 357.3M158.6 362L162.5 356.6M157.2 361.2L161.1 355.8M155.8 360.5L159.8 355.1M154.4 359.7L158.4 354.3M153.1 359L157 353.6M151.7 358.2L155.6 352.8M150.3 357.5L154.2 352.1M148.9 356.7L152.8 351.4M147.5 356L151.5 350.6M146.2 355.3L150.1 349.9M144.8 354.5L148.7 349.1M143.4 353.8L147.3 348.4M142 353L145.9 347.6M140.6 352.3L144.6 346.9M139.2 351.5L143.2 346.1M137.9 350.8L141.8 345.4M136.5 350L140.4 344.6M135.1 349.3L139 343.9M133.7 348.5L137.7 343.1M132.3 347.8L136.3 342.4M131 347L134.9 341.7M129.6 346.3L133.5 340.9M128.2 345.6L132.1 340.2M126.8 344.8L130.8 339.4M125.4 344.1L129.4 338.7M124.1 343.3L128 337.9M122.7 342.6L126.6 337.2M121.3 341.8L125.2 336.4M119.9 341.1L123.8 335.7M118.5 340.3L122.5 334.9M117.2 339.6L121.1 334.2M115.8 338.8L119.7 333.4M114.4 338.1L118.3 332.7M113 337.3L116.9 332M111.6 336.6L115.6 331.2M110.3 335.8L114.2 330.5M108.9 335.1L112.8 329.7" fill="none" stroke="url(#h264)" stroke-width="0.5"/>
<path d="M183.8 377.4L176.2 373.3L168.6 369.3L161.1 365.2L153.5 361.2L145.9 357.1L138.3 353.1L130.7 349L123.1 345L115.5 340.9L107.9 336.9L108.9 335.1L116.5 339.2L124.1 343.3L131.7 347.4L139.2 351.5L146.8 355.6L154.4 359.7L162 363.8L169.6 367.9L177.2 372.1L184.8 376.2Z" fill="url(#g265)" stroke="url(#g265)" stroke-width="0.3"/>
<path d="M182.9 378.7L175.3 374.7L167.7 370.7L160.1 366.7L152.5 362.7L144.9 358.7L137.3 354.7L129.7 350.8L122.1 346.8L114.5 342.8L106.9 338.8L107.9 336.9L115.5 340.9L123.1 345L130.7 349L138.3 353.1L145.9 357.1L153.5 361.2L161.1 365.2L168.6 369.3L176.2 373.3L183.8 377.4Z" fill="url(#g266)" stroke="url(#g266)" stroke-width="0.3"/>
<path d="M183.3 378.1L175.7 374.1L168.1 370.1L160.5 366L152.9 362L145.3 358L137.7 354L130.1 350L122.5 346L114.9 341.9L107.3 337.9" fill="none" stroke="url(#h266)" stroke-width="0.7"/>
<path d="M181.9 380.2L174.3 376.3L166.7 372.3L159.1 368.4L151.5 364.4L143.9 360.5L136.3 356.5L128.7 352.6L121.1 348.7L113.5 344.7L105.9 340.8L106.9 338.8L114.5 342.8L122.1 346.8L129.7 350.8L137.3 354.7L144.9 358.7L152.5 362.7L160.1 366.7L167.7 370.7L175.3 374.7L182.9 378.7Z" fill="url(#g267)" stroke="url(#g267)" stroke-width="0.3"/>
<path d="M180.9 382L173.3 378.1L165.7 374.2L158.1 370.2L150.5 366.3L142.9 362.4L135.3 358.5L127.7 354.5L120.1 350.6L112.5 346.7L104.9 342.8L105.9 340.8L113.5 344.7L121.1 348.7L128.7 352.6L136.3 356.5L143.9 360.5L151.5 364.4L159.1 368.4L166.7 372.3L174.3 376.3L181.9 380.2Z" fill="url(#g268)" stroke="url(#g268)" stroke-width="0.3"/>
<path d="M180.9 382L184.8 376.2M179.5 381.3L183.4 375.4M178.1 380.6L182.1 374.7M176.7 379.9L180.7 373.9M175.4 379.2L179.3 373.2M174 378.4L177.9 372.4M172.6 377.7L176.5 371.7M171.2 377L175.2 370.9M169.8 376.3L173.8 370.2M168.5 375.6L172.4 369.4M167.1 374.9L171 368.7M165.7 374.2L169.6 367.9M164.3 373.5L168.2 367.2M162.9 372.7L166.9 366.5M161.6 372L165.5 365.7M160.2 371.3L164.1 365M158.8 370.6L162.7 364.2M157.4 369.9L161.3 363.5M156 369.2L160 362.7M154.7 368.5L158.6 362M153.3 367.7L157.2 361.2M151.9 367L155.8 360.5M150.5 366.3L154.4 359.7M149.1 365.6L153.1 359M147.7 364.9L151.7 358.2M146.4 364.2L150.3 357.5M145 363.5L148.9 356.7M143.6 362.8L147.5 356M142.2 362L146.2 355.3M140.8 361.3L144.8 354.5M139.5 360.6L143.4 353.8M138.1 359.9L142 353M136.7 359.2L140.6 352.3M135.3 358.5L139.2 351.5M133.9 357.8L137.9 350.8M132.6 357L136.5 350M131.2 356.3L135.1 349.3M129.8 355.6L133.7 348.5M128.4 354.9L132.3 347.8M127 354.2L131 347M125.7 353.5L129.6 346.3M124.3 352.8L128.2 345.6M122.9 352L126.8 344.8M121.5 351.3L125.4 344.1M120.1 350.6L124.1 343.3M118.7 349.9L122.7 342.6M117.4 349.2L121.3 341.8M116 348.5L119.9 341.1M114.6 347.8L118.5 340.3M113.2 347.1L117.2 339.6M111.8 346.3L115.8 338.8M110.5 345.6L114.4 338.1M109.1 344.9L113 337.3M107.7 344.2L111.6 336.6M106.3 343.5L110.3 335.8M104.9 342.8L108.9 335.1" fill="none" stroke="url(#h268)" stroke-width="0.5"/>
<path d="M181 381.8L173.4 377.9L165.8 374L158.2 370.1L150.6 366.1L143 362.2L135.4 358.3L127.8 354.4L120.2 350.4L112.6 346.5L105 342.6" fill="none" stroke="url(#h268)" stroke-width="0.7"/>
<path d="M179.9 384.1L172.3 380.2L164.7 376.3L157.1 372.3L149.5 368.4L141.9 364.4L134.3 360.5L126.7 356.6L119.1 352.6L111.6 348.7L104 344.7L104.9 342.8L112.5 346.7L120.1 350.6L127.7 354.5L135.3 358.5L142.9 362.4L150.5 366.3L158.1 370.2L165.7 374.2L173.3 378.1L180.9 382Z" fill="url(#g269)" stroke="url(#g269)" stroke-width="0.3"/>
<path d="M178.9 386.5L171.3 382.5L163.7 378.5L156.1 374.5L148.5 370.5L140.9 366.6L133.4 362.6L125.8 358.6L118.2 354.6L110.6 350.6L103 346.6L104 344.7L111.6 348.7L119.1 352.6L126.7 356.6L134.3 360.5L141.9 364.4L149.5 368.4L157.1 372.3L164.7 376.3L172.3 380.2L179.9 384.1Z" fill="url(#g270)" stroke="url(#g270)" stroke-width="0.3"/>
<path d="M177.9 389L170.3 384.9L162.8 380.9L155.2 376.8L147.6 372.8L140 368.7L132.4 364.7L124.8 360.6L117.2 356.5L109.6 352.5L102 348.4L103 346.6L110.6 350.6L118.2 354.6L125.8 358.6L133.4 362.6L140.9 366.6L148.5 370.5L156.1 374.5L163.7 378.5L171.3 382.5L178.9 386.5Z" fill="url(#g271)" stroke="url(#g271)" stroke-width="0.3"/>
<path d="M178.9 386.6L171.3 382.6L163.7 378.6L156.1 374.7L148.5 370.7L140.9 366.7L133.3 362.7L125.7 358.7L118.1 354.7L110.5 350.7L102.9 346.7" fill="none" stroke="url(#h271)" stroke-width="0.7"/>
<path d="M177 391.5L169.4 387.4L161.8 383.2L154.2 379.1L146.6 375L139 370.9L131.4 366.7L123.8 362.6L116.2 358.5L108.6 354.4L101 350.2L102 348.4L109.6 352.5L117.2 356.5L124.8 360.6L132.4 364.7L140 368.7L147.6 372.8L155.2 376.8L162.8 380.9L170.3 384.9L177.9 389Z" fill="url(#g272)" stroke="url(#g272)" stroke-width="0.3"/>
<path d="M177 391.5L180.9 382M175.6 390.7L179.5 381.3M174.2 390L178.1 380.6M172.8 389.2L176.7 379.9M171.4 388.5L175.4 379.2M170.1 387.7L174 378.4M168.7 387L172.6 377.7M167.3 386.2L171.2 377M165.9 385.5L169.8 376.3M164.5 384.7L168.5 375.6M163.2 384L167.1 374.9M161.8 383.2L165.7 374.2M160.4 382.5L164.3 373.5M159 381.7L162.9 372.7M157.6 381L161.6 372M156.2 380.2L160.2 371.3M154.9 379.5L158.8 370.6M153.5 378.7L157.4 369.9M152.1 378L156 369.2M150.7 377.2L154.7 368.5M149.3 376.5L153.3 367.7M148 375.7L151.9 367M146.6 375L150.5 366.3M145.2 374.2L149.1 365.6M143.8 373.5L147.7 364.9M142.4 372.7L146.4 364.2M141.1 372L145 363.5M139.7 371.2L143.6 362.8M138.3 370.5L142.2 362M136.9 369.7L140.8 361.3M135.5 369L139.5 360.6M134.2 368.2L138.1 359.9M132.8 367.5L136.7 359.2M131.4 366.7L135.3 358.5M130 366L133.9 357.8M128.6 365.2L132.6 357M127.2 364.5L131.2 356.3M125.9 363.7L129.8 355.6M124.5 363L128.4 354.9M123.1 362.2L127 354.2M121.7 361.5L125.7 353.5M120.3 360.7L124.3 352.8M119 360L122.9 352M117.6 359.2L121.5 351.3M116.2 358.5L120.1 350.6M114.8 357.7L118.7 349.9M113.4 357L117.4 349.2M112.1 356.2L116 348.5M110.7 355.5L114.6 347.8M109.3 354.7L113.2 347.1M107.9 354L111.8 346.3M106.5 353.2L110.5 345.6M105.2 352.5L109.1 344.9M103.8 351.7L107.7 344.2M102.4 351L106.3 343.5M101 350.2L104.9 342.8" fill="none" stroke="url(#h272)" stroke-width="0.5"/>
<path d="M176 394L168.4 389.8L160.8 385.6L153.2 381.4L145.6 377.2L138 373L130.4 368.8L122.8 364.6L115.2 360.4L107.6 356.2L100 352L101 350.2L108.6 354.4L116.2 358.5L123.8 362.6L131.4 366.7L139 370.9L146.6 375L154.2 379.1L161.8 383.2L169.4 387.4L177 391.5Z" fill="url(#g273)" stroke="url(#g273)" stroke-width="0.3"/>
<path d="M176.8 391.9L169.2 387.8L161.6 383.6L154 379.5L146.4 375.3L138.8 371.2L131.2 367.1L123.6 362.9L116 358.8L108.4 354.7L100.9 350.5" fill="none" stroke="url(#h273)" stroke-width="0.7"/>
<path d="M175 396.4L167.4 392.2L159.8 387.9L152.2 383.7L144.6 379.4L137 375.2L129.4 370.9L121.8 366.7L114.2 362.4L106.6 358.2L99 353.9L100 352L107.6 356.2L115.2 360.4L122.8 364.6L130.4 368.8L138 373L145.6 377.2L153.2 381.4L160.8 385.6L168.4 389.8L176 394Z" fill="url(#g274)" stroke="url(#g274)" stroke-width="0.3"/>
<path d="M174 399L166.4 394.7L158.8 390.4L151.2 386.1L143.6 381.8L136 377.5L128.4 373.2L120.8 368.9L113.3 364.6L105.7 360.3L98.1 355.9L99 353.9L106.6 358.2L114.2 362.4L121.8 366.7L129.4 370.9L137 375.2L144.6 379.4L152.2 383.7L159.8 387.9L167.4 392.2L175 396.4Z" fill="url(#g275)" stroke="url(#g275)" stroke-width="0.3"/>
<path d="M174.7 397.1L167.2 392.8L159.6 388.6L152 384.3L144.4 380L136.8 375.8L129.2 371.5L121.6 367.2L114 363L106.4 358.7L98.8 354.4" fill="none" stroke="url(#h275)" stroke-width="0.7"/>
<path d="M173 401.6L165.4 397.2L157.8 392.9L150.2 388.5L142.6 384.2L135.1 379.9L127.5 375.5L119.9 371.2L112.3 366.8L104.7 362.5L97.1 358.1L98.1 355.9L105.7 360.3L113.3 364.6L120.8 368.9L128.4 373.2L136 377.5L143.6 381.8L151.2 386.1L158.8 390.4L166.4 394.7L174 399Z" fill="url(#g276)" stroke="url(#g276)" stroke-width="0.3"/>
<path d="M173 401.6L177 391.5M171.6 400.8L175.6 390.7M170.3 400L174.2 390M168.9 399.2L172.8 389.2M167.5 398.4L171.4 388.5M166.1 397.6L170.1 387.7M164.7 396.8L168.7 387M163.4 396L167.3 386.2M162 395.2L165.9 385.5M160.6 394.5L164.5 384.7M159.2 393.7L163.2 384M157.8 392.9L161.8 383.2M156.5 392.1L160.4 382.5M155.1 391.3L159 381.7M153.7 390.5L157.6 381M152.3 389.7L156.2 380.2M150.9 388.9L154.9 379.5M149.6 388.1L153.5 378.7M148.2 387.4L152.1 378M146.8 386.6L150.7 377.2M145.4 385.8L149.3 376.5M144 385L148 375.7M142.6 384.2L146.6 375M141.3 383.4L145.2 374.2M139.9 382.6L143.8 373.5M138.5 381.8L142.4 372.7M137.1 381L141.1 372M135.7 380.2L139.7 371.2M134.4 379.5L138.3 370.5M133 378.7L136.9 369.7M131.6 377.9L135.5 369M130.2 377.1L134.2 368.2M128.8 376.3L132.8 367.5M127.5 375.5L131.4 366.7M126.1 374.7L130 366M124.7 373.9L128.6 365.2M123.3 373.1L127.2 364.5M121.9 372.4L125.9 363.7M120.6 371.6L124.5 363M119.2 370.8L123.1 362.2M117.8 370L121.7 361.5M116.4 369.2L120.3 360.7M115 368.4L119 360M113.7 367.6L117.6 359.2M112.3 366.8L116.2 358.5M110.9 366L114.8 357.7M109.5 365.2L113.4 357M108.1 364.5L112.1 356.2M106.7 363.7L110.7 355.5M105.4 362.9L109.3 354.7M104 362.1L107.9 354M102.6 361.3L106.5 353.2M101.2 360.5L105.2 352.5M99.8 359.7L103.8 351.7M98.5 358.9L102.4 351M97.1 358.1L101 350.2" fill="none" stroke="url(#h276)" stroke-width="0.5"/>
<path d="M172 404.2L164.5 399.8L156.9 395.5L149.3 391.1L141.7 386.8L134.1 382.4L126.5 378L118.9 373.7L111.3 369.3L103.7 364.9L96.1 360.6L97.1 358.1L104.7 362.5L112.3 366.8L119.9 371.2L127.5 375.5L135.1 379.9L142.6 384.2L150.2 388.5L157.8 392.9L165.4 397.2L173 401.6Z" fill="url(#g277)" stroke="url(#g277)" stroke-width="0.3"/>
<path d="M172.8 402.2L165.2 397.8L157.6 393.5L150 389.1L142.4 384.8L134.8 380.4L127.2 376.1L119.6 371.7L112 367.4L104.4 363.1L96.8 358.7" fill="none" stroke="url(#h277)" stroke-width="0.7"/>
<path d="M171.1 406.9L163.5 402.6L155.9 398.3L148.3 393.9L140.7 389.6L133.1 385.3L125.5 381L117.9 376.6L110.3 372.3L102.7 368L95.1 363.7L96.1 360.6L103.7 364.9L111.3 369.3L118.9 373.7L126.5 378L134.1 382.4L141.7 386.8L149.3 391.1L156.9 395.5L164.5 399.8L172 404.2Z" fill="url(#g278)" stroke="url(#g278)" stroke-width="0.3"/>
<path d="M170.1 409.6L162.5 405.4L154.9 401.1L147.3 396.9L139.7 392.7L132.1 388.4L124.5 384.2L116.9 379.9L109.3 375.7L101.7 371.5L94.1 367.2L95.1 363.7L102.7 368L110.3 372.3L117.9 376.6L125.5 381L133.1 385.3L140.7 389.6L148.3 393.9L155.9 398.3L163.5 402.6L171.1 406.9Z" fill="url(#g279)" stroke="url(#g279)" stroke-width="0.3"/>
<path d="M171 407L163.4 402.7L155.8 398.3L148.2 394L140.7 389.7L133.1 385.4L125.5 381.1L117.9 376.7L110.3 372.4L102.7 368.1L95.1 363.8" fill="none" stroke="url(#h279)" stroke-width="0.7"/>
<path d="M169.1 412.6L161.5 408.4L153.9 404.2L146.3 400L138.7 395.8L131.1 391.6L123.5 387.4L115.9 383.2L108.3 379L100.7 374.8L93.2 370.6L94.1 367.2L101.7 371.5L109.3 375.7L116.9 379.9L124.5 384.2L132.1 388.4L139.7 392.7L147.3 396.9L154.9 401.1L162.5 405.4L170.1 409.6Z" fill="url(#g280)" stroke="url(#g280)" stroke-width="0.3"/>
<path d="M169.1 412.6L173 401.6M167.7 411.8L171.6 400.8M166.3 411L170.3 400M165 410.3L168.9 399.2M163.6 409.5L167.5 398.4M162.2 408.8L166.1 397.6M160.8 408L164.7 396.8M159.4 407.2L163.4 396M158.1 406.5L162 395.2M156.7 405.7L160.6 394.5M155.3 404.9L159.2 393.7M153.9 404.2L157.8 392.9M152.5 403.4L156.5 392.1M151.1 402.7L155.1 391.3M149.8 401.9L153.7 390.5M148.4 401.1L152.3 389.7M147 400.4L150.9 388.9M145.6 399.6L149.6 388.1M144.2 398.8L148.2 387.4M142.9 398.1L146.8 386.6M141.5 397.3L145.4 385.8M140.1 396.6L144 385M138.7 395.8L142.6 384.2M137.3 395L141.3 383.4M136 394.3L139.9 382.6M134.6 393.5L138.5 381.8M133.2 392.7L137.1 381M131.8 392L135.7 380.2M130.4 391.2L134.4 379.5M129.1 390.5L133 378.7M127.7 389.7L131.6 377.9M126.3 388.9L130.2 377.1M124.9 388.2L128.8 376.3M123.5 387.4L127.5 375.5M122.1 386.6L126.1 374.7M120.8 385.9L124.7 373.9M119.4 385.1L123.3 373.1M118 384.4L121.9 372.4M116.6 383.6L120.6 371.6M115.2 382.8L119.2 370.8M113.9 382.1L117.8 370M112.5 381.3L116.4 369.2M111.1 380.5L115 368.4M109.7 379.8L113.7 367.6M108.3 379L112.3 366.8M107 378.3L110.9 366M105.6 377.5L109.5 365.2M104.2 376.7L108.1 364.5M102.8 376L106.7 363.7M101.4 375.2L105.4 362.9M100.1 374.4L104 362.1M98.7 373.7L102.6 361.3M97.3 372.9L101.2 360.5M95.9 372.1L99.8 359.7M94.5 371.4L98.5 358.9M93.2 370.6L97.1 358.1" fill="none" stroke="url(#h280)" stroke-width="0.5"/>
<path d="M169.4 411.5L161.8 407.3L154.2 403.1L146.6 398.9L139.1 394.7L131.5 390.5L123.9 386.3L116.3 382.1L108.7 377.9L101.1 373.7L93.5 369.5" fill="none" stroke="url(#h280)" stroke-width="0.7"/>
<path d="M168.1 415.8L160.5 411.6L152.9 407.4L145.3 403.1L137.7 398.9L130.1 394.7L122.5 390.4L115 386.2L107.4 382L99.8 377.7L92.2 373.5L93.2 370.6L100.7 374.8L108.3 379L115.9 383.2L123.5 387.4L131.1 391.6L138.7 395.8L146.3 400L153.9 404.2L161.5 408.4L169.1 412.6Z" fill="url(#g281)" stroke="url(#g281)" stroke-width="0.3"/>
<path d="M167.1 419.2L159.5 414.8L151.9 410.5L144.3 406.2L136.8 401.9L129.2 397.6L121.6 393.3L114 389L106.4 384.7L98.8 380.4L91.2 376L92.2 373.5L99.8 377.7L107.4 382L115 386.2L122.5 390.4L130.1 394.7L137.7 398.9L145.3 403.1L152.9 407.4L160.5 411.6L168.1 415.8Z" fill="url(#g282)" stroke="url(#g282)" stroke-width="0.3"/>
<path d="M167.8 416.9L160.2 412.6L152.6 408.4L145 404.1L137.4 399.9L129.8 395.6L122.2 391.4L114.6 387.1L107 382.9L99.4 378.6L91.9 374.3" fill="none" stroke="url(#h282)" stroke-width="0.7"/>
<path d="M166.2 422.3L158.6 418L151 413.6L143.4 409.2L135.8 404.8L128.2 400.4L120.6 396L113 391.6L105.4 387.2L97.8 382.8L90.2 378.5L91.2 376L98.8 380.4L106.4 384.7L114 389L121.6 393.3L129.2 397.6L136.8 401.9L144.3 406.2L151.9 410.5L159.5 414.8L167.1 419.2Z" fill="url(#g283)" stroke="url(#g283)" stroke-width="0.3"/>
<path d="M165.2 425.2L157.6 420.8L150 416.3L142.4 411.9L134.8 407.5L127.2 403L119.6 398.6L112 394.2L104.4 389.7L96.8 385.3L89.2 380.9L90.2 378.5L97.8 382.8L105.4 387.2L113 391.6L120.6 396L128.2 400.4L135.8 404.8L143.4 409.2L151 413.6L158.6 418L166.2 422.3Z" fill="url(#g284)" stroke="url(#g284)" stroke-width="0.3"/>
<path d="M165.2 425.2L169.1 412.6M163.8 424.4L167.7 411.8M162.4 423.6L166.3 411M161 422.8L165 410.3M159.6 422L163.6 409.5M158.3 421.2L162.2 408.8M156.9 420.4L160.8 408M155.5 419.5L159.4 407.2M154.1 418.7L158.1 406.5M152.7 417.9L156.7 405.7M151.4 417.1L155.3 404.9M150 416.3L153.9 404.2M148.6 415.5L152.5 403.4M147.2 414.7L151.1 402.7M145.8 413.9L149.8 401.9M144.5 413.1L148.4 401.1M143.1 412.3L147 400.4M141.7 411.5L145.6 399.6M140.3 410.7L144.2 398.8M138.9 409.9L142.9 398.1M137.6 409.1L141.5 397.3M136.2 408.3L140.1 396.6M134.8 407.5L138.7 395.8M133.4 406.7L137.3 395M132 405.9L136 394.3M130.6 405L134.6 393.5M129.3 404.2L133.2 392.7M127.9 403.4L131.8 392M126.5 402.6L130.4 391.2M125.1 401.8L129.1 390.5M123.7 401L127.7 389.7M122.4 400.2L126.3 388.9M121 399.4L124.9 388.2M119.6 398.6L123.5 387.4M118.2 397.8L122.1 386.6M116.8 397L120.8 385.9M115.5 396.2L119.4 385.1M114.1 395.4L118 384.4M112.7 394.6L116.6 383.6M111.3 393.8L115.2 382.8M109.9 393L113.9 382.1M108.6 392.2L112.5 381.3M107.2 391.4L111.1 380.5M105.8 390.6L109.7 379.8M104.4 389.7L108.3 379M103 388.9L107 378.3M101.6 388.1L105.6 377.5M100.3 387.3L104.2 376.7M98.9 386.5L102.8 376M97.5 385.7L101.4 375.2M96.1 384.9L100.1 374.4M94.7 384.1L98.7 373.7M93.4 383.3L97.3 372.9M92 382.5L95.9 372.1M90.6 381.7L94.5 371.4M89.2 380.9L93.2 370.6" fill="none" stroke="url(#h284)" stroke-width="0.5"/>
<path d="M166.1 422.6L158.5 418.2L150.9 413.8L143.3 409.4L135.7 405L128.1 400.6L120.5 396.2L112.9 391.8L105.3 387.4L97.7 383L90.1 378.6" fill="none" stroke="url(#h284)" stroke-width="0.7"/>
<path d="M164.2 427.4L156.6 423L149 418.6L141.4 414.3L133.8 409.9L126.2 405.5L118.6 401.1L111 396.7L103.4 392.3L95.8 387.9L88.2 383.5L89.2 380.9L96.8 385.3L104.4 389.7L112 394.2L119.6 398.6L127.2 403L134.8 407.5L142.4 411.9L150 416.3L157.6 420.8L165.2 425.2Z" fill="url(#g285)" stroke="url(#g285)" stroke-width="0.3"/>
<path d="M164.2 427.4L156.6 423L149 418.6L141.4 414.2L133.8 409.8L126.2 405.4L118.6 401L111 396.6L103.5 392.2L95.9 387.8L88.3 383.4" fill="none" stroke="url(#h285)" stroke-width="0.7"/>
<path d="M163.2 429.2L155.6 424.9L148 420.6L140.4 416.4L132.8 412.1L125.2 407.8L117.6 403.5L110 399.2L102.4 394.9L94.8 390.7L87.3 386.4L88.2 383.5L95.8 387.9L103.4 392.3L111 396.7L118.6 401.1L126.2 405.5L133.8 409.9L141.4 414.3L149 418.6L156.6 423L164.2 427.4Z" fill="url(#g286)" stroke="url(#g286)" stroke-width="0.3"/>
<path d="M162.2 430.8L154.6 426.7L147 422.6L139.4 418.4L131.8 414.3L124.2 410.2L116.7 406.1L109.1 402L101.5 397.8L93.9 393.7L86.3 389.6L87.3 386.4L94.8 390.7L102.4 394.9L110 399.2L117.6 403.5L125.2 407.8L132.8 412.1L140.4 416.4L148 420.6L155.6 424.9L163.2 429.2Z" fill="url(#g287)" stroke="url(#g287)" stroke-width="0.3"/>
<path d="M162.3 430.7L154.7 426.6L147.1 422.5L139.5 418.4L131.9 414.2L124.3 410.1L116.7 406L109.1 401.8L101.5 397.7L93.9 393.6L86.3 389.5" fill="none" stroke="url(#h287)" stroke-width="0.7"/>
<path d="M161.2 431.9L153.6 428L146 424.1L138.5 420.2L130.9 416.3L123.3 412.4L115.7 408.5L108.1 404.6L100.5 400.7L92.9 396.8L85.3 392.9L86.3 389.6L93.9 393.7L101.5 397.8L109.1 402L116.7 406.1L124.2 410.2L131.8 414.3L139.4 418.4L147 422.6L154.6 426.7L162.2 430.8Z" fill="url(#g288)" stroke="url(#g288)" stroke-width="0.3"/>
<path d="M161.2 431.9L165.2 425.2M159.9 431.2L163.8 424.4M158.5 430.5L162.4 423.6M157.1 429.8L161 422.8M155.7 429.1L159.6 422M154.3 428.4L158.3 421.2M153 427.7L156.9 420.4M151.6 427L155.5 419.5M150.2 426.3L154.1 418.7M148.8 425.6L152.7 417.9M147.4 424.8L151.4 417.1M146 424.1L150 416.3M144.7 423.4L148.6 415.5M143.3 422.7L147.2 414.7M141.9 422L145.8 413.9M140.5 421.3L144.5 413.1M139.1 420.6L143.1 412.3M137.8 419.9L141.7 411.5M136.4 419.2L140.3 410.7M135 418.5L138.9 409.9M133.6 417.7L137.6 409.1M132.2 417L136.2 408.3M130.9 416.3L134.8 407.5M129.5 415.6L133.4 406.7M128.1 414.9L132 405.9M126.7 414.2L130.6 405M125.3 413.5L129.3 404.2M124 412.8L127.9 403.4M122.6 412.1L126.5 402.6M121.2 411.4L125.1 401.8M119.8 410.7L123.7 401M118.4 409.9L122.4 400.2M117.1 409.2L121 399.4M115.7 408.5L119.6 398.6M114.3 407.8L118.2 397.8M112.9 407.1L116.8 397M111.5 406.4L115.5 396.2M110.1 405.7L114.1 395.4M108.8 405L112.7 394.6M107.4 404.3L111.3 393.8M106 403.6L109.9 393M104.6 402.8L108.6 392.2M103.2 402.1L107.2 391.4M101.9 401.4L105.8 390.6M100.5 400.7L104.4 389.7M99.1 400L103 388.9M97.7 399.3L101.6 388.1M96.3 398.6L100.3 387.3M95 397.9L98.9 386.5M93.6 397.2L97.5 385.7M92.2 396.5L96.1 384.9M90.8 395.7L94.7 384.1M89.4 395L93.4 383.3M88.1 394.3L92 382.5M86.7 393.6L90.6 381.7M85.3 392.9L89.2 380.9" fill="none" stroke="url(#h288)" stroke-width="0.5"/>
<path d="M160.3 432.3L152.7 428.7L145.1 425.1L137.5 421.4L129.9 417.8L122.3 414.2L114.7 410.6L107.1 406.9L99.5 403.3L91.9 399.7L84.3 396.1L85.3 392.9L92.9 396.8L100.5 400.7L108.1 404.6L115.7 408.5L123.3 412.4L130.9 416.3L138.5 420.2L146 424.1L153.6 428L161.2 431.9Z" fill="url(#g289)" stroke="url(#g289)" stroke-width="0.3"/>
<path d="M159.3 432.1L151.7 428.7L144.1 425.4L136.5 422.1L128.9 418.8L121.3 415.4L113.7 412.1L106.1 408.8L98.5 405.5L90.9 402.2L83.3 398.8L84.3 396.1L91.9 399.7L99.5 403.3L107.1 406.9L114.7 410.6L122.3 414.2L129.9 417.8L137.5 421.4L145.1 425.1L152.7 428.7L160.3 432.3Z" fill="url(#g290)" stroke="url(#g290)" stroke-width="0.3"/>
<path d="M160.1 432.3L152.5 428.7L144.9 425.2L137.3 421.6L129.7 418L122.1 414.5L114.5 410.9L106.9 407.3L99.3 403.8L91.7 400.2L84.1 396.6" fill="none" stroke="url(#h290)" stroke-width="0.7"/>
<path d="M158.3 431.5L150.7 428.5L143.1 425.5L135.5 422.5L127.9 419.5L120.3 416.5L112.7 413.5L105.1 410.5L97.5 407.5L89.9 404.5L82.3 401.5L83.3 398.8L90.9 402.2L98.5 405.5L106.1 408.8L113.7 412.1L121.3 415.4L128.9 418.8L136.5 422.1L144.1 425.4L151.7 428.7L159.3 432.1Z" fill="url(#g291)" stroke="url(#g291)" stroke-width="0.3"/>
<path d="M157.3 430.8L149.7 428.2L142.1 425.5L134.5 422.9L126.9 420.2L119.3 417.5L111.7 414.9L104.1 412.2L96.6 409.6L89 406.9L81.4 404.2L82.3 401.5L89.9 404.5L97.5 407.5L105.1 410.5L112.7 413.5L120.3 416.5L127.9 419.5L135.5 422.5L143.1 425.5L150.7 428.5L158.3 431.5Z" fill="url(#g292)" stroke="url(#g292)" stroke-width="0.3"/>
<path d="M157.3 430.8L161.2 431.9M155.9 430.4L159.9 431.2M154.5 429.9L158.5 430.5M153.2 429.4L157.1 429.8M151.8 428.9L155.7 429.1M150.4 428.4L154.3 428.4M149 427.9L153 427.7M147.6 427.5L151.6 427M146.3 427L150.2 426.3M144.9 426.5L148.8 425.6M143.5 426L147.4 424.8M142.1 425.5L146 424.1M140.7 425L144.7 423.4M139.4 424.6L143.3 422.7M138 424.1L141.9 422M136.6 423.6L140.5 421.3M135.2 423.1L139.1 420.6M133.8 422.6L137.8 419.9M132.5 422.1L136.4 419.2M131.1 421.7L135 418.5M129.7 421.2L133.6 417.7M128.3 420.7L132.2 417M126.9 420.2L130.9 416.3M125.5 419.7L129.5 415.6M124.2 419.2L128.1 414.9M122.8 418.8L126.7 414.2M121.4 418.3L125.3 413.5M120 417.8L124 412.8M118.6 417.3L122.6 412.1M117.3 416.8L121.2 411.4M115.9 416.3L119.8 410.7M114.5 415.8L118.4 409.9M113.1 415.4L117.1 409.2M111.7 414.9L115.7 408.5M110.4 414.4L114.3 407.8M109 413.9L112.9 407.1M107.6 413.4L111.5 406.4M106.2 412.9L110.1 405.7M104.8 412.5L108.8 405M103.5 412L107.4 404.3M102.1 411.5L106 403.6M100.7 411L104.6 402.8M99.3 410.5L103.2 402.1M97.9 410L101.9 401.4M96.6 409.6L100.5 400.7M95.2 409.1L99.1 400M93.8 408.6L97.7 399.3M92.4 408.1L96.3 398.6M91 407.6L95 397.9M89.6 407.1L93.6 397.2M88.3 406.7L92.2 396.5M86.9 406.2L90.8 395.7M85.5 405.7L89.4 395M84.1 405.2L88.1 394.3M82.7 404.7L86.7 393.6M81.4 404.2L85.3 392.9" fill="none" stroke="url(#h292)" stroke-width="0.5"/>
<path d="M156.3 430.5L148.7 428.1L141.1 425.7L133.5 423.3L125.9 420.8L118.4 418.4L110.8 416L103.2 413.6L95.6 411.2L88 408.8L80.4 406.4L81.4 404.2L89 406.9L96.6 409.6L104.1 412.2L111.7 414.9L119.3 417.5L126.9 420.2L134.5 422.9L142.1 425.5L149.7 428.2L157.3 430.8Z" fill="url(#g293)" stroke="url(#g293)" stroke-width="0.3"/>
<path d="M157.2 430.8L149.6 428.2L142 425.5L134.4 422.9L126.8 420.3L119.2 417.7L111.6 415L104 412.4L96.4 409.8L88.8 407.1L81.3 404.5" fill="none" stroke="url(#h293)" stroke-width="0.7"/>
<path d="M155.3 430.3L147.8 428L140.2 425.7L132.6 423.5L125 421.2L117.4 418.9L109.8 416.6L102.2 414.3L94.6 412L87 409.7L79.4 407.5L80.4 406.4L88 408.8L95.6 411.2L103.2 413.6L110.8 416L118.4 418.4L125.9 420.8L133.5 423.3L141.1 425.7L148.7 428.1L156.3 430.5Z" fill="url(#g294)" stroke="url(#g294)" stroke-width="0.3"/>
<path d="M154.4 430.2L146.8 427.8L139.2 425.4L131.6 423L124 420.7L116.4 418.3L108.8 415.9L101.2 413.5L93.6 411.1L86 408.7L78.4 406.4L79.4 407.5L87 409.7L94.6 412L102.2 414.3L109.8 416.6L117.4 418.9L125 421.2L132.6 423.5L140.2 425.7L147.8 428L155.3 430.3Z" fill="url(#g295)" stroke="url(#g295)" stroke-width="0.3"/>
<path d="M153.4 430.2L145.8 427.6L138.2 424.9L130.6 422.3L123 419.6L115.4 417L107.8 414.3L100.2 411.7L92.6 409L85 406.4L77.4 403.8L78.4 406.4L86 408.7L93.6 411.1L101.2 413.5L108.8 415.9L116.4 418.3L124 420.7L131.6 423L139.2 425.4L146.8 427.8L154.4 430.2Z" fill="url(#g296)" stroke="url(#g296)" stroke-width="0.3"/>
<path d="M153.4 430.2L157.3 430.8M152 429.8L155.9 430.4M150.6 429.3L154.5 429.9M149.2 428.8L153.2 429.4M147.9 428.3L151.8 428.9M146.5 427.8L150.4 428.4M145.1 427.3L149 427.9M143.7 426.9L147.6 427.5M142.3 426.4L146.3 427M141 425.9L144.9 426.5M139.6 425.4L143.5 426M138.2 424.9L142.1 425.5M136.8 424.5L140.7 425M135.4 424L139.4 424.6M134 423.5L138 424.1M132.7 423L136.6 423.6M131.3 422.5L135.2 423.1M129.9 422L133.8 422.6M128.5 421.6L132.5 422.1M127.1 421.1L131.1 421.7M125.8 420.6L129.7 421.2M124.4 420.1L128.3 420.7M123 419.6L126.9 420.2M121.6 419.2L125.5 419.7M120.2 418.7L124.2 419.2M118.9 418.2L122.8 418.8M117.5 417.7L121.4 418.3M116.1 417.2L120 417.8M114.7 416.8L118.6 417.3M113.3 416.3L117.3 416.8M112 415.8L115.9 416.3M110.6 415.3L114.5 415.8M109.2 414.8L113.1 415.4M107.8 414.3L111.7 414.9M106.4 413.9L110.4 414.4M105 413.4L109 413.9M103.7 412.9L107.6 413.4M102.3 412.4L106.2 412.9M100.9 411.9L104.8 412.5M99.5 411.5L103.5 412M98.1 411L102.1 411.5M96.8 410.5L100.7 411M95.4 410L99.3 410.5M94 409.5L97.9 410M92.6 409L96.6 409.6M91.2 408.6L95.2 409.1M89.9 408.1L93.8 408.6M88.5 407.6L92.4 408.1M87.1 407.1L91 407.6M85.7 406.6L89.6 407.1M84.3 406.2L88.3 406.7M83 405.7L86.9 406.2M81.6 405.2L85.5 405.7M80.2 404.7L84.1 405.2M78.8 404.2L82.7 404.7M77.4 403.8L81.4 404.2" fill="none" stroke="url(#h296)" stroke-width="0.5"/>
<path d="M154 430.2L146.4 427.7L138.8 425.2L131.2 422.8L123.6 420.3L116 417.8L108.4 415.4L100.8 412.9L93.2 410.4L85.7 408L78.1 405.5" fill="none" stroke="url(#h296)" stroke-width="0.7"/>
<path d="M152.4 430.7L144.8 427.8L137.2 424.9L129.6 422L122 419.1L114.4 416.2L106.8 413.3L99.2 410.4L91.6 407.4L84 404.5L76.4 401.6L77.4 403.8L85 406.4L92.6 409L100.2 411.7L107.8 414.3L115.4 417L123 419.6L130.6 422.3L138.2 424.9L145.8 427.6L153.4 430.2Z" fill="url(#g297)" stroke="url(#g297)" stroke-width="0.3"/>
<path d="M151.4 432.1L143.8 429L136.2 426L128.6 423L121 420L113.4 417L105.8 413.9L98.2 410.9L90.7 407.9L83.1 404.9L75.5 401.9L76.4 401.6L84 404.5L91.6 407.4L99.2 410.4L106.8 413.3L114.4 416.2L122 419.1L129.6 422L137.2 424.9L144.8 427.8L152.4 430.7Z" fill="url(#g298)" stroke="url(#g298)" stroke-width="0.3"/>
<path d="M150.4 434.2L142.8 431.2L135.2 428.2L127.6 425.2L120.1 422.2L112.5 419.2L104.9 416.2L97.3 413.2L89.7 410.2L82.1 407.2L74.5 404.2L75.5 401.9L83.1 404.9L90.7 407.9L98.2 410.9L105.8 413.9L113.4 417L121 420L128.6 423L136.2 426L143.8 429L151.4 432.1Z" fill="url(#g299)" stroke="url(#g299)" stroke-width="0.3"/>
<path d="M151.1 432.6L143.5 429.6L135.9 426.6L128.3 423.5L120.8 420.5L113.2 417.5L105.6 414.5L98 411.4L90.4 408.4L82.8 405.4L75.2 402.4" fill="none" stroke="url(#h299)" stroke-width="0.7"/>
<path d="M149.4 436.8L141.9 434L134.3 431.1L126.7 428.2L119.1 425.4L111.5 422.5L103.9 419.7L96.3 416.8L88.7 413.9L81.1 411.1L73.5 408.2L74.5 404.2L82.1 407.2L89.7 410.2L97.3 413.2L104.9 416.2L112.5 419.2L120.1 422.2L127.6 425.2L135.2 428.2L142.8 431.2L150.4 434.2Z" fill="url(#g300)" stroke="url(#g300)" stroke-width="0.3"/>
<path d="M149.4 436.8L153.4 430.2M148.1 436.3L152 429.8M146.7 435.8L150.6 429.3M145.3 435.3L149.2 428.8M143.9 434.7L147.9 428.3M142.5 434.2L146.5 427.8M141.2 433.7L145.1 427.3M139.8 433.2L143.7 426.9M138.4 432.7L142.3 426.4M137 432.1L141 425.9M135.6 431.6L139.6 425.4M134.3 431.1L138.2 424.9M132.9 430.6L136.8 424.5M131.5 430.1L135.4 424M130.1 429.5L134 423.5M128.7 429L132.7 423M127.4 428.5L131.3 422.5M126 428L129.9 422M124.6 427.5L128.5 421.6M123.2 426.9L127.1 421.1M121.8 426.4L125.8 420.6M120.5 425.9L124.4 420.1M119.1 425.4L123 419.6M117.7 424.9L121.6 419.2M116.3 424.3L120.2 418.7M114.9 423.8L118.9 418.2M113.5 423.3L117.5 417.7M112.2 422.8L116.1 417.2M110.8 422.3L114.7 416.8M109.4 421.7L113.3 416.3M108 421.2L112 415.8M106.6 420.7L110.6 415.3M105.3 420.2L109.2 414.8M103.9 419.7L107.8 414.3M102.5 419.1L106.4 413.9M101.1 418.6L105 413.4M99.7 418.1L103.7 412.9M98.4 417.6L102.3 412.4M97 417L100.9 411.9M95.6 416.5L99.5 411.5M94.2 416L98.1 411M92.8 415.5L96.8 410.5M91.5 415L95.4 410M90.1 414.4L94 409.5M88.7 413.9L92.6 409M87.3 413.4L91.2 408.6M85.9 412.9L89.9 408.1M84.5 412.4L88.5 407.6M83.2 411.8L87.1 407.1M81.8 411.3L85.7 406.6M80.4 410.8L84.3 406.2M79 410.3L83 405.7M77.6 409.8L81.6 405.2M76.3 409.2L80.2 404.7M74.9 408.7L78.8 404.2M73.5 408.2L77.4 403.8" fill="none" stroke="url(#h300)" stroke-width="0.5"/>
<path d="M149.4 436.8L141.9 434L134.3 431.1L126.7 428.2L119.1 425.4L111.5 422.5L103.9 419.7L96.3 416.8L88.7 413.9L81.1 411.1L73.5 408.2" fill="none" stroke="url(#h300)" stroke-width="0.7"/>
<g fill="#262626"><circle cx="121.9" cy="50.4" r="0.85"/><circle cx="121.9" cy="60.7" r="0.85"/><circle cx="141.4" cy="56.8" r="0.85"/><circle cx="141.9" cy="63.9" r="0.85"/><circle cx="154.7" cy="48.8" r="0.85"/><circle cx="161.9" cy="61.3" r="0.85"/><circle cx="161.9" cy="78.7" r="0.85"/><circle cx="116.3" cy="84.3" r="0.85"/><circle cx="129.1" cy="88.3" r="0.85"/><circle cx="129.3" cy="109.5" r="0.85"/><circle cx="180.4" cy="66.8" r="0.85"/><circle cx="174.4" cy="82.7" r="0.85"/><circle cx="176" cy="83.2" r="0.85"/><circle cx="172.5" cy="89.1" r="0.85"/><circle cx="180.8" cy="88.3" r="0.85"/><circle cx="197.5" cy="80.7" r="0.85"/><circle cx="183.2" cy="94.7" r="0.85"/><circle cx="187.5" cy="95" r="0.85"/><circle cx="197.2" cy="99.5" r="0.85"/><circle cx="202.8" cy="109.1" r="0.85"/><circle cx="220.2" cy="119.5" r="0.85"/><circle cx="215.9" cy="122.2" r="0.85"/><circle cx="208.4" cy="124.4" r="0.85"/><circle cx="191.1" cy="124.3" r="0.85"/><circle cx="110.8" cy="114.1" r="0.85"/><circle cx="123.9" cy="117.1" r="0.85"/><circle cx="112.4" cy="120.4" r="0.85"/><circle cx="136.7" cy="120.4" r="0.85"/><circle cx="119.6" cy="131.5" r="0.85"/><circle cx="143.9" cy="132.3" r="0.85"/><circle cx="153.8" cy="147.1" r="0.85"/><circle cx="145.5" cy="151.4" r="0.85"/><circle cx="106.3" cy="152.7" r="0.85"/><circle cx="85.6" cy="137" r="0.85"/><circle cx="87.7" cy="138.3" r="0.85"/><circle cx="146.7" cy="171.4" r="0.85"/><circle cx="233" cy="154" r="0.85"/><circle cx="392.8" cy="57.1" r="0.85"/><circle cx="397.9" cy="57.1" r="0.85"/><circle cx="412.3" cy="60" r="0.85"/><circle cx="421.9" cy="58.4" r="0.85"/><circle cx="423.5" cy="69.1" r="0.85"/><circle cx="421.9" cy="70.7" r="0.85"/><circle cx="401.4" cy="82.6" r="0.85"/><circle cx="400.3" cy="85.8" r="0.85"/><circle cx="424.7" cy="91.9" r="0.85"/><circle cx="425.8" cy="100.7" r="0.85"/><circle cx="379.9" cy="101.2" r="0.85"/><circle cx="433.1" cy="50.9" r="0.85"/><circle cx="440.8" cy="53.6" r="0.85"/><circle cx="453.5" cy="59.5" r="0.85"/><circle cx="452.3" cy="64.3" r="0.85"/><circle cx="465.5" cy="68.4" r="0.85"/><circle cx="452.7" cy="82.8" r="0.85"/><circle cx="462.3" cy="83.4" r="0.85"/><circle cx="472.7" cy="86.6" r="0.85"/><circle cx="469.5" cy="97.8" r="0.85"/><circle cx="465.2" cy="99.9" r="0.85"/><circle cx="438.4" cy="113.8" r="0.85"/><circle cx="447.5" cy="113.8" r="0.85"/><circle cx="497.4" cy="74.8" r="0.85"/><circle cx="511.9" cy="91.4" r="0.85"/><circle cx="503.4" cy="117" r="0.85"/><circle cx="427.7" cy="118.2" r="0.85"/><circle cx="362.6" cy="121.5" r="0.85"/><circle cx="375" cy="129.6" r="0.85"/><circle cx="435" cy="134.5" r="0.85"/><circle cx="421.4" cy="133.1" r="0.85"/><circle cx="405.4" cy="140.4" r="0.85"/><circle cx="420.5" cy="146.9" r="0.85"/><circle cx="139.7" cy="318.3" r="0.85"/><circle cx="144" cy="330.4" r="0.85"/><circle cx="137.3" cy="334" r="0.85"/><circle cx="130.1" cy="340" r="0.85"/><circle cx="149.3" cy="343.9" r="0.85"/><circle cx="110.4" cy="349.1" r="0.85"/><circle cx="115.7" cy="358.7" r="0.85"/><circle cx="114.4" cy="362.7" r="0.85"/><circle cx="96.9" cy="373.4" r="0.85"/><circle cx="110.3" cy="386.5" r="0.85"/><circle cx="156.2" cy="326.5" r="0.85"/><circle cx="160.6" cy="332.3" r="0.85"/><circle cx="166" cy="331.8" r="0.85"/><circle cx="179.1" cy="337.7" r="0.85"/><circle cx="189.3" cy="349.1" r="0.85"/><circle cx="196.6" cy="356.3" r="0.85"/><circle cx="202.4" cy="361.2" r="0.85"/><circle cx="211.9" cy="358.8" r="0.85"/><circle cx="222.3" cy="359.6" r="0.85"/><circle cx="207.3" cy="366.1" r="0.85"/><circle cx="208.6" cy="368.8" r="0.85"/><circle cx="226.1" cy="373.7" r="0.85"/><circle cx="231" cy="371.5" r="0.85"/><circle cx="200.7" cy="376.5" r="0.85"/><circle cx="215.5" cy="375.6" r="0.85"/><circle cx="225.3" cy="377.6" r="0.85"/><circle cx="220.4" cy="380.2" r="0.85"/><circle cx="199.4" cy="380.5" r="0.85"/><circle cx="171" cy="395.8" r="0.85"/><circle cx="154.6" cy="402.2" r="0.85"/><circle cx="85" cy="403.6" r="0.85"/><circle cx="165.5" cy="410.4" r="0.85"/><circle cx="97.7" cy="411.3" r="0.85"/><circle cx="146.3" cy="412.4" r="0.85"/><circle cx="152.8" cy="418.5" r="0.85"/><circle cx="100.1" cy="417.8" r="0.85"/><circle cx="129.2" cy="418.5" r="0.85"/><circle cx="163.7" cy="427.6" r="0.85"/><circle cx="130.5" cy="429.5" r="0.85"/></g>
<text x="2.5" y="15.5" font-size="13" text-anchor="start">(a)</text>
<text x="280.5" y="15.5" font-size="13" text-anchor="start">(b)</text>
<text x="3.5" y="272" font-size="13" text-anchor="start">(c)</text>
<text x="281.5" y="272" font-size="13" text-anchor="start">(d)</text>
<circle cx="201.8" cy="12.3" r="1.2" fill="#111"/>
<text x="212.6" y="16.5" font-size="11" text-anchor="start">Test set</text>
<circle cx="499.0" cy="11.5" r="1.2" fill="#111"/>
<text x="509.3" y="15.7" font-size="11" text-anchor="start">Test set</text>
<circle cx="203.3" cy="287.5" r="1.2" fill="#111"/>
<text x="213.6" y="291.7" font-size="11" text-anchor="start">Test set</text>
<text x="45.5" y="39" font-size="10.5">×<tspan dx="2.2">10</tspan><tspan dx="0.6" dy="-4.6" font-size="7.5">8</tspan></text>
<text x="328" y="29.5" font-size="10.5">×<tspan dx="2.2">10</tspan><tspan dx="0.6" dy="-4.6" font-size="7.5">8</tspan></text>
<text x="47" y="315.5" font-size="10.5">×<tspan dx="2.2">10</tspan><tspan dx="0.6" dy="-4.6" font-size="7.5">8</tspan></text>
<text x="66" y="140.7" font-size="10" text-anchor="end">4.5</text>
<text x="66" y="97.7" font-size="10" text-anchor="end">5</text>
<text x="66" y="54.8" font-size="10" text-anchor="end">5.5</text>
<text x="349.5" y="144.5" font-size="10" text-anchor="end">4</text>
<text x="349.5" y="111.1" font-size="10" text-anchor="end">4.5</text>
<text x="349.5" y="77.7" font-size="10" text-anchor="end">5</text>
<text x="349.5" y="44.3" font-size="10" text-anchor="end">5.5</text>
<text x="66.5" y="429.1" font-size="10" text-anchor="end">4</text>
<text x="66.5" y="396.2" font-size="10" text-anchor="end">4.5</text>
<text x="66.5" y="363.2" font-size="10" text-anchor="end">5</text>
<text x="66.5" y="330.3" font-size="10" text-anchor="end">5.5</text>
<text x="56.3" y="164.5" font-size="10" text-anchor="start">15</text>
<text x="81.7" y="179.8" font-size="10" text-anchor="start">10</text>
<text x="110.8" y="195.2" font-size="10" text-anchor="start">5</text>
<text x="135.9" y="210.1" font-size="10" text-anchor="start">0</text>
<text x="342.9" y="155.2" font-size="10" text-anchor="start">2</text>
<text x="381.8" y="178.6" font-size="10" text-anchor="start">1</text>
<text x="420" y="201.3" font-size="10" text-anchor="start">0</text>
<text x="53.4" y="439.6" font-size="10" text-anchor="start">0.1</text>
<text x="98.9" y="462.3" font-size="10" text-anchor="start">0</text>
<text x="122.5" y="486" font-size="10" text-anchor="start">−0.1</text>
<text x="153.2" y="211.3" font-size="10" text-anchor="start">0</text>
<text x="201.5" y="194.8" font-size="10" text-anchor="start">0.5</text>
<text x="250.9" y="176.9" font-size="10" text-anchor="start">1</text>
<text x="437.5" y="202" font-size="10" text-anchor="start">0</text>
<text x="487.7" y="184.5" font-size="10" text-anchor="start">0.5</text>
<text x="539" y="167.1" font-size="10" text-anchor="start">1</text>
<text x="154.3" y="485.3" font-size="10" text-anchor="start">0</text>
<text x="203.4" y="468.8" font-size="10" text-anchor="start">0.5</text>
<text x="254.2" y="451.4" font-size="10" text-anchor="start">1</text>
<text x="326.5" y="185" font-size="10.5">×<tspan dx="2.2">10</tspan><tspan dx="0.6" dy="-4.6" font-size="7.5">−5</tspan></text>
<text x="0" y="0" font-size="11" text-anchor="middle" dominant-baseline="central" transform="translate(31.5 101.7) rotate(-90)">Mesh stiffness  (N/m)</text>
<text x="0" y="0" font-size="11" text-anchor="middle" dominant-baseline="central" transform="translate(316.2 100.6) rotate(-90)">Mesh stiffness  (N/m)</text>
<text x="0" y="0" font-size="11" text-anchor="middle" dominant-baseline="central" transform="translate(35.6 370) rotate(-90)">Mesh stiffness  (N/m)</text>
<text x="0" y="0" font-size="11" text-anchor="middle" dominant-baseline="central" transform="translate(75.5 200.8) rotate(31.2)">Mesh force (<tspan font-style="italic">kN</tspan>)</text>
<text x="0" y="0" font-size="11" text-anchor="middle" dominant-baseline="central" transform="translate(208 211.5) rotate(-19.5)">Mesh cycle</text>
<text x="0" y="0" font-size="11" text-anchor="middle" dominant-baseline="central" transform="translate(496.5 201.6) rotate(-19.3)">Mesh cycle</text>
<text x="0" y="0" font-size="11" text-anchor="middle" dominant-baseline="central" transform="translate(215.5 486) rotate(-19.3)">Mesh cycle</text>
<text x="0" y="0" font-size="11" text-anchor="middle" dominant-baseline="central" transform="translate(378 210.3) rotate(30.8)">Misalignment</text>
<text x="0" y="0" font-size="11" text-anchor="middle" dominant-baseline="central" transform="translate(369.7 222.2) rotate(30.8)">angle (rad)</text>
<text x="0" y="0" font-size="11" text-anchor="middle" dominant-baseline="central" transform="translate(81.3 477.4) rotate(30.8)"><tspan font-style="italic">Δ</tspan>a  (mm)</text>
<rect x="377" y="333.9" width="25" height="111.4" fill="#fdcb4b"/>
<rect x="408.3" y="352" width="25.5" height="93.3" fill="#fdcb4b"/>
<rect x="440" y="330.1" width="25.2" height="115.2" fill="#fdcb4b"/>
<rect x="471.9" y="338" width="24.9" height="107.3" fill="#fdcb4b"/>
<rect x="377" y="373.1" width="25" height="72.2" fill="#fe3f14"/>
<rect x="408.3" y="373.1" width="25.5" height="72.2" fill="#fe3f14"/>
<rect x="440" y="373.1" width="25.2" height="72.2" fill="#fe3f14"/>
<rect x="471.9" y="373.1" width="24.9" height="72.2" fill="#fe3f14"/>
<line x1="351.6" y1="301" x2="522.2" y2="301" stroke="#8a8a8a" stroke-width="0.9"/>
<line x1="351.6" y1="445.3" x2="522.2" y2="445.3" stroke="#8a8a8a" stroke-width="0.9"/>
<line x1="351.6" y1="301" x2="351.6" y2="445.3" stroke="#8a8a8a" stroke-width="0.9"/>
<line x1="522.2" y1="301" x2="522.2" y2="445.3" stroke="#8a8a8a" stroke-width="0.9"/>
<line x1="389.5" y1="301" x2="389.5" y2="302.8" stroke="#8a8a8a" stroke-width="0.7"/>
<line x1="421.1" y1="301" x2="421.1" y2="302.8" stroke="#8a8a8a" stroke-width="0.7"/>
<line x1="452.6" y1="301" x2="452.6" y2="302.8" stroke="#8a8a8a" stroke-width="0.7"/>
<line x1="484.4" y1="301" x2="484.4" y2="302.8" stroke="#8a8a8a" stroke-width="0.7"/>
<line x1="351.6" y1="445.3" x2="353.4" y2="445.3" stroke="#8a8a8a" stroke-width="0.7"/>
<line x1="351.6" y1="365.1" x2="353.4" y2="365.1" stroke="#8a8a8a" stroke-width="0.7"/>
<line x1="522.2" y1="445.3" x2="520.4" y2="445.3" stroke="#8a8a8a" stroke-width="0.7"/>
<line x1="522.2" y1="373.1" x2="520.4" y2="373.1" stroke="#8a8a8a" stroke-width="0.7"/>
<text x="350" y="449.5" font-size="10" text-anchor="end">0</text>
<text x="350" y="370.5" font-size="10" text-anchor="end">5</text>
<text x="526.5" y="449.5" font-size="10" text-anchor="start">0</text>
<text x="526.5" y="377.2" font-size="10" text-anchor="start">1</text>
<text x="352" y="298.5" font-size="10.5">×<tspan dx="2.2">10</tspan><tspan dx="0.6" dy="-4.6" font-size="7.5">5</tspan></text>
<text x="0" y="0" font-size="11" text-anchor="middle" dominant-baseline="central" transform="translate(330.4 375.5) rotate(-90)">RMSE</text>
<text x="0" y="0" font-size="11" text-anchor="middle" dominant-baseline="central" transform="translate(544 380.6) rotate(-90)">R<tspan dy="-4" font-size="7">2</tspan></text>
<rect x="397.3" y="274.7" width="17.8" height="10.1" fill="#fdcb4b"/>
<text x="430" y="284.3" font-size="11" text-anchor="start">RMSE</text>
<rect x="485.0" y="274.8" width="17.7" height="10.0" fill="#fb4646"/>
<text x="511.2" y="283.4" font-size="11">R<tspan dy="-4.5" font-size="7">2</tspan></text>
<text x="0" y="0" font-size="10.8" text-anchor="middle" transform="translate(367.3 475.9) rotate(-29)">Mesh force</text>
<text x="0" y="0" font-size="10.8" text-anchor="middle" transform="translate(397.3 474.6) rotate(-29)">Center distance</text>
<text x="0" y="0" font-size="10.8" text-anchor="middle" transform="translate(404.1 486.8) rotate(-29)">variation</text>
<text x="0" y="0" font-size="10.8" text-anchor="middle" transform="translate(447.2 470.4) rotate(-29)">Angle</text>
<text x="0" y="0" font-size="10.8" text-anchor="middle" transform="translate(453.3 481.7) rotate(-29)">misalignment</text>
<text x="0" y="0" font-size="10.8" text-anchor="middle" transform="translate(493.5 475.3) rotate(-29)">Total</text></svg>
</body></html>
